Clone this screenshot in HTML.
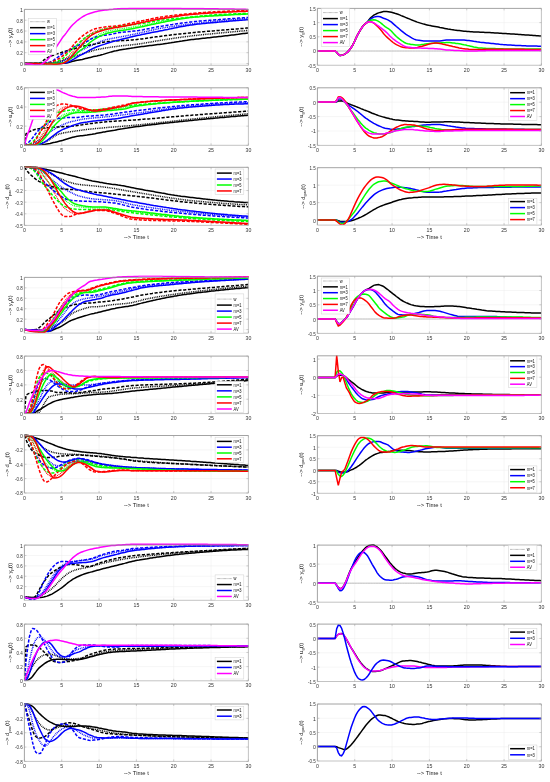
<!DOCTYPE html>
<html><head><meta charset="utf-8"><style>
html,body{margin:0;padding:0;background:#fff;width:550px;height:782px;overflow:hidden}
svg{display:block}
.gr{stroke:#ececec;stroke-width:0.5}
.bx{fill:none;stroke-width:0.8}
.tk{stroke:#a0a0a0;stroke-width:0.5}
.tl{font-family:"Liberation Sans", sans-serif;font-size:5.2px;fill:#333}
.yl{font-family:"Liberation Sans", sans-serif;font-size:5.9px;fill:#222}
.lg{fill:#fff;stroke:#d0d0d0;stroke-width:0.5}
.lt{font-family:"Liberation Sans", sans-serif;font-size:4.7px;fill:#111}
</style></head><body>
<svg width="550" height="782" viewBox="0 0 550 782">
<defs><clipPath id="c_G1L1"><rect x="24.40" y="7.40" width="224.00" height="57.90"/></clipPath><clipPath id="c_G1L2"><rect x="24.40" y="85.80" width="224.00" height="59.50"/></clipPath><clipPath id="c_G1L3"><rect x="24.40" y="165.30" width="224.00" height="60.10"/></clipPath><clipPath id="c_G1R1"><rect x="317.40" y="6.40" width="224.00" height="58.85"/></clipPath><clipPath id="c_G1R2"><rect x="317.40" y="85.80" width="224.00" height="59.60"/></clipPath><clipPath id="c_G1R3"><rect x="317.40" y="165.70" width="224.00" height="59.40"/></clipPath><clipPath id="c_G2L1"><rect x="24.40" y="275.40" width="224.00" height="57.70"/></clipPath><clipPath id="c_G2L2"><rect x="24.40" y="354.10" width="224.00" height="59.50"/></clipPath><clipPath id="c_G2L3"><rect x="24.40" y="433.50" width="224.00" height="59.50"/></clipPath><clipPath id="c_G2R1"><rect x="317.40" y="274.20" width="224.00" height="59.20"/></clipPath><clipPath id="c_G2R2"><rect x="317.40" y="353.80" width="224.00" height="59.70"/></clipPath><clipPath id="c_G2R3"><rect x="317.40" y="433.70" width="224.00" height="59.60"/></clipPath><clipPath id="c_G3L1"><rect x="24.40" y="543.10" width="224.00" height="57.20"/></clipPath><clipPath id="c_G3L2"><rect x="24.40" y="622.10" width="224.00" height="58.70"/></clipPath><clipPath id="c_G3L3"><rect x="24.40" y="702.00" width="224.00" height="59.40"/></clipPath><clipPath id="c_G3R1"><rect x="317.40" y="543.10" width="224.00" height="59.10"/></clipPath><clipPath id="c_G3R2"><rect x="317.40" y="622.10" width="224.00" height="59.40"/></clipPath><clipPath id="c_G3R3"><rect x="317.40" y="702.00" width="224.00" height="59.00"/></clipPath></defs>
<line x1="61.73" y1="9.40" x2="61.73" y2="65.30" class="gr"/>
<line x1="99.07" y1="9.40" x2="99.07" y2="65.30" class="gr"/>
<line x1="136.40" y1="9.40" x2="136.40" y2="65.30" class="gr"/>
<line x1="173.73" y1="9.40" x2="173.73" y2="65.30" class="gr"/>
<line x1="211.07" y1="9.40" x2="211.07" y2="65.30" class="gr"/>
<line x1="24.40" y1="63.50" x2="248.40" y2="63.50" class="gr"/>
<line x1="24.40" y1="52.68" x2="248.40" y2="52.68" class="gr"/>
<line x1="24.40" y1="41.86" x2="248.40" y2="41.86" class="gr"/>
<line x1="24.40" y1="31.04" x2="248.40" y2="31.04" class="gr"/>
<line x1="24.40" y1="20.22" x2="248.40" y2="20.22" class="gr"/>
<g clip-path="url(#c_G1L1)">
<polyline points="24.4,63.5 26.0,63.5 27.6,63.5 29.2,63.5 30.8,63.5 32.4,63.5 34.1,63.5 35.7,63.5 37.3,63.5 38.9,63.5 40.5,63.5 42.1,63.5 43.7,63.5 45.3,63.5 46.9,63.4 48.5,63.4 50.1,63.3 51.7,63.2 53.4,63.0 55.0,62.9 56.6,62.6 58.2,62.4 59.8,62.0 61.4,61.6 63.0,61.0 64.6,60.1 66.2,58.9 67.8,57.7 69.4,56.5 71.1,55.2 72.7,53.8 74.3,52.4 75.9,51.0 77.5,49.5 79.1,48.0 80.7,46.7 82.3,45.4 83.9,44.1 85.5,42.9 87.1,41.7 88.7,40.4 90.4,39.3 92.0,38.2 93.6,37.2 95.2,36.3 96.8,35.4 98.4,34.6 100.0,33.9 101.6,33.2 103.2,32.6 104.8,32.1 106.4,31.6 108.0,31.2 109.7,30.8 111.3,30.4 112.9,30.1 114.5,29.8 116.1,29.5 117.7,29.2 119.3,29.0 120.9,28.8 122.5,28.6 124.1,28.3 125.7,28.1 127.4,27.9 129.0,27.6 130.6,27.4 132.2,27.2 133.8,26.9 135.4,26.7 137.0,26.4 138.6,26.1 140.2,25.8 141.8,25.5 143.4,25.2 145.0,24.8 146.7,24.5 148.3,24.2 149.9,23.8 151.5,23.5 153.1,23.2 154.7,22.8 156.3,22.5 157.9,22.2 159.5,21.9 161.1,21.6 162.7,21.3 164.4,21.1 166.0,20.8 167.6,20.5 169.2,20.3 170.8,20.0 172.4,19.8 174.0,19.5 175.6,19.3 177.2,19.0 178.8,18.8 180.4,18.6 182.0,18.3 183.7,18.1 185.3,17.9 186.9,17.7 188.5,17.6 190.1,17.4 191.7,17.2 193.3,17.1 194.9,16.9 196.5,16.8 198.1,16.6 199.7,16.5 201.3,16.4 203.0,16.3 204.6,16.1 206.2,16.0 207.8,15.9 209.4,15.8 211.0,15.7 212.6,15.6 214.2,15.4 215.8,15.3 217.4,15.2 219.0,15.2 220.7,15.1 222.3,15.0 223.9,14.9 225.5,14.8 227.1,14.7 228.7,14.6 230.3,14.5 231.9,14.5 233.5,14.4 235.1,14.3 236.7,14.2 238.3,14.2 240.0,14.1 241.6,14.0 243.2,14.0 244.8,13.9 246.4,13.9 248.0,13.8" fill="none" stroke="#00ff00" stroke-width="1.20" stroke-dasharray="0.9,0.9"/>
<polyline points="24.4,63.5 26.0,63.5 27.6,63.5 29.2,63.5 30.8,63.5 32.4,63.5 34.1,63.5 35.7,63.6 37.3,63.6 38.9,63.6 40.5,63.6 42.1,63.6 43.7,63.6 45.3,63.6 46.9,63.5 48.5,63.5 50.1,63.4 51.7,63.3 53.4,63.0 55.0,62.7 56.6,62.4 58.2,62.0 59.8,61.6 61.4,61.0 63.0,60.2 64.6,59.2 66.2,58.0 67.8,56.7 69.4,55.2 71.1,53.4 72.7,51.6 74.3,49.6 75.9,47.7 77.5,45.9 79.1,44.2 80.7,42.5 82.3,41.0 83.9,39.4 85.5,37.8 87.1,36.4 88.7,35.1 90.4,33.9 92.0,32.9 93.6,32.1 95.2,31.4 96.8,30.8 98.4,30.3 100.0,29.8 101.6,29.4 103.2,29.0 104.8,28.6 106.4,28.3 108.0,28.0 109.7,27.8 111.3,27.5 112.9,27.3 114.5,27.1 116.1,26.9 117.7,26.7 119.3,26.4 120.9,26.2 122.5,25.9 124.1,25.6 125.7,25.3 127.4,25.0 129.0,24.6 130.6,24.3 132.2,23.9 133.8,23.5 135.4,23.2 137.0,22.9 138.6,22.5 140.2,22.2 141.8,21.8 143.4,21.5 145.0,21.1 146.7,20.8 148.3,20.5 149.9,20.1 151.5,19.8 153.1,19.5 154.7,19.2 156.3,18.9 157.9,18.6 159.5,18.3 161.1,18.0 162.7,17.8 164.4,17.5 166.0,17.3 167.6,17.0 169.2,16.8 170.8,16.6 172.4,16.3 174.0,16.1 175.6,15.9 177.2,15.7 178.8,15.4 180.4,15.2 182.0,15.0 183.7,14.9 185.3,14.7 186.9,14.5 188.5,14.3 190.1,14.2 191.7,14.0 193.3,13.9 194.9,13.8 196.5,13.6 198.1,13.5 199.7,13.4 201.3,13.3 203.0,13.1 204.6,13.0 206.2,12.9 207.8,12.8 209.4,12.7 211.0,12.6 212.6,12.5 214.2,12.4 215.8,12.3 217.4,12.2 219.0,12.1 220.7,12.1 222.3,12.0 223.9,11.9 225.5,11.8 227.1,11.8 228.7,11.7 230.3,11.6 231.9,11.5 233.5,11.5 235.1,11.4 236.7,11.3 238.3,11.3 240.0,11.2 241.6,11.2 243.2,11.1 244.8,11.1 246.4,11.0 248.0,11.0" fill="none" stroke="#ff0000" stroke-width="1.20" stroke-dasharray="0.9,0.9"/>
<polyline points="24.4,63.5 26.0,63.5 27.6,63.5 29.2,63.5 30.8,63.5 32.4,63.5 34.1,63.5 35.7,63.5 37.3,63.5 38.9,63.5 40.5,63.5 42.1,63.5 43.7,63.5 45.3,63.5 46.9,63.4 48.5,63.3 50.1,63.2 51.7,63.0 53.4,62.7 55.0,62.5 56.6,62.2 58.2,61.9 59.8,61.4 61.4,60.9 63.0,60.4 64.6,59.8 66.2,59.3 67.8,58.7 69.4,58.2 71.1,57.7 72.7,57.1 74.3,56.6 75.9,56.0 77.5,55.5 79.1,54.9 80.7,54.4 82.3,53.8 83.9,53.3 85.5,52.8 87.1,52.4 88.7,51.9 90.4,51.4 92.0,51.0 93.6,50.5 95.2,50.1 96.8,49.7 98.4,49.3 100.0,49.0 101.6,48.7 103.2,48.4 104.8,48.1 106.4,47.9 108.0,47.6 109.7,47.4 111.3,47.1 112.9,46.9 114.5,46.7 116.1,46.5 117.7,46.3 119.3,46.1 120.9,45.9 122.5,45.7 124.1,45.6 125.7,45.4 127.4,45.3 129.0,45.1 130.6,45.0 132.2,44.8 133.8,44.6 135.4,44.5 137.0,44.2 138.6,44.0 140.2,43.8 141.8,43.5 143.4,43.3 145.0,43.0 146.7,42.7 148.3,42.4 149.9,42.2 151.5,41.9 153.1,41.6 154.7,41.3 156.3,41.0 157.9,40.7 159.5,40.5 161.1,40.2 162.7,40.0 164.4,39.7 166.0,39.5 167.6,39.2 169.2,39.0 170.8,38.8 172.4,38.5 174.0,38.3 175.6,38.0 177.2,37.8 178.8,37.6 180.4,37.4 182.0,37.1 183.7,36.9 185.3,36.7 186.9,36.5 188.5,36.3 190.1,36.1 191.7,35.9 193.3,35.7 194.9,35.5 196.5,35.4 198.1,35.2 199.7,35.0 201.3,34.8 203.0,34.7 204.6,34.5 206.2,34.3 207.8,34.2 209.4,34.0 211.0,33.9 212.6,33.7 214.2,33.6 215.8,33.4 217.4,33.2 219.0,33.1 220.7,32.9 222.3,32.8 223.9,32.6 225.5,32.5 227.1,32.3 228.7,32.2 230.3,32.0 231.9,31.9 233.5,31.7 235.1,31.6 236.7,31.5 238.3,31.3 240.0,31.2 241.6,31.0 243.2,30.9 244.8,30.8 246.4,30.6 248.0,30.5" fill="none" stroke="#000000" stroke-width="1.50" stroke-dasharray="0.9,0.9"/>
<polyline points="24.4,63.5 26.0,63.5 27.6,63.5 29.2,63.5 30.8,63.5 32.4,63.5 34.1,63.5 35.7,63.5 37.3,63.5 38.9,63.5 40.5,63.5 42.1,63.5 43.7,63.5 45.3,63.5 46.9,63.5 48.5,63.5 50.1,63.5 51.7,63.4 53.4,63.3 55.0,63.0 56.6,62.8 58.2,62.5 59.8,62.1 61.4,61.5 63.0,60.9 64.6,60.2 66.2,59.4 67.8,58.6 69.4,57.6 71.1,56.6 72.7,55.6 74.3,54.5 75.9,53.4 77.5,52.4 79.1,51.5 80.7,50.6 82.3,49.8 83.9,49.0 85.5,48.2 87.1,47.5 88.7,46.7 90.4,46.0 92.0,45.3 93.6,44.6 95.2,43.9 96.8,43.2 98.4,42.5 100.0,41.8 101.6,41.1 103.2,40.6 104.8,40.0 106.4,39.6 108.0,39.2 109.7,38.9 111.3,38.6 112.9,38.3 114.5,38.0 116.1,37.7 117.7,37.4 119.3,37.1 120.9,36.8 122.5,36.5 124.1,36.2 125.7,35.9 127.4,35.5 129.0,35.2 130.6,34.9 132.2,34.6 133.8,34.3 135.4,33.9 137.0,33.6 138.6,33.2 140.2,32.9 141.8,32.5 143.4,32.1 145.0,31.7 146.7,31.4 148.3,31.0 149.9,30.6 151.5,30.2 153.1,29.9 154.7,29.5 156.3,29.2 157.9,28.9 159.5,28.5 161.1,28.2 162.7,28.0 164.4,27.7 166.0,27.4 167.6,27.2 169.2,26.9 170.8,26.7 172.4,26.4 174.0,26.2 175.6,26.0 177.2,25.7 178.8,25.5 180.4,25.3 182.0,25.1 183.7,24.9 185.3,24.7 186.9,24.5 188.5,24.3 190.1,24.1 191.7,23.9 193.3,23.7 194.9,23.5 196.5,23.4 198.1,23.2 199.7,23.0 201.3,22.8 203.0,22.6 204.6,22.5 206.2,22.3 207.8,22.1 209.4,21.9 211.0,21.8 212.6,21.6 214.2,21.4 215.8,21.3 217.4,21.1 219.0,20.9 220.7,20.8 222.3,20.6 223.9,20.5 225.5,20.3 227.1,20.2 228.7,20.0 230.3,19.9 231.9,19.7 233.5,19.6 235.1,19.5 236.7,19.3 238.3,19.2 240.0,19.1 241.6,19.0 243.2,18.8 244.8,18.7 246.4,18.6 248.0,18.5" fill="none" stroke="#0000ff" stroke-width="1.50" stroke-dasharray="0.9,0.9"/>
<polyline points="24.4,63.5 26.0,63.5 27.6,63.5 29.2,63.5 30.8,63.4 32.4,63.4 34.1,63.3 35.7,63.3 37.3,63.2 38.9,63.1 40.5,62.9 42.1,61.7 43.7,60.2 45.3,59.1 46.9,58.1 48.5,57.2 50.1,56.5 51.7,55.8 53.4,55.2 55.0,54.7 56.6,54.1 58.2,53.6 59.8,53.1 61.4,52.5 63.0,52.0 64.6,51.5 66.2,51.0 67.8,50.6 69.4,50.1 71.1,49.6 72.7,49.2 74.3,48.7 75.9,48.2 77.5,47.7 79.1,47.3 80.7,46.8 82.3,46.4 83.9,46.1 85.5,45.8 87.1,45.5 88.7,45.2 90.4,44.9 92.0,44.6 93.6,44.3 95.2,44.0 96.8,43.6 98.4,43.3 100.0,42.9 101.6,42.6 103.2,42.3 104.8,42.0 106.4,41.8 108.0,41.6 109.7,41.5 111.3,41.3 112.9,41.2 114.5,41.0 116.1,40.9 117.7,40.8 119.3,40.8 120.9,40.7 122.5,40.6 124.1,40.6 125.7,40.5 127.4,40.3 129.0,40.2 130.6,40.1 132.2,40.0 133.8,39.8 135.4,39.7 137.0,39.5 138.6,39.3 140.2,39.1 141.8,38.9 143.4,38.7 145.0,38.5 146.7,38.2 148.3,38.0 149.9,37.8 151.5,37.5 153.1,37.3 154.7,37.1 156.3,36.8 157.9,36.6 159.5,36.4 161.1,36.2 162.7,36.0 164.4,35.8 166.0,35.6 167.6,35.4 169.2,35.2 170.8,35.0 172.4,34.8 174.0,34.6 175.6,34.4 177.2,34.3 178.8,34.1 180.4,33.9 182.0,33.7 183.7,33.6 185.3,33.4 186.9,33.2 188.5,33.1 190.1,32.9 191.7,32.7 193.3,32.6 194.9,32.4 196.5,32.3 198.1,32.1 199.7,32.0 201.3,31.9 203.0,31.7 204.6,31.6 206.2,31.4 207.8,31.3 209.4,31.2 211.0,31.0 212.6,30.9 214.2,30.8 215.8,30.6 217.4,30.5 219.0,30.4 220.7,30.2 222.3,30.1 223.9,30.0 225.5,29.8 227.1,29.7 228.7,29.6 230.3,29.4 231.9,29.3 233.5,29.2 235.1,29.0 236.7,28.9 238.3,28.8 240.0,28.6 241.6,28.5 243.2,28.4 244.8,28.3 246.4,28.1 248.0,28.0" fill="none" stroke="#000000" stroke-width="1.50" stroke-dasharray="3.2,1.6"/>
<polyline points="24.4,63.5 26.0,63.5 27.6,63.5 29.2,63.5 30.8,63.5 32.4,63.5 34.1,63.5 35.7,63.5 37.3,63.5 38.9,63.5 40.5,63.5 42.1,63.5 43.7,63.4 45.3,63.2 46.9,62.8 48.5,62.4 50.1,62.0 51.7,61.3 53.4,60.3 55.0,59.2 56.6,58.1 58.2,56.9 59.8,55.6 61.4,54.4 63.0,53.4 64.6,52.7 66.2,51.9 67.8,51.0 69.4,49.9 71.1,48.7 72.7,47.7 74.3,46.9 75.9,46.2 77.5,45.6 79.1,45.0 80.7,44.3 82.3,43.7 83.9,43.0 85.5,42.2 87.1,41.3 88.7,40.3 90.4,39.3 92.0,38.5 93.6,37.9 95.2,37.3 96.8,36.8 98.4,36.4 100.0,36.0 101.6,35.7 103.2,35.4 104.8,35.2 106.4,35.0 108.0,34.8 109.7,34.6 111.3,34.3 112.9,33.9 114.5,33.6 116.1,33.2 117.7,32.9 119.3,32.6 120.9,32.4 122.5,32.2 124.1,32.0 125.7,31.9 127.4,31.7 129.0,31.6 130.6,31.5 132.2,31.3 133.8,31.1 135.4,30.9 137.0,30.7 138.6,30.5 140.2,30.2 141.8,29.9 143.4,29.7 145.0,29.3 146.7,29.0 148.3,28.7 149.9,28.4 151.5,28.1 153.1,27.7 154.7,27.4 156.3,27.1 157.9,26.8 159.5,26.5 161.1,26.2 162.7,26.0 164.4,25.7 166.0,25.5 167.6,25.2 169.2,25.0 170.8,24.7 172.4,24.5 174.0,24.2 175.6,24.0 177.2,23.7 178.8,23.5 180.4,23.3 182.0,23.1 183.7,22.9 185.3,22.7 186.9,22.5 188.5,22.3 190.1,22.1 191.7,21.9 193.3,21.8 194.9,21.6 196.5,21.4 198.1,21.3 199.7,21.1 201.3,21.0 203.0,20.9 204.6,20.7 206.2,20.6 207.8,20.5 209.4,20.3 211.0,20.2 212.6,20.1 214.2,19.9 215.8,19.8 217.4,19.7 219.0,19.6 220.7,19.4 222.3,19.3 223.9,19.2 225.5,19.1 227.1,19.0 228.7,18.8 230.3,18.7 231.9,18.6 233.5,18.5 235.1,18.4 236.7,18.3 238.3,18.1 240.0,18.0 241.6,17.9 243.2,17.8 244.8,17.7 246.4,17.6 248.0,17.5" fill="none" stroke="#0000ff" stroke-width="1.50" stroke-dasharray="3.2,1.6"/>
<polyline points="24.4,63.5 26.0,63.5 27.6,63.5 29.2,63.5 30.8,63.5 32.4,63.5 34.1,63.5 35.7,63.5 37.3,63.5 38.9,63.5 40.5,63.5 42.1,63.5 43.7,63.5 45.3,63.5 46.9,63.4 48.5,63.2 50.1,62.9 51.7,62.7 53.4,62.3 55.0,62.0 56.6,61.6 58.2,61.0 59.8,60.2 61.4,59.4 63.0,58.3 64.6,56.7 66.2,54.9 67.8,53.2 69.4,51.7 71.1,50.2 72.7,48.8 74.3,47.4 75.9,45.9 77.5,44.5 79.1,43.0 80.7,41.4 82.3,39.9 83.9,38.6 85.5,37.5 87.1,36.5 88.7,35.7 90.4,34.8 92.0,33.9 93.6,33.1 95.2,32.3 96.8,31.7 98.4,31.1 100.0,30.5 101.6,30.0 103.2,29.5 104.8,29.0 106.4,28.7 108.0,28.3 109.7,28.0 111.3,27.7 112.9,27.4 114.5,27.1 116.1,26.8 117.7,26.5 119.3,26.3 120.9,26.0 122.5,25.8 124.1,25.6 125.7,25.4 127.4,25.2 129.0,25.1 130.6,24.9 132.2,24.8 133.8,24.6 135.4,24.5 137.0,24.2 138.6,24.0 140.2,23.8 141.8,23.5 143.4,23.2 145.0,23.0 146.7,22.7 148.3,22.4 149.9,22.1 151.5,21.8 153.1,21.5 154.7,21.2 156.3,20.9 157.9,20.7 159.5,20.4 161.1,20.2 162.7,20.0 164.4,19.8 166.0,19.6 167.6,19.4 169.2,19.2 170.8,19.0 172.4,18.8 174.0,18.7 175.6,18.5 177.2,18.3 178.8,18.2 180.4,18.0 182.0,17.9 183.7,17.7 185.3,17.5 186.9,17.4 188.5,17.2 190.1,17.1 191.7,16.9 193.3,16.8 194.9,16.6 196.5,16.5 198.1,16.3 199.7,16.1 201.3,16.0 203.0,15.8 204.6,15.7 206.2,15.5 207.8,15.4 209.4,15.2 211.0,15.1 212.6,15.0 214.2,14.9 215.8,14.7 217.4,14.6 219.0,14.6 220.7,14.5 222.3,14.4 223.9,14.3 225.5,14.2 227.1,14.2 228.7,14.1 230.3,14.0 231.9,13.9 233.5,13.9 235.1,13.8 236.7,13.8 238.3,13.7 240.0,13.7 241.6,13.6 243.2,13.6 244.8,13.5 246.4,13.5 248.0,13.5" fill="none" stroke="#00ff00" stroke-width="1.50" stroke-dasharray="3.2,1.6"/>
<polyline points="24.4,63.5 26.0,63.5 27.6,63.5 29.2,63.5 30.8,63.5 32.4,63.5 34.1,63.5 35.7,63.5 37.3,63.5 38.9,63.5 40.5,63.5 42.1,63.4 43.7,63.3 45.3,63.2 46.9,63.0 48.5,62.7 50.1,62.5 51.7,62.0 53.4,61.3 55.0,60.5 56.6,59.8 58.2,59.0 59.8,58.1 61.4,57.0 63.0,55.7 64.6,54.3 66.2,52.8 67.8,51.3 69.4,49.7 71.1,47.9 72.7,46.0 74.3,44.0 75.9,42.1 77.5,40.5 79.1,38.9 80.7,37.5 82.3,36.1 83.9,34.9 85.5,33.8 87.1,32.7 88.7,31.7 90.4,30.8 92.0,29.9 93.6,29.3 95.2,28.8 96.8,28.4 98.4,28.0 100.0,27.7 101.6,27.4 103.2,27.2 104.8,27.0 106.4,26.8 108.0,26.6 109.7,26.4 111.3,26.3 112.9,26.2 114.5,26.1 116.1,25.9 117.7,25.7 119.3,25.4 120.9,25.2 122.5,24.9 124.1,24.6 125.7,24.3 127.4,24.0 129.0,23.6 130.6,23.2 132.2,22.9 133.8,22.5 135.4,22.1 137.0,21.8 138.6,21.4 140.2,21.1 141.8,20.7 143.4,20.4 145.0,20.0 146.7,19.7 148.3,19.4 149.9,19.0 151.5,18.7 153.1,18.4 154.7,18.1 156.3,17.8 157.9,17.5 159.5,17.3 161.1,17.0 162.7,16.8 164.4,16.5 166.0,16.3 167.6,16.1 169.2,15.9 170.8,15.7 172.4,15.5 174.0,15.3 175.6,15.1 177.2,14.9 178.8,14.7 180.4,14.5 182.0,14.4 183.7,14.2 185.3,14.0 186.9,13.9 188.5,13.7 190.1,13.6 191.7,13.4 193.3,13.3 194.9,13.2 196.5,13.0 198.1,12.9 199.7,12.8 201.3,12.7 203.0,12.5 204.6,12.4 206.2,12.3 207.8,12.2 209.4,12.1 211.0,12.0 212.6,11.9 214.2,11.8 215.8,11.7 217.4,11.6 219.0,11.5 220.7,11.5 222.3,11.4 223.9,11.3 225.5,11.3 227.1,11.2 228.7,11.1 230.3,11.0 231.9,11.0 233.5,10.9 235.1,10.9 236.7,10.8 238.3,10.8 240.0,10.7 241.6,10.7 243.2,10.6 244.8,10.6 246.4,10.5 248.0,10.5" fill="none" stroke="#ff0000" stroke-width="1.50" stroke-dasharray="3.2,1.6"/>
<polyline points="24.4,63.5 26.0,63.5 27.6,63.5 29.2,63.5 30.8,63.5 32.4,63.5 34.1,63.5 35.7,63.5 37.3,63.5 38.9,63.5 40.5,63.5 42.1,63.5 43.7,63.5 45.3,63.5 46.9,63.5 48.5,63.5 50.1,63.5 51.7,63.5 53.4,63.5 55.0,63.5 56.6,63.5 58.2,63.4 59.8,63.4 61.4,63.4 63.0,63.3 64.6,63.3 66.2,63.1 67.8,62.7 69.4,62.3 71.1,61.8 72.7,61.3 74.3,60.9 75.9,60.6 77.5,60.3 79.1,60.0 80.7,59.7 82.3,59.4 83.9,59.0 85.5,58.6 87.1,58.2 88.7,57.8 90.4,57.4 92.0,57.0 93.6,56.6 95.2,56.3 96.8,56.0 98.4,55.6 100.0,55.3 101.6,54.8 103.2,54.4 104.8,53.9 106.4,53.4 108.0,52.9 109.7,52.4 111.3,51.9 112.9,51.5 114.5,51.1 116.1,50.8 117.7,50.4 119.3,50.1 120.9,49.8 122.5,49.5 124.1,49.2 125.7,49.0 127.4,48.7 129.0,48.4 130.6,48.2 132.2,47.9 133.8,47.7 135.4,47.4 137.0,47.2 138.6,47.0 140.2,46.8 141.8,46.6 143.4,46.4 145.0,46.2 146.7,46.0 148.3,45.8 149.9,45.6 151.5,45.4 153.1,45.2 154.7,45.0 156.3,44.8 157.9,44.6 159.5,44.4 161.1,44.2 162.7,44.0 164.4,43.7 166.0,43.5 167.6,43.3 169.2,43.0 170.8,42.8 172.4,42.5 174.0,42.3 175.6,42.0 177.2,41.7 178.8,41.5 180.4,41.2 182.0,41.0 183.7,40.7 185.3,40.5 186.9,40.3 188.5,40.0 190.1,39.8 191.7,39.6 193.3,39.4 194.9,39.2 196.5,39.0 198.1,38.9 199.7,38.7 201.3,38.5 203.0,38.3 204.6,38.2 206.2,38.0 207.8,37.8 209.4,37.7 211.0,37.5 212.6,37.3 214.2,37.1 215.8,37.0 217.4,36.8 219.0,36.6 220.7,36.4 222.3,36.2 223.9,36.0 225.5,35.8 227.1,35.7 228.7,35.5 230.3,35.3 231.9,35.1 233.5,34.9 235.1,34.7 236.7,34.5 238.3,34.3 240.0,34.0 241.6,33.8 243.2,33.6 244.8,33.4 246.4,33.2 248.0,33.0" fill="none" stroke="#000000" stroke-width="1.50" />
<polyline points="24.4,63.5 26.0,63.5 27.6,63.5 29.2,63.5 30.8,63.5 32.4,63.5 34.1,63.5 35.7,63.5 37.3,63.5 38.9,63.5 40.5,63.5 42.1,63.5 43.7,63.5 45.3,63.5 46.9,63.5 48.5,63.5 50.1,63.5 51.7,63.5 53.4,63.5 55.0,63.5 56.6,63.5 58.2,63.4 59.8,63.4 61.4,63.3 63.0,63.2 64.6,63.0 66.2,62.8 67.8,62.3 69.4,61.5 71.1,60.6 72.7,59.7 74.3,58.9 75.9,57.9 77.5,56.9 79.1,55.9 80.7,55.1 82.3,54.4 83.9,53.5 85.5,52.6 87.1,51.6 88.7,50.6 90.4,49.8 92.0,49.0 93.6,48.2 95.2,47.5 96.8,46.8 98.4,46.2 100.0,45.6 101.6,45.1 103.2,44.6 104.8,44.1 106.4,43.5 108.0,43.0 109.7,42.5 111.3,42.1 112.9,41.6 114.5,41.1 116.1,40.7 117.7,40.3 119.3,39.9 120.9,39.5 122.5,39.1 124.1,38.7 125.7,38.3 127.4,37.9 129.0,37.5 130.6,37.1 132.2,36.7 133.8,36.3 135.4,35.9 137.0,35.6 138.6,35.2 140.2,34.9 141.8,34.5 143.4,34.2 145.0,33.9 146.7,33.6 148.3,33.2 149.9,32.9 151.5,32.6 153.1,32.3 154.7,32.0 156.3,31.7 157.9,31.4 159.5,31.1 161.1,30.8 162.7,30.5 164.4,30.1 166.0,29.8 167.6,29.5 169.2,29.1 170.8,28.8 172.4,28.4 174.0,28.1 175.6,27.8 177.2,27.4 178.8,27.1 180.4,26.8 182.0,26.5 183.7,26.2 185.3,25.9 186.9,25.6 188.5,25.4 190.1,25.1 191.7,24.9 193.3,24.7 194.9,24.5 196.5,24.3 198.1,24.1 199.7,23.9 201.3,23.8 203.0,23.6 204.6,23.4 206.2,23.3 207.8,23.1 209.4,23.0 211.0,22.8 212.6,22.7 214.2,22.5 215.8,22.4 217.4,22.2 219.0,22.1 220.7,21.9 222.3,21.8 223.9,21.7 225.5,21.5 227.1,21.4 228.7,21.2 230.3,21.1 231.9,21.0 233.5,20.8 235.1,20.7 236.7,20.6 238.3,20.4 240.0,20.3 241.6,20.2 243.2,20.1 244.8,19.9 246.4,19.8 248.0,19.7" fill="none" stroke="#0000ff" stroke-width="1.50" />
<polyline points="24.4,63.5 26.0,63.5 27.6,63.5 29.2,63.5 30.8,63.5 32.4,63.5 34.1,63.5 35.7,63.5 37.3,63.5 38.9,63.5 40.5,63.5 42.1,63.5 43.7,63.5 45.3,63.5 46.9,63.5 48.5,63.5 50.1,63.5 51.7,63.5 53.4,63.5 55.0,63.4 56.6,63.3 58.2,63.3 59.8,63.2 61.4,63.0 63.0,62.8 64.6,62.3 66.2,61.6 67.8,60.7 69.4,59.7 71.1,58.5 72.7,57.2 74.3,55.8 75.9,54.3 77.5,52.8 79.1,51.4 80.7,50.2 82.3,49.0 83.9,47.9 85.5,46.6 87.1,45.1 88.7,43.6 90.4,42.2 92.0,41.0 93.6,39.9 95.2,38.9 96.8,37.9 98.4,37.0 100.0,36.2 101.6,35.4 103.2,34.7 104.8,34.1 106.4,33.5 108.0,33.1 109.7,32.7 111.3,32.3 112.9,31.9 114.5,31.6 116.1,31.3 117.7,31.0 119.3,30.8 120.9,30.6 122.5,30.4 124.1,30.1 125.7,29.9 127.4,29.6 129.0,29.3 130.6,29.0 132.2,28.7 133.8,28.4 135.4,28.1 137.0,27.8 138.6,27.5 140.2,27.1 141.8,26.8 143.4,26.4 145.0,26.1 146.7,25.7 148.3,25.3 149.9,25.0 151.5,24.6 153.1,24.3 154.7,23.9 156.3,23.6 157.9,23.2 159.5,22.9 161.1,22.6 162.7,22.3 164.4,21.9 166.0,21.6 167.6,21.3 169.2,21.0 170.8,20.7 172.4,20.4 174.0,20.1 175.6,19.8 177.2,19.5 178.8,19.2 180.4,18.9 182.0,18.7 183.7,18.4 185.3,18.2 186.9,18.0 188.5,17.8 190.1,17.6 191.7,17.4 193.3,17.3 194.9,17.1 196.5,17.0 198.1,16.9 199.7,16.8 201.3,16.6 203.0,16.5 204.6,16.4 206.2,16.3 207.8,16.2 209.4,16.1 211.0,16.0 212.6,15.9 214.2,15.8 215.8,15.7 217.4,15.7 219.0,15.6 220.7,15.5 222.3,15.4 223.9,15.3 225.5,15.2 227.1,15.1 228.7,15.0 230.3,14.9 231.9,14.8 233.5,14.7 235.1,14.6 236.7,14.6 238.3,14.5 240.0,14.4 241.6,14.3 243.2,14.2 244.8,14.2 246.4,14.1 248.0,14.0" fill="none" stroke="#00ff00" stroke-width="1.50" />
<polyline points="24.4,63.5 26.0,63.5 27.6,63.5 29.2,63.5 30.8,63.5 32.4,63.6 34.1,63.6 35.7,63.6 37.3,63.6 38.9,63.7 40.5,63.7 42.1,63.7 43.7,63.8 45.3,63.8 46.9,63.9 48.5,63.9 50.1,64.0 51.7,64.1 53.4,64.2 55.0,64.2 56.6,64.2 58.2,64.0 59.8,63.8 61.4,63.6 63.0,63.2 64.6,62.5 66.2,61.5 67.8,60.4 69.4,58.8 71.1,57.1 72.7,55.3 74.3,53.3 75.9,51.3 77.5,49.4 79.1,47.7 80.7,45.9 82.3,44.2 83.9,42.3 85.5,40.5 87.1,38.9 88.7,37.3 90.4,36.0 92.0,34.9 93.6,34.0 95.2,33.2 96.8,32.4 98.4,31.8 100.0,31.2 101.6,30.7 103.2,30.2 104.8,29.8 106.4,29.4 108.0,29.0 109.7,28.7 111.3,28.4 112.9,28.1 114.5,27.8 116.1,27.6 117.7,27.4 119.3,27.1 120.9,26.8 122.5,26.6 124.1,26.3 125.7,25.9 127.4,25.6 129.0,25.3 130.6,25.0 132.2,24.6 133.8,24.3 135.4,23.9 137.0,23.6 138.6,23.2 140.2,22.9 141.8,22.6 143.4,22.2 145.0,21.9 146.7,21.5 148.3,21.2 149.9,20.9 151.5,20.5 153.1,20.2 154.7,19.9 156.3,19.6 157.9,19.3 159.5,19.0 161.1,18.7 162.7,18.5 164.4,18.2 166.0,17.9 167.6,17.7 169.2,17.4 170.8,17.2 172.4,16.9 174.0,16.7 175.6,16.4 177.2,16.2 178.8,15.9 180.4,15.7 182.0,15.5 183.7,15.3 185.3,15.1 186.9,14.9 188.5,14.7 190.1,14.6 191.7,14.4 193.3,14.3 194.9,14.2 196.5,14.0 198.1,13.9 199.7,13.8 201.3,13.6 203.0,13.5 204.6,13.4 206.2,13.3 207.8,13.2 209.4,13.1 211.0,13.0 212.6,12.9 214.2,12.8 215.8,12.7 217.4,12.6 219.0,12.6 220.7,12.5 222.3,12.4 223.9,12.3 225.5,12.2 227.1,12.1 228.7,12.1 230.3,12.0 231.9,11.9 233.5,11.8 235.1,11.8 236.7,11.7 238.3,11.6 240.0,11.6 241.6,11.5 243.2,11.5 244.8,11.4 246.4,11.3 248.0,11.3" fill="none" stroke="#ff0000" stroke-width="1.50" />
<polyline points="24.4,63.5 26.0,63.7 27.6,63.9 29.2,64.1 30.8,64.3 32.5,64.6 34.1,64.9 35.7,65.0 37.3,65.0 38.9,64.9 40.5,64.7 42.1,63.9 43.7,62.7 45.3,61.5 47.0,60.1 48.6,58.4 50.2,56.4 51.8,54.1 53.4,51.7 55.0,49.2 56.6,46.6 58.2,44.1 59.9,41.7 61.5,39.1 63.1,36.8 64.7,35.0 66.3,32.9 67.9,30.6 69.5,28.5 71.1,26.6 72.7,24.8 74.4,23.2 76.0,21.7 77.6,20.3 79.2,19.1 80.8,18.0 82.4,16.9 84.0,16.0 85.6,15.2 87.2,14.4 88.9,13.8 90.5,13.2 92.1,12.7 93.7,12.2 95.3,11.8 96.9,11.4 98.5,11.1 100.1,10.8 101.8,10.6 103.4,10.3 105.0,10.1 106.6,9.9 108.2,9.8 109.8,9.6 111.4,9.4 113.0,9.3 114.6,9.1 116.3,9.0 117.9,8.8 119.5,8.7 121.1,8.6 122.7,8.6 124.3,8.5 125.9,8.4 127.5,8.4 129.1,8.3 130.8,8.3 132.4,8.2 134.0,8.2 135.6,8.2 137.2,8.2 138.8,8.2 140.4,8.2 142.0,8.2 143.7,8.2 145.3,8.2 146.9,8.2 148.5,8.2 150.1,8.2 151.7,8.2 153.3,8.2 154.9,8.2 156.5,8.2 158.2,8.2 159.8,8.2 161.4,8.2 163.0,8.2 164.6,8.2 166.2,8.2 167.8,8.2 169.4,8.2 171.0,8.2 172.7,8.3 174.3,8.3 175.9,8.3 177.5,8.3 179.1,8.3 180.7,8.3 182.3,8.4 183.9,8.4 185.6,8.4 187.2,8.4 188.8,8.5 190.4,8.5 192.0,8.5 193.6,8.5 195.2,8.5 196.8,8.6 198.4,8.6 200.1,8.6 201.7,8.6 203.3,8.6 204.9,8.7 206.5,8.7 208.1,8.7 209.7,8.7 211.3,8.8 212.9,8.8 214.6,8.8 216.2,8.8 217.8,8.8 219.4,8.9 221.0,8.9 222.6,8.9 224.2,9.0 225.8,9.0 227.5,9.0 229.1,9.0 230.7,9.1 232.3,9.1 233.9,9.1 235.5,9.2 237.1,9.2 238.7,9.2 240.3,9.2 242.0,9.3 243.6,9.3 245.2,9.3 246.8,9.4 248.4,9.4" fill="none" stroke="#ff00ff" stroke-width="1.50" />
</g>
<path d="M24.40 65.30V9.40H248.40" class="bx" stroke="#8c8c8c"/>
<path d="M248.40 9.40V65.30H24.40" class="bx" stroke="#b4b4b4"/>
<line x1="24.40" y1="65.30" x2="24.40" y2="63.30" class="tk"/>
<line x1="24.40" y1="9.40" x2="24.40" y2="11.40" class="tk"/>
<text x="24.40" y="71.90" class="tl" text-anchor="middle">0</text>
<line x1="61.73" y1="65.30" x2="61.73" y2="63.30" class="tk"/>
<line x1="61.73" y1="9.40" x2="61.73" y2="11.40" class="tk"/>
<text x="61.73" y="71.90" class="tl" text-anchor="middle">5</text>
<line x1="99.07" y1="65.30" x2="99.07" y2="63.30" class="tk"/>
<line x1="99.07" y1="9.40" x2="99.07" y2="11.40" class="tk"/>
<text x="99.07" y="71.90" class="tl" text-anchor="middle">10</text>
<line x1="136.40" y1="65.30" x2="136.40" y2="63.30" class="tk"/>
<line x1="136.40" y1="9.40" x2="136.40" y2="11.40" class="tk"/>
<text x="136.40" y="71.90" class="tl" text-anchor="middle">15</text>
<line x1="173.73" y1="65.30" x2="173.73" y2="63.30" class="tk"/>
<line x1="173.73" y1="9.40" x2="173.73" y2="11.40" class="tk"/>
<text x="173.73" y="71.90" class="tl" text-anchor="middle">20</text>
<line x1="211.07" y1="65.30" x2="211.07" y2="63.30" class="tk"/>
<line x1="211.07" y1="9.40" x2="211.07" y2="11.40" class="tk"/>
<text x="211.07" y="71.90" class="tl" text-anchor="middle">25</text>
<line x1="248.40" y1="65.30" x2="248.40" y2="63.30" class="tk"/>
<line x1="248.40" y1="9.40" x2="248.40" y2="11.40" class="tk"/>
<text x="248.40" y="71.90" class="tl" text-anchor="middle">30</text>
<line x1="24.40" y1="63.50" x2="26.40" y2="63.50" class="tk"/>
<line x1="248.40" y1="63.50" x2="246.40" y2="63.50" class="tk"/>
<text x="22.80" y="65.90" class="tl" text-anchor="end">0</text>
<line x1="24.40" y1="52.68" x2="26.40" y2="52.68" class="tk"/>
<line x1="248.40" y1="52.68" x2="246.40" y2="52.68" class="tk"/>
<text transform="translate(22.80,55.08) scale(0.87,1)" class="tl" text-anchor="end">0.2</text>
<line x1="24.40" y1="41.86" x2="26.40" y2="41.86" class="tk"/>
<line x1="248.40" y1="41.86" x2="246.40" y2="41.86" class="tk"/>
<text transform="translate(22.80,44.26) scale(0.87,1)" class="tl" text-anchor="end">0.4</text>
<line x1="24.40" y1="31.04" x2="26.40" y2="31.04" class="tk"/>
<line x1="248.40" y1="31.04" x2="246.40" y2="31.04" class="tk"/>
<text transform="translate(22.80,33.44) scale(0.87,1)" class="tl" text-anchor="end">0.6</text>
<line x1="24.40" y1="20.22" x2="26.40" y2="20.22" class="tk"/>
<line x1="248.40" y1="20.22" x2="246.40" y2="20.22" class="tk"/>
<text transform="translate(22.80,22.62) scale(0.87,1)" class="tl" text-anchor="end">0.8</text>
<line x1="24.40" y1="9.40" x2="26.40" y2="9.40" class="tk"/>
<line x1="248.40" y1="9.40" x2="246.40" y2="9.40" class="tk"/>
<text x="22.80" y="11.80" class="tl" text-anchor="end">1</text>
<text transform="translate(11.80,37.35) rotate(-90)" class="yl" text-anchor="middle">--&gt; y<tspan dy="1.6" font-size="4.2">p</tspan><tspan dy="-1.6">(t)</tspan></text>
<rect x="28.30" y="18.30" width="28.20" height="36.50" class="lg"/>
<line x1="30.00" y1="21.70" x2="45.40" y2="21.70" stroke="#9a9a9a" stroke-width="0.9" stroke-dasharray="0.7,0.5"/>
<text transform="translate(47.00,23.45) scale(0.86,1)" class="lt">w</text>
<line x1="30.00" y1="27.68" x2="45.40" y2="27.68" stroke="#000000" stroke-width="1.5"/>
<text transform="translate(47.00,29.43) scale(0.86,1)" class="lt">m=1</text>
<line x1="30.00" y1="33.66" x2="45.40" y2="33.66" stroke="#0000ff" stroke-width="1.5"/>
<text transform="translate(47.00,35.41) scale(0.86,1)" class="lt">m=3</text>
<line x1="30.00" y1="39.64" x2="45.40" y2="39.64" stroke="#00ff00" stroke-width="1.5"/>
<text transform="translate(47.00,41.39) scale(0.86,1)" class="lt">m=5</text>
<line x1="30.00" y1="45.62" x2="45.40" y2="45.62" stroke="#ff0000" stroke-width="1.5"/>
<text transform="translate(47.00,47.37) scale(0.86,1)" class="lt">m=7</text>
<line x1="30.00" y1="51.60" x2="45.40" y2="51.60" stroke="#ff00ff" stroke-width="1.5"/>
<text transform="translate(47.00,53.35) scale(0.86,1)" class="lt">AV</text>
<line x1="61.73" y1="87.80" x2="61.73" y2="145.30" class="gr"/>
<line x1="99.07" y1="87.80" x2="99.07" y2="145.30" class="gr"/>
<line x1="136.40" y1="87.80" x2="136.40" y2="145.30" class="gr"/>
<line x1="173.73" y1="87.80" x2="173.73" y2="145.30" class="gr"/>
<line x1="211.07" y1="87.80" x2="211.07" y2="145.30" class="gr"/>
<line x1="24.40" y1="126.13" x2="248.40" y2="126.13" class="gr"/>
<line x1="24.40" y1="106.97" x2="248.40" y2="106.97" class="gr"/>
<g clip-path="url(#c_G1L2)">
<polyline points="24.4,145.3 26.0,145.2 27.6,145.1 29.2,144.9 30.8,144.6 32.4,144.0 34.1,143.2 35.7,142.2 37.3,141.0 38.9,139.6 40.5,138.0 42.1,136.1 43.7,134.1 45.3,132.2 46.9,130.3 48.5,128.3 50.1,126.3 51.7,124.3 53.4,122.4 55.0,120.7 56.6,119.2 58.2,118.1 59.8,117.0 61.4,116.0 63.0,115.1 64.6,114.4 66.2,113.7 67.8,113.2 69.4,112.7 71.1,112.3 72.7,112.0 74.3,111.8 75.9,111.7 77.5,111.6 79.1,111.6 80.7,111.6 82.3,111.7 83.9,111.7 85.5,111.7 87.1,111.6 88.7,111.6 90.4,111.5 92.0,111.3 93.6,111.2 95.2,111.1 96.8,111.0 98.4,110.8 100.0,110.6 101.6,110.4 103.2,110.3 104.8,110.1 106.4,110.0 108.0,109.8 109.7,109.6 111.3,109.5 112.9,109.3 114.5,109.1 116.1,108.9 117.7,108.7 119.3,108.5 120.9,108.3 122.5,108.1 124.1,107.9 125.7,107.6 127.4,107.2 129.0,106.9 130.6,106.5 132.2,106.2 133.8,105.9 135.4,105.7 137.0,105.5 138.6,105.3 140.2,105.2 141.8,105.0 143.4,104.8 145.0,104.6 146.7,104.5 148.3,104.3 149.9,104.1 151.5,104.0 153.1,103.8 154.7,103.7 156.3,103.6 157.9,103.4 159.5,103.3 161.1,103.2 162.7,103.0 164.4,102.9 166.0,102.8 167.6,102.7 169.2,102.6 170.8,102.5 172.4,102.4 174.0,102.3 175.6,102.2 177.2,102.1 178.8,102.0 180.4,101.9 182.0,101.8 183.7,101.7 185.3,101.6 186.9,101.5 188.5,101.4 190.1,101.3 191.7,101.3 193.3,101.2 194.9,101.1 196.5,101.0 198.1,100.9 199.7,100.9 201.3,100.8 203.0,100.7 204.6,100.6 206.2,100.6 207.8,100.5 209.4,100.4 211.0,100.3 212.6,100.3 214.2,100.2 215.8,100.1 217.4,100.1 219.0,100.0 220.7,100.0 222.3,99.9 223.9,99.8 225.5,99.8 227.1,99.7 228.7,99.7 230.3,99.6 231.9,99.6 233.5,99.5 235.1,99.5 236.7,99.4 238.3,99.4 240.0,99.4 241.6,99.3 243.2,99.3 244.8,99.3 246.4,99.2 248.0,99.2" fill="none" stroke="#00ff00" stroke-width="1.20" stroke-dasharray="0.9,0.9"/>
<polyline points="24.4,145.3 26.0,145.3 27.6,145.3 29.2,145.2 30.8,145.1 32.4,144.6 34.1,143.8 35.7,142.7 37.3,140.9 38.9,139.1 40.5,137.1 42.1,134.8 43.7,132.5 45.3,129.8 46.9,126.9 48.5,124.0 50.1,121.2 51.7,118.5 53.4,116.0 55.0,114.1 56.6,112.3 58.2,110.9 59.8,109.7 61.4,108.6 63.0,107.7 64.6,107.1 66.2,106.6 67.8,106.2 69.4,106.0 71.1,106.0 72.7,106.0 74.3,106.2 75.9,106.5 77.5,106.9 79.1,107.2 80.7,107.7 82.3,108.2 83.9,108.6 85.5,109.0 87.1,109.4 88.7,109.8 90.4,110.2 92.0,110.5 93.6,110.6 95.2,110.6 96.8,110.5 98.4,110.3 100.0,110.1 101.6,109.9 103.2,109.7 104.8,109.5 106.4,109.2 108.0,108.9 109.7,108.5 111.3,108.2 112.9,107.8 114.5,107.5 116.1,107.2 117.7,106.9 119.3,106.6 120.9,106.3 122.5,105.9 124.1,105.6 125.7,105.2 127.4,104.7 129.0,104.2 130.6,103.7 132.2,103.3 133.8,103.0 135.4,102.8 137.0,102.6 138.6,102.5 140.2,102.3 141.8,102.1 143.4,102.0 145.0,101.8 146.7,101.7 148.3,101.5 149.9,101.4 151.5,101.3 153.1,101.2 154.7,101.0 156.3,100.9 157.9,100.8 159.5,100.7 161.1,100.6 162.7,100.5 164.4,100.4 166.0,100.3 167.6,100.2 169.2,100.2 170.8,100.1 172.4,100.0 174.0,99.9 175.6,99.8 177.2,99.8 178.8,99.7 180.4,99.6 182.0,99.6 183.7,99.5 185.3,99.4 186.9,99.4 188.5,99.3 190.1,99.2 191.7,99.2 193.3,99.1 194.9,99.0 196.5,99.0 198.1,98.9 199.7,98.8 201.3,98.8 203.0,98.7 204.6,98.7 206.2,98.6 207.8,98.5 209.4,98.5 211.0,98.4 212.6,98.4 214.2,98.3 215.8,98.3 217.4,98.2 219.0,98.2 220.7,98.1 222.3,98.1 223.9,98.0 225.5,98.0 227.1,97.9 228.7,97.9 230.3,97.8 231.9,97.8 233.5,97.8 235.1,97.7 236.7,97.7 238.3,97.6 240.0,97.6 241.6,97.6 243.2,97.6 244.8,97.5 246.4,97.5 248.0,97.5" fill="none" stroke="#ff0000" stroke-width="1.20" stroke-dasharray="0.9,0.9"/>
<polyline points="24.4,145.3 26.0,145.3 27.6,145.3 29.2,145.2 30.8,145.2 32.4,145.1 34.1,145.0 35.7,144.9 37.3,144.7 38.9,144.3 40.5,143.7 42.1,143.1 43.7,142.5 45.3,141.9 46.9,141.1 48.5,140.2 50.1,139.1 51.7,138.0 53.4,136.9 55.0,135.9 56.6,135.0 58.2,134.3 59.8,133.8 61.4,133.4 63.0,133.0 64.6,132.7 66.2,132.5 67.8,132.2 69.4,131.9 71.1,131.7 72.7,131.4 74.3,131.2 75.9,130.9 77.5,130.7 79.1,130.5 80.7,130.3 82.3,130.0 83.9,129.8 85.5,129.6 87.1,129.4 88.7,129.3 90.4,129.1 92.0,128.9 93.6,128.8 95.2,128.6 96.8,128.5 98.4,128.3 100.0,128.2 101.6,128.0 103.2,127.9 104.8,127.7 106.4,127.6 108.0,127.4 109.7,127.3 111.3,127.2 112.9,127.0 114.5,126.9 116.1,126.8 117.7,126.7 119.3,126.5 120.9,126.4 122.5,126.3 124.1,126.1 125.7,126.0 127.4,125.9 129.0,125.7 130.6,125.6 132.2,125.5 133.8,125.3 135.4,125.2 137.0,125.0 138.6,124.9 140.2,124.7 141.8,124.5 143.4,124.4 145.0,124.2 146.7,124.0 148.3,123.9 149.9,123.7 151.5,123.5 153.1,123.4 154.7,123.2 156.3,123.0 157.9,122.8 159.5,122.6 161.1,122.5 162.7,122.3 164.4,122.1 166.0,121.9 167.6,121.7 169.2,121.6 170.8,121.4 172.4,121.2 174.0,121.0 175.6,120.8 177.2,120.7 178.8,120.5 180.4,120.3 182.0,120.1 183.7,120.0 185.3,119.8 186.9,119.6 188.5,119.5 190.1,119.3 191.7,119.1 193.3,119.0 194.9,118.8 196.5,118.6 198.1,118.5 199.7,118.3 201.3,118.2 203.0,118.0 204.6,117.9 206.2,117.7 207.8,117.5 209.4,117.4 211.0,117.2 212.6,117.1 214.2,116.9 215.8,116.8 217.4,116.6 219.0,116.5 220.7,116.3 222.3,116.2 223.9,116.0 225.5,115.9 227.1,115.7 228.7,115.6 230.3,115.4 231.9,115.3 233.5,115.1 235.1,115.0 236.7,114.8 238.3,114.7 240.0,114.5 241.6,114.4 243.2,114.2 244.8,114.1 246.4,113.9 248.0,113.8" fill="none" stroke="#000000" stroke-width="1.50" stroke-dasharray="0.9,0.9"/>
<polyline points="24.4,145.3 26.0,145.3 27.6,145.1 29.2,144.9 30.8,144.7 32.4,144.4 34.1,143.8 35.7,142.9 37.3,141.9 38.9,140.8 40.5,139.7 42.1,138.5 43.7,137.1 45.3,135.8 46.9,134.4 48.5,133.1 50.1,131.9 51.7,130.8 53.4,129.8 55.0,128.8 56.6,127.8 58.2,126.9 59.8,126.1 61.4,125.3 63.0,124.6 64.6,123.9 66.2,123.3 67.8,122.7 69.4,122.2 71.1,121.7 72.7,121.3 74.3,121.0 75.9,120.6 77.5,120.3 79.1,120.0 80.7,119.6 82.3,119.3 83.9,119.0 85.5,118.8 87.1,118.6 88.7,118.4 90.4,118.2 92.0,118.1 93.6,117.9 95.2,117.8 96.8,117.7 98.4,117.5 100.0,117.4 101.6,117.2 103.2,117.1 104.8,116.9 106.4,116.7 108.0,116.6 109.7,116.4 111.3,116.2 112.9,116.0 114.5,115.8 116.1,115.6 117.7,115.5 119.3,115.3 120.9,115.1 122.5,114.9 124.1,114.7 125.7,114.5 127.4,114.3 129.0,114.1 130.6,113.9 132.2,113.7 133.8,113.5 135.4,113.3 137.0,113.1 138.6,112.9 140.2,112.7 141.8,112.5 143.4,112.2 145.0,112.0 146.7,111.8 148.3,111.6 149.9,111.3 151.5,111.1 153.1,110.8 154.7,110.6 156.3,110.4 157.9,110.1 159.5,109.9 161.1,109.6 162.7,109.4 164.4,109.2 166.0,108.9 167.6,108.7 169.2,108.5 170.8,108.3 172.4,108.1 174.0,107.8 175.6,107.6 177.2,107.4 178.8,107.2 180.4,107.0 182.0,106.9 183.7,106.7 185.3,106.5 186.9,106.4 188.5,106.2 190.1,106.1 191.7,105.9 193.3,105.8 194.9,105.7 196.5,105.6 198.1,105.4 199.7,105.3 201.3,105.2 203.0,105.1 204.6,104.9 206.2,104.8 207.8,104.7 209.4,104.6 211.0,104.5 212.6,104.4 214.2,104.3 215.8,104.2 217.4,104.1 219.0,104.0 220.7,103.9 222.3,103.8 223.9,103.7 225.5,103.6 227.1,103.5 228.7,103.4 230.3,103.3 231.9,103.3 233.5,103.2 235.1,103.1 236.7,103.0 238.3,103.0 240.0,102.9 241.6,102.9 243.2,102.8 244.8,102.8 246.4,102.7 248.0,102.7" fill="none" stroke="#0000ff" stroke-width="1.50" stroke-dasharray="0.9,0.9"/>
<polyline points="24.4,145.3 26.0,133.9 27.6,132.7 29.2,131.7 30.8,131.0 32.4,130.3 34.1,129.8 35.7,129.3 37.3,129.0 38.9,128.7 40.5,128.5 42.1,128.3 43.7,128.1 45.3,128.0 46.9,127.8 48.5,127.7 50.1,127.6 51.7,127.4 53.4,127.3 55.0,127.2 56.6,127.1 58.2,127.0 59.8,126.9 61.4,126.8 63.0,126.7 64.6,126.6 66.2,126.5 67.8,126.4 69.4,126.3 71.1,126.2 72.7,126.1 74.3,126.0 75.9,125.8 77.5,125.6 79.1,125.3 80.7,125.0 82.3,124.8 83.9,124.5 85.5,124.3 87.1,124.1 88.7,123.8 90.4,123.6 92.0,123.4 93.6,123.2 95.2,123.0 96.8,122.8 98.4,122.6 100.0,122.4 101.6,122.2 103.2,122.1 104.8,121.9 106.4,121.8 108.0,121.7 109.7,121.5 111.3,121.4 112.9,121.3 114.5,121.2 116.1,121.1 117.7,121.0 119.3,120.9 120.9,120.8 122.5,120.7 124.1,120.6 125.7,120.5 127.4,120.4 129.0,120.3 130.6,120.2 132.2,120.1 133.8,120.0 135.4,119.9 137.0,119.8 138.6,119.7 140.2,119.5 141.8,119.4 143.4,119.3 145.0,119.1 146.7,119.0 148.3,118.9 149.9,118.8 151.5,118.6 153.1,118.5 154.7,118.4 156.3,118.2 157.9,118.1 159.5,117.9 161.1,117.8 162.7,117.7 164.4,117.5 166.0,117.4 167.6,117.2 169.2,117.1 170.8,117.0 172.4,116.8 174.0,116.7 175.6,116.6 177.2,116.4 178.8,116.3 180.4,116.2 182.0,116.0 183.7,115.9 185.3,115.8 186.9,115.6 188.5,115.5 190.1,115.4 191.7,115.2 193.3,115.1 194.9,115.0 196.5,114.9 198.1,114.7 199.7,114.6 201.3,114.5 203.0,114.4 204.6,114.3 206.2,114.1 207.8,114.0 209.4,113.9 211.0,113.8 212.6,113.7 214.2,113.5 215.8,113.4 217.4,113.3 219.0,113.2 220.7,113.1 222.3,112.9 223.9,112.8 225.5,112.7 227.1,112.6 228.7,112.5 230.3,112.4 231.9,112.2 233.5,112.1 235.1,112.0 236.7,111.9 238.3,111.8 240.0,111.7 241.6,111.5 243.2,111.4 244.8,111.3 246.4,111.2 248.0,111.1" fill="none" stroke="#000000" stroke-width="1.50" stroke-dasharray="3.2,1.6"/>
<polyline points="24.4,145.3 26.0,144.5 27.6,143.3 29.2,141.8 30.8,140.1 32.4,138.1 34.1,135.9 35.7,133.7 37.3,131.7 38.9,130.0 40.5,128.4 42.1,127.1 43.7,126.0 45.3,125.0 46.9,123.8 48.5,122.6 50.1,121.5 51.7,120.6 53.4,119.9 55.0,119.3 56.6,118.9 58.2,118.5 59.8,118.3 61.4,118.1 63.0,117.9 64.6,117.7 66.2,117.6 67.8,117.5 69.4,117.5 71.1,117.5 72.7,117.5 74.3,117.5 75.9,117.5 77.5,117.4 79.1,117.2 80.7,117.0 82.3,116.7 83.9,116.5 85.5,116.4 87.1,116.2 88.7,116.1 90.4,116.0 92.0,115.9 93.6,115.8 95.2,115.7 96.8,115.6 98.4,115.5 100.0,115.3 101.6,115.2 103.2,115.1 104.8,114.9 106.4,114.8 108.0,114.6 109.7,114.4 111.3,114.2 112.9,114.0 114.5,113.7 116.1,113.5 117.7,113.3 119.3,113.1 120.9,112.8 122.5,112.6 124.1,112.3 125.7,112.1 127.4,111.9 129.0,111.7 130.6,111.4 132.2,111.2 133.8,111.0 135.4,110.8 137.0,110.6 138.6,110.4 140.2,110.2 141.8,110.1 143.4,109.9 145.0,109.7 146.7,109.5 148.3,109.3 149.9,109.1 151.5,108.9 153.1,108.7 154.7,108.5 156.3,108.3 157.9,108.1 159.5,108.0 161.1,107.8 162.7,107.6 164.4,107.4 166.0,107.2 167.6,107.1 169.2,106.9 170.8,106.7 172.4,106.6 174.0,106.4 175.6,106.2 177.2,106.1 178.8,105.9 180.4,105.8 182.0,105.6 183.7,105.5 185.3,105.4 186.9,105.2 188.5,105.1 190.1,105.0 191.7,104.8 193.3,104.7 194.9,104.6 196.5,104.5 198.1,104.4 199.7,104.3 201.3,104.2 203.0,104.0 204.6,103.9 206.2,103.8 207.8,103.7 209.4,103.6 211.0,103.5 212.6,103.4 214.2,103.3 215.8,103.2 217.4,103.1 219.0,103.0 220.7,102.9 222.3,102.8 223.9,102.7 225.5,102.7 227.1,102.6 228.7,102.5 230.3,102.4 231.9,102.3 233.5,102.3 235.1,102.2 236.7,102.1 238.3,102.0 240.0,102.0 241.6,101.9 243.2,101.9 244.8,101.8 246.4,101.8 248.0,101.7" fill="none" stroke="#0000ff" stroke-width="1.50" stroke-dasharray="3.2,1.6"/>
<polyline points="24.4,145.3 26.0,145.2 27.6,144.9 29.2,144.3 30.8,143.5 32.4,142.1 34.1,140.4 35.7,138.4 37.3,136.3 38.9,133.7 40.5,131.3 42.1,128.8 43.7,126.4 45.3,124.3 46.9,122.2 48.5,120.4 50.1,118.7 51.7,117.1 53.4,115.7 55.0,114.3 56.6,113.2 58.2,112.5 59.8,112.0 61.4,111.6 63.0,111.3 64.6,111.0 66.2,110.7 67.8,110.5 69.4,110.3 71.1,110.2 72.7,110.0 74.3,110.0 75.9,110.0 77.5,110.1 79.1,110.3 80.7,110.4 82.3,110.5 83.9,110.5 85.5,110.5 87.1,110.4 88.7,110.4 90.4,110.3 92.0,110.2 93.6,110.0 95.2,109.9 96.8,109.7 98.4,109.6 100.0,109.4 101.6,109.2 103.2,109.1 104.8,108.9 106.4,108.7 108.0,108.6 109.7,108.4 111.3,108.1 112.9,107.9 114.5,107.7 116.1,107.4 117.7,107.2 119.3,106.9 120.9,106.7 122.5,106.4 124.1,106.2 125.7,106.0 127.4,105.8 129.0,105.6 130.6,105.4 132.2,105.2 133.8,105.0 135.4,104.9 137.0,104.7 138.6,104.6 140.2,104.5 141.8,104.3 143.4,104.2 145.0,104.1 146.7,103.9 148.3,103.8 149.9,103.7 151.5,103.6 153.1,103.5 154.7,103.4 156.3,103.2 157.9,103.1 159.5,103.0 161.1,102.9 162.7,102.8 164.4,102.7 166.0,102.6 167.6,102.5 169.2,102.4 170.8,102.3 172.4,102.3 174.0,102.2 175.6,102.1 177.2,102.0 178.8,101.9 180.4,101.8 182.0,101.7 183.7,101.7 185.3,101.6 186.9,101.5 188.5,101.4 190.1,101.3 191.7,101.3 193.3,101.2 194.9,101.1 196.5,101.0 198.1,101.0 199.7,100.9 201.3,100.8 203.0,100.8 204.6,100.7 206.2,100.6 207.8,100.5 209.4,100.5 211.0,100.4 212.6,100.3 214.2,100.3 215.8,100.2 217.4,100.2 219.0,100.1 220.7,100.0 222.3,100.0 223.9,99.9 225.5,99.9 227.1,99.8 228.7,99.7 230.3,99.7 231.9,99.6 233.5,99.6 235.1,99.5 236.7,99.5 238.3,99.4 240.0,99.4 241.6,99.4 243.2,99.3 244.8,99.3 246.4,99.2 248.0,99.2" fill="none" stroke="#00ff00" stroke-width="1.50" stroke-dasharray="3.2,1.6"/>
<polyline points="24.4,145.3 26.0,145.3 27.6,145.2 29.2,145.1 30.8,144.8 32.4,143.7 34.1,142.1 35.7,140.1 37.3,137.3 38.9,134.5 40.5,131.9 42.1,129.2 43.7,126.5 45.3,123.5 46.9,120.2 48.5,116.8 50.1,113.8 51.7,111.0 53.4,108.7 55.0,107.1 56.6,105.7 58.2,104.9 59.8,104.5 61.4,104.1 63.0,104.0 64.6,104.1 66.2,104.2 67.8,104.5 69.4,104.8 71.1,105.3 72.7,105.9 74.3,106.5 75.9,107.2 77.5,107.8 79.1,108.3 80.7,108.8 82.3,109.2 83.9,109.5 85.5,109.6 87.1,109.7 88.7,109.8 90.4,109.9 92.0,110.0 93.6,110.0 95.2,110.0 96.8,109.9 98.4,109.7 100.0,109.5 101.6,109.3 103.2,109.1 104.8,108.9 106.4,108.6 108.0,108.3 109.7,107.9 111.3,107.6 112.9,107.2 114.5,106.9 116.1,106.6 117.7,106.3 119.3,105.9 120.9,105.6 122.5,105.3 124.1,105.0 125.7,104.6 127.4,104.3 129.0,103.9 130.6,103.6 132.2,103.3 133.8,103.0 135.4,102.8 137.0,102.7 138.6,102.5 140.2,102.3 141.8,102.2 143.4,102.0 145.0,101.9 146.7,101.7 148.3,101.6 149.9,101.5 151.5,101.3 153.1,101.2 154.7,101.1 156.3,101.0 157.9,100.9 159.5,100.8 161.1,100.7 162.7,100.6 164.4,100.5 166.0,100.4 167.6,100.3 169.2,100.2 170.8,100.1 172.4,100.0 174.0,100.0 175.6,99.9 177.2,99.8 178.8,99.7 180.4,99.7 182.0,99.6 183.7,99.5 185.3,99.4 186.9,99.4 188.5,99.3 190.1,99.2 191.7,99.2 193.3,99.1 194.9,99.0 196.5,99.0 198.1,98.9 199.7,98.8 201.3,98.8 203.0,98.7 204.6,98.7 206.2,98.6 207.8,98.5 209.4,98.5 211.0,98.4 212.6,98.4 214.2,98.3 215.8,98.3 217.4,98.2 219.0,98.2 220.7,98.1 222.3,98.1 223.9,98.0 225.5,98.0 227.1,97.9 228.7,97.9 230.3,97.8 231.9,97.8 233.5,97.8 235.1,97.7 236.7,97.7 238.3,97.6 240.0,97.6 241.6,97.6 243.2,97.6 244.8,97.5 246.4,97.5 248.0,97.5" fill="none" stroke="#ff0000" stroke-width="1.50" stroke-dasharray="3.2,1.6"/>
<polyline points="24.4,145.3 26.0,145.3 27.6,145.3 29.2,145.3 30.8,145.3 32.4,145.3 34.1,145.3 35.7,145.2 37.3,145.2 38.9,145.2 40.5,145.0 42.1,144.8 43.7,144.5 45.3,144.3 46.9,144.0 48.5,143.7 50.1,143.4 51.7,143.0 53.4,142.6 55.0,142.3 56.6,141.9 58.2,141.5 59.8,141.1 61.4,140.7 63.0,140.3 64.6,139.8 66.2,139.3 67.8,138.8 69.4,138.3 71.1,137.8 72.7,137.3 74.3,136.9 75.9,136.6 77.5,136.2 79.1,136.0 80.7,135.8 82.3,135.7 83.9,135.5 85.5,135.3 87.1,135.1 88.7,134.8 90.4,134.5 92.0,134.3 93.6,134.0 95.2,133.7 96.8,133.3 98.4,133.0 100.0,132.7 101.6,132.4 103.2,132.1 104.8,131.9 106.4,131.6 108.0,131.3 109.7,131.0 111.3,130.7 112.9,130.4 114.5,130.2 116.1,129.9 117.7,129.6 119.3,129.3 120.9,129.0 122.5,128.8 124.1,128.5 125.7,128.2 127.4,128.0 129.0,127.7 130.6,127.5 132.2,127.3 133.8,127.0 135.4,126.8 137.0,126.6 138.6,126.4 140.2,126.2 141.8,126.0 143.4,125.7 145.0,125.5 146.7,125.3 148.3,125.1 149.9,125.0 151.5,124.8 153.1,124.6 154.7,124.4 156.3,124.2 157.9,124.0 159.5,123.8 161.1,123.6 162.7,123.5 164.4,123.3 166.0,123.1 167.6,122.9 169.2,122.8 170.8,122.6 172.4,122.4 174.0,122.2 175.6,122.1 177.2,121.9 178.8,121.7 180.4,121.6 182.0,121.4 183.7,121.2 185.3,121.1 186.9,120.9 188.5,120.8 190.1,120.6 191.7,120.4 193.3,120.3 194.9,120.1 196.5,119.9 198.1,119.8 199.7,119.6 201.3,119.5 203.0,119.3 204.6,119.2 206.2,119.0 207.8,118.8 209.4,118.7 211.0,118.5 212.6,118.4 214.2,118.2 215.8,118.1 217.4,117.9 219.0,117.8 220.7,117.6 222.3,117.5 223.9,117.4 225.5,117.2 227.1,117.1 228.7,116.9 230.3,116.8 231.9,116.6 233.5,116.5 235.1,116.4 236.7,116.2 238.3,116.1 240.0,116.0 241.6,115.8 243.2,115.7 244.8,115.6 246.4,115.4 248.0,115.3" fill="none" stroke="#000000" stroke-width="1.50" />
<polyline points="24.4,145.3 26.0,145.3 27.6,145.3 29.2,145.3 30.8,145.3 32.4,145.2 34.1,145.2 35.7,145.2 37.3,144.9 38.9,144.5 40.5,144.1 42.1,143.4 43.7,142.6 45.3,141.7 46.9,140.6 48.5,139.4 50.1,138.1 51.7,136.8 53.4,135.5 55.0,134.3 56.6,133.1 58.2,132.0 59.8,131.1 61.4,130.2 63.0,129.4 64.6,128.7 66.2,128.1 67.8,127.5 69.4,126.8 71.1,126.2 72.7,125.5 74.3,124.9 75.9,124.4 77.5,123.9 79.1,123.5 80.7,123.1 82.3,122.8 83.9,122.5 85.5,122.2 87.1,122.0 88.7,121.7 90.4,121.5 92.0,121.3 93.6,121.1 95.2,120.9 96.8,120.7 98.4,120.5 100.0,120.4 101.6,120.2 103.2,120.1 104.8,119.9 106.4,119.8 108.0,119.6 109.7,119.5 111.3,119.3 112.9,119.1 114.5,118.9 116.1,118.7 117.7,118.5 119.3,118.2 120.9,117.9 122.5,117.6 124.1,117.3 125.7,117.0 127.4,116.7 129.0,116.4 130.6,116.1 132.2,115.8 133.8,115.5 135.4,115.3 137.0,115.0 138.6,114.7 140.2,114.5 141.8,114.2 143.4,113.9 145.0,113.6 146.7,113.4 148.3,113.1 149.9,112.8 151.5,112.5 153.1,112.2 154.7,112.0 156.3,111.7 157.9,111.4 159.5,111.2 161.1,110.9 162.7,110.6 164.4,110.4 166.0,110.1 167.6,109.9 169.2,109.6 170.8,109.4 172.4,109.1 174.0,108.9 175.6,108.7 177.2,108.5 178.8,108.3 180.4,108.1 182.0,107.9 183.7,107.7 185.3,107.5 186.9,107.4 188.5,107.2 190.1,107.1 191.7,106.9 193.3,106.8 194.9,106.7 196.5,106.6 198.1,106.4 199.7,106.3 201.3,106.2 203.0,106.0 204.6,105.9 206.2,105.8 207.8,105.7 209.4,105.6 211.0,105.5 212.6,105.3 214.2,105.2 215.8,105.1 217.4,105.0 219.0,104.9 220.7,104.8 222.3,104.7 223.9,104.6 225.5,104.5 227.1,104.5 228.7,104.4 230.3,104.3 231.9,104.2 233.5,104.2 235.1,104.1 236.7,104.0 238.3,104.0 240.0,104.0 241.6,103.9 243.2,103.9 244.8,103.8 246.4,103.8 248.0,103.8" fill="none" stroke="#0000ff" stroke-width="1.50" />
<polyline points="24.4,145.3 26.0,145.3 27.6,145.3 29.2,145.3 30.8,145.2 32.4,145.2 34.1,145.1 35.7,144.8 37.3,144.2 38.9,143.6 40.5,142.5 42.1,141.0 43.7,139.3 45.3,137.6 46.9,135.6 48.5,133.6 50.1,131.4 51.7,129.1 53.4,126.8 55.0,124.9 56.6,123.3 58.2,121.7 59.8,120.3 61.4,118.9 63.0,117.7 64.6,116.6 66.2,115.7 67.8,115.0 69.4,114.3 71.1,113.8 72.7,113.3 74.3,113.0 75.9,112.7 77.5,112.6 79.1,112.5 80.7,112.5 82.3,112.5 83.9,112.5 85.5,112.5 87.1,112.4 88.7,112.3 90.4,112.2 92.0,112.1 93.6,112.0 95.2,111.9 96.8,111.8 98.4,111.6 100.0,111.4 101.6,111.3 103.2,111.1 104.8,110.9 106.4,110.8 108.0,110.6 109.7,110.5 111.3,110.4 112.9,110.2 114.5,110.1 116.1,109.9 117.7,109.8 119.3,109.6 120.9,109.4 122.5,109.2 124.1,109.0 125.7,108.7 127.4,108.2 129.0,107.8 130.6,107.3 132.2,106.9 133.8,106.5 135.4,106.3 137.0,106.1 138.6,105.8 140.2,105.6 141.8,105.4 143.4,105.2 145.0,105.0 146.7,104.8 148.3,104.6 149.9,104.4 151.5,104.3 153.1,104.1 154.7,103.9 156.3,103.8 157.9,103.6 159.5,103.5 161.1,103.3 162.7,103.2 164.4,103.0 166.0,102.9 167.6,102.8 169.2,102.7 170.8,102.5 172.4,102.4 174.0,102.3 175.6,102.2 177.2,102.1 178.8,102.0 180.4,101.9 182.0,101.8 183.7,101.7 185.3,101.6 186.9,101.5 188.5,101.4 190.1,101.3 191.7,101.3 193.3,101.2 194.9,101.1 196.5,101.0 198.1,100.9 199.7,100.8 201.3,100.8 203.0,100.7 204.6,100.6 206.2,100.5 207.8,100.5 209.4,100.4 211.0,100.3 212.6,100.2 214.2,100.2 215.8,100.1 217.4,100.0 219.0,100.0 220.7,99.9 222.3,99.8 223.9,99.8 225.5,99.7 227.1,99.7 228.7,99.6 230.3,99.6 231.9,99.5 233.5,99.5 235.1,99.4 236.7,99.4 238.3,99.4 240.0,99.3 241.6,99.3 243.2,99.3 244.8,99.2 246.4,99.2 248.0,99.2" fill="none" stroke="#00ff00" stroke-width="1.50" />
<polyline points="24.4,145.3 26.0,145.3 27.6,145.3 29.2,145.3 30.8,145.3 32.4,145.2 34.1,145.0 35.7,144.4 37.3,143.4 38.9,142.1 40.5,140.6 42.1,138.6 43.7,136.4 45.3,134.1 46.9,131.4 48.5,128.8 50.1,126.1 51.7,123.4 53.4,120.9 55.0,118.7 56.6,116.7 58.2,114.9 59.8,113.2 61.4,111.6 63.0,110.2 64.6,109.1 66.2,108.2 67.8,107.4 69.4,106.9 71.1,106.4 72.7,106.1 74.3,106.0 75.9,106.1 77.5,106.3 79.1,106.5 80.7,106.9 82.3,107.4 83.9,108.0 85.5,108.5 87.1,109.1 88.7,109.8 90.4,110.3 92.0,110.8 93.6,111.0 95.2,111.0 96.8,110.9 98.4,110.7 100.0,110.5 101.6,110.3 103.2,110.1 104.8,109.9 106.4,109.6 108.0,109.3 109.7,108.9 111.3,108.6 112.9,108.2 114.5,107.9 116.1,107.6 117.7,107.3 119.3,107.0 120.9,106.7 122.5,106.3 124.1,106.0 125.7,105.5 127.4,105.0 129.0,104.4 130.6,103.8 132.2,103.4 133.8,103.0 135.4,102.8 137.0,102.6 138.6,102.4 140.2,102.3 141.8,102.1 143.4,101.9 145.0,101.8 146.7,101.6 148.3,101.5 149.9,101.4 151.5,101.2 153.1,101.1 154.7,101.0 156.3,100.9 157.9,100.8 159.5,100.7 161.1,100.6 162.7,100.5 164.4,100.4 166.0,100.3 167.6,100.2 169.2,100.1 170.8,100.0 172.4,100.0 174.0,99.9 175.6,99.8 177.2,99.8 178.8,99.7 180.4,99.6 182.0,99.6 183.7,99.5 185.3,99.4 186.9,99.4 188.5,99.3 190.1,99.2 191.7,99.2 193.3,99.1 194.9,99.0 196.5,99.0 198.1,98.9 199.7,98.8 201.3,98.8 203.0,98.7 204.6,98.7 206.2,98.6 207.8,98.5 209.4,98.5 211.0,98.4 212.6,98.4 214.2,98.3 215.8,98.3 217.4,98.2 219.0,98.2 220.7,98.1 222.3,98.1 223.9,98.0 225.5,98.0 227.1,97.9 228.7,97.9 230.3,97.8 231.9,97.8 233.5,97.8 235.1,97.7 236.7,97.7 238.3,97.6 240.0,97.6 241.6,97.6 243.2,97.6 244.8,97.5 246.4,97.5 248.0,97.5" fill="none" stroke="#ff0000" stroke-width="1.50" />
<polyline points="24.4,145.3 26.0,139.3 27.6,134.2 29.2,130.1 30.8,125.6 32.4,120.7 34.1,115.8 35.7,110.9 37.3,106.3 38.9,101.9 40.5,98.0 42.1,95.0 43.7,92.3 45.3,90.8 46.9,89.9 48.5,89.2 50.1,89.0 51.7,89.1 53.4,89.3 55.0,89.6 56.6,89.9 58.2,90.3 59.8,91.0 61.4,91.8 63.0,92.6 64.6,93.3 66.2,93.9 67.8,94.6 69.4,95.2 71.1,95.7 72.7,96.2 74.3,96.6 75.9,97.0 77.5,97.4 79.1,97.5 80.7,97.5 82.3,97.5 83.9,97.5 85.5,97.5 87.1,97.5 88.7,97.5 90.4,97.4 92.0,97.4 93.6,97.4 95.2,97.4 96.8,97.3 98.4,97.3 100.0,97.2 101.6,97.1 103.2,97.0 104.8,96.9 106.4,96.8 108.0,96.6 109.7,96.3 111.3,96.2 112.9,96.0 114.5,96.0 116.1,96.0 117.7,96.0 119.3,96.0 120.9,96.0 122.5,96.0 124.1,96.0 125.7,96.0 127.4,96.1 129.0,96.2 130.6,96.3 132.2,96.4 133.8,96.5 135.4,96.5 137.0,96.6 138.6,96.6 140.2,96.6 141.8,96.6 143.4,96.7 145.0,96.7 146.7,96.7 148.3,96.7 149.9,96.8 151.5,96.8 153.1,96.8 154.7,96.8 156.3,96.8 157.9,96.8 159.5,96.9 161.1,96.9 162.7,96.9 164.4,96.9 166.0,96.9 167.6,96.9 169.2,96.9 170.8,97.0 172.4,97.0 174.0,97.0 175.6,97.0 177.2,97.0 178.8,97.0 180.4,97.0 182.0,97.0 183.7,97.0 185.3,97.1 186.9,97.1 188.5,97.1 190.1,97.1 191.7,97.1 193.3,97.1 194.9,97.1 196.5,97.1 198.1,97.2 199.7,97.2 201.3,97.2 203.0,97.2 204.6,97.2 206.2,97.2 207.8,97.2 209.4,97.2 211.0,97.3 212.6,97.3 214.2,97.3 215.8,97.3 217.4,97.3 219.0,97.3 220.7,97.3 222.3,97.3 223.9,97.4 225.5,97.4 227.1,97.4 228.7,97.4 230.3,97.4 231.9,97.4 233.5,97.4 235.1,97.4 236.7,97.4 238.3,97.4 240.0,97.5 241.6,97.5 243.2,97.5 244.8,97.5 246.4,97.5 248.0,97.5" fill="none" stroke="#ff00ff" stroke-width="1.50" />
</g>
<path d="M24.40 145.30V87.80H248.40" class="bx" stroke="#8c8c8c"/>
<path d="M248.40 87.80V145.30H24.40" class="bx" stroke="#b4b4b4"/>
<line x1="24.40" y1="145.30" x2="24.40" y2="143.30" class="tk"/>
<line x1="24.40" y1="87.80" x2="24.40" y2="89.80" class="tk"/>
<text x="24.40" y="151.90" class="tl" text-anchor="middle">0</text>
<line x1="61.73" y1="145.30" x2="61.73" y2="143.30" class="tk"/>
<line x1="61.73" y1="87.80" x2="61.73" y2="89.80" class="tk"/>
<text x="61.73" y="151.90" class="tl" text-anchor="middle">5</text>
<line x1="99.07" y1="145.30" x2="99.07" y2="143.30" class="tk"/>
<line x1="99.07" y1="87.80" x2="99.07" y2="89.80" class="tk"/>
<text x="99.07" y="151.90" class="tl" text-anchor="middle">10</text>
<line x1="136.40" y1="145.30" x2="136.40" y2="143.30" class="tk"/>
<line x1="136.40" y1="87.80" x2="136.40" y2="89.80" class="tk"/>
<text x="136.40" y="151.90" class="tl" text-anchor="middle">15</text>
<line x1="173.73" y1="145.30" x2="173.73" y2="143.30" class="tk"/>
<line x1="173.73" y1="87.80" x2="173.73" y2="89.80" class="tk"/>
<text x="173.73" y="151.90" class="tl" text-anchor="middle">20</text>
<line x1="211.07" y1="145.30" x2="211.07" y2="143.30" class="tk"/>
<line x1="211.07" y1="87.80" x2="211.07" y2="89.80" class="tk"/>
<text x="211.07" y="151.90" class="tl" text-anchor="middle">25</text>
<line x1="248.40" y1="145.30" x2="248.40" y2="143.30" class="tk"/>
<line x1="248.40" y1="87.80" x2="248.40" y2="89.80" class="tk"/>
<text x="248.40" y="151.90" class="tl" text-anchor="middle">30</text>
<line x1="24.40" y1="145.30" x2="26.40" y2="145.30" class="tk"/>
<line x1="248.40" y1="145.30" x2="246.40" y2="145.30" class="tk"/>
<text x="22.80" y="147.70" class="tl" text-anchor="end">0</text>
<line x1="24.40" y1="126.13" x2="26.40" y2="126.13" class="tk"/>
<line x1="248.40" y1="126.13" x2="246.40" y2="126.13" class="tk"/>
<text transform="translate(22.80,128.53) scale(0.87,1)" class="tl" text-anchor="end">0.2</text>
<line x1="24.40" y1="106.97" x2="26.40" y2="106.97" class="tk"/>
<line x1="248.40" y1="106.97" x2="246.40" y2="106.97" class="tk"/>
<text transform="translate(22.80,109.37) scale(0.87,1)" class="tl" text-anchor="end">0.4</text>
<line x1="24.40" y1="87.80" x2="26.40" y2="87.80" class="tk"/>
<line x1="248.40" y1="87.80" x2="246.40" y2="87.80" class="tk"/>
<text transform="translate(22.80,90.20) scale(0.87,1)" class="tl" text-anchor="end">0.6</text>
<text transform="translate(11.80,116.55) rotate(-90)" class="yl" text-anchor="middle">--&gt; u<tspan dy="1.6" font-size="4.2">p</tspan><tspan dy="-1.6">(t)</tspan></text>
<rect x="28.20" y="88.10" width="28.20" height="31.30" class="lg"/>
<line x1="30.00" y1="92.40" x2="44.90" y2="92.40" stroke="#000000" stroke-width="1.5"/>
<text transform="translate(46.70,94.15) scale(0.86,1)" class="lt">m=1</text>
<line x1="30.00" y1="98.40" x2="44.90" y2="98.40" stroke="#0000ff" stroke-width="1.5"/>
<text transform="translate(46.70,100.15) scale(0.86,1)" class="lt">m=3</text>
<line x1="30.00" y1="104.40" x2="44.90" y2="104.40" stroke="#00ff00" stroke-width="1.5"/>
<text transform="translate(46.70,106.15) scale(0.86,1)" class="lt">m=5</text>
<line x1="30.00" y1="110.40" x2="44.90" y2="110.40" stroke="#ff0000" stroke-width="1.5"/>
<text transform="translate(46.70,112.15) scale(0.86,1)" class="lt">m=7</text>
<line x1="30.00" y1="116.40" x2="44.90" y2="116.40" stroke="#ff00ff" stroke-width="1.5"/>
<text transform="translate(46.70,118.15) scale(0.86,1)" class="lt">AV</text>
<line x1="61.73" y1="167.30" x2="61.73" y2="225.40" class="gr"/>
<line x1="99.07" y1="167.30" x2="99.07" y2="225.40" class="gr"/>
<line x1="136.40" y1="167.30" x2="136.40" y2="225.40" class="gr"/>
<line x1="173.73" y1="167.30" x2="173.73" y2="225.40" class="gr"/>
<line x1="211.07" y1="167.30" x2="211.07" y2="225.40" class="gr"/>
<line x1="24.40" y1="213.78" x2="248.40" y2="213.78" class="gr"/>
<line x1="24.40" y1="202.16" x2="248.40" y2="202.16" class="gr"/>
<line x1="24.40" y1="190.54" x2="248.40" y2="190.54" class="gr"/>
<line x1="24.40" y1="178.92" x2="248.40" y2="178.92" class="gr"/>
<g clip-path="url(#c_G1L3)">
<polyline points="24.4,167.3 26.0,167.3 27.6,167.3 29.2,167.4 30.9,167.7 32.5,168.2 34.1,168.8 35.7,169.6 37.3,170.6 38.9,172.0 40.6,173.6 42.2,175.3 43.8,177.0 45.4,178.7 47.0,180.4 48.6,182.2 50.3,184.1 51.9,186.0 53.5,188.0 55.1,189.9 56.7,191.7 58.3,193.5 59.9,195.2 61.6,197.0 63.2,198.6 64.8,200.1 66.4,201.4 68.0,202.6 69.6,203.6 71.3,204.5 72.9,205.3 74.5,205.8 76.1,206.2 77.7,206.5 79.3,206.8 81.0,207.0 82.6,207.3 84.2,207.4 85.8,207.6 87.4,207.7 89.0,207.8 90.6,207.9 92.3,208.0 93.9,208.0 95.5,208.0 97.1,208.0 98.7,208.0 100.3,208.0 102.0,208.0 103.6,208.0 105.2,208.0 106.8,208.1 108.4,208.3 110.0,208.5 111.7,208.8 113.3,209.0 114.9,209.2 116.5,209.5 118.1,209.7 119.7,210.0 121.3,210.3 123.0,210.5 124.6,210.7 126.2,210.9 127.8,211.1 129.4,211.3 131.0,211.5 132.7,211.7 134.3,211.8 135.9,212.0 137.5,212.2 139.1,212.3 140.7,212.5 142.4,212.7 144.0,212.9 145.6,213.1 147.2,213.3 148.8,213.4 150.4,213.6 152.1,213.8 153.7,214.0 155.3,214.2 156.9,214.4 158.5,214.6 160.1,214.7 161.7,214.9 163.4,215.1 165.0,215.3 166.6,215.5 168.2,215.6 169.8,215.8 171.4,216.0 173.1,216.2 174.7,216.3 176.3,216.5 177.9,216.6 179.5,216.8 181.1,216.9 182.8,217.1 184.4,217.2 186.0,217.4 187.6,217.5 189.2,217.6 190.8,217.7 192.4,217.8 194.1,218.0 195.7,218.1 197.3,218.2 198.9,218.3 200.5,218.4 202.1,218.5 203.8,218.6 205.4,218.7 207.0,218.8 208.6,218.9 210.2,219.0 211.8,219.1 213.5,219.2 215.1,219.3 216.7,219.4 218.3,219.5 219.9,219.6 221.5,219.7 223.1,219.8 224.8,219.9 226.4,219.9 228.0,220.0 229.6,220.1 231.2,220.2 232.8,220.2 234.5,220.3 236.1,220.4 237.7,220.5 239.3,220.5 240.9,220.6 242.5,220.6 244.2,220.7 245.8,220.7 247.4,220.8 249.0,220.8" fill="none" stroke="#00ff00" stroke-width="1.20" stroke-dasharray="0.9,0.9"/>
<polyline points="24.4,167.3 26.0,167.3 27.6,167.3 29.2,167.3 30.9,167.4 32.5,167.5 34.1,167.8 35.7,168.3 37.3,169.1 38.9,170.3 40.6,171.8 42.2,173.5 43.8,175.5 45.4,177.7 47.0,180.2 48.6,182.8 50.3,185.5 51.9,188.4 53.5,191.2 55.1,194.1 56.7,197.0 58.3,199.8 59.9,202.5 61.6,204.8 63.2,206.8 64.8,208.4 66.4,209.7 68.0,210.8 69.6,211.8 71.3,212.6 72.9,213.0 74.5,213.3 76.1,213.5 77.7,213.6 79.3,213.5 81.0,213.3 82.6,213.0 84.2,212.7 85.8,212.3 87.4,211.9 89.0,211.5 90.6,211.2 92.3,210.8 93.9,210.5 95.5,210.3 97.1,210.2 98.7,210.2 100.3,210.2 102.0,210.2 103.6,210.2 105.2,210.2 106.8,210.3 108.4,210.6 110.0,211.1 111.7,211.7 113.3,212.2 114.9,212.7 116.5,213.2 118.1,213.7 119.7,214.3 121.3,214.8 123.0,215.4 124.6,215.9 126.2,216.4 127.8,216.9 129.4,217.4 131.0,217.8 132.7,218.1 134.3,218.3 135.9,218.5 137.5,218.6 139.1,218.7 140.7,218.8 142.4,218.9 144.0,219.0 145.6,219.1 147.2,219.2 148.8,219.3 150.4,219.4 152.1,219.5 153.7,219.5 155.3,219.6 156.9,219.7 158.5,219.7 160.1,219.8 161.7,219.8 163.4,219.9 165.0,219.9 166.6,220.0 168.2,220.0 169.8,220.1 171.4,220.1 173.1,220.2 174.7,220.2 176.3,220.3 177.9,220.3 179.5,220.4 181.1,220.4 182.8,220.5 184.4,220.5 186.0,220.6 187.6,220.7 189.2,220.7 190.8,220.8 192.4,220.9 194.1,221.0 195.7,221.0 197.3,221.1 198.9,221.2 200.5,221.3 202.1,221.4 203.8,221.5 205.4,221.5 207.0,221.6 208.6,221.7 210.2,221.8 211.8,221.9 213.5,222.0 215.1,222.0 216.7,222.1 218.3,222.2 219.9,222.3 221.5,222.4 223.1,222.5 224.8,222.6 226.4,222.7 228.0,222.7 229.6,222.8 231.2,222.9 232.8,223.0 234.5,223.1 236.1,223.2 237.7,223.3 239.3,223.4 240.9,223.5 242.5,223.6 244.2,223.7 245.8,223.8 247.4,223.9 249.0,224.0" fill="none" stroke="#ff0000" stroke-width="1.20" stroke-dasharray="0.9,0.9"/>
<polyline points="24.4,167.3 26.0,167.3 27.6,167.3 29.2,167.3 30.9,167.4 32.5,167.4 34.1,167.4 35.7,167.5 37.3,167.6 38.9,167.9 40.6,168.3 42.2,168.9 43.8,169.5 45.4,170.2 47.0,171.4 48.6,172.8 50.3,173.7 51.9,174.6 53.5,175.5 55.1,176.2 56.7,177.0 58.3,177.7 59.9,178.4 61.6,179.1 63.2,179.8 64.8,180.5 66.4,181.1 68.0,181.7 69.6,182.2 71.3,182.7 72.9,183.2 74.5,183.6 76.1,184.0 77.7,184.3 79.3,184.5 81.0,184.7 82.6,184.9 84.2,185.0 85.8,185.2 87.4,185.3 89.0,185.5 90.6,185.6 92.3,185.8 93.9,185.9 95.5,186.1 97.1,186.2 98.7,186.4 100.3,186.6 102.0,186.8 103.6,186.9 105.2,187.2 106.8,187.4 108.4,187.6 110.0,187.8 111.7,188.1 113.3,188.4 114.9,188.6 116.5,188.9 118.1,189.2 119.7,189.5 121.3,189.8 123.0,190.1 124.6,190.4 126.2,190.7 127.8,191.0 129.4,191.2 131.0,191.5 132.7,191.8 134.3,192.0 135.9,192.3 137.5,192.6 139.1,192.8 140.7,193.1 142.4,193.4 144.0,193.6 145.6,193.9 147.2,194.2 148.8,194.4 150.4,194.7 152.1,195.0 153.7,195.2 155.3,195.5 156.9,195.8 158.5,196.0 160.1,196.3 161.7,196.6 163.4,196.8 165.0,197.1 166.6,197.3 168.2,197.6 169.8,197.8 171.4,198.1 173.1,198.3 174.7,198.5 176.3,198.8 177.9,199.0 179.5,199.2 181.1,199.4 182.8,199.6 184.4,199.8 186.0,200.0 187.6,200.2 189.2,200.4 190.8,200.5 192.4,200.7 194.1,200.9 195.7,201.0 197.3,201.2 198.9,201.3 200.5,201.5 202.1,201.6 203.8,201.8 205.4,201.9 207.0,202.1 208.6,202.2 210.2,202.3 211.8,202.5 213.5,202.6 215.1,202.7 216.7,202.9 218.3,203.0 219.9,203.1 221.5,203.3 223.1,203.4 224.8,203.5 226.4,203.6 228.0,203.7 229.6,203.8 231.2,203.9 232.8,204.0 234.5,204.1 236.1,204.2 237.7,204.3 239.3,204.4 240.9,204.5 242.5,204.5 244.2,204.6 245.8,204.7 247.4,204.7 249.0,204.8" fill="none" stroke="#000000" stroke-width="1.50" stroke-dasharray="0.9,0.9"/>
<polyline points="24.4,167.3 26.0,167.3 27.6,167.3 29.2,167.3 30.9,167.4 32.5,167.4 34.1,167.5 35.7,167.8 37.3,168.5 38.9,169.4 40.6,170.3 42.2,171.4 43.8,172.6 45.4,174.0 47.0,175.5 48.6,176.9 50.3,178.2 51.9,179.5 53.5,180.9 55.1,182.2 56.7,183.5 58.3,184.8 59.9,186.0 61.6,187.1 63.2,188.1 64.8,189.1 66.4,190.1 68.0,191.0 69.6,191.8 71.3,192.6 72.9,193.5 74.5,194.2 76.1,195.0 77.7,195.6 79.3,196.1 81.0,196.5 82.6,196.9 84.2,197.3 85.8,197.7 87.4,198.0 89.0,198.3 90.6,198.6 92.3,198.8 93.9,199.0 95.5,199.2 97.1,199.3 98.7,199.4 100.3,199.5 102.0,199.6 103.6,199.7 105.2,199.8 106.8,199.9 108.4,200.0 110.0,200.1 111.7,200.3 113.3,200.4 114.9,200.6 116.5,200.9 118.1,201.2 119.7,201.5 121.3,201.9 123.0,202.3 124.6,202.8 126.2,203.2 127.8,203.6 129.4,204.0 131.0,204.4 132.7,204.8 134.3,205.0 135.9,205.3 137.5,205.6 139.1,205.9 140.7,206.1 142.4,206.4 144.0,206.6 145.6,206.9 147.2,207.1 148.8,207.4 150.4,207.6 152.1,207.8 153.7,208.1 155.3,208.3 156.9,208.5 158.5,208.7 160.1,208.9 161.7,209.2 163.4,209.4 165.0,209.6 166.6,209.8 168.2,210.0 169.8,210.2 171.4,210.4 173.1,210.5 174.7,210.7 176.3,210.9 177.9,211.1 179.5,211.3 181.1,211.4 182.8,211.6 184.4,211.8 186.0,211.9 187.6,212.1 189.2,212.3 190.8,212.4 192.4,212.6 194.1,212.7 195.7,212.9 197.3,213.1 198.9,213.2 200.5,213.4 202.1,213.5 203.8,213.7 205.4,213.8 207.0,214.0 208.6,214.1 210.2,214.2 211.8,214.4 213.5,214.5 215.1,214.7 216.7,214.8 218.3,214.9 219.9,215.1 221.5,215.2 223.1,215.3 224.8,215.4 226.4,215.6 228.0,215.7 229.6,215.8 231.2,215.9 232.8,216.0 234.5,216.1 236.1,216.2 237.7,216.3 239.3,216.4 240.9,216.5 242.5,216.6 244.2,216.7 245.8,216.8 247.4,216.9 249.0,217.0" fill="none" stroke="#0000ff" stroke-width="1.50" stroke-dasharray="0.9,0.9"/>
<polyline points="24.4,167.3 26.0,169.3 27.6,171.6 29.2,173.4 30.9,175.0 32.5,176.4 34.1,177.8 35.7,179.1 37.3,180.2 38.9,181.3 40.6,182.2 42.2,183.1 43.8,183.9 45.4,184.6 47.0,185.2 48.6,185.7 50.3,186.2 51.9,186.6 53.5,186.9 55.1,187.3 56.7,187.7 58.3,188.0 59.9,188.4 61.6,188.7 63.2,188.9 64.8,189.1 66.4,189.2 68.0,189.3 69.6,189.4 71.3,189.5 72.9,189.6 74.5,189.7 76.1,189.8 77.7,189.9 79.3,190.0 81.0,190.4 82.6,190.7 84.2,191.0 85.8,191.2 87.4,191.4 89.0,191.6 90.6,191.8 92.3,191.9 93.9,192.1 95.5,192.2 97.1,192.4 98.7,192.5 100.3,192.7 102.0,192.8 103.6,193.0 105.2,193.1 106.8,193.3 108.4,193.4 110.0,193.6 111.7,193.8 113.3,193.9 114.9,194.1 116.5,194.2 118.1,194.4 119.7,194.5 121.3,194.7 123.0,194.9 124.6,195.0 126.2,195.2 127.8,195.4 129.4,195.5 131.0,195.7 132.7,195.9 134.3,196.0 135.9,196.2 137.5,196.4 139.1,196.6 140.7,196.8 142.4,196.9 144.0,197.1 145.6,197.3 147.2,197.5 148.8,197.7 150.4,197.9 152.1,198.1 153.7,198.3 155.3,198.5 156.9,198.7 158.5,198.9 160.1,199.1 161.7,199.3 163.4,199.5 165.0,199.8 166.6,200.0 168.2,200.2 169.8,200.3 171.4,200.5 173.1,200.7 174.7,200.9 176.3,201.1 177.9,201.3 179.5,201.5 181.1,201.7 182.8,201.8 184.4,202.0 186.0,202.2 187.6,202.3 189.2,202.5 190.8,202.6 192.4,202.8 194.1,202.9 195.7,203.1 197.3,203.2 198.9,203.4 200.5,203.5 202.1,203.6 203.8,203.8 205.4,203.9 207.0,204.0 208.6,204.2 210.2,204.3 211.8,204.4 213.5,204.6 215.1,204.7 216.7,204.8 218.3,204.9 219.9,205.1 221.5,205.2 223.1,205.3 224.8,205.4 226.4,205.5 228.0,205.6 229.6,205.7 231.2,205.8 232.8,206.0 234.5,206.1 236.1,206.2 237.7,206.3 239.3,206.4 240.9,206.5 242.5,206.5 244.2,206.6 245.8,206.7 247.4,206.8 249.0,206.9" fill="none" stroke="#000000" stroke-width="1.50" stroke-dasharray="3.2,1.6"/>
<polyline points="24.4,167.3 26.0,167.3 27.6,167.4 29.2,167.4 30.9,167.7 32.5,168.7 34.1,169.9 35.7,171.5 37.3,173.4 38.9,175.4 40.6,177.4 42.2,179.5 43.8,181.6 45.4,183.4 47.0,184.8 48.6,186.2 50.3,187.6 51.9,189.1 53.5,190.6 55.1,191.9 56.7,193.3 58.3,194.5 59.9,195.6 61.6,196.7 63.2,197.6 64.8,198.4 66.4,199.2 68.0,199.8 69.6,200.1 71.3,200.3 72.9,200.4 74.5,200.6 76.1,200.7 77.7,200.9 79.3,201.0 81.0,201.1 82.6,201.2 84.2,201.2 85.8,201.2 87.4,201.3 89.0,201.3 90.6,201.4 92.3,201.4 93.9,201.5 95.5,201.6 97.1,201.7 98.7,201.7 100.3,201.8 102.0,201.9 103.6,202.1 105.2,202.2 106.8,202.3 108.4,202.4 110.0,202.6 111.7,202.7 113.3,202.9 114.9,203.1 116.5,203.4 118.1,203.7 119.7,204.0 121.3,204.4 123.0,204.9 124.6,205.3 126.2,205.7 127.8,206.1 129.4,206.6 131.0,206.9 132.7,207.3 134.3,207.5 135.9,207.8 137.5,208.1 139.1,208.3 140.7,208.5 142.4,208.8 144.0,209.0 145.6,209.2 147.2,209.5 148.8,209.7 150.4,209.9 152.1,210.1 153.7,210.3 155.3,210.5 156.9,210.7 158.5,210.9 160.1,211.1 161.7,211.3 163.4,211.5 165.0,211.7 166.6,211.8 168.2,212.0 169.8,212.2 171.4,212.3 173.1,212.5 174.7,212.7 176.3,212.8 177.9,213.0 179.5,213.1 181.1,213.3 182.8,213.4 184.4,213.6 186.0,213.7 187.6,213.9 189.2,214.0 190.8,214.1 192.4,214.3 194.1,214.4 195.7,214.5 197.3,214.7 198.9,214.8 200.5,214.9 202.1,215.1 203.8,215.2 205.4,215.3 207.0,215.5 208.6,215.6 210.2,215.7 211.8,215.8 213.5,215.9 215.1,216.1 216.7,216.2 218.3,216.3 219.9,216.4 221.5,216.5 223.1,216.6 224.8,216.7 226.4,216.8 228.0,216.9 229.6,217.0 231.2,217.1 232.8,217.2 234.5,217.3 236.1,217.4 237.7,217.5 239.3,217.6 240.9,217.6 242.5,217.7 244.2,217.8 245.8,217.9 247.4,217.9 249.0,218.0" fill="none" stroke="#0000ff" stroke-width="1.50" stroke-dasharray="3.2,1.6"/>
<polyline points="24.4,167.3 26.0,167.3 27.6,167.4 29.2,167.5 30.9,168.3 32.5,169.3 34.1,170.8 35.7,172.7 37.3,174.8 38.9,177.4 40.6,179.8 42.2,182.3 43.8,184.7 45.4,186.8 47.0,188.7 48.6,190.6 50.3,192.5 51.9,194.5 53.5,196.4 55.1,198.2 56.7,199.8 58.3,201.4 59.9,202.9 61.6,204.3 63.2,205.5 64.8,206.4 66.4,207.1 68.0,207.7 69.6,208.2 71.3,208.6 72.9,208.9 74.5,209.0 76.1,209.2 77.7,209.3 79.3,209.4 81.0,209.4 82.6,209.5 84.2,209.5 85.8,209.5 87.4,209.5 89.0,209.5 90.6,209.5 92.3,209.5 93.9,209.5 95.5,209.5 97.1,209.5 98.7,209.5 100.3,209.5 102.0,209.5 103.6,209.5 105.2,209.5 106.8,209.6 108.4,209.6 110.0,209.8 111.7,209.9 113.3,210.1 114.9,210.3 116.5,210.5 118.1,210.7 119.7,211.0 121.3,211.2 123.0,211.5 124.6,211.7 126.2,212.0 127.8,212.2 129.4,212.4 131.0,212.6 132.7,212.8 134.3,213.0 135.9,213.2 137.5,213.4 139.1,213.5 140.7,213.7 142.4,213.9 144.0,214.1 145.6,214.2 147.2,214.4 148.8,214.6 150.4,214.8 152.1,214.9 153.7,215.1 155.3,215.3 156.9,215.4 158.5,215.6 160.1,215.8 161.7,215.9 163.4,216.1 165.0,216.2 166.6,216.4 168.2,216.6 169.8,216.7 171.4,216.9 173.1,217.0 174.7,217.2 176.3,217.3 177.9,217.4 179.5,217.6 181.1,217.7 182.8,217.9 184.4,218.0 186.0,218.1 187.6,218.2 189.2,218.3 190.8,218.5 192.4,218.6 194.1,218.7 195.7,218.8 197.3,218.9 198.9,219.0 200.5,219.1 202.1,219.2 203.8,219.3 205.4,219.4 207.0,219.5 208.6,219.6 210.2,219.7 211.8,219.8 213.5,219.9 215.1,220.0 216.7,220.1 218.3,220.2 219.9,220.2 221.5,220.3 223.1,220.4 224.8,220.5 226.4,220.6 228.0,220.7 229.6,220.7 231.2,220.8 232.8,220.9 234.5,221.0 236.1,221.0 237.7,221.1 239.3,221.2 240.9,221.2 242.5,221.3 244.2,221.3 245.8,221.4 247.4,221.4 249.0,221.5" fill="none" stroke="#00ff00" stroke-width="1.50" stroke-dasharray="3.2,1.6"/>
<polyline points="24.4,167.3 26.0,167.3 27.6,167.3 29.2,167.4 30.9,167.4 32.5,167.6 34.1,168.4 35.7,169.6 37.3,171.4 38.9,173.6 40.6,176.2 42.2,179.2 43.8,182.5 45.4,185.8 47.0,189.0 48.6,192.3 50.3,195.5 51.9,198.8 53.5,201.9 55.1,204.8 56.7,207.5 58.3,210.2 59.9,212.8 61.6,214.5 63.2,215.8 64.8,216.5 66.4,216.5 68.0,216.5 69.6,216.5 71.3,216.2 72.9,215.5 74.5,214.8 76.1,214.3 77.7,213.8 79.3,213.4 81.0,213.1 82.6,212.8 84.2,212.5 85.8,212.1 87.4,211.6 89.0,211.2 90.6,210.8 92.3,210.5 93.9,210.4 95.5,210.4 97.1,210.4 98.7,210.4 100.3,210.4 102.0,210.4 103.6,210.4 105.2,210.5 106.8,210.7 108.4,211.2 110.0,211.7 111.7,212.2 113.3,212.8 114.9,213.3 116.5,213.8 118.1,214.4 119.7,215.0 121.3,215.7 123.0,216.4 124.6,217.0 126.2,217.6 127.8,218.2 129.4,218.7 131.0,219.1 132.7,219.4 134.3,219.5 135.9,219.6 137.5,219.7 139.1,219.8 140.7,219.9 142.4,220.0 144.0,220.1 145.6,220.2 147.2,220.2 148.8,220.3 150.4,220.4 152.1,220.4 153.7,220.5 155.3,220.5 156.9,220.6 158.5,220.6 160.1,220.7 161.7,220.7 163.4,220.7 165.0,220.8 166.6,220.8 168.2,220.8 169.8,220.9 171.4,220.9 173.1,220.9 174.7,221.0 176.3,221.0 177.9,221.1 179.5,221.1 181.1,221.1 182.8,221.2 184.4,221.2 186.0,221.3 187.6,221.3 189.2,221.4 190.8,221.5 192.4,221.5 194.1,221.6 195.7,221.7 197.3,221.7 198.9,221.8 200.5,221.9 202.1,222.0 203.8,222.0 205.4,222.1 207.0,222.2 208.6,222.3 210.2,222.4 211.8,222.4 213.5,222.5 215.1,222.6 216.7,222.7 218.3,222.8 219.9,222.8 221.5,222.9 223.1,223.0 224.8,223.1 226.4,223.2 228.0,223.3 229.6,223.4 231.2,223.5 232.8,223.6 234.5,223.6 236.1,223.7 237.7,223.8 239.3,223.9 240.9,224.0 242.5,224.1 244.2,224.2 245.8,224.3 247.4,224.4 249.0,224.5" fill="none" stroke="#ff0000" stroke-width="1.50" stroke-dasharray="3.2,1.6"/>
<polyline points="24.4,167.3 26.0,167.3 27.6,167.3 29.2,167.3 30.9,167.4 32.5,167.4 34.1,167.4 35.7,167.5 37.3,167.7 38.9,168.0 40.6,168.3 42.2,168.6 43.8,168.9 45.4,169.2 47.0,169.6 48.6,169.9 50.3,170.3 51.9,170.7 53.5,171.1 55.1,171.5 56.7,171.9 58.3,172.3 59.9,172.7 61.6,173.1 63.2,173.5 64.8,173.9 66.4,174.4 68.0,174.8 69.6,175.2 71.3,175.6 72.9,175.9 74.5,176.3 76.1,176.7 77.7,177.2 79.3,177.6 81.0,178.1 82.6,178.6 84.2,179.0 85.8,179.4 87.4,179.8 89.0,180.2 90.6,180.5 92.3,180.9 93.9,181.2 95.5,181.5 97.1,181.8 98.7,182.1 100.3,182.4 102.0,182.6 103.6,182.9 105.2,183.2 106.8,183.5 108.4,183.7 110.0,183.9 111.7,184.2 113.3,184.4 114.9,184.6 116.5,184.8 118.1,185.1 119.7,185.3 121.3,185.6 123.0,185.8 124.6,186.1 126.2,186.4 127.8,186.7 129.4,187.1 131.0,187.4 132.7,187.7 134.3,188.1 135.9,188.4 137.5,188.7 139.1,189.0 140.7,189.3 142.4,189.6 144.0,189.9 145.6,190.2 147.2,190.4 148.8,190.7 150.4,191.0 152.1,191.3 153.7,191.6 155.3,191.9 156.9,192.2 158.5,192.5 160.1,192.8 161.7,193.1 163.4,193.3 165.0,193.6 166.6,193.9 168.2,194.2 169.8,194.4 171.4,194.7 173.1,194.9 174.7,195.2 176.3,195.4 177.9,195.7 179.5,195.9 181.1,196.2 182.8,196.4 184.4,196.6 186.0,196.8 187.6,197.0 189.2,197.2 190.8,197.4 192.4,197.6 194.1,197.8 195.7,198.0 197.3,198.2 198.9,198.3 200.5,198.5 202.1,198.7 203.8,198.9 205.4,199.1 207.0,199.2 208.6,199.4 210.2,199.6 211.8,199.7 213.5,199.9 215.1,200.1 216.7,200.2 218.3,200.4 219.9,200.5 221.5,200.7 223.1,200.8 224.8,201.0 226.4,201.1 228.0,201.2 229.6,201.4 231.2,201.5 232.8,201.6 234.5,201.8 236.1,201.9 237.7,202.0 239.3,202.1 240.9,202.2 242.5,202.3 244.2,202.4 245.8,202.5 247.4,202.6 249.0,202.7" fill="none" stroke="#000000" stroke-width="1.50" />
<polyline points="24.4,167.3 26.0,167.3 27.6,167.3 29.2,167.3 30.9,167.4 32.5,167.4 34.1,167.4 35.7,167.5 37.3,167.7 38.9,168.0 40.6,168.4 42.2,168.9 43.8,169.4 45.4,170.1 47.0,170.9 48.6,171.8 50.3,172.7 51.9,173.6 53.5,174.7 55.1,175.8 56.7,177.1 58.3,178.5 59.9,179.8 61.6,181.1 63.2,182.4 64.8,183.5 66.4,184.5 68.0,185.5 69.6,186.4 71.3,187.2 72.9,188.0 74.5,188.7 76.1,189.2 77.7,189.6 79.3,190.1 81.0,190.6 82.6,191.0 84.2,191.5 85.8,191.9 87.4,192.4 89.0,192.8 90.6,193.2 92.3,193.6 93.9,194.0 95.5,194.3 97.1,194.7 98.7,195.0 100.3,195.3 102.0,195.6 103.6,195.9 105.2,196.2 106.8,196.6 108.4,196.9 110.0,197.2 111.7,197.5 113.3,197.9 114.9,198.2 116.5,198.5 118.1,198.8 119.7,199.1 121.3,199.5 123.0,199.8 124.6,200.1 126.2,200.4 127.8,200.8 129.4,201.1 131.0,201.4 132.7,201.8 134.3,202.0 135.9,202.3 137.5,202.6 139.1,202.9 140.7,203.2 142.4,203.5 144.0,203.8 145.6,204.1 147.2,204.4 148.8,204.6 150.4,204.9 152.1,205.2 153.7,205.5 155.3,205.7 156.9,206.0 158.5,206.3 160.1,206.5 161.7,206.8 163.4,207.1 165.0,207.3 166.6,207.6 168.2,207.8 169.8,208.1 171.4,208.3 173.1,208.6 174.7,208.8 176.3,209.0 177.9,209.3 179.5,209.5 181.1,209.7 182.8,209.9 184.4,210.1 186.0,210.3 187.6,210.5 189.2,210.7 190.8,210.9 192.4,211.1 194.1,211.3 195.7,211.5 197.3,211.7 198.9,211.8 200.5,212.0 202.1,212.2 203.8,212.4 205.4,212.6 207.0,212.7 208.6,212.9 210.2,213.1 211.8,213.2 213.5,213.4 215.1,213.6 216.7,213.7 218.3,213.9 219.9,214.0 221.5,214.2 223.1,214.3 224.8,214.5 226.4,214.6 228.0,214.8 229.6,214.9 231.2,215.0 232.8,215.2 234.5,215.3 236.1,215.4 237.7,215.5 239.3,215.7 240.9,215.8 242.5,215.9 244.2,216.0 245.8,216.1 247.4,216.2 249.0,216.3" fill="none" stroke="#0000ff" stroke-width="1.50" />
<polyline points="24.4,167.3 26.0,167.3 27.6,167.3 29.2,167.3 30.9,167.4 32.5,167.4 34.1,167.4 35.7,167.5 37.3,167.8 38.9,168.5 40.6,169.4 42.2,170.5 43.8,171.8 45.4,173.3 47.0,174.9 48.6,176.6 50.3,178.4 51.9,180.4 53.5,182.4 55.1,184.3 56.7,186.3 58.3,188.2 59.9,190.2 61.6,192.1 63.2,194.1 64.8,195.9 66.4,197.6 68.0,199.2 69.6,200.5 71.3,201.8 72.9,202.9 74.5,203.7 76.1,204.2 77.7,204.7 79.3,205.1 81.0,205.4 82.6,205.8 84.2,206.0 85.8,206.3 87.4,206.5 89.0,206.7 90.6,206.8 92.3,207.0 93.9,207.0 95.5,207.0 97.1,207.0 98.7,207.0 100.3,207.0 102.0,207.0 103.6,207.0 105.2,207.0 106.8,207.2 108.4,207.4 110.0,207.7 111.7,208.0 113.3,208.3 114.9,208.5 116.5,208.8 118.1,209.1 119.7,209.4 121.3,209.6 123.0,209.9 124.6,210.1 126.2,210.2 127.8,210.4 129.4,210.6 131.0,210.7 132.7,210.9 134.3,211.0 135.9,211.2 137.5,211.4 139.1,211.6 140.7,211.7 142.4,211.9 144.0,212.1 145.6,212.3 147.2,212.5 148.8,212.7 150.4,212.9 152.1,213.1 153.7,213.3 155.3,213.5 156.9,213.7 158.5,213.9 160.1,214.1 161.7,214.3 163.4,214.4 165.0,214.6 166.6,214.8 168.2,215.0 169.8,215.2 171.4,215.4 173.1,215.6 174.7,215.7 176.3,215.9 177.9,216.1 179.5,216.3 181.1,216.4 182.8,216.6 184.4,216.7 186.0,216.9 187.6,217.0 189.2,217.1 190.8,217.3 192.4,217.4 194.1,217.5 195.7,217.6 197.3,217.7 198.9,217.8 200.5,217.9 202.1,218.0 203.8,218.2 205.4,218.3 207.0,218.4 208.6,218.5 210.2,218.6 211.8,218.7 213.5,218.8 215.1,218.9 216.7,219.0 218.3,219.1 219.9,219.2 221.5,219.3 223.1,219.3 224.8,219.4 226.4,219.5 228.0,219.6 229.6,219.7 231.2,219.7 232.8,219.8 234.5,219.9 236.1,220.0 237.7,220.0 239.3,220.1 240.9,220.1 242.5,220.2 244.2,220.3 245.8,220.3 247.4,220.4 249.0,220.4" fill="none" stroke="#00ff00" stroke-width="1.50" />
<polyline points="24.4,167.3 26.0,167.3 27.6,167.3 29.2,167.3 30.9,167.3 32.5,167.4 34.1,167.4 35.7,167.5 37.3,167.5 38.9,168.0 40.6,168.8 42.2,169.7 43.8,170.8 45.4,172.4 47.0,174.3 48.6,176.5 50.3,178.8 51.9,181.4 53.5,184.1 55.1,186.9 56.7,189.9 58.3,192.8 59.9,195.6 61.6,198.3 63.2,200.8 64.8,203.1 66.4,205.1 68.0,207.0 69.6,208.6 71.3,210.1 72.9,211.4 74.5,212.2 76.1,212.9 77.7,213.4 79.3,213.5 81.0,213.4 82.6,213.1 84.2,212.8 85.8,212.5 87.4,212.1 89.0,211.8 90.6,211.4 92.3,211.0 93.9,210.6 95.5,210.2 97.1,210.0 98.7,210.0 100.3,210.0 102.0,210.0 103.6,210.0 105.2,210.0 106.8,210.0 108.4,210.3 110.0,210.7 111.7,211.3 113.3,211.8 114.9,212.2 116.5,212.7 118.1,213.2 119.7,213.7 121.3,214.2 123.0,214.7 124.6,215.2 126.2,215.6 127.8,216.1 129.4,216.6 131.0,217.0 132.7,217.3 134.3,217.5 135.9,217.7 137.5,217.8 139.1,218.0 140.7,218.1 142.4,218.2 144.0,218.3 145.6,218.4 147.2,218.5 148.8,218.6 150.4,218.7 152.1,218.8 153.7,218.9 155.3,219.0 156.9,219.0 158.5,219.1 160.1,219.2 161.7,219.2 163.4,219.3 165.0,219.4 166.6,219.4 168.2,219.5 169.8,219.5 171.4,219.6 173.1,219.6 174.7,219.7 176.3,219.8 177.9,219.8 179.5,219.9 181.1,219.9 182.8,220.0 184.4,220.1 186.0,220.1 187.6,220.2 189.2,220.3 190.8,220.4 192.4,220.5 194.1,220.5 195.7,220.6 197.3,220.7 198.9,220.8 200.5,220.9 202.1,221.0 203.8,221.1 205.4,221.1 207.0,221.2 208.6,221.3 210.2,221.4 211.8,221.5 213.5,221.6 215.1,221.7 216.7,221.8 218.3,221.9 219.9,221.9 221.5,222.0 223.1,222.1 224.8,222.2 226.4,222.3 228.0,222.4 229.6,222.5 231.2,222.6 232.8,222.7 234.5,222.8 236.1,222.9 237.7,222.9 239.3,223.0 240.9,223.1 242.5,223.2 244.2,223.3 245.8,223.4 247.4,223.5 249.0,223.6" fill="none" stroke="#ff0000" stroke-width="1.50" />
</g>
<path d="M24.40 225.40V167.30H248.40" class="bx" stroke="#8c8c8c"/>
<path d="M248.40 167.30V225.40H24.40" class="bx" stroke="#b4b4b4"/>
<line x1="24.40" y1="225.40" x2="24.40" y2="223.40" class="tk"/>
<line x1="24.40" y1="167.30" x2="24.40" y2="169.30" class="tk"/>
<text x="24.40" y="232.00" class="tl" text-anchor="middle">0</text>
<line x1="61.73" y1="225.40" x2="61.73" y2="223.40" class="tk"/>
<line x1="61.73" y1="167.30" x2="61.73" y2="169.30" class="tk"/>
<text x="61.73" y="232.00" class="tl" text-anchor="middle">5</text>
<line x1="99.07" y1="225.40" x2="99.07" y2="223.40" class="tk"/>
<line x1="99.07" y1="167.30" x2="99.07" y2="169.30" class="tk"/>
<text x="99.07" y="232.00" class="tl" text-anchor="middle">10</text>
<line x1="136.40" y1="225.40" x2="136.40" y2="223.40" class="tk"/>
<line x1="136.40" y1="167.30" x2="136.40" y2="169.30" class="tk"/>
<text x="136.40" y="232.00" class="tl" text-anchor="middle">15</text>
<line x1="173.73" y1="225.40" x2="173.73" y2="223.40" class="tk"/>
<line x1="173.73" y1="167.30" x2="173.73" y2="169.30" class="tk"/>
<text x="173.73" y="232.00" class="tl" text-anchor="middle">20</text>
<line x1="211.07" y1="225.40" x2="211.07" y2="223.40" class="tk"/>
<line x1="211.07" y1="167.30" x2="211.07" y2="169.30" class="tk"/>
<text x="211.07" y="232.00" class="tl" text-anchor="middle">25</text>
<line x1="248.40" y1="225.40" x2="248.40" y2="223.40" class="tk"/>
<line x1="248.40" y1="167.30" x2="248.40" y2="169.30" class="tk"/>
<text x="248.40" y="232.00" class="tl" text-anchor="middle">30</text>
<line x1="24.40" y1="225.40" x2="26.40" y2="225.40" class="tk"/>
<line x1="248.40" y1="225.40" x2="246.40" y2="225.40" class="tk"/>
<text transform="translate(22.80,227.80) scale(0.87,1)" class="tl" text-anchor="end">-0.5</text>
<line x1="24.40" y1="213.78" x2="26.40" y2="213.78" class="tk"/>
<line x1="248.40" y1="213.78" x2="246.40" y2="213.78" class="tk"/>
<text transform="translate(22.80,216.18) scale(0.87,1)" class="tl" text-anchor="end">-0.4</text>
<line x1="24.40" y1="202.16" x2="26.40" y2="202.16" class="tk"/>
<line x1="248.40" y1="202.16" x2="246.40" y2="202.16" class="tk"/>
<text transform="translate(22.80,204.56) scale(0.87,1)" class="tl" text-anchor="end">-0.3</text>
<line x1="24.40" y1="190.54" x2="26.40" y2="190.54" class="tk"/>
<line x1="248.40" y1="190.54" x2="246.40" y2="190.54" class="tk"/>
<text transform="translate(22.80,192.94) scale(0.87,1)" class="tl" text-anchor="end">-0.2</text>
<line x1="24.40" y1="178.92" x2="26.40" y2="178.92" class="tk"/>
<line x1="248.40" y1="178.92" x2="246.40" y2="178.92" class="tk"/>
<text transform="translate(22.80,181.32) scale(0.87,1)" class="tl" text-anchor="end">-0.1</text>
<line x1="24.40" y1="167.30" x2="26.40" y2="167.30" class="tk"/>
<line x1="248.40" y1="167.30" x2="246.40" y2="167.30" class="tk"/>
<text x="22.80" y="169.70" class="tl" text-anchor="end">0</text>
<text transform="translate(9.30,196.35) rotate(-90)" class="yl" text-anchor="middle">--&gt; d<tspan dy="1.6" font-size="4.2">pac</tspan><tspan dy="-1.6">(t)</tspan></text>
<text x="136.40" y="239.20" class="yl" text-anchor="middle">--&gt; Time t</text>
<rect x="215.10" y="169.00" width="28.70" height="25.50" class="lg"/>
<line x1="216.90" y1="173.10" x2="231.80" y2="173.10" stroke="#000000" stroke-width="1.5"/>
<text transform="translate(233.60,174.85) scale(0.86,1)" class="lt">m=1</text>
<line x1="216.90" y1="179.05" x2="231.80" y2="179.05" stroke="#0000ff" stroke-width="1.5"/>
<text transform="translate(233.60,180.80) scale(0.86,1)" class="lt">m=3</text>
<line x1="216.90" y1="185.00" x2="231.80" y2="185.00" stroke="#00ff00" stroke-width="1.5"/>
<text transform="translate(233.60,186.75) scale(0.86,1)" class="lt">m=5</text>
<line x1="216.90" y1="190.95" x2="231.80" y2="190.95" stroke="#ff0000" stroke-width="1.5"/>
<text transform="translate(233.60,192.70) scale(0.86,1)" class="lt">m=7</text>
<line x1="354.73" y1="8.40" x2="354.73" y2="65.25" class="gr"/>
<line x1="392.07" y1="8.40" x2="392.07" y2="65.25" class="gr"/>
<line x1="429.40" y1="8.40" x2="429.40" y2="65.25" class="gr"/>
<line x1="466.73" y1="8.40" x2="466.73" y2="65.25" class="gr"/>
<line x1="504.07" y1="8.40" x2="504.07" y2="65.25" class="gr"/>
<line x1="317.40" y1="51.04" x2="541.40" y2="51.04" class="gr"/>
<line x1="317.40" y1="36.83" x2="541.40" y2="36.83" class="gr"/>
<line x1="317.40" y1="22.61" x2="541.40" y2="22.61" class="gr"/>
<g clip-path="url(#c_G1R1)">
<polyline points="317.4,51.0 319.0,51.0 320.6,51.0 322.2,51.0 323.8,51.0 325.5,51.0 327.1,51.0 328.7,51.0 330.3,51.0 331.9,51.0 333.5,51.0 335.1,51.0 336.7,51.0 338.3,51.0 340.0,51.0 341.6,51.0 343.2,51.0 344.8,51.0 346.4,51.0 348.0,51.0 349.6,51.0 351.2,51.0 352.9,51.0 354.5,51.0 356.1,51.0 357.7,51.0 359.3,51.0 360.9,51.0 362.5,51.0 364.1,51.0 365.7,51.0 367.4,51.0 369.0,51.0 370.6,51.0 372.2,51.0 373.8,51.0 375.4,51.0 377.0,51.0 378.6,51.0 380.2,51.0 381.9,51.0 383.5,51.0 385.1,51.0 386.7,51.0 388.3,51.0 389.9,51.0 391.5,51.0 393.1,51.0 394.8,51.0 396.4,51.0 398.0,51.0 399.6,51.0 401.2,51.0 402.8,51.0 404.4,51.0 406.0,51.0 407.6,51.0 409.3,51.0 410.9,51.0 412.5,51.0 414.1,51.0 415.7,51.0 417.3,51.0 418.9,51.0 420.5,51.0 422.1,51.0 423.8,51.0 425.4,51.0 427.0,51.0 428.6,51.0 430.2,51.0 431.8,51.0 433.4,51.0 435.0,51.0 436.7,51.0 438.3,51.0 439.9,51.0 441.5,51.0 443.1,51.0 444.7,51.0 446.3,51.0 447.9,51.0 449.5,51.0 451.2,51.0 452.8,51.0 454.4,51.0 456.0,51.0 457.6,51.0 459.2,51.0 460.8,51.0 462.4,51.0 464.0,51.0 465.7,51.0 467.3,51.0 468.9,51.0 470.5,51.0 472.1,51.0 473.7,51.0 475.3,51.0 476.9,51.0 478.6,51.0 480.2,51.0 481.8,51.0 483.4,51.0 485.0,51.0 486.6,51.0 488.2,51.0 489.8,51.0 491.4,51.0 493.1,51.0 494.7,51.0 496.3,51.0 497.9,51.0 499.5,51.0 501.1,51.0 502.7,51.0 504.3,51.0 505.9,51.0 507.6,51.0 509.2,51.0 510.8,51.0 512.4,51.0 514.0,51.0 515.6,51.0 517.2,51.0 518.8,51.0 520.5,51.0 522.1,51.0 523.7,51.0 525.3,51.0 526.9,51.0 528.5,51.0 530.1,51.0 531.7,51.0 533.3,51.0 535.0,51.0 536.6,51.0 538.2,51.0 539.8,51.0 541.4,51.0" fill="none" stroke="#b0b0b0" stroke-width="0.80" />
<polyline points="317.4,51.0 319.0,51.0 320.6,51.0 322.2,51.0 323.8,51.0 325.5,51.0 327.1,51.0 328.7,51.0 330.3,51.0 331.9,51.0 333.5,51.0 335.1,51.0 336.7,52.2 338.3,54.2 340.0,55.5 341.6,55.3 343.2,54.9 344.8,54.2 346.4,53.0 348.0,51.6 349.6,49.8 351.2,47.5 352.9,44.8 354.5,41.5 356.1,37.9 357.7,34.7 359.3,31.8 360.9,29.1 362.5,26.8 364.1,24.9 365.7,23.6 367.4,22.1 369.0,19.8 370.6,17.9 372.2,16.5 373.8,15.2 375.4,14.3 377.0,13.5 378.6,12.9 380.2,12.4 381.9,12.0 383.5,11.6 385.1,11.5 386.7,11.6 388.3,11.7 389.9,11.9 391.5,12.3 393.1,12.7 394.8,13.3 396.4,13.8 398.0,14.3 399.6,14.9 401.2,15.6 402.8,16.2 404.4,16.9 406.0,17.6 407.6,18.3 409.3,18.9 410.9,19.6 412.5,20.3 414.1,20.9 415.7,21.5 417.3,22.1 418.9,22.6 420.5,23.1 422.1,23.6 423.8,24.1 425.4,24.5 427.0,24.9 428.6,25.3 430.2,25.6 431.8,25.9 433.4,26.2 435.0,26.5 436.7,26.8 438.3,27.1 439.9,27.5 441.5,27.8 443.1,28.1 444.7,28.4 446.3,28.7 447.9,29.0 449.5,29.2 451.2,29.5 452.8,29.7 454.4,30.0 456.0,30.2 457.6,30.4 459.2,30.6 460.8,30.8 462.4,31.0 464.0,31.2 465.7,31.3 467.3,31.5 468.9,31.6 470.5,31.7 472.1,31.8 473.7,31.9 475.3,32.0 476.9,32.0 478.6,32.1 480.2,32.2 481.8,32.2 483.4,32.3 485.0,32.4 486.6,32.4 488.2,32.5 489.8,32.6 491.4,32.7 493.1,32.8 494.7,32.9 496.3,33.0 497.9,33.1 499.5,33.2 501.1,33.3 502.7,33.4 504.3,33.5 505.9,33.6 507.6,33.7 509.2,33.8 510.8,33.9 512.4,34.0 514.0,34.1 515.6,34.2 517.2,34.3 518.8,34.4 520.5,34.5 522.1,34.7 523.7,34.8 525.3,34.9 526.9,35.0 528.5,35.1 530.1,35.2 531.7,35.3 533.3,35.4 535.0,35.5 536.6,35.7 538.2,35.8 539.8,35.9 541.4,36.0" fill="none" stroke="#000000" stroke-width="1.50" />
<polyline points="317.4,51.0 319.0,51.0 320.6,51.0 322.2,51.0 323.8,51.0 325.5,51.0 327.1,51.0 328.7,51.0 330.3,51.0 331.9,51.0 333.5,51.0 335.1,51.0 336.7,52.2 338.3,54.2 340.0,55.5 341.6,55.3 343.2,54.9 344.8,54.2 346.4,53.0 348.0,51.6 349.6,49.8 351.2,47.5 352.9,44.8 354.5,41.5 356.1,37.9 357.7,34.7 359.3,31.8 360.9,29.1 362.5,26.8 364.1,24.9 365.7,23.5 367.4,22.2 369.0,20.4 370.6,19.1 372.2,18.0 373.8,17.1 375.4,16.7 377.0,16.6 378.6,16.5 380.2,16.7 381.9,17.5 383.5,18.2 385.1,18.8 386.7,19.4 388.3,20.1 389.9,21.1 391.5,22.2 393.1,23.6 394.8,25.1 396.4,26.5 398.0,27.8 399.6,29.2 401.2,30.6 402.8,31.9 404.4,33.2 406.0,34.4 407.6,35.4 409.3,36.4 410.9,37.4 412.5,38.3 414.1,39.1 415.7,39.7 417.3,40.1 418.9,40.3 420.5,40.5 422.1,40.7 423.8,40.9 425.4,41.0 427.0,41.0 428.6,41.0 430.2,41.0 431.8,41.0 433.4,41.0 435.0,41.0 436.7,41.0 438.3,41.0 439.9,40.9 441.5,40.7 443.1,40.5 444.7,40.3 446.3,40.1 447.9,40.0 449.5,40.0 451.2,40.0 452.8,39.9 454.4,39.9 456.0,39.9 457.6,39.9 459.2,39.9 460.8,39.9 462.4,40.0 464.0,40.1 465.7,40.2 467.3,40.4 468.9,40.5 470.5,40.7 472.1,40.9 473.7,41.2 475.3,41.4 476.9,41.7 478.6,41.9 480.2,42.2 481.8,42.4 483.4,42.6 485.0,42.8 486.6,43.0 488.2,43.1 489.8,43.3 491.4,43.5 493.1,43.6 494.7,43.8 496.3,44.0 497.9,44.1 499.5,44.3 501.1,44.4 502.7,44.6 504.3,44.7 505.9,44.8 507.6,44.9 509.2,45.0 510.8,45.1 512.4,45.2 514.0,45.3 515.6,45.4 517.2,45.4 518.8,45.5 520.5,45.6 522.1,45.7 523.7,45.7 525.3,45.8 526.9,45.9 528.5,45.9 530.1,46.0 531.7,46.0 533.3,46.1 535.0,46.1 536.6,46.1 538.2,46.2 539.8,46.2 541.4,46.2" fill="none" stroke="#0000ff" stroke-width="1.50" />
<polyline points="317.4,51.0 319.0,51.0 320.6,51.0 322.2,51.0 323.8,51.0 325.5,51.0 327.1,51.0 328.7,51.0 330.3,51.0 331.9,51.0 333.5,51.0 335.1,51.0 336.7,52.2 338.3,54.2 340.0,55.5 341.6,55.3 343.2,54.9 344.8,54.2 346.4,53.0 348.0,51.6 349.6,49.8 351.2,47.5 352.9,44.8 354.5,41.5 356.1,37.9 357.7,34.7 359.3,31.8 360.9,29.1 362.5,26.8 364.1,24.9 365.7,23.4 367.4,22.2 369.0,21.0 370.6,20.3 372.2,20.0 373.8,19.8 375.4,20.0 377.0,20.6 378.6,21.3 380.2,22.5 381.9,23.9 383.5,25.3 385.1,26.6 386.7,27.6 388.3,28.5 389.9,29.8 391.5,31.3 393.1,33.1 394.8,34.9 396.4,36.5 398.0,37.8 399.6,39.1 401.2,40.3 402.8,41.5 404.4,42.5 406.0,43.2 407.6,43.7 409.3,44.0 410.9,44.4 412.5,44.6 414.1,44.8 415.7,45.0 417.3,45.0 418.9,44.9 420.5,44.7 422.1,44.4 423.8,44.2 425.4,43.9 427.0,43.7 428.6,43.6 430.2,43.4 431.8,43.3 433.4,43.2 435.0,43.1 436.7,43.0 438.3,43.0 439.9,42.9 441.5,42.8 443.1,42.7 444.7,42.7 446.3,42.6 447.9,42.6 449.5,42.6 451.2,42.7 452.8,42.9 454.4,43.1 456.0,43.4 457.6,43.6 459.2,43.8 460.8,44.1 462.4,44.4 464.0,44.8 465.7,45.1 467.3,45.5 468.9,45.8 470.5,46.2 472.1,46.6 473.7,47.0 475.3,47.3 476.9,47.6 478.6,47.9 480.2,48.0 481.8,48.1 483.4,48.2 485.0,48.3 486.6,48.4 488.2,48.5 489.8,48.5 491.4,48.6 493.1,48.6 494.7,48.6 496.3,48.7 497.9,48.7 499.5,48.8 501.1,48.8 502.7,48.8 504.3,48.9 505.9,48.9 507.6,48.9 509.2,48.9 510.8,48.9 512.4,48.9 514.0,48.9 515.6,48.9 517.2,48.9 518.8,48.9 520.5,48.9 522.1,48.9 523.7,48.9 525.3,48.9 526.9,48.9 528.5,48.9 530.1,48.9 531.7,48.9 533.3,48.9 535.0,48.9 536.6,48.9 538.2,48.9 539.8,48.9 541.4,48.9" fill="none" stroke="#00ff00" stroke-width="1.50" />
<polyline points="317.4,51.0 319.0,51.0 320.6,51.0 322.2,51.0 323.8,51.0 325.5,51.0 327.1,51.0 328.7,51.0 330.3,51.0 331.9,51.0 333.5,51.0 335.1,51.0 336.7,52.2 338.3,54.2 340.0,55.5 341.6,55.3 343.2,54.9 344.8,54.2 346.4,53.0 348.0,51.6 349.6,49.8 351.2,47.5 352.9,44.8 354.5,41.5 356.1,37.9 357.7,34.7 359.3,31.8 360.9,29.1 362.5,26.8 364.1,24.9 365.7,23.4 367.4,22.3 369.0,21.5 370.6,21.7 372.2,22.1 373.8,23.0 375.4,24.5 377.0,25.9 378.6,27.5 380.2,29.3 381.9,31.3 383.5,33.4 385.1,35.2 386.7,36.9 388.3,38.4 389.9,39.8 391.5,41.2 393.1,42.5 394.8,43.7 396.4,44.7 398.0,45.4 399.6,46.1 401.2,46.7 402.8,47.2 404.4,47.5 406.0,47.7 407.6,47.8 409.3,47.9 410.9,48.0 412.5,48.0 414.1,48.0 415.7,47.7 417.3,47.4 418.9,47.0 420.5,46.6 422.1,46.2 423.8,45.7 425.4,45.2 427.0,44.7 428.6,44.3 430.2,43.8 431.8,43.4 433.4,43.2 435.0,43.0 436.7,43.0 438.3,43.2 439.9,43.5 441.5,43.8 443.1,44.2 444.7,44.5 446.3,44.9 447.9,45.3 449.5,45.7 451.2,46.1 452.8,46.5 454.4,46.8 456.0,47.2 457.6,47.6 459.2,48.0 460.8,48.3 462.4,48.6 464.0,48.8 465.7,49.0 467.3,49.1 468.9,49.3 470.5,49.4 472.1,49.4 473.7,49.5 475.3,49.5 476.9,49.5 478.6,49.5 480.2,49.4 481.8,49.4 483.4,49.4 485.0,49.3 486.6,49.3 488.2,49.3 489.8,49.3 491.4,49.3 493.1,49.3 494.7,49.3 496.3,49.3 497.9,49.3 499.5,49.3 501.1,49.3 502.7,49.3 504.3,49.3 505.9,49.3 507.6,49.3 509.2,49.3 510.8,49.3 512.4,49.3 514.0,49.3 515.6,49.3 517.2,49.3 518.8,49.3 520.5,49.3 522.1,49.3 523.7,49.3 525.3,49.4 526.9,49.4 528.5,49.4 530.1,49.4 531.7,49.4 533.3,49.4 535.0,49.4 536.6,49.5 538.2,49.5 539.8,49.5 541.4,49.5" fill="none" stroke="#ff0000" stroke-width="1.50" />
<polyline points="317.4,51.0 319.0,51.0 320.6,51.0 322.2,51.0 323.8,51.0 325.5,51.0 327.1,51.0 328.7,51.0 330.3,51.0 331.9,51.0 333.5,51.0 335.1,51.0 336.7,52.2 338.3,54.2 340.0,55.5 341.6,55.3 343.2,54.9 344.8,54.2 346.4,53.0 348.0,51.6 349.6,49.8 351.2,47.5 352.9,44.8 354.5,41.5 356.1,37.9 357.7,34.7 359.3,31.8 360.9,29.1 362.5,26.8 364.1,24.9 365.7,23.3 367.4,22.3 369.0,21.7 370.6,21.7 372.2,22.2 373.8,22.9 375.4,23.9 377.0,25.0 378.6,26.2 380.2,27.4 381.9,28.6 383.5,29.8 385.1,31.1 386.7,32.6 388.3,34.3 389.9,36.0 391.5,37.5 393.1,38.8 394.8,40.1 396.4,41.3 398.0,42.4 399.6,43.4 401.2,44.4 402.8,45.3 404.4,46.2 406.0,46.8 407.6,47.1 409.3,47.3 410.9,47.5 412.5,47.7 414.1,47.8 415.7,47.9 417.3,48.0 418.9,48.1 420.5,48.1 422.1,48.2 423.8,48.2 425.4,48.2 427.0,48.3 428.6,48.4 430.2,48.4 431.8,48.5 433.4,48.6 435.0,48.7 436.7,48.8 438.3,49.0 439.9,49.1 441.5,49.3 443.1,49.5 444.7,49.7 446.3,49.9 447.9,50.0 449.5,50.1 451.2,50.2 452.8,50.3 454.4,50.4 456.0,50.5 457.6,50.6 459.2,50.6 460.8,50.7 462.4,50.8 464.0,50.9 465.7,50.9 467.3,51.0 468.9,51.0 470.5,51.0 472.1,51.0 473.7,50.9 475.3,50.9 476.9,50.9 478.6,50.8 480.2,50.8 481.8,50.7 483.4,50.7 485.0,50.7 486.6,50.6 488.2,50.6 489.8,50.6 491.4,50.6 493.1,50.6 494.7,50.6 496.3,50.6 497.9,50.6 499.5,50.6 501.1,50.6 502.7,50.6 504.3,50.6 505.9,50.6 507.6,50.6 509.2,50.6 510.8,50.6 512.4,50.6 514.0,50.6 515.6,50.6 517.2,50.6 518.8,50.6 520.5,50.6 522.1,50.6 523.7,50.6 525.3,50.6 526.9,50.6 528.5,50.6 530.1,50.6 531.7,50.6 533.3,50.6 535.0,50.6 536.6,50.6 538.2,50.6 539.8,50.6 541.4,50.6" fill="none" stroke="#ff00ff" stroke-width="1.50" />
</g>
<path d="M317.40 65.25V8.40H541.40" class="bx" stroke="#8c8c8c"/>
<path d="M541.40 8.40V65.25H317.40" class="bx" stroke="#b4b4b4"/>
<line x1="317.40" y1="65.25" x2="317.40" y2="63.25" class="tk"/>
<line x1="317.40" y1="8.40" x2="317.40" y2="10.40" class="tk"/>
<text x="317.40" y="71.85" class="tl" text-anchor="middle">0</text>
<line x1="354.73" y1="65.25" x2="354.73" y2="63.25" class="tk"/>
<line x1="354.73" y1="8.40" x2="354.73" y2="10.40" class="tk"/>
<text x="354.73" y="71.85" class="tl" text-anchor="middle">5</text>
<line x1="392.07" y1="65.25" x2="392.07" y2="63.25" class="tk"/>
<line x1="392.07" y1="8.40" x2="392.07" y2="10.40" class="tk"/>
<text x="392.07" y="71.85" class="tl" text-anchor="middle">10</text>
<line x1="429.40" y1="65.25" x2="429.40" y2="63.25" class="tk"/>
<line x1="429.40" y1="8.40" x2="429.40" y2="10.40" class="tk"/>
<text x="429.40" y="71.85" class="tl" text-anchor="middle">15</text>
<line x1="466.73" y1="65.25" x2="466.73" y2="63.25" class="tk"/>
<line x1="466.73" y1="8.40" x2="466.73" y2="10.40" class="tk"/>
<text x="466.73" y="71.85" class="tl" text-anchor="middle">20</text>
<line x1="504.07" y1="65.25" x2="504.07" y2="63.25" class="tk"/>
<line x1="504.07" y1="8.40" x2="504.07" y2="10.40" class="tk"/>
<text x="504.07" y="71.85" class="tl" text-anchor="middle">25</text>
<line x1="541.40" y1="65.25" x2="541.40" y2="63.25" class="tk"/>
<line x1="541.40" y1="8.40" x2="541.40" y2="10.40" class="tk"/>
<text x="541.40" y="71.85" class="tl" text-anchor="middle">30</text>
<line x1="317.40" y1="65.25" x2="319.40" y2="65.25" class="tk"/>
<line x1="541.40" y1="65.25" x2="539.40" y2="65.25" class="tk"/>
<text transform="translate(315.80,67.65) scale(0.87,1)" class="tl" text-anchor="end">-0.5</text>
<line x1="317.40" y1="51.04" x2="319.40" y2="51.04" class="tk"/>
<line x1="541.40" y1="51.04" x2="539.40" y2="51.04" class="tk"/>
<text x="315.80" y="53.44" class="tl" text-anchor="end">0</text>
<line x1="317.40" y1="36.83" x2="319.40" y2="36.83" class="tk"/>
<line x1="541.40" y1="36.83" x2="539.40" y2="36.83" class="tk"/>
<text transform="translate(315.80,39.23) scale(0.87,1)" class="tl" text-anchor="end">0.5</text>
<line x1="317.40" y1="22.61" x2="319.40" y2="22.61" class="tk"/>
<line x1="541.40" y1="22.61" x2="539.40" y2="22.61" class="tk"/>
<text x="315.80" y="25.01" class="tl" text-anchor="end">1</text>
<line x1="317.40" y1="8.40" x2="319.40" y2="8.40" class="tk"/>
<line x1="541.40" y1="8.40" x2="539.40" y2="8.40" class="tk"/>
<text transform="translate(315.80,10.80) scale(0.87,1)" class="tl" text-anchor="end">1.5</text>
<text transform="translate(302.70,36.83) rotate(-90)" class="yl" text-anchor="middle">--&gt; y<tspan dy="1.6" font-size="4.2">g</tspan><tspan dy="-1.6">(t)</tspan></text>
<rect x="321.20" y="8.40" width="28.20" height="38.10" class="lg"/>
<line x1="323.00" y1="12.60" x2="337.90" y2="12.60" stroke="#9a9a9a" stroke-width="0.9" stroke-dasharray="0.7,0.5"/>
<text transform="translate(339.70,14.35) scale(0.86,1)" class="lt">w</text>
<line x1="323.00" y1="18.60" x2="337.90" y2="18.60" stroke="#000000" stroke-width="1.5"/>
<text transform="translate(339.70,20.35) scale(0.86,1)" class="lt">m=1</text>
<line x1="323.00" y1="24.60" x2="337.90" y2="24.60" stroke="#0000ff" stroke-width="1.5"/>
<text transform="translate(339.70,26.35) scale(0.86,1)" class="lt">m=3</text>
<line x1="323.00" y1="30.60" x2="337.90" y2="30.60" stroke="#00ff00" stroke-width="1.5"/>
<text transform="translate(339.70,32.35) scale(0.86,1)" class="lt">m=5</text>
<line x1="323.00" y1="36.60" x2="337.90" y2="36.60" stroke="#ff0000" stroke-width="1.5"/>
<text transform="translate(339.70,38.35) scale(0.86,1)" class="lt">m=7</text>
<line x1="323.00" y1="42.60" x2="337.90" y2="42.60" stroke="#ff00ff" stroke-width="1.5"/>
<text transform="translate(339.70,44.35) scale(0.86,1)" class="lt">AV</text>
<line x1="354.73" y1="87.80" x2="354.73" y2="145.40" class="gr"/>
<line x1="392.07" y1="87.80" x2="392.07" y2="145.40" class="gr"/>
<line x1="429.40" y1="87.80" x2="429.40" y2="145.40" class="gr"/>
<line x1="466.73" y1="87.80" x2="466.73" y2="145.40" class="gr"/>
<line x1="504.07" y1="87.80" x2="504.07" y2="145.40" class="gr"/>
<line x1="317.40" y1="131.00" x2="541.40" y2="131.00" class="gr"/>
<line x1="317.40" y1="116.60" x2="541.40" y2="116.60" class="gr"/>
<line x1="317.40" y1="102.20" x2="541.40" y2="102.20" class="gr"/>
<g clip-path="url(#c_G1R2)">
<polyline points="317.4,102.0 319.0,102.0 320.6,102.0 322.2,102.0 323.8,102.0 325.5,102.0 327.1,102.0 328.7,102.0 330.3,102.0 331.9,102.0 333.5,102.0 335.1,102.0 336.7,101.8 338.3,101.1 340.0,100.9 341.6,100.8 343.2,101.2 344.8,101.8 346.4,102.7 348.0,103.5 349.6,104.1 351.2,104.8 352.9,105.4 354.5,106.0 356.1,106.6 357.7,107.3 359.3,107.9 360.9,108.6 362.5,109.2 364.1,109.9 365.7,110.5 367.4,111.1 369.0,111.8 370.6,112.5 372.2,113.2 373.8,113.8 375.4,114.4 377.0,115.0 378.6,115.6 380.2,116.1 381.9,116.6 383.5,117.1 385.1,117.5 386.7,117.9 388.3,118.3 389.9,118.7 391.5,119.0 393.1,119.4 394.8,119.7 396.4,119.9 398.0,120.1 399.6,120.3 401.2,120.5 402.8,120.7 404.4,120.8 406.0,120.9 407.6,121.0 409.3,121.2 410.9,121.3 412.5,121.3 414.1,121.4 415.7,121.5 417.3,121.6 418.9,121.7 420.5,121.9 422.1,122.0 423.8,122.1 425.4,122.2 427.0,122.2 428.6,122.2 430.2,122.2 431.8,122.1 433.4,122.1 435.0,122.1 436.7,122.0 438.3,122.0 439.9,121.9 441.5,121.9 443.1,121.9 444.7,121.8 446.3,121.8 447.9,121.8 449.5,121.8 451.2,121.8 452.8,121.9 454.4,121.9 456.0,122.0 457.6,122.1 459.2,122.1 460.8,122.2 462.4,122.3 464.0,122.4 465.7,122.5 467.3,122.5 468.9,122.6 470.5,122.7 472.1,122.7 473.7,122.8 475.3,122.9 476.9,123.0 478.6,123.0 480.2,123.1 481.8,123.2 483.4,123.3 485.0,123.3 486.6,123.4 488.2,123.4 489.8,123.5 491.4,123.6 493.1,123.6 494.7,123.7 496.3,123.7 497.9,123.8 499.5,123.8 501.1,123.9 502.7,123.9 504.3,123.9 505.9,124.0 507.6,124.0 509.2,124.1 510.8,124.1 512.4,124.1 514.0,124.2 515.6,124.2 517.2,124.3 518.8,124.3 520.5,124.3 522.1,124.4 523.7,124.4 525.3,124.4 526.9,124.5 528.5,124.5 530.1,124.5 531.7,124.5 533.3,124.6 535.0,124.6 536.6,124.6 538.2,124.7 539.8,124.7 541.4,124.7" fill="none" stroke="#000000" stroke-width="1.50" />
<polyline points="317.4,102.0 319.0,102.0 320.6,102.0 322.2,102.0 323.8,102.0 325.5,102.0 327.1,102.0 328.7,102.0 330.3,102.0 331.9,102.0 333.5,102.0 335.1,102.0 336.7,101.3 338.3,99.3 340.0,98.8 341.6,99.3 343.2,100.6 344.8,102.0 346.4,103.5 348.0,104.8 349.6,105.9 351.2,107.0 352.9,108.1 354.5,109.2 356.1,110.3 357.7,111.5 359.3,112.8 360.9,114.2 362.5,115.5 364.1,116.8 365.7,118.1 367.4,119.2 369.0,120.3 370.6,121.4 372.2,122.4 373.8,123.4 375.4,124.2 377.0,125.0 378.6,125.7 380.2,126.4 381.9,127.1 383.5,127.7 385.1,128.2 386.7,128.5 388.3,128.8 389.9,129.1 391.5,129.3 393.1,129.4 394.8,129.3 396.4,129.2 398.0,129.0 399.6,128.8 401.2,128.6 402.8,128.3 404.4,127.9 406.0,127.6 407.6,127.3 409.3,127.0 410.9,126.8 412.5,126.6 414.1,126.4 415.7,126.2 417.3,126.0 418.9,125.7 420.5,125.5 422.1,125.3 423.8,125.1 425.4,124.9 427.0,124.8 428.6,124.7 430.2,124.7 431.8,124.6 433.4,124.6 435.0,124.5 436.7,124.5 438.3,124.5 439.9,124.6 441.5,124.8 443.1,125.0 444.7,125.3 446.3,125.5 447.9,125.8 449.5,126.0 451.2,126.3 452.8,126.5 454.4,126.8 456.0,127.1 457.6,127.3 459.2,127.5 460.8,127.7 462.4,127.9 464.0,128.1 465.7,128.3 467.3,128.4 468.9,128.5 470.5,128.6 472.1,128.6 473.7,128.6 475.3,128.7 476.9,128.7 478.6,128.7 480.2,128.8 481.8,128.8 483.4,128.8 485.0,128.8 486.6,128.9 488.2,128.9 489.8,128.9 491.4,128.9 493.1,128.9 494.7,129.0 496.3,129.0 497.9,129.0 499.5,129.0 501.1,129.1 502.7,129.1 504.3,129.1 505.9,129.1 507.6,129.2 509.2,129.2 510.8,129.2 512.4,129.2 514.0,129.2 515.6,129.3 517.2,129.3 518.8,129.3 520.5,129.3 522.1,129.3 523.7,129.3 525.3,129.4 526.9,129.4 528.5,129.4 530.1,129.4 531.7,129.4 533.3,129.4 535.0,129.5 536.6,129.5 538.2,129.5 539.8,129.5 541.4,129.5" fill="none" stroke="#0000ff" stroke-width="1.50" />
<polyline points="317.4,102.0 319.0,102.0 320.6,102.0 322.2,102.0 323.8,102.0 325.5,102.0 327.1,102.0 328.7,102.0 330.3,102.0 331.9,102.0 333.5,102.0 335.1,102.0 336.7,101.0 338.3,98.3 340.0,97.8 341.6,98.6 343.2,100.2 344.8,102.0 346.4,104.2 348.0,106.3 349.6,108.5 351.2,110.6 352.9,112.8 354.5,115.0 356.1,117.2 357.7,119.4 359.3,121.3 360.9,123.2 362.5,125.0 364.1,126.6 365.7,128.1 367.4,129.2 369.0,130.3 370.6,131.2 372.2,132.0 373.8,132.6 375.4,133.1 377.0,133.5 378.6,133.8 380.2,134.0 381.9,134.0 383.5,133.9 385.1,133.7 386.7,133.4 388.3,133.1 389.9,132.8 391.5,132.3 393.1,131.6 394.8,130.9 396.4,130.2 398.0,129.7 399.6,129.1 401.2,128.5 402.8,128.0 404.4,127.5 406.0,127.2 407.6,126.9 409.3,126.7 410.9,126.4 412.5,126.3 414.1,126.1 415.7,126.0 417.3,126.0 418.9,126.0 420.5,126.1 422.1,126.3 423.8,126.4 425.4,126.6 427.0,126.8 428.6,127.0 430.2,127.4 431.8,127.7 433.4,128.1 435.0,128.5 436.7,128.8 438.3,129.0 439.9,129.2 441.5,129.5 443.1,129.7 444.7,129.8 446.3,130.0 447.9,130.0 449.5,130.0 451.2,130.0 452.8,130.0 454.4,130.0 456.0,130.0 457.6,130.0 459.2,130.0 460.8,130.0 462.4,130.0 464.0,130.0 465.7,130.0 467.3,130.0 468.9,130.0 470.5,130.0 472.1,130.0 473.7,129.9 475.3,129.9 476.9,129.8 478.6,129.8 480.2,129.7 481.8,129.7 483.4,129.6 485.0,129.6 486.6,129.5 488.2,129.5 489.8,129.5 491.4,129.5 493.1,129.5 494.7,129.5 496.3,129.5 497.9,129.5 499.5,129.5 501.1,129.5 502.7,129.5 504.3,129.5 505.9,129.5 507.6,129.5 509.2,129.5 510.8,129.5 512.4,129.5 514.0,129.5 515.6,129.5 517.2,129.5 518.8,129.5 520.5,129.5 522.1,129.5 523.7,129.5 525.3,129.5 526.9,129.5 528.5,129.5 530.1,129.5 531.7,129.5 533.3,129.5 535.0,129.5 536.6,129.5 538.2,129.5 539.8,129.5 541.4,129.5" fill="none" stroke="#00ff00" stroke-width="1.50" />
<polyline points="317.4,102.0 319.0,102.0 320.6,102.0 322.2,102.0 323.8,102.0 325.5,102.0 327.1,102.0 328.7,102.0 330.3,102.0 331.9,102.0 333.5,102.0 335.1,102.0 336.7,100.3 338.3,96.9 340.0,96.7 341.6,97.3 343.2,98.7 344.8,100.7 346.4,103.0 348.0,105.7 349.6,108.6 351.2,111.4 352.9,114.1 354.5,116.8 356.1,119.5 357.7,122.1 359.3,124.7 360.9,127.2 362.5,129.4 364.1,131.4 365.7,133.2 367.4,134.9 369.0,136.0 370.6,136.8 372.2,137.4 373.8,137.9 375.4,138.0 377.0,137.9 378.6,137.6 380.2,137.2 381.9,136.7 383.5,135.9 385.1,134.8 386.7,133.6 388.3,132.5 389.9,131.4 391.5,130.3 393.1,129.2 394.8,128.1 396.4,127.3 398.0,126.6 399.6,125.9 401.2,125.3 402.8,124.9 404.4,124.6 406.0,124.6 407.6,124.7 409.3,124.7 410.9,124.8 412.5,125.0 414.1,125.1 415.7,125.5 417.3,125.9 418.9,126.4 420.5,126.9 422.1,127.4 423.8,128.0 425.4,128.5 427.0,129.0 428.6,129.3 430.2,129.7 431.8,130.0 433.4,130.3 435.0,130.5 436.7,130.6 438.3,130.6 439.9,130.5 441.5,130.4 443.1,130.3 444.7,130.2 446.3,130.1 447.9,130.0 449.5,129.9 451.2,129.9 452.8,129.8 454.4,129.7 456.0,129.6 457.6,129.6 459.2,129.5 460.8,129.4 462.4,129.4 464.0,129.4 465.7,129.3 467.3,129.3 468.9,129.3 470.5,129.3 472.1,129.3 473.7,129.3 475.3,129.3 476.9,129.3 478.6,129.3 480.2,129.3 481.8,129.3 483.4,129.3 485.0,129.3 486.6,129.3 488.2,129.3 489.8,129.3 491.4,129.3 493.1,129.3 494.7,129.3 496.3,129.3 497.9,129.3 499.5,129.3 501.1,129.3 502.7,129.3 504.3,129.3 505.9,129.3 507.6,129.3 509.2,129.3 510.8,129.3 512.4,129.3 514.0,129.4 515.6,129.4 517.2,129.4 518.8,129.4 520.5,129.4 522.1,129.4 523.7,129.4 525.3,129.4 526.9,129.4 528.5,129.4 530.1,129.4 531.7,129.4 533.3,129.4 535.0,129.5 536.6,129.5 538.2,129.5 539.8,129.5 541.4,129.5" fill="none" stroke="#ff0000" stroke-width="1.50" />
<polyline points="317.4,102.0 319.0,102.0 320.6,102.0 322.2,102.0 323.8,102.0 325.5,102.0 327.1,102.0 328.7,102.0 330.3,102.0 331.9,102.0 333.5,102.0 335.1,102.0 336.7,100.9 338.3,97.8 340.0,97.4 341.6,98.5 343.2,100.2 344.8,101.9 346.4,103.7 348.0,105.9 349.6,108.4 351.2,111.1 352.9,113.8 354.5,116.5 356.1,119.3 357.7,122.0 359.3,124.4 360.9,126.7 362.5,128.7 364.1,130.4 365.7,131.4 367.4,132.3 369.0,133.1 370.6,133.6 372.2,134.0 373.8,134.0 375.4,134.0 377.0,134.0 378.6,134.0 380.2,134.0 381.9,134.0 383.5,133.8 385.1,133.5 386.7,133.1 388.3,132.7 389.9,132.4 391.5,132.0 393.1,131.5 394.8,131.1 396.4,130.7 398.0,130.4 399.6,130.2 401.2,129.9 402.8,129.7 404.4,129.5 406.0,129.4 407.6,129.4 409.3,129.4 410.9,129.5 412.5,129.6 414.1,129.8 415.7,129.9 417.3,130.0 418.9,130.2 420.5,130.4 422.1,130.5 423.8,130.7 425.4,130.9 427.0,131.0 428.6,131.1 430.2,131.2 431.8,131.3 433.4,131.3 435.0,131.4 436.7,131.4 438.3,131.4 439.9,131.4 441.5,131.3 443.1,131.2 444.7,131.1 446.3,131.1 447.9,131.0 449.5,131.0 451.2,130.9 452.8,130.9 454.4,130.8 456.0,130.8 457.6,130.8 459.2,130.7 460.8,130.7 462.4,130.7 464.0,130.6 465.7,130.6 467.3,130.6 468.9,130.6 470.5,130.6 472.1,130.6 473.7,130.6 475.3,130.6 476.9,130.6 478.6,130.5 480.2,130.5 481.8,130.5 483.4,130.5 485.0,130.5 486.6,130.5 488.2,130.5 489.8,130.5 491.4,130.5 493.1,130.5 494.7,130.5 496.3,130.5 497.9,130.5 499.5,130.5 501.1,130.5 502.7,130.5 504.3,130.5 505.9,130.4 507.6,130.4 509.2,130.4 510.8,130.4 512.4,130.4 514.0,130.4 515.6,130.4 517.2,130.4 518.8,130.4 520.5,130.4 522.1,130.4 523.7,130.4 525.3,130.4 526.9,130.4 528.5,130.4 530.1,130.4 531.7,130.4 533.3,130.4 535.0,130.4 536.6,130.4 538.2,130.4 539.8,130.4 541.4,130.4" fill="none" stroke="#ff00ff" stroke-width="1.50" />
</g>
<path d="M317.40 145.40V87.80H541.40" class="bx" stroke="#8c8c8c"/>
<path d="M541.40 87.80V145.40H317.40" class="bx" stroke="#b4b4b4"/>
<line x1="317.40" y1="145.40" x2="317.40" y2="143.40" class="tk"/>
<line x1="317.40" y1="87.80" x2="317.40" y2="89.80" class="tk"/>
<text x="317.40" y="152.00" class="tl" text-anchor="middle">0</text>
<line x1="354.73" y1="145.40" x2="354.73" y2="143.40" class="tk"/>
<line x1="354.73" y1="87.80" x2="354.73" y2="89.80" class="tk"/>
<text x="354.73" y="152.00" class="tl" text-anchor="middle">5</text>
<line x1="392.07" y1="145.40" x2="392.07" y2="143.40" class="tk"/>
<line x1="392.07" y1="87.80" x2="392.07" y2="89.80" class="tk"/>
<text x="392.07" y="152.00" class="tl" text-anchor="middle">10</text>
<line x1="429.40" y1="145.40" x2="429.40" y2="143.40" class="tk"/>
<line x1="429.40" y1="87.80" x2="429.40" y2="89.80" class="tk"/>
<text x="429.40" y="152.00" class="tl" text-anchor="middle">15</text>
<line x1="466.73" y1="145.40" x2="466.73" y2="143.40" class="tk"/>
<line x1="466.73" y1="87.80" x2="466.73" y2="89.80" class="tk"/>
<text x="466.73" y="152.00" class="tl" text-anchor="middle">20</text>
<line x1="504.07" y1="145.40" x2="504.07" y2="143.40" class="tk"/>
<line x1="504.07" y1="87.80" x2="504.07" y2="89.80" class="tk"/>
<text x="504.07" y="152.00" class="tl" text-anchor="middle">25</text>
<line x1="541.40" y1="145.40" x2="541.40" y2="143.40" class="tk"/>
<line x1="541.40" y1="87.80" x2="541.40" y2="89.80" class="tk"/>
<text x="541.40" y="152.00" class="tl" text-anchor="middle">30</text>
<line x1="317.40" y1="145.40" x2="319.40" y2="145.40" class="tk"/>
<line x1="541.40" y1="145.40" x2="539.40" y2="145.40" class="tk"/>
<text transform="translate(315.80,147.80) scale(0.87,1)" class="tl" text-anchor="end">-1.5</text>
<line x1="317.40" y1="131.00" x2="319.40" y2="131.00" class="tk"/>
<line x1="541.40" y1="131.00" x2="539.40" y2="131.00" class="tk"/>
<text x="315.80" y="133.40" class="tl" text-anchor="end">-1</text>
<line x1="317.40" y1="116.60" x2="319.40" y2="116.60" class="tk"/>
<line x1="541.40" y1="116.60" x2="539.40" y2="116.60" class="tk"/>
<text transform="translate(315.80,119.00) scale(0.87,1)" class="tl" text-anchor="end">-0.5</text>
<line x1="317.40" y1="102.20" x2="319.40" y2="102.20" class="tk"/>
<line x1="541.40" y1="102.20" x2="539.40" y2="102.20" class="tk"/>
<text x="315.80" y="104.60" class="tl" text-anchor="end">0</text>
<line x1="317.40" y1="87.80" x2="319.40" y2="87.80" class="tk"/>
<line x1="541.40" y1="87.80" x2="539.40" y2="87.80" class="tk"/>
<text transform="translate(315.80,90.20) scale(0.87,1)" class="tl" text-anchor="end">0.5</text>
<text transform="translate(302.70,116.60) rotate(-90)" class="yl" text-anchor="middle">--&gt; u<tspan dy="1.6" font-size="4.2">g</tspan><tspan dy="-1.6">(t)</tspan></text>
<rect x="508.30" y="88.80" width="28.60" height="31.70" class="lg"/>
<line x1="510.10" y1="92.70" x2="525.00" y2="92.70" stroke="#000000" stroke-width="1.5"/>
<text transform="translate(526.80,94.45) scale(0.86,1)" class="lt">m=1</text>
<line x1="510.10" y1="98.65" x2="525.00" y2="98.65" stroke="#0000ff" stroke-width="1.5"/>
<text transform="translate(526.80,100.40) scale(0.86,1)" class="lt">m=3</text>
<line x1="510.10" y1="104.60" x2="525.00" y2="104.60" stroke="#00ff00" stroke-width="1.5"/>
<text transform="translate(526.80,106.35) scale(0.86,1)" class="lt">m=5</text>
<line x1="510.10" y1="110.55" x2="525.00" y2="110.55" stroke="#ff0000" stroke-width="1.5"/>
<text transform="translate(526.80,112.30) scale(0.86,1)" class="lt">m=7</text>
<line x1="510.10" y1="116.50" x2="525.00" y2="116.50" stroke="#ff00ff" stroke-width="1.5"/>
<text transform="translate(526.80,118.25) scale(0.86,1)" class="lt">AV</text>
<line x1="354.73" y1="167.70" x2="354.73" y2="225.10" class="gr"/>
<line x1="392.07" y1="167.70" x2="392.07" y2="225.10" class="gr"/>
<line x1="429.40" y1="167.70" x2="429.40" y2="225.10" class="gr"/>
<line x1="466.73" y1="167.70" x2="466.73" y2="225.10" class="gr"/>
<line x1="504.07" y1="167.70" x2="504.07" y2="225.10" class="gr"/>
<line x1="317.40" y1="220.10" x2="541.40" y2="220.10" class="gr"/>
<line x1="317.40" y1="202.63" x2="541.40" y2="202.63" class="gr"/>
<line x1="317.40" y1="185.17" x2="541.40" y2="185.17" class="gr"/>
<g clip-path="url(#c_G1R3)">
<polyline points="317.4,220.1 319.0,220.1 320.6,220.1 322.2,220.1 323.8,220.1 325.5,220.1 327.1,220.1 328.7,220.1 330.3,220.1 331.9,220.1 333.5,220.1 335.1,220.1 336.7,220.2 338.3,220.8 340.0,221.2 341.6,221.5 343.2,221.6 344.8,221.6 346.4,221.6 348.0,221.5 349.6,221.1 351.2,220.7 352.9,220.2 354.5,219.7 356.1,219.1 357.7,218.5 359.3,217.8 360.9,217.1 362.5,216.3 364.1,215.5 365.7,214.6 367.4,213.6 369.0,212.6 370.6,211.6 372.2,210.7 373.8,209.7 375.4,208.8 377.0,207.9 378.6,207.1 380.2,206.4 381.9,205.7 383.5,205.1 385.1,204.5 386.7,204.0 388.3,203.5 389.9,203.0 391.5,202.5 393.1,201.8 394.8,201.2 396.4,200.7 398.0,200.2 399.6,199.8 401.2,199.5 402.8,199.1 404.4,198.8 406.0,198.5 407.6,198.3 409.3,198.1 410.9,197.9 412.5,197.8 414.1,197.6 415.7,197.5 417.3,197.4 418.9,197.3 420.5,197.2 422.1,197.1 423.8,197.1 425.4,197.0 427.0,197.0 428.6,197.0 430.2,197.0 431.8,196.9 433.4,196.9 435.0,196.9 436.7,196.9 438.3,196.9 439.9,196.9 441.5,196.9 443.1,196.9 444.7,196.8 446.3,196.8 447.9,196.8 449.5,196.8 451.2,196.7 452.8,196.7 454.4,196.6 456.0,196.6 457.6,196.5 459.2,196.4 460.8,196.4 462.4,196.3 464.0,196.2 465.7,196.1 467.3,196.1 468.9,196.0 470.5,195.9 472.1,195.9 473.7,195.8 475.3,195.7 476.9,195.6 478.6,195.6 480.2,195.5 481.8,195.4 483.4,195.3 485.0,195.2 486.6,195.2 488.2,195.1 489.8,195.0 491.4,194.9 493.1,194.8 494.7,194.7 496.3,194.6 497.9,194.6 499.5,194.5 501.1,194.4 502.7,194.3 504.3,194.2 505.9,194.1 507.6,194.0 509.2,194.0 510.8,193.9 512.4,193.8 514.0,193.8 515.6,193.7 517.2,193.6 518.8,193.6 520.5,193.5 522.1,193.5 523.7,193.4 525.3,193.3 526.9,193.3 528.5,193.2 530.1,193.2 531.7,193.1 533.3,193.1 535.0,193.1 536.6,193.0 538.2,193.0 539.8,192.9 541.4,192.9" fill="none" stroke="#000000" stroke-width="1.50" />
<polyline points="317.4,220.1 319.0,220.1 320.6,220.1 322.2,220.1 323.8,220.1 325.5,220.1 327.1,220.1 328.7,220.1 330.3,220.1 331.9,220.1 333.5,220.1 335.1,220.1 336.7,220.3 338.3,221.4 340.0,222.0 341.6,222.3 343.2,222.2 344.8,222.0 346.4,221.7 348.0,221.3 349.6,220.7 351.2,219.7 352.9,218.2 354.5,216.6 356.1,214.8 357.7,212.9 359.3,210.9 360.9,208.9 362.5,206.9 364.1,205.0 365.7,203.1 367.4,201.3 369.0,199.6 370.6,197.9 372.2,196.4 373.8,194.9 375.4,193.7 377.0,192.6 378.6,191.7 380.2,190.9 381.9,190.1 383.5,189.5 385.1,189.0 386.7,188.6 388.3,188.3 389.9,188.0 391.5,187.8 393.1,187.5 394.8,187.3 396.4,187.2 398.0,187.2 399.6,187.3 401.2,187.3 402.8,187.4 404.4,187.6 406.0,187.7 407.6,187.9 409.3,188.2 410.9,188.6 412.5,188.9 414.1,189.2 415.7,189.6 417.3,190.1 418.9,190.5 420.5,190.9 422.1,191.3 423.8,191.8 425.4,192.1 427.0,192.3 428.6,192.3 430.2,192.3 431.8,192.3 433.4,192.3 435.0,192.2 436.7,192.2 438.3,192.2 439.9,192.1 441.5,191.9 443.1,191.6 444.7,191.3 446.3,191.1 447.9,190.8 449.5,190.6 451.2,190.3 452.8,190.0 454.4,189.7 456.0,189.5 457.6,189.2 459.2,189.0 460.8,188.8 462.4,188.6 464.0,188.4 465.7,188.2 467.3,188.1 468.9,188.0 470.5,187.9 472.1,187.9 473.7,187.8 475.3,187.7 476.9,187.7 478.6,187.6 480.2,187.6 481.8,187.5 483.4,187.5 485.0,187.5 486.6,187.4 488.2,187.4 489.8,187.4 491.4,187.4 493.1,187.4 494.7,187.3 496.3,187.3 497.9,187.3 499.5,187.3 501.1,187.3 502.7,187.2 504.3,187.2 505.9,187.2 507.6,187.2 509.2,187.2 510.8,187.2 512.4,187.1 514.0,187.1 515.6,187.1 517.2,187.1 518.8,187.1 520.5,187.1 522.1,187.1 523.7,187.1 525.3,187.0 526.9,187.0 528.5,187.0 530.1,187.0 531.7,187.0 533.3,187.0 535.0,187.0 536.6,187.0 538.2,187.0 539.8,187.0 541.4,187.0" fill="none" stroke="#0000ff" stroke-width="1.50" />
<polyline points="317.4,220.1 319.0,220.1 320.6,220.1 322.2,220.1 323.8,220.1 325.5,220.1 327.1,220.1 328.7,220.1 330.3,220.1 331.9,220.1 333.5,220.1 335.1,220.1 336.7,220.4 338.3,222.1 340.0,222.9 341.6,223.3 343.2,223.5 344.8,222.8 346.4,221.5 348.0,220.0 349.6,217.8 351.2,215.7 352.9,213.8 354.5,211.7 356.1,209.4 357.7,206.8 359.3,204.1 360.9,201.5 362.5,198.9 364.1,196.3 365.7,193.9 367.4,191.5 369.0,189.2 370.6,187.4 372.2,185.7 373.8,184.3 375.4,183.3 377.0,182.5 378.6,181.8 380.2,181.5 381.9,181.2 383.5,181.1 385.1,181.0 386.7,181.3 388.3,181.8 389.9,182.5 391.5,183.1 393.1,183.7 394.8,184.4 396.4,185.1 398.0,185.8 399.6,186.5 401.2,187.1 402.8,187.6 404.4,188.2 406.0,188.7 407.6,189.1 409.3,189.6 410.9,190.0 412.5,190.4 414.1,190.8 415.7,191.1 417.3,191.2 418.9,191.3 420.5,191.3 422.1,191.4 423.8,191.4 425.4,191.4 427.0,191.4 428.6,191.3 430.2,191.0 431.8,190.5 433.4,190.0 435.0,189.4 436.7,188.9 438.3,188.5 439.9,188.0 441.5,187.5 443.1,187.0 444.7,186.6 446.3,186.2 447.9,186.0 449.5,185.9 451.2,185.8 452.8,185.7 454.4,185.6 456.0,185.5 457.6,185.5 459.2,185.5 460.8,185.5 462.4,185.6 464.0,185.7 465.7,185.8 467.3,185.9 468.9,186.1 470.5,186.2 472.1,186.3 473.7,186.4 475.3,186.5 476.9,186.6 478.6,186.6 480.2,186.6 481.8,186.6 483.4,186.6 485.0,186.6 486.6,186.6 488.2,186.6 489.8,186.6 491.4,186.6 493.1,186.6 494.7,186.6 496.3,186.6 497.9,186.6 499.5,186.6 501.1,186.6 502.7,186.6 504.3,186.6 505.9,186.6 507.6,186.6 509.2,186.6 510.8,186.5 512.4,186.5 514.0,186.5 515.6,186.5 517.2,186.5 518.8,186.5 520.5,186.4 522.1,186.4 523.7,186.4 525.3,186.3 526.9,186.3 528.5,186.3 530.1,186.3 531.7,186.2 533.3,186.2 535.0,186.1 536.6,186.1 538.2,186.1 539.8,186.0 541.4,186.0" fill="none" stroke="#00ff00" stroke-width="1.50" />
<polyline points="317.4,220.1 319.0,220.1 320.6,220.1 322.2,220.1 323.8,220.1 325.5,220.1 327.1,220.1 328.7,220.1 330.3,220.1 331.9,220.1 333.5,220.1 335.1,220.1 336.7,221.3 338.3,222.8 340.0,224.1 341.6,224.9 343.2,224.7 344.8,223.7 346.4,221.8 348.0,219.5 349.6,216.7 351.2,212.9 352.9,209.0 354.5,205.4 356.1,201.9 357.7,198.7 359.3,195.6 360.9,192.8 362.5,190.2 364.1,187.8 365.7,185.6 367.4,183.6 369.0,181.7 370.6,180.1 372.2,178.9 373.8,178.0 375.4,177.3 377.0,177.0 378.6,177.1 380.2,177.2 381.9,177.5 383.5,177.9 385.1,178.8 386.7,179.8 388.3,181.2 389.9,182.9 391.5,184.3 393.1,185.5 394.8,186.6 396.4,187.6 398.0,188.6 399.6,189.5 401.2,190.3 402.8,190.9 404.4,191.5 406.0,191.9 407.6,192.3 409.3,192.4 410.9,192.3 412.5,192.2 414.1,192.0 415.7,191.8 417.3,191.5 418.9,191.1 420.5,190.5 422.1,189.9 423.8,189.4 425.4,188.9 427.0,188.4 428.6,187.9 430.2,187.2 431.8,186.6 433.4,186.0 435.0,185.5 436.7,185.0 438.3,184.8 439.9,184.6 441.5,184.4 443.1,184.3 444.7,184.3 446.3,184.4 447.9,184.5 449.5,184.7 451.2,184.8 452.8,185.0 454.4,185.1 456.0,185.3 457.6,185.5 459.2,185.7 460.8,185.9 462.4,186.0 464.0,186.1 465.7,186.2 467.3,186.3 468.9,186.3 470.5,186.4 472.1,186.5 473.7,186.5 475.3,186.6 476.9,186.6 478.6,186.6 480.2,186.6 481.8,186.5 483.4,186.5 485.0,186.4 486.6,186.3 488.2,186.1 489.8,186.0 491.4,185.9 493.1,185.7 494.7,185.6 496.3,185.5 497.9,185.4 499.5,185.3 501.1,185.3 502.7,185.2 504.3,185.2 505.9,185.1 507.6,185.1 509.2,185.1 510.8,185.0 512.4,185.0 514.0,185.0 515.6,184.9 517.2,184.9 518.8,184.9 520.5,184.9 522.1,184.9 523.7,184.9 525.3,184.9 526.9,184.9 528.5,185.0 530.1,185.0 531.7,185.0 533.3,185.0 535.0,185.1 536.6,185.1 538.2,185.2 539.8,185.2 541.4,185.3" fill="none" stroke="#ff0000" stroke-width="1.50" />
</g>
<path d="M317.40 225.10V167.70H541.40" class="bx" stroke="#8c8c8c"/>
<path d="M541.40 167.70V225.10H317.40" class="bx" stroke="#b4b4b4"/>
<line x1="317.40" y1="225.10" x2="317.40" y2="223.10" class="tk"/>
<line x1="317.40" y1="167.70" x2="317.40" y2="169.70" class="tk"/>
<text x="317.40" y="231.70" class="tl" text-anchor="middle">0</text>
<line x1="354.73" y1="225.10" x2="354.73" y2="223.10" class="tk"/>
<line x1="354.73" y1="167.70" x2="354.73" y2="169.70" class="tk"/>
<text x="354.73" y="231.70" class="tl" text-anchor="middle">5</text>
<line x1="392.07" y1="225.10" x2="392.07" y2="223.10" class="tk"/>
<line x1="392.07" y1="167.70" x2="392.07" y2="169.70" class="tk"/>
<text x="392.07" y="231.70" class="tl" text-anchor="middle">10</text>
<line x1="429.40" y1="225.10" x2="429.40" y2="223.10" class="tk"/>
<line x1="429.40" y1="167.70" x2="429.40" y2="169.70" class="tk"/>
<text x="429.40" y="231.70" class="tl" text-anchor="middle">15</text>
<line x1="466.73" y1="225.10" x2="466.73" y2="223.10" class="tk"/>
<line x1="466.73" y1="167.70" x2="466.73" y2="169.70" class="tk"/>
<text x="466.73" y="231.70" class="tl" text-anchor="middle">20</text>
<line x1="504.07" y1="225.10" x2="504.07" y2="223.10" class="tk"/>
<line x1="504.07" y1="167.70" x2="504.07" y2="169.70" class="tk"/>
<text x="504.07" y="231.70" class="tl" text-anchor="middle">25</text>
<line x1="541.40" y1="225.10" x2="541.40" y2="223.10" class="tk"/>
<line x1="541.40" y1="167.70" x2="541.40" y2="169.70" class="tk"/>
<text x="541.40" y="231.70" class="tl" text-anchor="middle">30</text>
<line x1="317.40" y1="220.10" x2="319.40" y2="220.10" class="tk"/>
<line x1="541.40" y1="220.10" x2="539.40" y2="220.10" class="tk"/>
<text x="315.80" y="222.50" class="tl" text-anchor="end">0</text>
<line x1="317.40" y1="202.63" x2="319.40" y2="202.63" class="tk"/>
<line x1="541.40" y1="202.63" x2="539.40" y2="202.63" class="tk"/>
<text transform="translate(315.80,205.03) scale(0.87,1)" class="tl" text-anchor="end">0.5</text>
<line x1="317.40" y1="185.17" x2="319.40" y2="185.17" class="tk"/>
<line x1="541.40" y1="185.17" x2="539.40" y2="185.17" class="tk"/>
<text x="315.80" y="187.57" class="tl" text-anchor="end">1</text>
<line x1="317.40" y1="167.70" x2="319.40" y2="167.70" class="tk"/>
<line x1="541.40" y1="167.70" x2="539.40" y2="167.70" class="tk"/>
<text transform="translate(315.80,170.10) scale(0.87,1)" class="tl" text-anchor="end">1.5</text>
<text transform="translate(304.50,196.40) rotate(-90)" class="yl" text-anchor="middle">--&gt; d<tspan dy="1.6" font-size="4.2">gac</tspan><tspan dy="-1.6">(t)</tspan></text>
<text x="429.40" y="238.90" class="yl" text-anchor="middle">--&gt; Time t</text>
<rect x="508.30" y="198.50" width="28.60" height="26.10" class="lg"/>
<line x1="510.10" y1="201.60" x2="525.00" y2="201.60" stroke="#000000" stroke-width="1.5"/>
<text transform="translate(526.80,203.35) scale(0.86,1)" class="lt">m=1</text>
<line x1="510.10" y1="207.60" x2="525.00" y2="207.60" stroke="#0000ff" stroke-width="1.5"/>
<text transform="translate(526.80,209.35) scale(0.86,1)" class="lt">m=3</text>
<line x1="510.10" y1="213.60" x2="525.00" y2="213.60" stroke="#00ff00" stroke-width="1.5"/>
<text transform="translate(526.80,215.35) scale(0.86,1)" class="lt">m=5</text>
<line x1="510.10" y1="219.60" x2="525.00" y2="219.60" stroke="#ff0000" stroke-width="1.5"/>
<text transform="translate(526.80,221.35) scale(0.86,1)" class="lt">m=7</text>
<line x1="61.73" y1="277.40" x2="61.73" y2="333.10" class="gr"/>
<line x1="99.07" y1="277.40" x2="99.07" y2="333.10" class="gr"/>
<line x1="136.40" y1="277.40" x2="136.40" y2="333.10" class="gr"/>
<line x1="173.73" y1="277.40" x2="173.73" y2="333.10" class="gr"/>
<line x1="211.07" y1="277.40" x2="211.07" y2="333.10" class="gr"/>
<line x1="24.40" y1="329.60" x2="248.40" y2="329.60" class="gr"/>
<line x1="24.40" y1="319.16" x2="248.40" y2="319.16" class="gr"/>
<line x1="24.40" y1="308.72" x2="248.40" y2="308.72" class="gr"/>
<line x1="24.40" y1="298.28" x2="248.40" y2="298.28" class="gr"/>
<line x1="24.40" y1="287.84" x2="248.40" y2="287.84" class="gr"/>
<g clip-path="url(#c_G2L1)">
<polyline points="24.4,329.6 26.0,329.8 27.6,330.0 29.2,330.2 30.9,330.4 32.5,330.6 34.1,330.7 35.7,330.8 37.3,330.9 38.9,330.9 40.6,331.0 42.2,331.0 43.8,330.8 45.4,330.3 47.0,329.2 48.6,327.5 50.3,325.5 51.9,323.6 53.5,321.7 55.1,319.7 56.7,317.4 58.3,315.0 59.9,312.7 61.6,310.5 63.2,308.3 64.8,306.3 66.4,304.2 68.0,302.2 69.6,300.5 71.3,298.9 72.9,297.5 74.5,296.3 76.1,295.4 77.7,294.5 79.3,293.8 81.0,293.3 82.6,292.8 84.2,292.5 85.8,292.4 87.4,292.3 89.0,292.1 90.6,291.9 92.3,291.7 93.9,291.4 95.5,291.1 97.1,290.7 98.7,290.3 100.3,289.9 102.0,289.6 103.6,289.2 105.2,288.8 106.8,288.4 108.4,287.9 110.0,287.5 111.7,287.0 113.3,286.6 114.9,286.0 116.5,285.6 118.1,285.1 119.7,284.7 121.3,284.3 123.0,283.9 124.6,283.6 126.2,283.3 127.8,283.0 129.4,282.7 131.0,282.6 132.7,282.4 134.3,282.2 135.9,282.1 137.5,282.0 139.1,281.9 140.7,281.7 142.4,281.6 144.0,281.5 145.6,281.4 147.2,281.4 148.8,281.3 150.4,281.2 152.1,281.1 153.7,281.0 155.3,281.0 156.9,280.9 158.5,280.8 160.1,280.8 161.7,280.7 163.4,280.6 165.0,280.6 166.6,280.5 168.2,280.5 169.8,280.4 171.4,280.3 173.1,280.3 174.7,280.2 176.3,280.2 177.9,280.1 179.5,280.0 181.1,280.0 182.8,279.9 184.4,279.9 186.0,279.8 187.6,279.8 189.2,279.7 190.8,279.7 192.4,279.6 194.1,279.6 195.7,279.5 197.3,279.5 198.9,279.4 200.5,279.4 202.1,279.3 203.8,279.3 205.4,279.2 207.0,279.1 208.6,279.1 210.2,279.0 211.8,279.0 213.5,278.9 215.1,278.9 216.7,278.8 218.3,278.8 219.9,278.7 221.5,278.7 223.1,278.6 224.8,278.5 226.4,278.5 228.0,278.4 229.6,278.4 231.2,278.3 232.8,278.3 234.5,278.2 236.1,278.2 237.7,278.1 239.3,278.1 240.9,278.0 242.5,277.9 244.2,277.9 245.8,277.8 247.4,277.8 249.0,277.7" fill="none" stroke="#00ff00" stroke-width="1.20" stroke-dasharray="0.9,0.9"/>
<polyline points="24.4,329.6 26.0,329.9 27.6,330.2 29.2,330.5 30.9,330.8 32.5,331.0 34.1,331.2 35.7,331.4 37.3,331.6 38.9,331.7 40.6,331.8 42.2,331.5 43.8,330.8 45.4,329.8 47.0,327.8 48.6,325.5 50.3,323.3 51.9,321.1 53.5,318.8 55.1,316.2 56.7,313.5 58.3,310.7 59.9,308.1 61.6,305.6 63.2,303.2 64.8,301.1 66.4,299.0 68.0,297.1 69.6,295.5 71.3,294.2 72.9,293.1 74.5,292.2 76.1,291.7 77.7,291.2 79.3,290.9 81.0,290.7 82.6,290.6 84.2,290.5 85.8,290.4 87.4,290.1 89.0,289.5 90.6,289.0 92.3,288.4 93.9,287.8 95.5,287.2 97.1,286.6 98.7,286.1 100.3,285.6 102.0,285.2 103.6,284.7 105.2,284.3 106.8,283.9 108.4,283.6 110.0,283.2 111.7,282.9 113.3,282.5 114.9,282.2 116.5,281.9 118.1,281.6 119.7,281.3 121.3,281.1 123.0,280.9 124.6,280.8 126.2,280.6 127.8,280.5 129.4,280.3 131.0,280.2 132.7,280.1 134.3,280.0 135.9,279.9 137.5,279.8 139.1,279.7 140.7,279.6 142.4,279.5 144.0,279.4 145.6,279.4 147.2,279.3 148.8,279.2 150.4,279.1 152.1,279.1 153.7,279.0 155.3,279.0 156.9,278.9 158.5,278.8 160.1,278.8 161.7,278.7 163.4,278.7 165.0,278.6 166.6,278.6 168.2,278.5 169.8,278.5 171.4,278.4 173.1,278.4 174.7,278.4 176.3,278.3 177.9,278.3 179.5,278.3 181.1,278.2 182.8,278.2 184.4,278.2 186.0,278.2 187.6,278.1 189.2,278.1 190.8,278.1 192.4,278.0 194.1,278.0 195.7,278.0 197.3,278.0 198.9,277.9 200.5,277.9 202.1,277.9 203.8,277.9 205.4,277.8 207.0,277.8 208.6,277.8 210.2,277.7 211.8,277.7 213.5,277.7 215.1,277.7 216.7,277.6 218.3,277.6 219.9,277.6 221.5,277.5 223.1,277.5 224.8,277.5 226.4,277.5 228.0,277.4 229.6,277.4 231.2,277.4 232.8,277.3 234.5,277.3 236.1,277.3 237.7,277.3 239.3,277.2 240.9,277.2 242.5,277.2 244.2,277.1 245.8,277.1 247.4,277.1 249.0,277.1" fill="none" stroke="#ff0000" stroke-width="1.20" stroke-dasharray="0.9,0.9"/>
<polyline points="24.4,329.6 26.0,329.7 27.6,329.7 29.2,329.8 30.9,329.8 32.5,329.9 34.1,330.0 35.7,330.0 37.3,330.1 38.9,330.2 40.6,330.3 42.2,330.4 43.8,330.5 45.4,330.5 47.0,330.2 48.6,329.6 50.3,328.8 51.9,327.8 53.5,326.8 55.1,325.9 56.7,325.1 58.3,324.3 59.9,323.4 61.6,322.4 63.2,321.3 64.8,320.2 66.4,318.7 68.0,316.9 69.6,315.3 71.3,314.1 72.9,313.1 74.5,312.2 76.1,311.5 77.7,310.8 79.3,310.2 81.0,309.7 82.6,309.2 84.2,308.7 85.8,308.2 87.4,307.6 89.0,307.2 90.6,306.9 92.3,306.8 93.9,306.8 95.5,306.7 97.1,306.7 98.7,306.6 100.3,306.5 102.0,306.3 103.6,306.0 105.2,305.8 106.8,305.5 108.4,305.2 110.0,305.0 111.7,304.8 113.3,304.6 114.9,304.5 116.5,304.3 118.1,304.2 119.7,304.0 121.3,303.9 123.0,303.7 124.6,303.6 126.2,303.4 127.8,303.3 129.4,303.1 131.0,302.8 132.7,302.5 134.3,302.1 135.9,301.7 137.5,301.3 139.1,300.8 140.7,300.4 142.4,299.9 144.0,299.5 145.6,299.2 147.2,298.8 148.8,298.5 150.4,298.2 152.1,297.9 153.7,297.6 155.3,297.3 156.9,297.0 158.5,296.7 160.1,296.5 161.7,296.2 163.4,295.9 165.0,295.7 166.6,295.4 168.2,295.1 169.8,294.9 171.4,294.7 173.1,294.4 174.7,294.2 176.3,294.0 177.9,293.7 179.5,293.5 181.1,293.3 182.8,293.1 184.4,292.9 186.0,292.7 187.6,292.5 189.2,292.3 190.8,292.1 192.4,291.9 194.1,291.7 195.7,291.5 197.3,291.3 198.9,291.1 200.5,290.9 202.1,290.8 203.8,290.6 205.4,290.4 207.0,290.2 208.6,290.0 210.2,289.9 211.8,289.7 213.5,289.5 215.1,289.3 216.7,289.2 218.3,289.0 219.9,288.8 221.5,288.7 223.1,288.5 224.8,288.3 226.4,288.2 228.0,288.0 229.6,287.9 231.2,287.7 232.8,287.5 234.5,287.4 236.1,287.2 237.7,287.1 239.3,286.9 240.9,286.8 242.5,286.7 244.2,286.5 245.8,286.4 247.4,286.2 249.0,286.1" fill="none" stroke="#000000" stroke-width="1.50" stroke-dasharray="0.9,0.9"/>
<polyline points="24.4,329.6 26.0,329.6 27.6,329.7 29.2,329.7 30.9,329.8 32.5,329.9 34.1,330.0 35.7,330.0 37.3,330.2 38.9,330.4 40.6,330.6 42.2,330.8 43.8,331.0 45.4,331.0 47.0,330.5 48.6,329.5 50.3,328.3 51.9,327.1 53.5,325.8 55.1,324.2 56.7,322.4 58.3,320.6 59.9,318.6 61.6,316.5 63.2,314.4 64.8,312.3 66.4,310.2 68.0,308.2 69.6,306.4 71.3,304.8 72.9,303.4 74.5,302.3 76.1,301.5 77.7,300.8 79.3,300.2 81.0,299.7 82.6,299.3 84.2,298.9 85.8,298.5 87.4,298.2 89.0,298.0 90.6,297.7 92.3,297.5 93.9,297.2 95.5,297.0 97.1,296.8 98.7,296.5 100.3,296.2 102.0,295.9 103.6,295.5 105.2,295.2 106.8,294.8 108.4,294.4 110.0,294.0 111.7,293.6 113.3,293.3 114.9,292.9 116.5,292.6 118.1,292.2 119.7,291.9 121.3,291.5 123.0,291.1 124.6,290.7 126.2,290.4 127.8,290.0 129.4,289.6 131.0,289.3 132.7,288.9 134.3,288.5 135.9,288.1 137.5,287.7 139.1,287.4 140.7,287.0 142.4,286.7 144.0,286.5 145.6,286.2 147.2,286.0 148.8,285.8 150.4,285.6 152.1,285.4 153.7,285.2 155.3,285.0 156.9,284.9 158.5,284.7 160.1,284.6 161.7,284.4 163.4,284.3 165.0,284.1 166.6,284.0 168.2,283.9 169.8,283.7 171.4,283.6 173.1,283.5 174.7,283.3 176.3,283.2 177.9,283.1 179.5,282.9 181.1,282.8 182.8,282.7 184.4,282.6 186.0,282.4 187.6,282.3 189.2,282.2 190.8,282.1 192.4,282.0 194.1,281.9 195.7,281.8 197.3,281.7 198.9,281.6 200.5,281.5 202.1,281.4 203.8,281.3 205.4,281.2 207.0,281.1 208.6,281.0 210.2,280.9 211.8,280.8 213.5,280.7 215.1,280.6 216.7,280.5 218.3,280.5 219.9,280.4 221.5,280.3 223.1,280.2 224.8,280.1 226.4,280.0 228.0,280.0 229.6,279.9 231.2,279.8 232.8,279.7 234.5,279.7 236.1,279.6 237.7,279.5 239.3,279.5 240.9,279.4 242.5,279.3 244.2,279.3 245.8,279.2 247.4,279.2 249.0,279.1" fill="none" stroke="#0000ff" stroke-width="1.50" stroke-dasharray="0.9,0.9"/>
<polyline points="24.4,329.6 26.0,329.8 27.6,329.9 29.2,330.0 30.9,330.0 32.5,330.0 34.1,329.8 35.7,329.6 37.3,329.0 38.9,327.8 40.6,326.5 42.2,324.9 43.8,323.2 45.4,321.6 47.0,320.3 48.6,319.1 50.3,317.8 51.9,316.5 53.5,315.2 55.1,313.9 56.7,312.6 58.3,311.2 59.9,310.0 61.6,309.1 63.2,308.3 64.8,307.6 66.4,307.0 68.0,306.4 69.6,305.9 71.3,305.4 72.9,305.0 74.5,304.6 76.1,304.3 77.7,304.1 79.3,303.9 81.0,303.7 82.6,303.4 84.2,303.3 85.8,303.2 87.4,303.1 89.0,303.0 90.6,303.0 92.3,302.8 93.9,302.7 95.5,302.5 97.1,302.3 98.7,302.1 100.3,302.0 102.0,301.8 103.6,301.7 105.2,301.5 106.8,301.3 108.4,301.2 110.0,301.0 111.7,300.8 113.3,300.6 114.9,300.3 116.5,300.1 118.1,299.8 119.7,299.5 121.3,299.3 123.0,298.9 124.6,298.6 126.2,298.3 127.8,297.9 129.4,297.6 131.0,297.3 132.7,297.0 134.3,296.6 135.9,296.3 137.5,295.9 139.1,295.6 140.7,295.3 142.4,295.0 144.0,294.7 145.6,294.4 147.2,294.2 148.8,293.9 150.4,293.7 152.1,293.5 153.7,293.2 155.3,293.0 156.9,292.8 158.5,292.6 160.1,292.4 161.7,292.2 163.4,292.0 165.0,291.8 166.6,291.6 168.2,291.5 169.8,291.3 171.4,291.1 173.1,290.9 174.7,290.8 176.3,290.6 177.9,290.5 179.5,290.3 181.1,290.1 182.8,290.0 184.4,289.9 186.0,289.7 187.6,289.6 189.2,289.4 190.8,289.3 192.4,289.1 194.1,289.0 195.7,288.9 197.3,288.7 198.9,288.6 200.5,288.5 202.1,288.3 203.8,288.2 205.4,288.0 207.0,287.9 208.6,287.8 210.2,287.6 211.8,287.5 213.5,287.4 215.1,287.2 216.7,287.1 218.3,286.9 219.9,286.8 221.5,286.7 223.1,286.5 224.8,286.4 226.4,286.3 228.0,286.1 229.6,286.0 231.2,285.9 232.8,285.8 234.5,285.6 236.1,285.5 237.7,285.4 239.3,285.2 240.9,285.1 242.5,285.0 244.2,284.9 245.8,284.7 247.4,284.6 249.0,284.5" fill="none" stroke="#000000" stroke-width="1.50" stroke-dasharray="3.2,1.6"/>
<polyline points="24.4,329.6 26.0,329.7 27.6,329.9 29.2,330.0 30.9,330.2 32.5,330.3 34.1,330.4 35.7,330.6 37.3,330.7 38.9,330.9 40.6,331.0 42.2,331.0 43.8,330.5 45.4,329.3 47.0,327.9 48.6,326.4 50.3,324.7 51.9,322.8 53.5,320.7 55.1,318.5 56.7,316.0 58.3,313.5 59.9,311.1 61.6,308.6 63.2,306.2 64.8,304.2 66.4,302.7 68.0,301.4 69.6,300.2 71.3,299.1 72.9,298.1 74.5,297.2 76.1,296.6 77.7,296.0 79.3,295.6 81.0,295.4 82.6,295.2 84.2,295.1 85.8,295.0 87.4,295.1 89.0,295.4 90.6,295.5 92.3,295.4 93.9,295.3 95.5,295.1 97.1,294.9 98.7,294.7 100.3,294.4 102.0,294.1 103.6,293.7 105.2,293.3 106.8,292.8 108.4,292.4 110.0,292.0 111.7,291.6 113.3,291.3 114.9,291.0 116.5,290.7 118.1,290.4 119.7,290.1 121.3,289.7 123.0,289.4 124.6,289.1 126.2,288.7 127.8,288.4 129.4,288.1 131.0,287.8 132.7,287.5 134.3,287.2 135.9,286.9 137.5,286.5 139.1,286.2 140.7,286.0 142.4,285.7 144.0,285.4 145.6,285.2 147.2,285.0 148.8,284.8 150.4,284.6 152.1,284.4 153.7,284.2 155.3,284.1 156.9,283.9 158.5,283.7 160.1,283.5 161.7,283.4 163.4,283.2 165.0,283.1 166.6,283.0 168.2,282.8 169.8,282.7 171.4,282.6 173.1,282.5 174.7,282.4 176.3,282.2 177.9,282.1 179.5,282.0 181.1,281.9 182.8,281.9 184.4,281.8 186.0,281.7 187.6,281.6 189.2,281.5 190.8,281.4 192.4,281.4 194.1,281.3 195.7,281.2 197.3,281.1 198.9,281.1 200.5,281.0 202.1,280.9 203.8,280.8 205.4,280.7 207.0,280.7 208.6,280.6 210.2,280.5 211.8,280.5 213.5,280.4 215.1,280.3 216.7,280.2 218.3,280.2 219.9,280.1 221.5,280.0 223.1,280.0 224.8,279.9 226.4,279.8 228.0,279.8 229.6,279.7 231.2,279.6 232.8,279.6 234.5,279.5 236.1,279.4 237.7,279.4 239.3,279.3 240.9,279.3 242.5,279.2 244.2,279.2 245.8,279.1 247.4,279.1 249.0,279.0" fill="none" stroke="#0000ff" stroke-width="1.50" stroke-dasharray="3.2,1.6"/>
<polyline points="24.4,329.6 26.0,329.7 27.6,329.9 29.2,330.0 30.9,330.2 32.5,330.3 34.1,330.4 35.7,330.6 37.3,330.7 38.9,330.9 40.6,331.0 42.2,331.0 43.8,330.5 45.4,329.3 47.0,328.0 48.6,326.1 50.3,323.7 51.9,321.2 53.5,318.8 55.1,316.4 56.7,313.9 58.3,311.4 59.9,309.1 61.6,307.0 63.2,305.0 64.8,303.2 66.4,301.5 68.0,299.8 69.6,298.3 71.3,297.0 72.9,295.7 74.5,294.7 76.1,294.1 77.7,293.5 79.3,293.1 81.0,292.8 82.6,292.6 84.2,292.5 85.8,292.2 87.4,291.9 89.0,291.4 90.6,291.1 92.3,290.7 93.9,290.4 95.5,290.2 97.1,289.9 98.7,289.6 100.3,289.2 102.0,288.9 103.6,288.5 105.2,288.1 106.8,287.6 108.4,287.2 110.0,286.8 111.7,286.3 113.3,285.9 114.9,285.4 116.5,284.9 118.1,284.5 119.7,284.1 121.3,283.7 123.0,283.4 124.6,283.0 126.2,282.8 127.8,282.5 129.4,282.3 131.0,282.1 132.7,281.9 134.3,281.8 135.9,281.6 137.5,281.5 139.1,281.4 140.7,281.3 142.4,281.1 144.0,281.1 145.6,281.0 147.2,280.9 148.8,280.8 150.4,280.7 152.1,280.7 153.7,280.6 155.3,280.6 156.9,280.5 158.5,280.4 160.1,280.4 161.7,280.3 163.4,280.3 165.0,280.2 166.6,280.2 168.2,280.1 169.8,280.1 171.4,280.0 173.1,280.0 174.7,279.9 176.3,279.9 177.9,279.8 179.5,279.8 181.1,279.7 182.8,279.7 184.4,279.6 186.0,279.6 187.6,279.6 189.2,279.5 190.8,279.5 192.4,279.4 194.1,279.4 195.7,279.3 197.3,279.3 198.9,279.2 200.5,279.2 202.1,279.1 203.8,279.1 205.4,279.0 207.0,279.0 208.6,278.9 210.2,278.9 211.8,278.8 213.5,278.8 215.1,278.7 216.7,278.7 218.3,278.6 219.9,278.6 221.5,278.5 223.1,278.5 224.8,278.4 226.4,278.4 228.0,278.3 229.6,278.3 231.2,278.2 232.8,278.2 234.5,278.1 236.1,278.0 237.7,278.0 239.3,277.9 240.9,277.9 242.5,277.8 244.2,277.8 245.8,277.7 247.4,277.7 249.0,277.6" fill="none" stroke="#00ff00" stroke-width="1.50" stroke-dasharray="3.2,1.6"/>
<polyline points="24.4,329.6 26.0,329.7 27.6,329.9 29.2,330.0 30.9,330.1 32.5,330.3 34.1,330.4 35.7,330.6 37.3,330.8 38.9,331.0 40.6,330.9 42.2,329.9 43.8,328.3 45.4,326.6 47.0,324.5 48.6,322.1 50.3,319.6 51.9,317.0 53.5,314.1 55.1,310.8 56.7,307.7 58.3,304.7 59.9,302.1 61.6,299.8 63.2,297.9 64.8,296.2 66.4,294.7 68.0,293.5 69.6,292.7 71.3,292.2 72.9,291.8 74.5,291.4 76.1,291.1 77.7,290.8 79.3,290.6 81.0,290.4 82.6,290.3 84.2,290.2 85.8,290.0 87.4,289.7 89.0,289.1 90.6,288.5 92.3,287.9 93.9,287.3 95.5,286.8 97.1,286.2 98.7,285.7 100.3,285.2 102.0,284.7 103.6,284.3 105.2,283.9 106.8,283.5 108.4,283.1 110.0,282.8 111.7,282.5 113.3,282.1 114.9,281.8 116.5,281.5 118.1,281.3 119.7,281.0 121.3,280.8 123.0,280.6 124.6,280.5 126.2,280.3 127.8,280.2 129.4,280.0 131.0,279.9 132.7,279.8 134.3,279.7 135.9,279.6 137.5,279.5 139.1,279.5 140.7,279.4 142.4,279.3 144.0,279.2 145.6,279.2 147.2,279.1 148.8,279.0 150.4,279.0 152.1,278.9 153.7,278.9 155.3,278.8 156.9,278.7 158.5,278.7 160.1,278.6 161.7,278.6 163.4,278.5 165.0,278.5 166.6,278.5 168.2,278.4 169.8,278.4 171.4,278.3 173.1,278.3 174.7,278.3 176.3,278.2 177.9,278.2 179.5,278.2 181.1,278.1 182.8,278.1 184.4,278.1 186.0,278.0 187.6,278.0 189.2,278.0 190.8,278.0 192.4,277.9 194.1,277.9 195.7,277.9 197.3,277.8 198.9,277.8 200.5,277.8 202.1,277.8 203.8,277.7 205.4,277.7 207.0,277.7 208.6,277.7 210.2,277.6 211.8,277.6 213.5,277.6 215.1,277.5 216.7,277.5 218.3,277.5 219.9,277.5 221.5,277.4 223.1,277.4 224.8,277.4 226.4,277.4 228.0,277.3 229.6,277.3 231.2,277.3 232.8,277.3 234.5,277.2 236.1,277.2 237.7,277.2 239.3,277.1 240.9,277.1 242.5,277.1 244.2,277.1 245.8,277.0 247.4,277.0 249.0,277.0" fill="none" stroke="#ff0000" stroke-width="1.50" stroke-dasharray="3.2,1.6"/>
<polyline points="24.4,329.6 26.0,329.7 27.6,329.8 29.2,329.9 30.9,330.0 32.5,330.1 34.1,330.2 35.7,330.3 37.3,330.4 38.9,330.4 40.6,330.5 42.2,330.6 43.8,330.7 45.4,330.8 47.0,330.9 48.6,331.0 50.3,331.0 51.9,330.5 53.5,329.7 55.1,329.0 56.7,328.3 58.3,327.7 59.9,327.0 61.6,326.2 63.2,325.1 64.8,324.1 66.4,323.1 68.0,322.1 69.6,321.2 71.3,320.4 72.9,319.8 74.5,319.2 76.1,318.6 77.7,318.0 79.3,317.5 81.0,317.0 82.6,316.5 84.2,316.0 85.8,315.6 87.4,315.1 89.0,314.6 90.6,314.1 92.3,313.7 93.9,313.4 95.5,313.0 97.1,312.7 98.7,312.3 100.3,311.9 102.0,311.5 103.6,311.1 105.2,310.7 106.8,310.3 108.4,309.9 110.0,309.5 111.7,309.1 113.3,308.8 114.9,308.5 116.5,308.1 118.1,307.8 119.7,307.5 121.3,307.3 123.0,307.0 124.6,306.8 126.2,306.6 127.8,306.4 129.4,306.1 131.0,305.8 132.7,305.5 134.3,305.1 135.9,304.7 137.5,304.2 139.1,303.8 140.7,303.4 142.4,302.9 144.0,302.5 145.6,302.2 147.2,301.8 148.8,301.4 150.4,301.1 152.1,300.7 153.7,300.3 155.3,300.0 156.9,299.6 158.5,299.3 160.1,298.9 161.7,298.6 163.4,298.2 165.0,297.9 166.6,297.6 168.2,297.3 169.8,297.0 171.4,296.7 173.1,296.4 174.7,296.1 176.3,295.9 177.9,295.6 179.5,295.3 181.1,295.1 182.8,294.8 184.4,294.6 186.0,294.4 187.6,294.1 189.2,293.9 190.8,293.7 192.4,293.5 194.1,293.2 195.7,293.0 197.3,292.8 198.9,292.6 200.5,292.4 202.1,292.2 203.8,292.1 205.4,291.9 207.0,291.7 208.6,291.5 210.2,291.3 211.8,291.1 213.5,290.9 215.1,290.8 216.7,290.6 218.3,290.4 219.9,290.2 221.5,290.1 223.1,289.9 224.8,289.7 226.4,289.6 228.0,289.4 229.6,289.2 231.2,289.1 232.8,288.9 234.5,288.8 236.1,288.6 237.7,288.5 239.3,288.4 240.9,288.2 242.5,288.1 244.2,288.0 245.8,287.8 247.4,287.7 249.0,287.6" fill="none" stroke="#000000" stroke-width="1.50" />
<polyline points="24.4,329.6 26.0,329.6 27.6,329.7 29.2,329.8 30.9,329.8 32.5,329.9 34.1,330.0 35.7,330.2 37.3,330.3 38.9,330.4 40.6,330.6 42.2,330.8 43.8,331.0 45.4,331.3 47.0,331.5 48.6,331.4 50.3,330.8 51.9,329.6 53.5,328.2 55.1,326.9 56.7,325.7 58.3,324.4 59.9,323.0 61.6,321.5 63.2,319.9 64.8,318.2 66.4,316.6 68.0,315.0 69.6,313.4 71.3,311.7 72.9,310.0 74.5,308.5 76.1,307.0 77.7,305.6 79.3,304.4 81.0,303.4 82.6,302.5 84.2,301.8 85.8,301.3 87.4,301.0 89.0,300.7 90.6,300.4 92.3,300.1 93.9,299.8 95.5,299.5 97.1,299.1 98.7,298.8 100.3,298.4 102.0,298.0 103.6,297.5 105.2,296.9 106.8,296.4 108.4,295.9 110.0,295.5 111.7,295.1 113.3,294.8 114.9,294.5 116.5,294.2 118.1,293.9 119.7,293.6 121.3,293.2 123.0,292.8 124.6,292.4 126.2,292.0 127.8,291.6 129.4,291.1 131.0,290.7 132.7,290.3 134.3,289.9 135.9,289.4 137.5,289.0 139.1,288.5 140.7,288.1 142.4,287.8 144.0,287.5 145.6,287.2 147.2,287.0 148.8,286.8 150.4,286.6 152.1,286.4 153.7,286.2 155.3,286.0 156.9,285.9 158.5,285.7 160.1,285.6 161.7,285.4 163.4,285.3 165.0,285.2 166.6,285.0 168.2,284.9 169.8,284.7 171.4,284.6 173.1,284.4 174.7,284.3 176.3,284.1 177.9,284.0 179.5,283.8 181.1,283.7 182.8,283.5 184.4,283.3 186.0,283.2 187.6,283.0 189.2,282.9 190.8,282.7 192.4,282.6 194.1,282.5 195.7,282.3 197.3,282.2 198.9,282.1 200.5,282.0 202.1,281.8 203.8,281.7 205.4,281.6 207.0,281.5 208.6,281.4 210.2,281.3 211.8,281.2 213.5,281.1 215.1,281.0 216.7,280.9 218.3,280.8 219.9,280.7 221.5,280.6 223.1,280.5 224.8,280.4 226.4,280.3 228.0,280.2 229.6,280.1 231.2,280.0 232.8,279.9 234.5,279.8 236.1,279.8 237.7,279.7 239.3,279.6 240.9,279.5 242.5,279.5 244.2,279.4 245.8,279.3 247.4,279.3 249.0,279.2" fill="none" stroke="#0000ff" stroke-width="1.50" />
<polyline points="24.4,329.6 26.0,329.9 27.6,330.1 29.2,330.3 30.9,330.6 32.5,330.7 34.1,330.9 35.7,330.9 37.3,331.0 38.9,331.0 40.6,331.0 42.2,331.0 43.8,331.0 45.4,331.0 47.0,330.0 48.6,328.4 50.3,326.8 51.9,325.3 53.5,323.7 55.1,321.9 56.7,319.8 58.3,317.4 59.9,315.1 61.6,312.8 63.2,310.5 64.8,308.3 66.4,306.1 68.0,303.9 69.6,301.9 71.3,300.2 72.9,298.7 74.5,297.4 76.1,296.2 77.7,295.2 79.3,294.3 81.0,293.6 82.6,293.0 84.2,292.6 85.8,292.5 87.4,292.5 89.0,292.5 90.6,292.5 92.3,292.3 93.9,292.0 95.5,291.7 97.1,291.2 98.7,290.8 100.3,290.4 102.0,290.1 103.6,289.7 105.2,289.3 106.8,288.9 108.4,288.4 110.0,288.0 111.7,287.5 113.3,287.0 114.9,286.5 116.5,286.0 118.1,285.5 119.7,285.1 121.3,284.7 123.0,284.3 124.6,283.9 126.2,283.6 127.8,283.3 129.4,283.1 131.0,282.9 132.7,282.7 134.3,282.6 135.9,282.4 137.5,282.3 139.1,282.2 140.7,282.1 142.4,282.0 144.0,281.9 145.6,281.8 147.2,281.7 148.8,281.6 150.4,281.5 152.1,281.4 153.7,281.3 155.3,281.2 156.9,281.2 158.5,281.1 160.1,281.0 161.7,280.9 163.4,280.9 165.0,280.8 166.6,280.7 168.2,280.7 169.8,280.6 171.4,280.5 173.1,280.5 174.7,280.4 176.3,280.3 177.9,280.3 179.5,280.2 181.1,280.2 182.8,280.1 184.4,280.0 186.0,280.0 187.6,279.9 189.2,279.9 190.8,279.8 192.4,279.8 194.1,279.7 195.7,279.7 197.3,279.6 198.9,279.5 200.5,279.5 202.1,279.4 203.8,279.4 205.4,279.3 207.0,279.3 208.6,279.2 210.2,279.1 211.8,279.1 213.5,279.0 215.1,279.0 216.7,278.9 218.3,278.9 219.9,278.8 221.5,278.7 223.1,278.7 224.8,278.6 226.4,278.6 228.0,278.5 229.6,278.5 231.2,278.4 232.8,278.3 234.5,278.3 236.1,278.2 237.7,278.2 239.3,278.1 240.9,278.1 242.5,278.0 244.2,278.0 245.8,277.9 247.4,277.9 249.0,277.8" fill="none" stroke="#00ff00" stroke-width="1.50" />
<polyline points="24.4,329.6 26.0,330.1 27.6,330.5 29.2,330.9 30.9,331.2 32.5,331.5 34.1,331.8 35.7,332.0 37.3,332.1 38.9,332.3 40.6,332.4 42.2,332.5 43.8,332.5 45.4,331.9 47.0,330.1 48.6,327.8 50.3,325.7 51.9,323.9 53.5,322.0 55.1,319.9 56.7,317.4 58.3,314.8 59.9,312.1 61.6,309.5 63.2,306.8 64.8,304.3 66.4,301.9 68.0,299.5 69.6,297.4 71.3,295.6 72.9,294.0 74.5,292.8 76.1,292.0 77.7,291.5 79.3,291.1 81.0,290.9 82.6,290.8 84.2,290.7 85.8,290.6 87.4,290.4 89.0,289.9 90.6,289.3 92.3,288.7 93.9,288.1 95.5,287.5 97.1,286.9 98.7,286.4 100.3,285.9 102.0,285.4 103.6,285.0 105.2,284.6 106.8,284.2 108.4,283.9 110.0,283.5 111.7,283.1 113.3,282.8 114.9,282.4 116.5,282.1 118.1,281.8 119.7,281.5 121.3,281.3 123.0,281.1 124.6,281.0 126.2,280.8 127.8,280.7 129.4,280.5 131.0,280.4 132.7,280.3 134.3,280.2 135.9,280.1 137.5,279.9 139.1,279.8 140.7,279.7 142.4,279.6 144.0,279.6 145.6,279.5 147.2,279.4 148.8,279.3 150.4,279.2 152.1,279.2 153.7,279.1 155.3,279.0 156.9,279.0 158.5,278.9 160.1,278.9 161.7,278.8 163.4,278.8 165.0,278.7 166.6,278.7 168.2,278.6 169.8,278.6 171.4,278.5 173.1,278.5 174.7,278.4 176.3,278.4 177.9,278.4 179.5,278.3 181.1,278.3 182.8,278.3 184.4,278.3 186.0,278.2 187.6,278.2 189.2,278.2 190.8,278.2 192.4,278.1 194.1,278.1 195.7,278.1 197.3,278.0 198.9,278.0 200.5,278.0 202.1,278.0 203.8,277.9 205.4,277.9 207.0,277.9 208.6,277.8 210.2,277.8 211.8,277.8 213.5,277.8 215.1,277.7 216.7,277.7 218.3,277.7 219.9,277.6 221.5,277.6 223.1,277.6 224.8,277.5 226.4,277.5 228.0,277.5 229.6,277.5 231.2,277.4 232.8,277.4 234.5,277.4 236.1,277.3 237.7,277.3 239.3,277.3 240.9,277.2 242.5,277.2 244.2,277.2 245.8,277.2 247.4,277.1 249.0,277.1" fill="none" stroke="#ff0000" stroke-width="1.50" />
<polyline points="24.4,329.6 26.0,329.8 27.6,330.0 29.2,330.2 30.9,330.3 32.5,330.4 34.1,330.5 35.7,330.5 37.3,330.5 38.9,330.5 40.6,330.5 42.2,330.5 43.8,329.6 45.4,328.0 47.0,326.7 48.6,325.3 50.3,323.7 51.9,322.0 53.5,320.0 55.1,317.9 56.7,315.4 58.3,312.7 59.9,310.1 61.6,307.7 63.2,305.4 64.8,303.3 66.4,301.2 68.0,299.2 69.6,297.4 71.3,295.7 72.9,294.0 74.5,292.5 76.1,291.0 77.7,289.7 79.3,288.5 81.0,287.4 82.6,286.4 84.2,285.5 85.8,284.4 87.4,283.1 89.0,282.0 90.6,281.3 92.3,280.9 93.9,280.5 95.5,280.2 97.1,280.0 98.7,279.7 100.3,279.4 102.0,279.2 103.6,278.9 105.2,278.7 106.8,278.4 108.4,278.2 110.0,278.0 111.7,277.8 113.3,277.6 114.9,277.4 116.5,277.3 118.1,277.1 119.7,277.0 121.3,276.9 123.0,276.8 124.6,276.7 126.2,276.7 127.8,276.6 129.4,276.5 131.0,276.5 132.7,276.4 134.3,276.3 135.9,276.2 137.5,276.2 139.1,276.1 140.7,276.1 142.4,276.0 144.0,276.0 145.6,276.0 147.2,276.0 148.8,276.0 150.4,276.0 152.1,276.0 153.7,276.0 155.3,276.1 156.9,276.1 158.5,276.1 160.1,276.1 161.7,276.1 163.4,276.2 165.0,276.2 166.6,276.2 168.2,276.2 169.8,276.3 171.4,276.3 173.1,276.3 174.7,276.3 176.3,276.4 177.9,276.4 179.5,276.4 181.1,276.5 182.8,276.5 184.4,276.5 186.0,276.6 187.6,276.6 189.2,276.6 190.8,276.7 192.4,276.7 194.1,276.7 195.7,276.7 197.3,276.8 198.9,276.8 200.5,276.8 202.1,276.8 203.8,276.8 205.4,276.9 207.0,276.9 208.6,276.9 210.2,276.9 211.8,276.9 213.5,276.9 215.1,276.9 216.7,277.0 218.3,277.0 219.9,277.0 221.5,277.0 223.1,277.0 224.8,277.0 226.4,277.0 228.0,277.0 229.6,277.0 231.2,277.0 232.8,277.1 234.5,277.1 236.1,277.1 237.7,277.1 239.3,277.1 240.9,277.1 242.5,277.1 244.2,277.1 245.8,277.1 247.4,277.1 249.0,277.1" fill="none" stroke="#ff00ff" stroke-width="1.50" />
</g>
<path d="M24.40 333.10V277.40H248.40" class="bx" stroke="#8c8c8c"/>
<path d="M248.40 277.40V333.10H24.40" class="bx" stroke="#b4b4b4"/>
<line x1="24.40" y1="333.10" x2="24.40" y2="331.10" class="tk"/>
<line x1="24.40" y1="277.40" x2="24.40" y2="279.40" class="tk"/>
<text x="24.40" y="339.70" class="tl" text-anchor="middle">0</text>
<line x1="61.73" y1="333.10" x2="61.73" y2="331.10" class="tk"/>
<line x1="61.73" y1="277.40" x2="61.73" y2="279.40" class="tk"/>
<text x="61.73" y="339.70" class="tl" text-anchor="middle">5</text>
<line x1="99.07" y1="333.10" x2="99.07" y2="331.10" class="tk"/>
<line x1="99.07" y1="277.40" x2="99.07" y2="279.40" class="tk"/>
<text x="99.07" y="339.70" class="tl" text-anchor="middle">10</text>
<line x1="136.40" y1="333.10" x2="136.40" y2="331.10" class="tk"/>
<line x1="136.40" y1="277.40" x2="136.40" y2="279.40" class="tk"/>
<text x="136.40" y="339.70" class="tl" text-anchor="middle">15</text>
<line x1="173.73" y1="333.10" x2="173.73" y2="331.10" class="tk"/>
<line x1="173.73" y1="277.40" x2="173.73" y2="279.40" class="tk"/>
<text x="173.73" y="339.70" class="tl" text-anchor="middle">20</text>
<line x1="211.07" y1="333.10" x2="211.07" y2="331.10" class="tk"/>
<line x1="211.07" y1="277.40" x2="211.07" y2="279.40" class="tk"/>
<text x="211.07" y="339.70" class="tl" text-anchor="middle">25</text>
<line x1="248.40" y1="333.10" x2="248.40" y2="331.10" class="tk"/>
<line x1="248.40" y1="277.40" x2="248.40" y2="279.40" class="tk"/>
<text x="248.40" y="339.70" class="tl" text-anchor="middle">30</text>
<line x1="24.40" y1="329.60" x2="26.40" y2="329.60" class="tk"/>
<line x1="248.40" y1="329.60" x2="246.40" y2="329.60" class="tk"/>
<text x="22.80" y="332.00" class="tl" text-anchor="end">0</text>
<line x1="24.40" y1="319.16" x2="26.40" y2="319.16" class="tk"/>
<line x1="248.40" y1="319.16" x2="246.40" y2="319.16" class="tk"/>
<text transform="translate(22.80,321.56) scale(0.87,1)" class="tl" text-anchor="end">0.2</text>
<line x1="24.40" y1="308.72" x2="26.40" y2="308.72" class="tk"/>
<line x1="248.40" y1="308.72" x2="246.40" y2="308.72" class="tk"/>
<text transform="translate(22.80,311.12) scale(0.87,1)" class="tl" text-anchor="end">0.4</text>
<line x1="24.40" y1="298.28" x2="26.40" y2="298.28" class="tk"/>
<line x1="248.40" y1="298.28" x2="246.40" y2="298.28" class="tk"/>
<text transform="translate(22.80,300.68) scale(0.87,1)" class="tl" text-anchor="end">0.6</text>
<line x1="24.40" y1="287.84" x2="26.40" y2="287.84" class="tk"/>
<line x1="248.40" y1="287.84" x2="246.40" y2="287.84" class="tk"/>
<text transform="translate(22.80,290.24) scale(0.87,1)" class="tl" text-anchor="end">0.8</text>
<line x1="24.40" y1="277.40" x2="26.40" y2="277.40" class="tk"/>
<line x1="248.40" y1="277.40" x2="246.40" y2="277.40" class="tk"/>
<text x="22.80" y="279.80" class="tl" text-anchor="end">1</text>
<text transform="translate(11.80,305.25) rotate(-90)" class="yl" text-anchor="middle">--&gt; y<tspan dy="1.6" font-size="4.2">p</tspan><tspan dy="-1.6">(t)</tspan></text>
<rect x="215.10" y="293.90" width="28.70" height="39.20" class="lg"/>
<line x1="216.90" y1="299.10" x2="231.80" y2="299.10" stroke="#9a9a9a" stroke-width="0.9" stroke-dasharray="0.7,0.5"/>
<text transform="translate(233.60,300.85) scale(0.86,1)" class="lt">w</text>
<line x1="216.90" y1="305.10" x2="231.80" y2="305.10" stroke="#000000" stroke-width="1.5"/>
<text transform="translate(233.60,306.85) scale(0.86,1)" class="lt">m=1</text>
<line x1="216.90" y1="311.10" x2="231.80" y2="311.10" stroke="#0000ff" stroke-width="1.5"/>
<text transform="translate(233.60,312.85) scale(0.86,1)" class="lt">m=3</text>
<line x1="216.90" y1="317.10" x2="231.80" y2="317.10" stroke="#00ff00" stroke-width="1.5"/>
<text transform="translate(233.60,318.85) scale(0.86,1)" class="lt">m=5</text>
<line x1="216.90" y1="323.10" x2="231.80" y2="323.10" stroke="#ff0000" stroke-width="1.5"/>
<text transform="translate(233.60,324.85) scale(0.86,1)" class="lt">m=7</text>
<line x1="216.90" y1="329.10" x2="231.80" y2="329.10" stroke="#ff00ff" stroke-width="1.5"/>
<text transform="translate(233.60,330.85) scale(0.86,1)" class="lt">AV</text>
<line x1="61.73" y1="356.10" x2="61.73" y2="413.60" class="gr"/>
<line x1="99.07" y1="356.10" x2="99.07" y2="413.60" class="gr"/>
<line x1="136.40" y1="356.10" x2="136.40" y2="413.60" class="gr"/>
<line x1="173.73" y1="356.10" x2="173.73" y2="413.60" class="gr"/>
<line x1="211.07" y1="356.10" x2="211.07" y2="413.60" class="gr"/>
<line x1="24.40" y1="399.23" x2="248.40" y2="399.23" class="gr"/>
<line x1="24.40" y1="384.85" x2="248.40" y2="384.85" class="gr"/>
<line x1="24.40" y1="370.48" x2="248.40" y2="370.48" class="gr"/>
<g clip-path="url(#c_G2L2)">
<polyline points="24.4,413.6 26.0,413.3 27.6,412.7 29.2,411.7 30.9,409.7 32.5,406.0 34.1,401.3 35.7,396.4 37.3,392.1 38.9,388.0 40.6,384.6 42.2,381.7 43.8,379.4 45.4,377.6 47.0,376.2 48.6,375.3 50.3,374.7 51.9,375.2 53.5,376.5 55.1,377.9 56.7,379.7 58.3,381.3 59.9,383.0 61.6,384.5 63.2,385.5 64.8,386.4 66.4,387.1 68.0,387.4 69.6,387.6 71.3,387.6 72.9,387.5 74.5,387.2 76.1,386.9 77.7,386.4 79.3,385.9 81.0,385.1 82.6,384.1 84.2,383.1 85.8,382.2 87.4,381.4 89.0,380.7 90.6,380.2 92.3,379.9 93.9,379.6 95.5,379.3 97.1,379.0 98.7,378.8 100.3,378.7 102.0,378.6 103.6,378.5 105.2,378.4 106.8,378.4 108.4,378.3 110.0,378.2 111.7,378.2 113.3,378.1 114.9,378.1 116.5,378.1 118.1,378.0 119.7,378.0 121.3,378.0 123.0,377.9 124.6,377.9 126.2,377.9 127.8,377.9 129.4,377.8 131.0,377.8 132.7,377.8 134.3,377.8 135.9,377.8 137.5,377.8 139.1,377.8 140.7,377.8 142.4,377.8 144.0,377.8 145.6,377.8 147.2,377.7 148.8,377.7 150.4,377.7 152.1,377.7 153.7,377.7 155.3,377.7 156.9,377.7 158.5,377.7 160.1,377.7 161.7,377.7 163.4,377.7 165.0,377.7 166.6,377.7 168.2,377.7 169.8,377.7 171.4,377.7 173.1,377.7 174.7,377.7 176.3,377.7 177.9,377.7 179.5,377.7 181.1,377.7 182.8,377.7 184.4,377.6 186.0,377.6 187.6,377.6 189.2,377.6 190.8,377.6 192.4,377.6 194.1,377.6 195.7,377.6 197.3,377.6 198.9,377.6 200.5,377.6 202.1,377.6 203.8,377.5 205.4,377.5 207.0,377.5 208.6,377.5 210.2,377.5 211.8,377.5 213.5,377.5 215.1,377.4 216.7,377.4 218.3,377.4 219.9,377.4 221.5,377.4 223.1,377.3 224.8,377.3 226.4,377.3 228.0,377.3 229.6,377.3 231.2,377.2 232.8,377.2 234.5,377.2 236.1,377.2 237.7,377.2 239.3,377.1 240.9,377.1 242.5,377.1 244.2,377.1 245.8,377.0 247.4,377.0 249.0,377.0" fill="none" stroke="#00ff00" stroke-width="1.20" stroke-dasharray="0.9,0.9"/>
<polyline points="24.4,413.6 26.0,413.4 27.6,412.9 29.2,412.1 30.9,409.9 32.5,404.9 34.1,399.4 35.7,393.1 37.3,386.8 38.9,381.4 40.6,376.8 42.2,373.1 43.8,369.8 45.4,367.3 47.0,367.3 48.6,368.3 50.3,370.0 51.9,371.7 53.5,373.6 55.1,375.5 56.7,377.1 58.3,378.5 59.9,380.0 61.6,381.4 63.2,382.8 64.8,384.0 66.4,384.9 68.0,385.6 69.6,386.1 71.3,386.5 72.9,386.7 74.5,386.5 76.1,385.7 77.7,384.6 79.3,383.5 81.0,382.1 82.6,380.8 84.2,379.6 85.8,378.6 87.4,377.7 89.0,377.2 90.6,376.8 92.3,376.6 93.9,376.5 95.5,376.6 97.1,376.7 98.7,376.8 100.3,376.9 102.0,377.0 103.6,377.1 105.2,377.2 106.8,377.3 108.4,377.3 110.0,377.4 111.7,377.4 113.3,377.4 114.9,377.4 116.5,377.4 118.1,377.4 119.7,377.3 121.3,377.3 123.0,377.3 124.6,377.3 126.2,377.3 127.8,377.2 129.4,377.2 131.0,377.2 132.7,377.2 134.3,377.2 135.9,377.2 137.5,377.2 139.1,377.2 140.7,377.2 142.4,377.2 144.0,377.2 145.6,377.2 147.2,377.2 148.8,377.2 150.4,377.2 152.1,377.2 153.7,377.1 155.3,377.1 156.9,377.1 158.5,377.1 160.1,377.1 161.7,377.1 163.4,377.1 165.0,377.1 166.6,377.1 168.2,377.1 169.8,377.1 171.4,377.1 173.1,377.0 174.7,377.0 176.3,377.0 177.9,377.0 179.5,377.0 181.1,377.0 182.8,377.0 184.4,377.0 186.0,377.0 187.6,377.0 189.2,377.0 190.8,377.0 192.4,377.0 194.1,377.0 195.7,377.0 197.3,377.0 198.9,377.0 200.5,377.0 202.1,377.0 203.8,377.0 205.4,377.0 207.0,377.0 208.6,377.0 210.2,377.0 211.8,377.0 213.5,377.0 215.1,377.0 216.7,377.0 218.3,377.0 219.9,377.0 221.5,377.0 223.1,377.0 224.8,377.0 226.4,377.0 228.0,377.0 229.6,377.0 231.2,377.0 232.8,377.0 234.5,377.0 236.1,377.0 237.7,377.0 239.3,377.0 240.9,377.0 242.5,377.0 244.2,377.0 245.8,377.0 247.4,377.0 249.0,377.0" fill="none" stroke="#ff0000" stroke-width="1.20" stroke-dasharray="0.9,0.9"/>
<polyline points="24.4,413.6 26.0,413.6 27.6,413.6 29.2,413.5 30.9,413.5 32.5,413.4 34.1,413.3 35.7,413.2 37.3,413.1 38.9,412.5 40.6,410.3 42.2,407.2 43.8,404.3 45.4,401.7 47.0,399.1 48.6,397.2 50.3,396.5 51.9,396.0 53.5,395.6 55.1,395.3 56.7,395.0 58.3,394.7 59.9,394.4 61.6,394.2 63.2,394.1 64.8,394.0 66.4,393.9 68.0,393.8 69.6,393.8 71.3,393.8 72.9,393.7 74.5,393.7 76.1,393.6 77.7,393.6 79.3,393.5 81.0,393.3 82.6,393.1 84.2,393.0 85.8,392.9 87.4,392.8 89.0,392.7 90.6,392.6 92.3,392.6 93.9,392.5 95.5,392.4 97.1,392.4 98.7,392.3 100.3,392.2 102.0,392.1 103.6,392.0 105.2,391.9 106.8,391.8 108.4,391.6 110.0,391.4 111.7,391.2 113.3,390.9 114.9,390.7 116.5,390.5 118.1,390.2 119.7,389.9 121.3,389.7 123.0,389.4 124.6,389.2 126.2,388.9 127.8,388.7 129.4,388.5 131.0,388.3 132.7,388.1 134.3,388.0 135.9,387.8 137.5,387.7 139.1,387.6 140.7,387.5 142.4,387.3 144.0,387.2 145.6,387.1 147.2,387.0 148.8,386.9 150.4,386.8 152.1,386.7 153.7,386.6 155.3,386.5 156.9,386.4 158.5,386.3 160.1,386.3 161.7,386.2 163.4,386.1 165.0,386.0 166.6,385.9 168.2,385.8 169.8,385.8 171.4,385.7 173.1,385.6 174.7,385.5 176.3,385.4 177.9,385.3 179.5,385.2 181.1,385.1 182.8,385.1 184.4,385.0 186.0,384.9 187.6,384.8 189.2,384.7 190.8,384.5 192.4,384.4 194.1,384.3 195.7,384.2 197.3,384.1 198.9,384.0 200.5,383.9 202.1,383.8 203.8,383.6 205.4,383.5 207.0,383.4 208.6,383.3 210.2,383.2 211.8,383.0 213.5,382.9 215.1,382.8 216.7,382.7 218.3,382.5 219.9,382.4 221.5,382.3 223.1,382.2 224.8,382.0 226.4,381.9 228.0,381.8 229.6,381.6 231.2,381.5 232.8,381.4 234.5,381.2 236.1,381.1 237.7,381.0 239.3,380.8 240.9,380.7 242.5,380.6 244.2,380.4 245.8,380.3 247.4,380.1 249.0,380.0" fill="none" stroke="#000000" stroke-width="1.50" stroke-dasharray="0.9,0.9"/>
<polyline points="24.4,413.6 26.0,413.5 27.6,413.3 29.2,412.9 30.9,412.4 32.5,411.7 34.1,409.7 35.7,406.6 37.3,403.3 38.9,400.2 40.6,396.8 42.2,393.4 43.8,390.4 45.4,387.6 47.0,385.0 48.6,383.2 50.3,382.4 51.9,381.8 53.5,381.5 55.1,381.6 56.7,381.8 58.3,382.1 59.9,382.5 61.6,382.9 63.2,383.4 64.8,383.9 66.4,384.4 68.0,384.8 69.6,385.0 71.3,385.0 72.9,385.0 74.5,385.0 76.1,385.0 77.7,385.0 79.3,385.0 81.0,385.0 82.6,385.0 84.2,385.0 85.8,385.0 87.4,384.9 89.0,384.8 90.6,384.6 92.3,384.5 93.9,384.3 95.5,384.1 97.1,383.8 98.7,383.6 100.3,383.4 102.0,383.2 103.6,383.0 105.2,382.9 106.8,382.7 108.4,382.5 110.0,382.3 111.7,382.2 113.3,382.0 114.9,381.8 116.5,381.6 118.1,381.4 119.7,381.2 121.3,381.0 123.0,380.9 124.6,380.7 126.2,380.5 127.8,380.4 129.4,380.3 131.0,380.2 132.7,380.1 134.3,380.0 135.9,379.9 137.5,379.9 139.1,379.8 140.7,379.7 142.4,379.7 144.0,379.6 145.6,379.6 147.2,379.5 148.8,379.5 150.4,379.4 152.1,379.4 153.7,379.3 155.3,379.3 156.9,379.2 158.5,379.2 160.1,379.1 161.7,379.1 163.4,379.1 165.0,379.0 166.6,379.0 168.2,379.0 169.8,378.9 171.4,378.9 173.1,378.9 174.7,378.8 176.3,378.8 177.9,378.8 179.5,378.7 181.1,378.7 182.8,378.7 184.4,378.6 186.0,378.6 187.6,378.6 189.2,378.5 190.8,378.5 192.4,378.5 194.1,378.4 195.7,378.4 197.3,378.4 198.9,378.3 200.5,378.3 202.1,378.3 203.8,378.3 205.4,378.2 207.0,378.2 208.6,378.2 210.2,378.1 211.8,378.1 213.5,378.1 215.1,378.0 216.7,378.0 218.3,378.0 219.9,377.9 221.5,377.9 223.1,377.9 224.8,377.9 226.4,377.8 228.0,377.8 229.6,377.8 231.2,377.8 232.8,377.7 234.5,377.7 236.1,377.7 237.7,377.7 239.3,377.6 240.9,377.6 242.5,377.6 244.2,377.6 245.8,377.5 247.4,377.5 249.0,377.5" fill="none" stroke="#0000ff" stroke-width="1.50" stroke-dasharray="0.9,0.9"/>
<polyline points="24.4,413.6 26.0,395.1 27.6,394.2 29.2,393.4 30.9,392.9 32.5,392.3 34.1,391.8 35.7,391.3 37.3,391.0 38.9,390.8 40.6,390.6 42.2,390.5 43.8,390.5 45.4,390.5 47.0,390.6 48.6,390.8 50.3,390.9 51.9,391.1 53.5,391.5 55.1,392.0 56.7,392.4 58.3,392.5 59.9,392.5 61.6,392.5 63.2,392.5 64.8,392.5 66.4,392.6 68.0,392.7 69.6,392.8 71.3,392.9 72.9,393.0 74.5,393.0 76.1,392.9 77.7,392.8 79.3,392.6 81.0,392.4 82.6,392.2 84.2,392.0 85.8,391.8 87.4,391.6 89.0,391.3 90.6,391.1 92.3,390.9 93.9,390.6 95.5,390.4 97.1,390.1 98.7,389.8 100.3,389.5 102.0,389.3 103.6,389.1 105.2,388.9 106.8,388.7 108.4,388.5 110.0,388.4 111.7,388.3 113.3,388.1 114.9,387.9 116.5,387.7 118.1,387.4 119.7,387.1 121.3,386.9 123.0,386.6 124.6,386.4 126.2,386.2 127.8,386.1 129.4,385.9 131.0,385.7 132.7,385.6 134.3,385.5 135.9,385.4 137.5,385.3 139.1,385.2 140.7,385.1 142.4,385.0 144.0,385.0 145.6,384.9 147.2,384.8 148.8,384.8 150.4,384.7 152.1,384.7 153.7,384.6 155.3,384.5 156.9,384.5 158.5,384.4 160.1,384.4 161.7,384.3 163.4,384.3 165.0,384.3 166.6,384.2 168.2,384.2 169.8,384.1 171.4,384.1 173.1,384.0 174.7,384.0 176.3,383.9 177.9,383.9 179.5,383.8 181.1,383.7 182.8,383.7 184.4,383.6 186.0,383.6 187.6,383.5 189.2,383.4 190.8,383.3 192.4,383.3 194.1,383.2 195.7,383.1 197.3,383.0 198.9,382.9 200.5,382.8 202.1,382.7 203.8,382.6 205.4,382.5 207.0,382.4 208.6,382.3 210.2,382.2 211.8,382.1 213.5,382.0 215.1,381.8 216.7,381.7 218.3,381.6 219.9,381.5 221.5,381.4 223.1,381.2 224.8,381.1 226.4,381.0 228.0,380.8 229.6,380.7 231.2,380.6 232.8,380.4 234.5,380.3 236.1,380.2 237.7,380.0 239.3,379.9 240.9,379.7 242.5,379.6 244.2,379.4 245.8,379.3 247.4,379.1 249.0,379.0" fill="none" stroke="#000000" stroke-width="1.50" stroke-dasharray="3.2,1.6"/>
<polyline points="24.4,413.6 26.0,413.2 27.6,412.3 29.2,410.8 30.9,408.5 32.5,403.7 34.1,398.0 35.7,391.1 37.3,386.3 38.9,383.1 40.6,380.9 42.2,379.6 43.8,378.7 45.4,378.5 47.0,378.8 48.6,379.4 50.3,380.1 51.9,381.3 53.5,382.6 55.1,383.9 56.7,385.2 58.3,386.5 59.9,387.7 61.6,388.7 63.2,389.6 64.8,390.3 66.4,391.0 68.0,391.4 69.6,391.5 71.3,391.5 72.9,391.5 74.5,391.5 76.1,391.2 77.7,390.8 79.3,390.4 81.0,389.9 82.6,389.2 84.2,388.4 85.8,387.7 87.4,386.9 89.0,386.3 90.6,385.8 92.3,385.4 93.9,385.0 95.5,384.6 97.1,384.2 98.7,383.9 100.3,383.6 102.0,383.3 103.6,383.1 105.2,382.8 106.8,382.6 108.4,382.4 110.0,382.2 111.7,382.0 113.3,381.8 114.9,381.6 116.5,381.4 118.1,381.2 119.7,381.1 121.3,380.9 123.0,380.7 124.6,380.6 126.2,380.5 127.8,380.4 129.4,380.2 131.0,380.2 132.7,380.1 134.3,380.0 135.9,379.9 137.5,379.9 139.1,379.8 140.7,379.7 142.4,379.7 144.0,379.6 145.6,379.6 147.2,379.5 148.8,379.5 150.4,379.4 152.1,379.4 153.7,379.3 155.3,379.3 156.9,379.2 158.5,379.2 160.1,379.2 161.7,379.1 163.4,379.1 165.0,379.1 166.6,379.0 168.2,379.0 169.8,378.9 171.4,378.9 173.1,378.9 174.7,378.9 176.3,378.8 177.9,378.8 179.5,378.8 181.1,378.7 182.8,378.7 184.4,378.7 186.0,378.6 187.6,378.6 189.2,378.6 190.8,378.5 192.4,378.5 194.1,378.4 195.7,378.4 197.3,378.4 198.9,378.3 200.5,378.3 202.1,378.3 203.8,378.2 205.4,378.2 207.0,378.1 208.6,378.1 210.2,378.1 211.8,378.0 213.5,378.0 215.1,378.0 216.7,377.9 218.3,377.9 219.9,377.9 221.5,377.8 223.1,377.8 224.8,377.8 226.4,377.7 228.0,377.7 229.6,377.7 231.2,377.6 232.8,377.6 234.5,377.6 236.1,377.5 237.7,377.5 239.3,377.5 240.9,377.5 242.5,377.4 244.2,377.4 245.8,377.4 247.4,377.3 249.0,377.3" fill="none" stroke="#0000ff" stroke-width="1.50" stroke-dasharray="3.2,1.6"/>
<polyline points="24.4,413.6 26.0,413.0 27.6,411.6 29.2,409.6 30.9,405.5 32.5,399.8 34.1,393.7 35.7,387.0 37.3,382.0 38.9,378.1 40.6,375.4 42.2,373.9 43.8,373.3 45.4,373.0 47.0,373.2 48.6,374.1 50.3,375.2 51.9,376.6 53.5,378.4 55.1,380.3 56.7,382.5 58.3,384.3 59.9,386.0 61.6,387.3 63.2,388.0 64.8,388.6 66.4,389.0 68.0,389.0 69.6,388.8 71.3,388.6 72.9,388.3 74.5,387.8 76.1,387.2 77.7,386.5 79.3,385.9 81.0,385.1 82.6,384.3 84.2,383.5 85.8,382.7 87.4,381.9 89.0,381.3 90.6,380.8 92.3,380.4 93.9,380.0 95.5,379.7 97.1,379.4 98.7,379.1 100.3,378.9 102.0,378.7 103.6,378.5 105.2,378.4 106.8,378.3 108.4,378.2 110.0,378.2 111.7,378.1 113.3,378.0 114.9,377.9 116.5,377.9 118.1,377.8 119.7,377.7 121.3,377.7 123.0,377.6 124.6,377.6 126.2,377.6 127.8,377.5 129.4,377.5 131.0,377.5 132.7,377.5 134.3,377.5 135.9,377.5 137.5,377.5 139.1,377.5 140.7,377.5 142.4,377.5 144.0,377.5 145.6,377.5 147.2,377.5 148.8,377.5 150.4,377.5 152.1,377.5 153.7,377.5 155.3,377.5 156.9,377.5 158.5,377.5 160.1,377.5 161.7,377.5 163.4,377.5 165.0,377.5 166.6,377.5 168.2,377.5 169.8,377.5 171.4,377.5 173.1,377.5 174.7,377.5 176.3,377.5 177.9,377.5 179.5,377.5 181.1,377.5 182.8,377.5 184.4,377.5 186.0,377.5 187.6,377.5 189.2,377.5 190.8,377.5 192.4,377.5 194.1,377.5 195.7,377.5 197.3,377.5 198.9,377.5 200.5,377.5 202.1,377.5 203.8,377.5 205.4,377.5 207.0,377.5 208.6,377.4 210.2,377.4 211.8,377.4 213.5,377.4 215.1,377.4 216.7,377.4 218.3,377.4 219.9,377.3 221.5,377.3 223.1,377.3 224.8,377.3 226.4,377.3 228.0,377.3 229.6,377.2 231.2,377.2 232.8,377.2 234.5,377.2 236.1,377.2 237.7,377.1 239.3,377.1 240.9,377.1 242.5,377.1 244.2,377.1 245.8,377.0 247.4,377.0 249.0,377.0" fill="none" stroke="#00ff00" stroke-width="1.50" stroke-dasharray="3.2,1.6"/>
<polyline points="24.4,413.6 26.0,413.1 27.6,412.2 29.2,411.0 30.9,407.4 32.5,398.8 34.1,389.9 35.7,381.6 37.3,374.7 38.9,369.1 40.6,365.9 42.2,364.8 43.8,364.5 45.4,365.6 47.0,368.0 48.6,370.7 50.3,373.4 51.9,375.9 53.5,378.3 55.1,380.5 56.7,382.6 58.3,384.3 59.9,386.0 61.6,387.2 63.2,388.1 64.8,388.8 66.4,389.0 68.0,388.7 69.6,388.1 71.3,387.5 72.9,386.6 74.5,385.7 76.1,384.8 77.7,383.8 79.3,382.8 81.0,381.3 82.6,379.9 84.2,378.9 85.8,378.3 87.4,377.8 89.0,377.3 90.6,376.9 92.3,376.7 93.9,376.6 95.5,376.6 97.1,376.7 98.7,376.8 100.3,376.8 102.0,376.9 103.6,377.0 105.2,377.0 106.8,377.1 108.4,377.1 110.0,377.1 111.7,377.2 113.3,377.2 114.9,377.3 116.5,377.3 118.1,377.3 119.7,377.4 121.3,377.4 123.0,377.4 124.6,377.4 126.2,377.5 127.8,377.5 129.4,377.5 131.0,377.5 132.7,377.5 134.3,377.5 135.9,377.5 137.5,377.5 139.1,377.5 140.7,377.5 142.4,377.5 144.0,377.5 145.6,377.4 147.2,377.4 148.8,377.4 150.4,377.4 152.1,377.4 153.7,377.4 155.3,377.3 156.9,377.3 158.5,377.3 160.1,377.3 161.7,377.3 163.4,377.2 165.0,377.2 166.6,377.2 168.2,377.2 169.8,377.2 171.4,377.1 173.1,377.1 174.7,377.1 176.3,377.1 177.9,377.1 179.5,377.1 181.1,377.0 182.8,377.0 184.4,377.0 186.0,377.0 187.6,377.0 189.2,377.0 190.8,377.0 192.4,377.0 194.1,377.0 195.7,377.0 197.3,377.0 198.9,377.0 200.5,377.0 202.1,377.0 203.8,377.0 205.4,377.0 207.0,377.0 208.6,377.0 210.2,377.0 211.8,377.0 213.5,377.0 215.1,377.0 216.7,377.0 218.3,377.0 219.9,377.0 221.5,377.0 223.1,377.0 224.8,377.0 226.4,377.0 228.0,377.0 229.6,377.0 231.2,377.0 232.8,377.0 234.5,377.0 236.1,377.0 237.7,377.0 239.3,377.0 240.9,377.0 242.5,377.0 244.2,377.0 245.8,377.0 247.4,377.0 249.0,377.0" fill="none" stroke="#ff0000" stroke-width="1.50" stroke-dasharray="3.2,1.6"/>
<polyline points="24.4,413.6 26.0,413.6 27.6,413.6 29.2,413.6 30.9,413.5 32.5,413.5 34.1,413.0 35.7,412.1 37.3,411.0 38.9,410.0 40.6,409.1 42.2,408.1 43.8,407.1 45.4,406.1 47.0,405.1 48.6,404.2 50.3,403.3 51.9,402.5 53.5,401.7 55.1,401.1 56.7,400.6 58.3,400.2 59.9,399.8 61.6,399.4 63.2,399.1 64.8,398.8 66.4,398.5 68.0,398.2 69.6,397.9 71.3,397.6 72.9,397.4 74.5,397.1 76.1,396.8 77.7,396.6 79.3,396.3 81.0,396.1 82.6,395.8 84.2,395.6 85.8,395.4 87.4,395.2 89.0,395.0 90.6,394.9 92.3,394.7 93.9,394.6 95.5,394.5 97.1,394.3 98.7,394.2 100.3,394.1 102.0,394.0 103.6,393.9 105.2,393.8 106.8,393.7 108.4,393.6 110.0,393.5 111.7,393.4 113.3,393.2 114.9,393.1 116.5,392.9 118.1,392.7 119.7,392.6 121.3,392.4 123.0,392.2 124.6,392.0 126.2,391.8 127.8,391.7 129.4,391.5 131.0,391.3 132.7,391.1 134.3,391.0 135.9,390.8 137.5,390.6 139.1,390.5 140.7,390.3 142.4,390.2 144.0,390.0 145.6,389.8 147.2,389.7 148.8,389.5 150.4,389.3 152.1,389.2 153.7,389.0 155.3,388.9 156.9,388.7 158.5,388.5 160.1,388.4 161.7,388.2 163.4,388.1 165.0,387.9 166.6,387.8 168.2,387.6 169.8,387.4 171.4,387.3 173.1,387.1 174.7,387.0 176.3,386.8 177.9,386.7 179.5,386.5 181.1,386.4 182.8,386.2 184.4,386.1 186.0,385.9 187.6,385.8 189.2,385.6 190.8,385.5 192.4,385.3 194.1,385.2 195.7,385.0 197.3,384.9 198.9,384.7 200.5,384.6 202.1,384.4 203.8,384.3 205.4,384.2 207.0,384.0 208.6,383.9 210.2,383.7 211.8,383.6 213.5,383.5 215.1,383.3 216.7,383.2 218.3,383.0 219.9,382.9 221.5,382.8 223.1,382.6 224.8,382.5 226.4,382.3 228.0,382.2 229.6,382.1 231.2,381.9 232.8,381.8 234.5,381.7 236.1,381.5 237.7,381.4 239.3,381.3 240.9,381.1 242.5,381.0 244.2,380.9 245.8,380.8 247.4,380.6 249.0,380.5" fill="none" stroke="#000000" stroke-width="1.50" />
<polyline points="24.4,413.6 26.0,413.6 27.6,413.6 29.2,413.6 30.9,413.5 32.5,413.4 34.1,411.7 35.7,409.1 37.3,406.5 38.9,404.1 40.6,401.7 42.2,399.2 43.8,396.7 45.4,394.5 47.0,392.3 48.6,390.4 50.3,388.6 51.9,386.9 53.5,385.7 55.1,384.6 56.7,384.0 58.3,384.0 59.9,384.0 61.6,384.0 63.2,384.6 64.8,385.4 66.4,386.2 68.0,386.9 69.6,387.6 71.3,388.1 72.9,388.5 74.5,388.9 76.1,389.0 77.7,389.0 79.3,389.0 81.0,389.0 82.6,388.8 84.2,388.5 85.8,388.1 87.4,387.6 89.0,387.2 90.6,386.9 92.3,386.5 93.9,386.2 95.5,385.8 97.1,385.4 98.7,385.1 100.3,384.7 102.0,384.4 103.6,384.1 105.2,383.8 106.8,383.5 108.4,383.3 110.0,383.0 111.7,382.8 113.3,382.6 114.9,382.4 116.5,382.2 118.1,382.0 119.7,381.8 121.3,381.6 123.0,381.4 124.6,381.3 126.2,381.1 127.8,380.9 129.4,380.8 131.0,380.7 132.7,380.6 134.3,380.5 135.9,380.4 137.5,380.4 139.1,380.3 140.7,380.2 142.4,380.2 144.0,380.1 145.6,380.1 147.2,380.0 148.8,380.0 150.4,379.9 152.1,379.9 153.7,379.9 155.3,379.8 156.9,379.8 158.5,379.8 160.1,379.7 161.7,379.7 163.4,379.7 165.0,379.6 166.6,379.6 168.2,379.6 169.8,379.5 171.4,379.5 173.1,379.5 174.7,379.5 176.3,379.4 177.9,379.4 179.5,379.4 181.1,379.3 182.8,379.3 184.4,379.3 186.0,379.2 187.6,379.2 189.2,379.2 190.8,379.1 192.4,379.1 194.1,379.0 195.7,379.0 197.3,378.9 198.9,378.9 200.5,378.9 202.1,378.8 203.8,378.8 205.4,378.7 207.0,378.7 208.6,378.6 210.2,378.6 211.8,378.6 213.5,378.5 215.1,378.5 216.7,378.4 218.3,378.4 219.9,378.3 221.5,378.3 223.1,378.2 224.8,378.2 226.4,378.2 228.0,378.1 229.6,378.1 231.2,378.0 232.8,378.0 234.5,377.9 236.1,377.9 237.7,377.8 239.3,377.8 240.9,377.7 242.5,377.7 244.2,377.6 245.8,377.6 247.4,377.5 249.0,377.5" fill="none" stroke="#0000ff" stroke-width="1.50" />
<polyline points="24.4,413.6 26.0,413.5 27.6,413.4 29.2,413.1 30.9,412.5 32.5,410.0 34.1,406.4 35.7,402.6 37.3,398.9 38.9,394.6 40.6,390.7 42.2,386.8 43.8,383.4 45.4,380.6 47.0,378.2 48.6,376.2 50.3,374.3 51.9,374.2 53.5,375.2 55.1,376.3 56.7,377.8 58.3,379.3 59.9,381.0 61.6,382.6 63.2,383.9 64.8,385.0 66.4,385.8 68.0,386.3 69.6,386.7 71.3,387.0 72.9,387.0 74.5,386.8 76.1,386.6 77.7,386.3 79.3,385.9 81.0,385.1 82.6,383.9 84.2,382.9 85.8,382.0 87.4,381.0 89.0,380.3 90.6,379.9 92.3,379.5 93.9,379.2 95.5,379.0 97.1,378.8 98.7,378.7 100.3,378.6 102.0,378.5 103.6,378.5 105.2,378.4 106.8,378.4 108.4,378.3 110.0,378.3 111.7,378.3 113.3,378.2 114.9,378.2 116.5,378.2 118.1,378.2 119.7,378.1 121.3,378.1 123.0,378.1 124.6,378.1 126.2,378.1 127.8,378.1 129.4,378.0 131.0,378.0 132.7,378.0 134.3,378.0 135.9,378.0 137.5,378.0 139.1,378.0 140.7,377.9 142.4,377.9 144.0,377.9 145.6,377.9 147.2,377.9 148.8,377.9 150.4,377.9 152.1,377.9 153.7,377.9 155.3,377.9 156.9,377.9 158.5,377.9 160.1,377.9 161.7,377.8 163.4,377.8 165.0,377.8 166.6,377.8 168.2,377.8 169.8,377.8 171.4,377.8 173.1,377.8 174.7,377.8 176.3,377.8 177.9,377.8 179.5,377.8 181.1,377.8 182.8,377.8 184.4,377.7 186.0,377.7 187.6,377.7 189.2,377.7 190.8,377.7 192.4,377.7 194.1,377.7 195.7,377.7 197.3,377.7 198.9,377.6 200.5,377.6 202.1,377.6 203.8,377.6 205.4,377.6 207.0,377.6 208.6,377.5 210.2,377.5 211.8,377.5 213.5,377.5 215.1,377.5 216.7,377.5 218.3,377.4 219.9,377.4 221.5,377.4 223.1,377.4 224.8,377.4 226.4,377.3 228.0,377.3 229.6,377.3 231.2,377.3 232.8,377.2 234.5,377.2 236.1,377.2 237.7,377.2 239.3,377.1 240.9,377.1 242.5,377.1 244.2,377.1 245.8,377.1 247.4,377.0 249.0,377.0" fill="none" stroke="#00ff00" stroke-width="1.50" />
<polyline points="24.4,413.6 26.0,413.5 27.6,413.3 29.2,412.9 30.9,411.5 32.5,409.0 34.1,405.8 35.7,400.7 37.3,394.9 38.9,389.5 40.6,384.1 42.2,378.6 43.8,373.4 45.4,368.4 47.0,366.8 48.6,366.7 50.3,367.7 51.9,369.0 53.5,370.5 55.1,372.1 56.7,373.4 58.3,374.6 59.9,376.0 61.6,377.5 63.2,379.2 64.8,380.8 66.4,382.2 68.0,383.6 69.6,384.8 71.3,385.8 72.9,386.8 74.5,386.9 76.1,386.2 77.7,385.2 79.3,384.1 81.0,382.7 82.6,381.3 84.2,380.1 85.8,378.7 87.4,377.7 89.0,377.2 90.6,376.8 92.3,376.5 93.9,376.5 95.5,376.6 97.1,376.8 98.7,376.9 100.3,377.0 102.0,377.1 103.6,377.2 105.2,377.3 106.8,377.4 108.4,377.5 110.0,377.5 111.7,377.5 113.3,377.5 114.9,377.4 116.5,377.4 118.1,377.4 119.7,377.3 121.3,377.3 123.0,377.2 124.6,377.2 126.2,377.1 127.8,377.1 129.4,377.0 131.0,377.0 132.7,377.0 134.3,377.0 135.9,377.0 137.5,377.0 139.1,377.0 140.7,377.0 142.4,377.0 144.0,377.0 145.6,377.0 147.2,377.0 148.8,377.0 150.4,377.0 152.1,377.0 153.7,377.0 155.3,377.0 156.9,377.0 158.5,377.0 160.1,377.0 161.7,377.0 163.4,377.0 165.0,377.0 166.6,377.0 168.2,377.0 169.8,377.0 171.4,377.0 173.1,377.0 174.7,377.0 176.3,377.0 177.9,377.0 179.5,377.0 181.1,377.0 182.8,377.0 184.4,377.0 186.0,377.0 187.6,377.0 189.2,377.0 190.8,377.0 192.4,377.0 194.1,377.0 195.7,377.0 197.3,377.0 198.9,377.0 200.5,377.0 202.1,377.0 203.8,377.0 205.4,377.0 207.0,377.0 208.6,377.0 210.2,377.0 211.8,377.0 213.5,377.0 215.1,377.0 216.7,377.0 218.3,377.0 219.9,377.0 221.5,377.0 223.1,377.0 224.8,377.0 226.4,377.0 228.0,377.0 229.6,377.0 231.2,377.0 232.8,377.0 234.5,377.0 236.1,377.0 237.7,377.0 239.3,377.0 240.9,377.0 242.5,377.0 244.2,377.0 245.8,377.0 247.4,377.0 249.0,377.0" fill="none" stroke="#ff0000" stroke-width="1.50" />
<polyline points="24.4,413.6 26.0,412.3 27.6,408.1 29.2,403.4 30.9,399.4 32.5,395.5 34.1,391.8 35.7,388.3 37.3,385.0 38.9,382.1 40.6,379.5 42.2,377.2 43.8,375.2 45.4,373.5 47.0,372.0 48.6,371.3 50.3,370.7 51.9,370.5 53.5,370.6 55.1,370.9 56.7,371.4 58.3,371.8 59.9,372.2 61.6,372.7 63.2,373.2 64.8,373.7 66.4,374.1 68.0,374.5 69.6,374.8 71.3,375.1 72.9,375.4 74.5,375.5 76.1,375.7 77.7,375.8 79.3,375.9 81.0,376.0 82.6,376.1 84.2,376.2 85.8,376.3 87.4,376.3 89.0,376.4 90.6,376.5 92.3,376.5 93.9,376.5 95.5,376.5 97.1,376.5 98.7,376.5 100.3,376.5 102.0,376.5 103.6,376.5 105.2,376.5 106.8,376.5 108.4,376.5 110.0,376.5 111.7,376.5 113.3,376.6 114.9,376.6 116.5,376.6 118.1,376.6 119.7,376.6 121.3,376.7 123.0,376.7 124.6,376.7 126.2,376.7 127.8,376.7 129.4,376.8 131.0,376.8 132.7,376.8 134.3,376.8 135.9,376.8 137.5,376.8 139.1,376.8 140.7,376.8 142.4,376.8 144.0,376.9 145.6,376.9 147.2,376.9 148.8,376.9 150.4,376.9 152.1,376.9 153.7,376.9 155.3,376.9 156.9,376.9 158.5,376.9 160.1,376.9 161.7,376.9 163.4,376.9 165.0,376.9 166.6,377.0 168.2,377.0 169.8,377.0 171.4,377.0 173.1,377.0 174.7,377.0 176.3,377.0 177.9,377.0 179.5,377.0 181.1,377.0 182.8,377.0 184.4,377.0 186.0,377.0 187.6,377.0 189.2,377.0 190.8,377.0 192.4,377.0 194.1,377.0 195.7,377.0 197.3,377.0 198.9,377.0 200.5,377.0 202.1,377.0 203.8,377.0 205.4,377.0 207.0,377.0 208.6,377.0 210.2,377.0 211.8,377.0 213.5,377.0 215.1,377.0 216.7,377.0 218.3,377.0 219.9,377.0 221.5,377.0 223.1,377.0 224.8,377.0 226.4,377.0 228.0,377.0 229.6,377.0 231.2,377.0 232.8,377.0 234.5,377.0 236.1,377.0 237.7,377.0 239.3,377.0 240.9,377.0 242.5,377.0 244.2,377.0 245.8,377.0 247.4,377.0 249.0,377.0" fill="none" stroke="#ff00ff" stroke-width="1.50" />
</g>
<path d="M24.40 413.60V356.10H248.40" class="bx" stroke="#8c8c8c"/>
<path d="M248.40 356.10V413.60H24.40" class="bx" stroke="#b4b4b4"/>
<line x1="24.40" y1="413.60" x2="24.40" y2="411.60" class="tk"/>
<line x1="24.40" y1="356.10" x2="24.40" y2="358.10" class="tk"/>
<text x="24.40" y="420.20" class="tl" text-anchor="middle">0</text>
<line x1="61.73" y1="413.60" x2="61.73" y2="411.60" class="tk"/>
<line x1="61.73" y1="356.10" x2="61.73" y2="358.10" class="tk"/>
<text x="61.73" y="420.20" class="tl" text-anchor="middle">5</text>
<line x1="99.07" y1="413.60" x2="99.07" y2="411.60" class="tk"/>
<line x1="99.07" y1="356.10" x2="99.07" y2="358.10" class="tk"/>
<text x="99.07" y="420.20" class="tl" text-anchor="middle">10</text>
<line x1="136.40" y1="413.60" x2="136.40" y2="411.60" class="tk"/>
<line x1="136.40" y1="356.10" x2="136.40" y2="358.10" class="tk"/>
<text x="136.40" y="420.20" class="tl" text-anchor="middle">15</text>
<line x1="173.73" y1="413.60" x2="173.73" y2="411.60" class="tk"/>
<line x1="173.73" y1="356.10" x2="173.73" y2="358.10" class="tk"/>
<text x="173.73" y="420.20" class="tl" text-anchor="middle">20</text>
<line x1="211.07" y1="413.60" x2="211.07" y2="411.60" class="tk"/>
<line x1="211.07" y1="356.10" x2="211.07" y2="358.10" class="tk"/>
<text x="211.07" y="420.20" class="tl" text-anchor="middle">25</text>
<line x1="248.40" y1="413.60" x2="248.40" y2="411.60" class="tk"/>
<line x1="248.40" y1="356.10" x2="248.40" y2="358.10" class="tk"/>
<text x="248.40" y="420.20" class="tl" text-anchor="middle">30</text>
<line x1="24.40" y1="413.60" x2="26.40" y2="413.60" class="tk"/>
<line x1="248.40" y1="413.60" x2="246.40" y2="413.60" class="tk"/>
<text x="22.80" y="416.00" class="tl" text-anchor="end">0</text>
<line x1="24.40" y1="399.23" x2="26.40" y2="399.23" class="tk"/>
<line x1="248.40" y1="399.23" x2="246.40" y2="399.23" class="tk"/>
<text transform="translate(22.80,401.62) scale(0.87,1)" class="tl" text-anchor="end">0.2</text>
<line x1="24.40" y1="384.85" x2="26.40" y2="384.85" class="tk"/>
<line x1="248.40" y1="384.85" x2="246.40" y2="384.85" class="tk"/>
<text transform="translate(22.80,387.25) scale(0.87,1)" class="tl" text-anchor="end">0.4</text>
<line x1="24.40" y1="370.48" x2="26.40" y2="370.48" class="tk"/>
<line x1="248.40" y1="370.48" x2="246.40" y2="370.48" class="tk"/>
<text transform="translate(22.80,372.88) scale(0.87,1)" class="tl" text-anchor="end">0.6</text>
<line x1="24.40" y1="356.10" x2="26.40" y2="356.10" class="tk"/>
<line x1="248.40" y1="356.10" x2="246.40" y2="356.10" class="tk"/>
<text transform="translate(22.80,358.50) scale(0.87,1)" class="tl" text-anchor="end">0.8</text>
<text transform="translate(11.80,384.85) rotate(-90)" class="yl" text-anchor="middle">--&gt; u<tspan dy="1.6" font-size="4.2">p</tspan><tspan dy="-1.6">(t)</tspan></text>
<rect x="215.10" y="381.20" width="28.70" height="31.40" class="lg"/>
<line x1="216.90" y1="384.80" x2="231.80" y2="384.80" stroke="#000000" stroke-width="1.5"/>
<text transform="translate(233.60,386.55) scale(0.86,1)" class="lt">m=1</text>
<line x1="216.90" y1="390.85" x2="231.80" y2="390.85" stroke="#0000ff" stroke-width="1.5"/>
<text transform="translate(233.60,392.60) scale(0.86,1)" class="lt">m=3</text>
<line x1="216.90" y1="396.90" x2="231.80" y2="396.90" stroke="#00ff00" stroke-width="1.5"/>
<text transform="translate(233.60,398.65) scale(0.86,1)" class="lt">m=5</text>
<line x1="216.90" y1="402.95" x2="231.80" y2="402.95" stroke="#ff0000" stroke-width="1.5"/>
<text transform="translate(233.60,404.70) scale(0.86,1)" class="lt">m=7</text>
<line x1="216.90" y1="409.00" x2="231.80" y2="409.00" stroke="#ff00ff" stroke-width="1.5"/>
<text transform="translate(233.60,410.75) scale(0.86,1)" class="lt">AV</text>
<line x1="61.73" y1="435.50" x2="61.73" y2="493.00" class="gr"/>
<line x1="99.07" y1="435.50" x2="99.07" y2="493.00" class="gr"/>
<line x1="136.40" y1="435.50" x2="136.40" y2="493.00" class="gr"/>
<line x1="173.73" y1="435.50" x2="173.73" y2="493.00" class="gr"/>
<line x1="211.07" y1="435.50" x2="211.07" y2="493.00" class="gr"/>
<line x1="24.40" y1="478.62" x2="248.40" y2="478.62" class="gr"/>
<line x1="24.40" y1="464.25" x2="248.40" y2="464.25" class="gr"/>
<line x1="24.40" y1="449.88" x2="248.40" y2="449.88" class="gr"/>
<g clip-path="url(#c_G2L3)">
<polyline points="24.4,435.5 26.0,435.8 27.6,436.5 29.2,437.6 30.9,439.1 32.5,441.6 34.1,445.0 35.7,448.1 37.3,451.0 38.9,453.6 40.6,456.1 42.2,458.5 43.8,460.9 45.4,463.0 47.0,464.9 48.6,466.5 50.3,467.8 51.9,468.9 53.5,469.7 55.1,470.2 56.7,470.5 58.3,470.6 59.9,470.1 61.6,469.5 63.2,468.8 64.8,468.0 66.4,467.0 68.0,465.9 69.6,464.8 71.3,463.8 72.9,462.9 74.5,462.2 76.1,461.6 77.7,461.1 79.3,461.0 81.0,461.1 82.6,461.4 84.2,461.7 85.8,462.1 87.4,462.7 89.0,463.3 90.6,463.9 92.3,464.6 93.9,465.1 95.5,465.6 97.1,465.9 98.7,466.2 100.3,466.5 102.0,466.7 103.6,466.9 105.2,467.1 106.8,467.2 108.4,467.3 110.0,467.4 111.7,467.5 113.3,467.6 114.9,467.7 116.5,467.8 118.1,467.9 119.7,467.9 121.3,468.0 123.0,468.1 124.6,468.2 126.2,468.2 127.8,468.3 129.4,468.4 131.0,468.4 132.7,468.5 134.3,468.6 135.9,468.6 137.5,468.7 139.1,468.8 140.7,468.8 142.4,468.9 144.0,469.0 145.6,469.1 147.2,469.1 148.8,469.2 150.4,469.3 152.1,469.3 153.7,469.4 155.3,469.5 156.9,469.6 158.5,469.6 160.1,469.7 161.7,469.8 163.4,469.8 165.0,469.9 166.6,470.0 168.2,470.0 169.8,470.1 171.4,470.1 173.1,470.2 174.7,470.2 176.3,470.3 177.9,470.3 179.5,470.4 181.1,470.4 182.8,470.5 184.4,470.5 186.0,470.5 187.6,470.6 189.2,470.6 190.8,470.6 192.4,470.6 194.1,470.6 195.7,470.7 197.3,470.7 198.9,470.7 200.5,470.7 202.1,470.7 203.8,470.7 205.4,470.8 207.0,470.8 208.6,470.8 210.2,470.8 211.8,470.8 213.5,470.8 215.1,470.8 216.7,470.9 218.3,470.9 219.9,470.9 221.5,470.9 223.1,470.9 224.8,470.9 226.4,470.9 228.0,470.9 229.6,470.9 231.2,471.0 232.8,471.0 234.5,471.0 236.1,471.0 237.7,471.0 239.3,471.0 240.9,471.0 242.5,471.0 244.2,471.0 245.8,471.0 247.4,471.0 249.0,471.0" fill="none" stroke="#00ff00" stroke-width="1.20" stroke-dasharray="0.9,0.9"/>
<polyline points="24.4,435.5 26.0,435.8 27.6,436.4 29.2,437.3 30.9,438.8 32.5,441.2 34.1,444.9 35.7,448.7 37.3,453.1 38.9,457.5 40.6,461.9 42.2,466.0 43.8,469.4 45.4,471.7 47.0,473.6 48.6,475.2 50.3,476.3 51.9,477.0 53.5,477.3 55.1,476.7 56.7,476.0 58.3,475.1 59.9,473.9 61.6,472.6 63.2,471.2 64.8,469.7 66.4,468.2 68.0,466.8 69.6,465.4 71.3,464.3 72.9,463.4 74.5,462.7 76.1,462.3 77.7,462.1 79.3,462.2 81.0,462.6 82.6,463.4 84.2,464.2 85.8,465.2 87.4,466.4 89.0,467.6 90.6,468.6 92.3,469.6 93.9,470.6 95.5,471.3 97.1,471.5 98.7,471.7 100.3,471.8 102.0,471.9 103.6,471.8 105.2,471.8 106.8,471.6 108.4,471.4 110.0,471.2 111.7,471.0 113.3,470.8 114.9,470.7 116.5,470.6 118.1,470.5 119.7,470.4 121.3,470.3 123.0,470.3 124.6,470.3 126.2,470.3 127.8,470.4 129.4,470.5 131.0,470.5 132.7,470.6 134.3,470.6 135.9,470.6 137.5,470.6 139.1,470.7 140.7,470.7 142.4,470.7 144.0,470.7 145.6,470.7 147.2,470.7 148.8,470.7 150.4,470.7 152.1,470.7 153.7,470.7 155.3,470.7 156.9,470.7 158.5,470.7 160.1,470.7 161.7,470.7 163.4,470.8 165.0,470.8 166.6,470.8 168.2,470.8 169.8,470.8 171.4,470.8 173.1,470.8 174.7,470.8 176.3,470.8 177.9,470.8 179.5,470.8 181.1,470.8 182.8,470.8 184.4,470.8 186.0,470.8 187.6,470.8 189.2,470.8 190.8,470.8 192.4,470.8 194.1,470.8 195.7,470.8 197.3,470.8 198.9,470.8 200.5,470.9 202.1,470.9 203.8,470.9 205.4,470.9 207.0,470.9 208.6,470.9 210.2,470.9 211.8,470.9 213.5,470.9 215.1,471.0 216.7,471.0 218.3,471.0 219.9,471.0 221.5,471.0 223.1,471.0 224.8,471.0 226.4,471.1 228.0,471.1 229.6,471.1 231.2,471.1 232.8,471.1 234.5,471.1 236.1,471.2 237.7,471.2 239.3,471.2 240.9,471.2 242.5,471.2 244.2,471.2 245.8,471.3 247.4,471.3 249.0,471.3" fill="none" stroke="#ff0000" stroke-width="1.20" stroke-dasharray="0.9,0.9"/>
<polyline points="24.4,435.5 26.0,435.5 27.6,435.7 29.2,435.9 30.9,436.2 32.5,436.7 34.1,437.9 35.7,439.7 37.3,441.8 38.9,443.9 40.6,445.4 42.2,446.7 43.8,447.9 45.4,449.0 47.0,450.0 48.6,450.8 50.3,451.5 51.9,452.0 53.5,452.4 55.1,452.8 56.7,453.1 58.3,453.4 59.9,453.6 61.6,453.8 63.2,453.9 64.8,454.0 66.4,454.1 68.0,454.2 69.6,454.2 71.3,454.2 72.9,454.3 74.5,454.3 76.1,454.4 77.7,454.4 79.3,454.5 81.0,454.7 82.6,454.9 84.2,455.0 85.8,455.2 87.4,455.3 89.0,455.4 90.6,455.5 92.3,455.6 93.9,455.7 95.5,455.8 97.1,455.9 98.7,456.1 100.3,456.2 102.0,456.3 103.6,456.5 105.2,456.6 106.8,456.8 108.4,457.0 110.0,457.2 111.7,457.4 113.3,457.6 114.9,457.9 116.5,458.1 118.1,458.4 119.7,458.6 121.3,458.9 123.0,459.1 124.6,459.3 126.2,459.6 127.8,459.8 129.4,460.0 131.0,460.2 132.7,460.4 134.3,460.5 135.9,460.7 137.5,460.8 139.1,461.0 140.7,461.1 142.4,461.2 144.0,461.4 145.6,461.5 147.2,461.6 148.8,461.7 150.4,461.9 152.1,462.0 153.7,462.1 155.3,462.2 156.9,462.3 158.5,462.4 160.1,462.6 161.7,462.7 163.4,462.8 165.0,462.9 166.6,463.0 168.2,463.1 169.8,463.2 171.4,463.3 173.1,463.4 174.7,463.5 176.3,463.6 177.9,463.6 179.5,463.7 181.1,463.8 182.8,463.9 184.4,464.0 186.0,464.1 187.6,464.2 189.2,464.3 190.8,464.4 192.4,464.5 194.1,464.5 195.7,464.6 197.3,464.7 198.9,464.8 200.5,464.9 202.1,465.0 203.8,465.0 205.4,465.1 207.0,465.2 208.6,465.3 210.2,465.4 211.8,465.4 213.5,465.5 215.1,465.6 216.7,465.7 218.3,465.8 219.9,465.8 221.5,465.9 223.1,466.0 224.8,466.0 226.4,466.1 228.0,466.2 229.6,466.3 231.2,466.3 232.8,466.4 234.5,466.5 236.1,466.5 237.7,466.6 239.3,466.6 240.9,466.7 242.5,466.8 244.2,466.8 245.8,466.9 247.4,466.9 249.0,467.0" fill="none" stroke="#000000" stroke-width="1.50" stroke-dasharray="0.9,0.9"/>
<polyline points="24.4,435.5 26.0,435.5 27.6,435.7 29.2,435.9 30.9,436.3 32.5,437.9 34.1,440.1 35.7,442.6 37.3,445.2 38.9,448.2 40.6,450.9 42.2,453.5 43.8,455.7 45.4,457.6 47.0,459.2 48.6,460.7 50.3,462.2 51.9,463.7 53.5,464.8 55.1,465.3 56.7,465.7 58.3,466.0 59.9,465.9 61.6,465.7 63.2,465.2 64.8,464.7 66.4,464.0 68.0,463.3 69.6,462.6 71.3,462.2 72.9,461.7 74.5,461.4 76.1,461.1 77.7,461.0 79.3,461.0 81.0,461.2 82.6,461.3 84.2,461.5 85.8,461.7 87.4,461.9 89.0,462.1 90.6,462.4 92.3,462.7 93.9,462.9 95.5,463.2 97.1,463.5 98.7,463.7 100.3,464.0 102.0,464.2 103.6,464.4 105.2,464.6 106.8,464.8 108.4,465.0 110.0,465.2 111.7,465.4 113.3,465.6 114.9,465.8 116.5,466.0 118.1,466.2 119.7,466.3 121.3,466.5 123.0,466.7 124.6,466.8 126.2,466.9 127.8,467.1 129.4,467.2 131.0,467.3 132.7,467.4 134.3,467.5 135.9,467.6 137.5,467.7 139.1,467.8 140.7,467.8 142.4,467.9 144.0,468.0 145.6,468.1 147.2,468.1 148.8,468.2 150.4,468.3 152.1,468.3 153.7,468.4 155.3,468.5 156.9,468.5 158.5,468.6 160.1,468.6 161.7,468.7 163.4,468.7 165.0,468.8 166.6,468.8 168.2,468.9 169.8,468.9 171.4,469.0 173.1,469.0 174.7,469.1 176.3,469.1 177.9,469.2 179.5,469.2 181.1,469.3 182.8,469.3 184.4,469.3 186.0,469.4 187.6,469.4 189.2,469.4 190.8,469.5 192.4,469.5 194.1,469.6 195.7,469.6 197.3,469.6 198.9,469.7 200.5,469.7 202.1,469.7 203.8,469.8 205.4,469.8 207.0,469.8 208.6,469.9 210.2,469.9 211.8,469.9 213.5,470.0 215.1,470.0 216.7,470.0 218.3,470.1 219.9,470.1 221.5,470.1 223.1,470.2 224.8,470.2 226.4,470.2 228.0,470.2 229.6,470.3 231.2,470.3 232.8,470.3 234.5,470.3 236.1,470.4 237.7,470.4 239.3,470.4 240.9,470.4 242.5,470.4 244.2,470.5 245.8,470.5 247.4,470.5 249.0,470.5" fill="none" stroke="#0000ff" stroke-width="1.50" stroke-dasharray="0.9,0.9"/>
<polyline points="24.4,435.5 26.0,439.6 27.6,443.4 29.2,446.4 30.9,449.1 32.5,451.0 34.1,452.3 35.7,453.3 37.3,454.2 38.9,455.0 40.6,455.7 42.2,456.5 43.8,457.0 45.4,457.2 47.0,457.4 48.6,457.5 50.3,457.5 51.9,457.4 53.5,457.3 55.1,457.1 56.7,456.9 58.3,456.6 59.9,456.3 61.6,456.0 63.2,455.9 64.8,455.8 66.4,455.7 68.0,455.6 69.6,455.5 71.3,455.3 72.9,455.2 74.5,455.0 76.1,455.0 77.7,455.0 79.3,455.1 81.0,455.1 82.6,455.2 84.2,455.3 85.8,455.4 87.4,455.5 89.0,455.6 90.6,455.7 92.3,455.9 93.9,456.0 95.5,456.2 97.1,456.3 98.7,456.5 100.3,456.7 102.0,456.8 103.6,457.0 105.2,457.1 106.8,457.3 108.4,457.4 110.0,457.5 111.7,457.7 113.3,457.8 114.9,458.0 116.5,458.1 118.1,458.3 119.7,458.5 121.3,458.7 123.0,458.9 124.6,459.1 126.2,459.4 127.8,459.8 129.4,460.1 131.0,460.5 132.7,460.8 134.3,461.0 135.9,461.2 137.5,461.3 139.1,461.5 140.7,461.6 142.4,461.8 144.0,461.9 145.6,462.0 147.2,462.2 148.8,462.3 150.4,462.4 152.1,462.5 153.7,462.6 155.3,462.7 156.9,462.8 158.5,462.9 160.1,462.9 161.7,463.0 163.4,463.1 165.0,463.2 166.6,463.3 168.2,463.3 169.8,463.4 171.4,463.5 173.1,463.5 174.7,463.6 176.3,463.7 177.9,463.8 179.5,463.8 181.1,463.9 182.8,464.0 184.4,464.1 186.0,464.1 187.6,464.2 189.2,464.3 190.8,464.4 192.4,464.4 194.1,464.5 195.7,464.6 197.3,464.7 198.9,464.8 200.5,464.9 202.1,464.9 203.8,465.0 205.4,465.1 207.0,465.2 208.6,465.3 210.2,465.3 211.8,465.4 213.5,465.5 215.1,465.6 216.7,465.7 218.3,465.7 219.9,465.8 221.5,465.9 223.1,466.0 224.8,466.0 226.4,466.1 228.0,466.2 229.6,466.3 231.2,466.3 232.8,466.4 234.5,466.5 236.1,466.6 237.7,466.6 239.3,466.7 240.9,466.8 242.5,466.8 244.2,466.9 245.8,467.0 247.4,467.0 249.0,467.1" fill="none" stroke="#000000" stroke-width="1.50" stroke-dasharray="3.2,1.6"/>
<polyline points="24.4,435.5 26.0,436.2 27.6,437.7 29.2,440.4 30.9,444.5 32.5,449.1 34.1,452.4 35.7,455.2 37.3,457.7 38.9,459.9 40.6,461.8 42.2,463.4 43.8,464.8 45.4,466.1 47.0,467.3 48.6,468.0 50.3,468.0 51.9,468.0 53.5,468.0 55.1,467.8 56.7,467.2 58.3,466.3 59.9,465.5 61.6,464.5 63.2,463.5 64.8,462.6 66.4,461.7 68.0,460.9 69.6,460.3 71.3,459.7 72.9,459.2 74.5,458.9 76.1,458.7 77.7,458.5 79.3,458.5 81.0,458.6 82.6,458.8 84.2,459.0 85.8,459.3 87.4,459.8 89.0,460.3 90.6,460.9 92.3,461.4 93.9,462.0 95.5,462.5 97.1,463.0 98.7,463.5 100.3,464.0 102.0,464.5 103.6,464.9 105.2,465.3 106.8,465.7 108.4,466.1 110.0,466.4 111.7,466.7 113.3,466.9 114.9,467.1 116.5,467.2 118.1,467.3 119.7,467.4 121.3,467.5 123.0,467.6 124.6,467.6 126.2,467.7 127.8,467.8 129.4,467.8 131.0,467.9 132.7,468.0 134.3,468.0 135.9,468.1 137.5,468.1 139.1,468.2 140.7,468.2 142.4,468.3 144.0,468.3 145.6,468.4 147.2,468.4 148.8,468.5 150.4,468.5 152.1,468.6 153.7,468.6 155.3,468.7 156.9,468.7 158.5,468.8 160.1,468.8 161.7,468.9 163.4,468.9 165.0,468.9 166.6,469.0 168.2,469.0 169.8,469.1 171.4,469.1 173.1,469.1 174.7,469.2 176.3,469.2 177.9,469.2 179.5,469.3 181.1,469.3 182.8,469.3 184.4,469.4 186.0,469.4 187.6,469.4 189.2,469.5 190.8,469.5 192.4,469.5 194.1,469.5 195.7,469.6 197.3,469.6 198.9,469.6 200.5,469.6 202.1,469.7 203.8,469.7 205.4,469.7 207.0,469.7 208.6,469.8 210.2,469.8 211.8,469.8 213.5,469.8 215.1,469.9 216.7,469.9 218.3,469.9 219.9,469.9 221.5,469.9 223.1,470.0 224.8,470.0 226.4,470.0 228.0,470.0 229.6,470.0 231.2,470.1 232.8,470.1 234.5,470.1 236.1,470.1 237.7,470.1 239.3,470.1 240.9,470.1 242.5,470.2 244.2,470.2 245.8,470.2 247.4,470.2 249.0,470.2" fill="none" stroke="#0000ff" stroke-width="1.50" stroke-dasharray="3.2,1.6"/>
<polyline points="24.4,435.5 26.0,436.2 27.6,437.7 29.2,440.4 30.9,443.7 32.5,447.9 34.1,452.2 35.7,456.2 37.3,459.6 38.9,462.2 40.6,464.4 42.2,466.6 43.8,468.8 45.4,470.3 47.0,471.6 48.6,472.4 50.3,472.7 51.9,473.0 53.5,473.0 55.1,472.2 56.7,471.2 58.3,470.1 59.9,468.7 61.6,467.4 63.2,466.0 64.8,464.6 66.4,463.4 68.0,462.4 69.6,461.4 71.3,460.7 72.9,460.3 74.5,460.0 76.1,459.7 77.7,459.5 79.3,459.5 81.0,459.7 82.6,460.0 84.2,460.5 85.8,460.9 87.4,461.5 89.0,462.1 90.6,462.8 92.3,463.4 93.9,464.0 95.5,464.4 97.1,464.8 98.7,465.1 100.3,465.4 102.0,465.7 103.6,465.9 105.2,466.1 106.8,466.3 108.4,466.5 110.0,466.7 111.7,466.9 113.3,467.0 114.9,467.2 116.5,467.3 118.1,467.5 119.7,467.6 121.3,467.7 123.0,467.8 124.6,467.9 126.2,468.1 127.8,468.2 129.4,468.2 131.0,468.3 132.7,468.4 134.3,468.5 135.9,468.6 137.5,468.7 139.1,468.8 140.7,468.8 142.4,468.9 144.0,469.0 145.6,469.1 147.2,469.1 148.8,469.2 150.4,469.3 152.1,469.3 153.7,469.4 155.3,469.5 156.9,469.5 158.5,469.6 160.1,469.7 161.7,469.7 163.4,469.8 165.0,469.8 166.6,469.9 168.2,470.0 169.8,470.0 171.4,470.1 173.1,470.1 174.7,470.1 176.3,470.2 177.9,470.2 179.5,470.3 181.1,470.3 182.8,470.3 184.4,470.4 186.0,470.4 187.6,470.4 189.2,470.5 190.8,470.5 192.4,470.5 194.1,470.5 195.7,470.6 197.3,470.6 198.9,470.6 200.5,470.6 202.1,470.6 203.8,470.7 205.4,470.7 207.0,470.7 208.6,470.7 210.2,470.7 211.8,470.8 213.5,470.8 215.1,470.8 216.7,470.8 218.3,470.8 219.9,470.8 221.5,470.9 223.1,470.9 224.8,470.9 226.4,470.9 228.0,470.9 229.6,470.9 231.2,470.9 232.8,470.9 234.5,471.0 236.1,471.0 237.7,471.0 239.3,471.0 240.9,471.0 242.5,471.0 244.2,471.0 245.8,471.0 247.4,471.0 249.0,471.0" fill="none" stroke="#00ff00" stroke-width="1.50" stroke-dasharray="3.2,1.6"/>
<polyline points="24.4,435.5 26.0,436.3 27.6,437.6 29.2,439.7 30.9,442.9 32.5,447.4 34.1,452.9 35.7,458.4 37.3,463.8 38.9,469.0 40.6,473.9 42.2,477.9 43.8,480.8 45.4,481.7 47.0,482.0 48.6,481.2 50.3,479.8 51.9,478.2 53.5,476.5 55.1,474.9 56.7,473.3 58.3,471.6 59.9,470.0 61.6,468.5 63.2,467.1 64.8,465.9 66.4,464.7 68.0,463.6 69.6,462.6 71.3,461.9 72.9,461.5 74.5,461.1 76.1,461.0 77.7,461.2 79.3,461.8 81.0,462.5 82.6,463.8 84.2,465.1 85.8,466.6 87.4,468.1 89.0,469.4 90.6,470.3 92.3,471.1 93.9,471.7 95.5,472.0 97.1,472.0 98.7,471.9 100.3,471.8 102.0,471.7 103.6,471.6 105.2,471.5 106.8,471.3 108.4,471.1 110.0,470.8 111.7,470.6 113.3,470.5 114.9,470.3 116.5,470.3 118.1,470.2 119.7,470.1 121.3,470.0 123.0,470.0 124.6,470.0 126.2,470.1 127.8,470.1 129.4,470.3 131.0,470.4 132.7,470.5 134.3,470.5 135.9,470.5 137.5,470.6 139.1,470.6 140.7,470.6 142.4,470.6 144.0,470.7 145.6,470.7 147.2,470.7 148.8,470.7 150.4,470.7 152.1,470.7 153.7,470.8 155.3,470.8 156.9,470.8 158.5,470.8 160.1,470.8 161.7,470.8 163.4,470.8 165.0,470.8 166.6,470.9 168.2,470.9 169.8,470.9 171.4,470.9 173.1,470.9 174.7,470.9 176.3,470.9 177.9,470.9 179.5,470.9 181.1,470.9 182.8,470.9 184.4,471.0 186.0,471.0 187.6,471.0 189.2,471.0 190.8,471.0 192.4,471.0 194.1,471.0 195.7,471.0 197.3,471.0 198.9,471.0 200.5,471.1 202.1,471.1 203.8,471.1 205.4,471.1 207.0,471.1 208.6,471.1 210.2,471.1 211.8,471.1 213.5,471.1 215.1,471.1 216.7,471.2 218.3,471.2 219.9,471.2 221.5,471.2 223.1,471.2 224.8,471.2 226.4,471.2 228.0,471.2 229.6,471.2 231.2,471.2 232.8,471.2 234.5,471.2 236.1,471.2 237.7,471.3 239.3,471.3 240.9,471.3 242.5,471.3 244.2,471.3 245.8,471.3 247.4,471.3 249.0,471.3" fill="none" stroke="#ff0000" stroke-width="1.50" stroke-dasharray="3.2,1.6"/>
<polyline points="24.4,435.5 26.0,435.6 27.6,435.8 29.2,436.0 30.9,436.5 32.5,437.0 34.1,437.5 35.7,438.0 37.3,438.5 38.9,439.0 40.6,439.6 42.2,440.2 43.8,440.9 45.4,441.6 47.0,442.2 48.6,442.9 50.3,443.5 51.9,444.1 53.5,444.8 55.1,445.5 56.7,446.1 58.3,446.8 59.9,447.3 61.6,447.8 63.2,448.3 64.8,448.7 66.4,449.2 68.0,449.6 69.6,449.9 71.3,450.3 72.9,450.6 74.5,450.9 76.1,451.1 77.7,451.3 79.3,451.5 81.0,451.7 82.6,451.9 84.2,452.1 85.8,452.2 87.4,452.4 89.0,452.5 90.6,452.7 92.3,452.8 93.9,453.0 95.5,453.1 97.1,453.3 98.7,453.4 100.3,453.6 102.0,453.8 103.6,453.9 105.2,454.2 106.8,454.4 108.4,454.7 110.0,455.0 111.7,455.3 113.3,455.5 114.9,455.7 116.5,455.9 118.1,456.1 119.7,456.2 121.3,456.4 123.0,456.6 124.6,456.7 126.2,456.9 127.8,457.0 129.4,457.1 131.0,457.3 132.7,457.4 134.3,457.5 135.9,457.6 137.5,457.8 139.1,457.9 140.7,458.0 142.4,458.1 144.0,458.3 145.6,458.4 147.2,458.5 148.8,458.6 150.4,458.7 152.1,458.8 153.7,458.9 155.3,459.0 156.9,459.1 158.5,459.2 160.1,459.3 161.7,459.4 163.4,459.5 165.0,459.6 166.6,459.7 168.2,459.8 169.8,459.9 171.4,460.0 173.1,460.1 174.7,460.2 176.3,460.3 177.9,460.4 179.5,460.5 181.1,460.6 182.8,460.7 184.4,460.8 186.0,460.9 187.6,461.0 189.2,461.1 190.8,461.3 192.4,461.4 194.1,461.5 195.7,461.6 197.3,461.7 198.9,461.8 200.5,461.9 202.1,462.0 203.8,462.2 205.4,462.3 207.0,462.4 208.6,462.5 210.2,462.6 211.8,462.7 213.5,462.9 215.1,463.0 216.7,463.1 218.3,463.2 219.9,463.3 221.5,463.4 223.1,463.6 224.8,463.7 226.4,463.8 228.0,463.9 229.6,464.0 231.2,464.2 232.8,464.3 234.5,464.4 236.1,464.5 237.7,464.6 239.3,464.8 240.9,464.9 242.5,465.0 244.2,465.1 245.8,465.3 247.4,465.4 249.0,465.5" fill="none" stroke="#000000" stroke-width="1.50" />
<polyline points="24.4,435.5 26.0,435.5 27.6,435.6 29.2,435.8 30.9,436.0 32.5,436.7 34.1,438.1 35.7,439.5 37.3,441.2 38.9,442.9 40.6,444.8 42.2,446.8 43.8,448.8 45.4,450.5 47.0,452.1 48.6,453.7 50.3,455.1 51.9,456.4 53.5,457.6 55.1,458.8 56.7,459.9 58.3,460.8 59.9,461.3 61.6,461.7 63.2,462.0 64.8,462.0 66.4,461.7 68.0,461.3 69.6,460.8 71.3,460.3 72.9,459.8 74.5,459.4 76.1,458.9 77.7,458.6 79.3,458.5 81.0,458.7 82.6,459.1 84.2,459.5 85.8,459.9 87.4,460.3 89.0,460.8 90.6,461.2 92.3,461.6 93.9,462.0 95.5,462.4 97.1,462.8 98.7,463.2 100.3,463.5 102.0,463.9 103.6,464.2 105.2,464.5 106.8,464.8 108.4,465.1 110.0,465.3 111.7,465.5 113.3,465.7 114.9,465.9 116.5,466.1 118.1,466.2 119.7,466.4 121.3,466.5 123.0,466.7 124.6,466.8 126.2,467.0 127.8,467.1 129.4,467.2 131.0,467.3 132.7,467.4 134.3,467.5 135.9,467.6 137.5,467.7 139.1,467.7 140.7,467.8 142.4,467.9 144.0,467.9 145.6,468.0 147.2,468.1 148.8,468.1 150.4,468.2 152.1,468.2 153.7,468.3 155.3,468.3 156.9,468.4 158.5,468.4 160.1,468.5 161.7,468.5 163.4,468.6 165.0,468.6 166.6,468.7 168.2,468.7 169.8,468.7 171.4,468.8 173.1,468.8 174.7,468.9 176.3,468.9 177.9,468.9 179.5,469.0 181.1,469.0 182.8,469.0 184.4,469.1 186.0,469.1 187.6,469.1 189.2,469.2 190.8,469.2 192.4,469.2 194.1,469.2 195.7,469.3 197.3,469.3 198.9,469.3 200.5,469.4 202.1,469.4 203.8,469.4 205.4,469.5 207.0,469.5 208.6,469.5 210.2,469.5 211.8,469.6 213.5,469.6 215.1,469.6 216.7,469.6 218.3,469.7 219.9,469.7 221.5,469.7 223.1,469.7 224.8,469.8 226.4,469.8 228.0,469.8 229.6,469.8 231.2,469.8 232.8,469.9 234.5,469.9 236.1,469.9 237.7,469.9 239.3,469.9 240.9,469.9 242.5,470.0 244.2,470.0 245.8,470.0 247.4,470.0 249.0,470.0" fill="none" stroke="#0000ff" stroke-width="1.50" />
<polyline points="24.4,435.5 26.0,435.5 27.6,435.6 29.2,435.8 30.9,436.0 32.5,437.5 34.1,440.1 35.7,442.6 37.3,445.3 38.9,447.9 40.6,450.5 42.2,453.2 43.8,455.7 45.4,458.1 47.0,460.4 48.6,462.6 50.3,464.4 51.9,466.1 53.5,467.6 55.1,468.9 56.7,470.1 58.3,470.9 59.9,471.0 61.6,470.9 63.2,470.6 64.8,470.3 66.4,469.4 68.0,468.2 69.6,467.1 71.3,465.8 72.9,464.7 74.5,463.7 76.1,462.9 77.7,462.2 79.3,462.0 81.0,462.1 82.6,462.3 84.2,462.5 85.8,462.9 87.4,463.5 89.0,464.2 90.6,464.7 92.3,465.3 93.9,465.9 95.5,466.4 97.1,466.7 98.7,467.0 100.3,467.2 102.0,467.4 103.6,467.6 105.2,467.7 106.8,467.7 108.4,467.8 110.0,467.9 111.7,467.9 113.3,468.0 114.9,468.0 116.5,468.1 118.1,468.1 119.7,468.2 121.3,468.2 123.0,468.3 124.6,468.3 126.2,468.4 127.8,468.4 129.4,468.5 131.0,468.5 132.7,468.6 134.3,468.6 135.9,468.7 137.5,468.7 139.1,468.8 140.7,468.8 142.4,468.9 144.0,469.0 145.6,469.0 147.2,469.1 148.8,469.2 150.4,469.3 152.1,469.3 153.7,469.4 155.3,469.5 156.9,469.6 158.5,469.6 160.1,469.7 161.7,469.8 163.4,469.8 165.0,469.9 166.6,470.0 168.2,470.1 169.8,470.1 171.4,470.2 173.1,470.2 174.7,470.3 176.3,470.4 177.9,470.4 179.5,470.5 181.1,470.5 182.8,470.5 184.4,470.6 186.0,470.6 187.6,470.6 189.2,470.7 190.8,470.7 192.4,470.7 194.1,470.7 195.7,470.7 197.3,470.8 198.9,470.8 200.5,470.8 202.1,470.8 203.8,470.8 205.4,470.8 207.0,470.8 208.6,470.8 210.2,470.9 211.8,470.9 213.5,470.9 215.1,470.9 216.7,470.9 218.3,470.9 219.9,470.9 221.5,470.9 223.1,470.9 224.8,470.9 226.4,470.9 228.0,471.0 229.6,471.0 231.2,471.0 232.8,471.0 234.5,471.0 236.1,471.0 237.7,471.0 239.3,471.0 240.9,471.0 242.5,471.0 244.2,471.0 245.8,471.0 247.4,471.0 249.0,471.0" fill="none" stroke="#00ff00" stroke-width="1.50" />
<polyline points="24.4,435.5 26.0,435.5 27.6,435.6 29.2,435.8 30.9,436.0 32.5,437.1 34.1,439.5 35.7,442.3 37.3,445.9 38.9,449.9 40.6,453.9 42.2,458.1 43.8,461.7 45.4,465.0 47.0,468.0 48.6,471.1 50.3,474.0 51.9,476.2 53.5,477.9 55.1,478.0 56.7,477.7 58.3,477.4 59.9,476.6 61.6,475.3 63.2,474.0 64.8,472.3 66.4,470.6 68.0,468.9 69.6,467.3 71.3,465.9 72.9,464.6 74.5,463.8 76.1,463.1 77.7,462.6 79.3,462.5 81.0,462.7 82.6,463.1 84.2,463.6 85.8,464.3 87.4,465.3 89.0,466.4 90.6,467.4 92.3,468.7 93.9,470.0 95.5,470.9 97.1,471.2 98.7,471.5 100.3,471.8 102.0,471.9 103.6,472.0 105.2,472.0 106.8,471.8 108.4,471.7 110.0,471.4 111.7,471.2 113.3,471.1 114.9,470.9 116.5,470.8 118.1,470.7 119.7,470.6 121.3,470.6 123.0,470.5 124.6,470.5 126.2,470.5 127.8,470.6 129.4,470.6 131.0,470.7 132.7,470.7 134.3,470.7 135.9,470.7 137.5,470.7 139.1,470.7 140.7,470.7 142.4,470.7 144.0,470.7 145.6,470.7 147.2,470.7 148.8,470.7 150.4,470.7 152.1,470.7 153.7,470.7 155.3,470.7 156.9,470.7 158.5,470.7 160.1,470.7 161.7,470.7 163.4,470.7 165.0,470.7 166.6,470.7 168.2,470.7 169.8,470.7 171.4,470.7 173.1,470.7 174.7,470.7 176.3,470.7 177.9,470.7 179.5,470.7 181.1,470.7 182.8,470.7 184.4,470.7 186.0,470.7 187.6,470.7 189.2,470.7 190.8,470.7 192.4,470.7 194.1,470.7 195.7,470.7 197.3,470.7 198.9,470.7 200.5,470.7 202.1,470.7 203.8,470.7 205.4,470.7 207.0,470.8 208.6,470.8 210.2,470.8 211.8,470.8 213.5,470.8 215.1,470.8 216.7,470.8 218.3,470.9 219.9,470.9 221.5,470.9 223.1,470.9 224.8,470.9 226.4,471.0 228.0,471.0 229.6,471.0 231.2,471.0 232.8,471.1 234.5,471.1 236.1,471.1 237.7,471.1 239.3,471.1 240.9,471.2 242.5,471.2 244.2,471.2 245.8,471.2 247.4,471.3 249.0,471.3" fill="none" stroke="#ff0000" stroke-width="1.50" />
</g>
<path d="M24.40 493.00V435.50H248.40" class="bx" stroke="#8c8c8c"/>
<path d="M248.40 435.50V493.00H24.40" class="bx" stroke="#b4b4b4"/>
<line x1="24.40" y1="493.00" x2="24.40" y2="491.00" class="tk"/>
<line x1="24.40" y1="435.50" x2="24.40" y2="437.50" class="tk"/>
<text x="24.40" y="499.60" class="tl" text-anchor="middle">0</text>
<line x1="61.73" y1="493.00" x2="61.73" y2="491.00" class="tk"/>
<line x1="61.73" y1="435.50" x2="61.73" y2="437.50" class="tk"/>
<text x="61.73" y="499.60" class="tl" text-anchor="middle">5</text>
<line x1="99.07" y1="493.00" x2="99.07" y2="491.00" class="tk"/>
<line x1="99.07" y1="435.50" x2="99.07" y2="437.50" class="tk"/>
<text x="99.07" y="499.60" class="tl" text-anchor="middle">10</text>
<line x1="136.40" y1="493.00" x2="136.40" y2="491.00" class="tk"/>
<line x1="136.40" y1="435.50" x2="136.40" y2="437.50" class="tk"/>
<text x="136.40" y="499.60" class="tl" text-anchor="middle">15</text>
<line x1="173.73" y1="493.00" x2="173.73" y2="491.00" class="tk"/>
<line x1="173.73" y1="435.50" x2="173.73" y2="437.50" class="tk"/>
<text x="173.73" y="499.60" class="tl" text-anchor="middle">20</text>
<line x1="211.07" y1="493.00" x2="211.07" y2="491.00" class="tk"/>
<line x1="211.07" y1="435.50" x2="211.07" y2="437.50" class="tk"/>
<text x="211.07" y="499.60" class="tl" text-anchor="middle">25</text>
<line x1="248.40" y1="493.00" x2="248.40" y2="491.00" class="tk"/>
<line x1="248.40" y1="435.50" x2="248.40" y2="437.50" class="tk"/>
<text x="248.40" y="499.60" class="tl" text-anchor="middle">30</text>
<line x1="24.40" y1="493.00" x2="26.40" y2="493.00" class="tk"/>
<line x1="248.40" y1="493.00" x2="246.40" y2="493.00" class="tk"/>
<text transform="translate(22.80,495.40) scale(0.87,1)" class="tl" text-anchor="end">-0.8</text>
<line x1="24.40" y1="478.62" x2="26.40" y2="478.62" class="tk"/>
<line x1="248.40" y1="478.62" x2="246.40" y2="478.62" class="tk"/>
<text transform="translate(22.80,481.02) scale(0.87,1)" class="tl" text-anchor="end">-0.6</text>
<line x1="24.40" y1="464.25" x2="26.40" y2="464.25" class="tk"/>
<line x1="248.40" y1="464.25" x2="246.40" y2="464.25" class="tk"/>
<text transform="translate(22.80,466.65) scale(0.87,1)" class="tl" text-anchor="end">-0.4</text>
<line x1="24.40" y1="449.88" x2="26.40" y2="449.88" class="tk"/>
<line x1="248.40" y1="449.88" x2="246.40" y2="449.88" class="tk"/>
<text transform="translate(22.80,452.27) scale(0.87,1)" class="tl" text-anchor="end">-0.2</text>
<line x1="24.40" y1="435.50" x2="26.40" y2="435.50" class="tk"/>
<line x1="248.40" y1="435.50" x2="246.40" y2="435.50" class="tk"/>
<text x="22.80" y="437.90" class="tl" text-anchor="end">0</text>
<text transform="translate(9.30,464.25) rotate(-90)" class="yl" text-anchor="middle">--&gt; d<tspan dy="1.6" font-size="4.2">pac</tspan><tspan dy="-1.6">(t)</tspan></text>
<text x="136.40" y="506.80" class="yl" text-anchor="middle">--&gt; Time t</text>
<rect x="215.10" y="437.20" width="28.70" height="25.10" class="lg"/>
<line x1="216.90" y1="441.40" x2="231.80" y2="441.40" stroke="#000000" stroke-width="1.5"/>
<text transform="translate(233.60,443.15) scale(0.86,1)" class="lt">m=1</text>
<line x1="216.90" y1="447.20" x2="231.80" y2="447.20" stroke="#0000ff" stroke-width="1.5"/>
<text transform="translate(233.60,448.95) scale(0.86,1)" class="lt">m=3</text>
<line x1="216.90" y1="453.00" x2="231.80" y2="453.00" stroke="#00ff00" stroke-width="1.5"/>
<text transform="translate(233.60,454.75) scale(0.86,1)" class="lt">m=5</text>
<line x1="216.90" y1="458.80" x2="231.80" y2="458.80" stroke="#ff0000" stroke-width="1.5"/>
<text transform="translate(233.60,460.55) scale(0.86,1)" class="lt">m=7</text>
<line x1="354.73" y1="276.20" x2="354.73" y2="333.40" class="gr"/>
<line x1="392.07" y1="276.20" x2="392.07" y2="333.40" class="gr"/>
<line x1="429.40" y1="276.20" x2="429.40" y2="333.40" class="gr"/>
<line x1="466.73" y1="276.20" x2="466.73" y2="333.40" class="gr"/>
<line x1="504.07" y1="276.20" x2="504.07" y2="333.40" class="gr"/>
<line x1="317.40" y1="319.10" x2="541.40" y2="319.10" class="gr"/>
<line x1="317.40" y1="304.80" x2="541.40" y2="304.80" class="gr"/>
<line x1="317.40" y1="290.50" x2="541.40" y2="290.50" class="gr"/>
<g clip-path="url(#c_G2R1)">
<polyline points="317.4,319.0 319.0,319.0 320.6,319.0 322.2,319.0 323.8,319.0 325.5,319.0 327.1,319.0 328.7,319.0 330.3,319.0 331.9,319.0 333.5,319.0 335.1,319.0 336.7,319.0 338.3,319.0 340.0,319.0 341.6,319.0 343.2,319.0 344.8,319.0 346.4,319.0 348.0,319.0 349.6,319.0 351.2,319.0 352.9,319.0 354.5,319.0 356.1,319.0 357.7,319.0 359.3,319.0 360.9,319.0 362.5,319.0 364.1,319.0 365.7,319.0 367.4,319.0 369.0,319.0 370.6,319.0 372.2,319.0 373.8,319.0 375.4,319.0 377.0,319.0 378.6,319.0 380.2,319.0 381.9,319.0 383.5,319.0 385.1,319.0 386.7,319.0 388.3,319.0 389.9,319.0 391.5,319.0 393.1,319.0 394.8,319.0 396.4,319.0 398.0,319.0 399.6,319.0 401.2,319.0 402.8,319.0 404.4,319.0 406.0,319.0 407.6,319.0 409.3,319.0 410.9,319.0 412.5,319.0 414.1,319.0 415.7,319.0 417.3,319.0 418.9,319.0 420.5,319.0 422.1,319.0 423.8,319.0 425.4,319.0 427.0,319.0 428.6,319.0 430.2,319.0 431.8,319.0 433.4,319.0 435.0,319.0 436.7,319.0 438.3,319.0 439.9,319.0 441.5,319.0 443.1,319.0 444.7,319.0 446.3,319.0 447.9,319.0 449.5,319.0 451.2,319.0 452.8,319.0 454.4,319.0 456.0,319.0 457.6,319.0 459.2,319.0 460.8,319.0 462.4,319.0 464.0,319.0 465.7,319.0 467.3,319.0 468.9,319.0 470.5,319.0 472.1,319.0 473.7,319.0 475.3,319.0 476.9,319.0 478.6,319.0 480.2,319.0 481.8,319.0 483.4,319.0 485.0,319.0 486.6,319.0 488.2,319.0 489.8,319.0 491.4,319.0 493.1,319.0 494.7,319.0 496.3,319.0 497.9,319.0 499.5,319.0 501.1,319.0 502.7,319.0 504.3,319.0 505.9,319.0 507.6,319.0 509.2,319.0 510.8,319.0 512.4,319.0 514.0,319.0 515.6,319.0 517.2,319.0 518.8,319.0 520.5,319.0 522.1,319.0 523.7,319.0 525.3,319.0 526.9,319.0 528.5,319.0 530.1,319.0 531.7,319.0 533.3,319.0 535.0,319.0 536.6,319.0 538.2,319.0 539.8,319.0 541.4,319.0" fill="none" stroke="#b0b0b0" stroke-width="0.80" />
<polyline points="317.4,319.0 319.0,319.0 320.6,319.0 322.2,319.0 323.8,319.0 325.5,319.0 327.1,319.0 328.7,319.0 330.3,319.0 331.9,319.0 333.5,319.0 335.1,319.0 336.7,321.4 338.3,323.7 340.0,323.7 341.6,322.5 343.2,320.8 344.8,319.3 346.4,317.7 348.0,315.5 349.6,312.6 351.2,309.9 352.9,307.0 354.5,304.2 356.1,301.2 357.7,298.5 359.3,296.2 360.9,294.2 362.5,292.5 364.1,291.1 365.7,290.0 367.4,289.1 369.0,288.3 370.6,287.4 372.2,286.3 373.8,285.4 375.4,284.9 377.0,284.7 378.6,284.6 380.2,285.1 381.9,285.7 383.5,286.5 385.1,287.6 386.7,288.8 388.3,290.0 389.9,291.3 391.5,292.6 393.1,293.9 394.8,295.2 396.4,296.5 398.0,297.7 399.6,298.9 401.2,300.0 402.8,301.0 404.4,301.8 406.0,302.6 407.6,303.3 409.3,304.0 410.9,304.6 412.5,305.1 414.1,305.5 415.7,305.8 417.3,306.0 418.9,306.2 420.5,306.4 422.1,306.5 423.8,306.6 425.4,306.8 427.0,306.8 428.6,306.8 430.2,306.8 431.8,306.7 433.4,306.7 435.0,306.6 436.7,306.5 438.3,306.5 439.9,306.4 441.5,306.3 443.1,306.2 444.7,306.1 446.3,306.0 447.9,306.0 449.5,306.0 451.2,306.1 452.8,306.1 454.4,306.2 456.0,306.3 457.6,306.4 459.2,306.6 460.8,306.8 462.4,307.0 464.0,307.3 465.7,307.6 467.3,307.9 468.9,308.1 470.5,308.3 472.1,308.6 473.7,308.8 475.3,309.0 476.9,309.3 478.6,309.5 480.2,309.7 481.8,310.0 483.4,310.2 485.0,310.4 486.6,310.7 488.2,310.9 489.8,311.0 491.4,311.1 493.1,311.2 494.7,311.3 496.3,311.4 497.9,311.5 499.5,311.6 501.1,311.7 502.7,311.8 504.3,311.8 505.9,311.9 507.6,312.0 509.2,312.0 510.8,312.1 512.4,312.2 514.0,312.2 515.6,312.3 517.2,312.4 518.8,312.4 520.5,312.5 522.1,312.5 523.7,312.6 525.3,312.7 526.9,312.7 528.5,312.8 530.1,312.8 531.7,312.9 533.3,312.9 535.0,312.9 536.6,313.0 538.2,313.0 539.8,313.1 541.4,313.1" fill="none" stroke="#000000" stroke-width="1.50" />
<polyline points="317.4,319.0 319.0,319.0 320.6,319.0 322.2,319.0 323.8,319.0 325.5,319.0 327.1,319.0 328.7,319.0 330.3,319.0 331.9,319.0 333.5,319.0 335.1,319.0 336.7,321.4 338.3,323.7 340.0,323.7 341.6,322.5 343.2,320.8 344.8,319.3 346.4,317.7 348.0,315.5 349.6,312.6 351.2,309.9 352.9,307.0 354.5,304.2 356.1,301.2 357.7,298.5 359.3,296.2 360.9,294.1 362.5,292.5 364.1,291.0 365.7,290.1 367.4,289.7 369.0,289.5 370.6,289.5 372.2,290.1 373.8,290.9 375.4,292.1 377.0,293.9 378.6,295.7 380.2,297.7 381.9,299.8 383.5,302.0 385.1,304.1 386.7,305.8 388.3,307.3 389.9,308.7 391.5,309.9 393.1,311.1 394.8,312.3 396.4,313.5 398.0,314.4 399.6,314.7 401.2,314.8 402.8,314.9 404.4,315.0 406.0,315.0 407.6,315.0 409.3,314.8 410.9,314.5 412.5,314.2 414.1,313.7 415.7,313.3 417.3,312.9 418.9,312.5 420.5,312.0 422.1,311.5 423.8,311.0 425.4,310.7 427.0,310.6 428.6,310.6 430.2,310.6 431.8,310.6 433.4,310.6 435.0,310.6 436.7,310.7 438.3,310.9 439.9,311.3 441.5,311.7 443.1,312.1 444.7,312.6 446.3,313.1 447.9,313.6 449.5,314.1 451.2,314.6 452.8,315.0 454.4,315.4 456.0,315.8 457.6,316.2 459.2,316.4 460.8,316.5 462.4,316.5 464.0,316.5 465.7,316.5 467.3,316.5 468.9,316.5 470.5,316.5 472.1,316.5 473.7,316.5 475.3,316.5 476.9,316.5 478.6,316.5 480.2,316.5 481.8,316.5 483.4,316.5 485.0,316.5 486.6,316.5 488.2,316.5 489.8,316.5 491.4,316.5 493.1,316.5 494.7,316.6 496.3,316.6 497.9,316.7 499.5,316.8 501.1,316.9 502.7,317.0 504.3,317.0 505.9,317.1 507.6,317.2 509.2,317.3 510.8,317.3 512.4,317.4 514.0,317.4 515.6,317.4 517.2,317.5 518.8,317.5 520.5,317.6 522.1,317.6 523.7,317.7 525.3,317.7 526.9,317.7 528.5,317.8 530.1,317.8 531.7,317.8 533.3,317.9 535.0,317.9 536.6,317.9 538.2,318.0 539.8,318.0 541.4,318.0" fill="none" stroke="#0000ff" stroke-width="1.50" />
<polyline points="317.4,319.0 319.0,319.0 320.6,319.0 322.2,319.0 323.8,319.0 325.5,319.0 327.1,319.0 328.7,319.0 330.3,319.0 331.9,319.0 333.5,319.0 335.1,319.0 336.7,321.4 338.3,323.7 340.0,323.7 341.6,322.5 343.2,320.8 344.8,319.2 346.4,317.3 348.0,314.6 349.6,310.8 351.2,307.0 352.9,303.0 354.5,299.7 356.1,297.8 357.7,296.4 359.3,295.3 360.9,294.7 362.5,294.2 364.1,294.0 365.7,294.2 367.4,294.7 369.0,295.6 370.6,297.3 372.2,299.2 373.8,301.2 375.4,303.3 377.0,305.3 378.6,307.5 380.2,309.2 381.9,310.6 383.5,311.9 385.1,313.1 386.7,314.3 388.3,315.5 389.9,316.5 391.5,317.1 393.1,317.7 394.8,318.0 396.4,318.0 398.0,317.8 399.6,317.6 401.2,317.3 402.8,317.0 404.4,316.7 406.0,316.1 407.6,315.4 409.3,314.8 410.9,314.3 412.5,314.0 414.1,314.0 415.7,314.0 417.3,314.1 418.9,314.2 420.5,314.3 422.1,314.4 423.8,314.5 425.4,314.7 427.0,314.8 428.6,315.0 430.2,315.3 431.8,315.7 433.4,316.2 435.0,316.5 436.7,316.8 438.3,317.0 439.9,317.1 441.5,317.2 443.1,317.3 444.7,317.4 446.3,317.5 447.9,317.5 449.5,317.5 451.2,317.5 452.8,317.5 454.4,317.5 456.0,317.5 457.6,317.4 459.2,317.4 460.8,317.4 462.4,317.4 464.0,317.4 465.7,317.3 467.3,317.3 468.9,317.3 470.5,317.3 472.1,317.2 473.7,317.2 475.3,317.2 476.9,317.1 478.6,317.1 480.2,317.0 481.8,317.0 483.4,317.0 485.0,316.9 486.6,316.9 488.2,316.9 489.8,316.9 491.4,316.9 493.1,316.9 494.7,316.9 496.3,316.9 497.9,316.9 499.5,316.9 501.1,316.9 502.7,316.9 504.3,316.9 505.9,316.9 507.6,317.0 509.2,317.0 510.8,317.0 512.4,317.0 514.0,317.0 515.6,317.0 517.2,317.1 518.8,317.1 520.5,317.1 522.1,317.1 523.7,317.2 525.3,317.2 526.9,317.2 528.5,317.3 530.1,317.3 531.7,317.4 533.3,317.4 535.0,317.5 536.6,317.5 538.2,317.6 539.8,317.6 541.4,317.7" fill="none" stroke="#00ff00" stroke-width="1.50" />
<polyline points="317.4,319.0 319.0,319.0 320.6,319.0 322.2,319.0 323.8,319.0 325.5,319.0 327.1,319.0 328.7,319.0 330.3,319.0 331.9,319.0 333.5,319.0 335.1,319.0 336.7,322.6 338.3,326.0 340.0,325.1 341.6,323.5 343.2,321.8 344.8,319.8 346.4,317.3 348.0,314.0 349.6,309.0 351.2,305.1 352.9,302.2 354.5,300.2 356.1,299.0 357.7,298.3 359.3,297.8 360.9,297.9 362.5,298.6 364.1,299.6 365.7,300.8 367.4,302.3 369.0,304.1 370.6,306.2 372.2,308.2 373.8,310.4 375.4,312.4 377.0,313.9 378.6,315.2 380.2,316.1 381.9,317.0 383.5,317.7 385.1,318.0 386.7,318.1 388.3,318.2 389.9,318.3 391.5,318.3 393.1,318.3 394.8,318.1 396.4,317.6 398.0,316.9 399.6,316.4 401.2,316.0 402.8,315.7 404.4,315.4 406.0,315.2 407.6,315.0 409.3,315.0 410.9,315.1 412.5,315.3 414.1,315.6 415.7,315.8 417.3,316.0 418.9,316.2 420.5,316.4 422.1,316.5 423.8,316.7 425.4,316.8 427.0,316.9 428.6,317.0 430.2,317.0 431.8,317.1 433.4,317.2 435.0,317.2 436.7,317.3 438.3,317.3 439.9,317.4 441.5,317.5 443.1,317.5 444.7,317.6 446.3,317.7 447.9,317.7 449.5,317.8 451.2,317.9 452.8,317.9 454.4,318.0 456.0,318.0 457.6,318.0 459.2,318.0 460.8,318.0 462.4,318.0 464.0,318.0 465.7,318.0 467.3,317.9 468.9,317.9 470.5,317.9 472.1,317.9 473.7,317.9 475.3,317.8 476.9,317.8 478.6,317.8 480.2,317.8 481.8,317.7 483.4,317.7 485.0,317.7 486.6,317.7 488.2,317.7 489.8,317.7 491.4,317.7 493.1,317.7 494.7,317.7 496.3,317.7 497.9,317.7 499.5,317.7 501.1,317.7 502.7,317.7 504.3,317.7 505.9,317.7 507.6,317.7 509.2,317.7 510.8,317.7 512.4,317.7 514.0,317.7 515.6,317.8 517.2,317.8 518.8,317.8 520.5,317.8 522.1,317.8 523.7,317.8 525.3,317.8 526.9,317.8 528.5,317.8 530.1,317.9 531.7,317.9 533.3,317.9 535.0,317.9 536.6,317.9 538.2,318.0 539.8,318.0 541.4,318.0" fill="none" stroke="#ff0000" stroke-width="1.50" />
<polyline points="317.4,319.0 319.0,319.0 320.6,319.0 322.2,319.0 323.8,319.0 325.5,319.0 327.1,319.0 328.7,319.0 330.3,319.0 331.9,319.0 333.5,319.0 335.1,319.0 336.7,321.4 338.3,323.7 340.0,323.7 341.6,322.5 343.2,320.8 344.8,319.3 346.4,317.7 348.0,315.5 349.6,312.6 351.2,309.9 352.9,307.0 354.5,304.2 356.1,301.2 357.7,298.5 359.3,296.2 360.9,294.1 362.5,292.5 364.1,291.1 365.7,290.1 367.4,289.6 369.0,289.4 370.6,289.3 372.2,289.5 373.8,290.0 375.4,290.7 377.0,291.6 378.6,292.9 380.2,294.2 381.9,295.7 383.5,297.2 385.1,298.6 386.7,299.6 388.3,300.5 389.9,301.8 391.5,303.4 393.1,305.2 394.8,306.8 396.4,308.1 398.0,309.3 399.6,310.3 401.2,311.1 402.8,311.6 404.4,312.1 406.0,312.4 407.6,312.8 409.3,313.0 410.9,313.3 412.5,313.5 414.1,313.7 415.7,313.8 417.3,314.0 418.9,314.3 420.5,314.5 422.1,314.8 423.8,315.0 425.4,315.3 427.0,315.5 428.6,315.7 430.2,315.9 431.8,316.1 433.4,316.2 435.0,316.4 436.7,316.6 438.3,316.7 439.9,316.9 441.5,317.0 443.1,317.1 444.7,317.3 446.3,317.4 447.9,317.5 449.5,317.6 451.2,317.7 452.8,317.8 454.4,318.0 456.0,318.1 457.6,318.2 459.2,318.3 460.8,318.4 462.4,318.4 464.0,318.5 465.7,318.6 467.3,318.6 468.9,318.6 470.5,318.6 472.1,318.6 473.7,318.6 475.3,318.6 476.9,318.6 478.6,318.6 480.2,318.6 481.8,318.6 483.4,318.6 485.0,318.6 486.6,318.6 488.2,318.6 489.8,318.6 491.4,318.6 493.1,318.6 494.7,318.6 496.3,318.6 497.9,318.6 499.5,318.6 501.1,318.6 502.7,318.6 504.3,318.6 505.9,318.6 507.6,318.6 509.2,318.6 510.8,318.6 512.4,318.6 514.0,318.6 515.6,318.6 517.2,318.6 518.8,318.6 520.5,318.6 522.1,318.6 523.7,318.6 525.3,318.6 526.9,318.6 528.5,318.6 530.1,318.6 531.7,318.6 533.3,318.6 535.0,318.6 536.6,318.6 538.2,318.6 539.8,318.6 541.4,318.6" fill="none" stroke="#ff00ff" stroke-width="1.50" />
</g>
<path d="M317.40 333.40V276.20H541.40" class="bx" stroke="#8c8c8c"/>
<path d="M541.40 276.20V333.40H317.40" class="bx" stroke="#b4b4b4"/>
<line x1="317.40" y1="333.40" x2="317.40" y2="331.40" class="tk"/>
<line x1="317.40" y1="276.20" x2="317.40" y2="278.20" class="tk"/>
<text x="317.40" y="340.00" class="tl" text-anchor="middle">0</text>
<line x1="354.73" y1="333.40" x2="354.73" y2="331.40" class="tk"/>
<line x1="354.73" y1="276.20" x2="354.73" y2="278.20" class="tk"/>
<text x="354.73" y="340.00" class="tl" text-anchor="middle">5</text>
<line x1="392.07" y1="333.40" x2="392.07" y2="331.40" class="tk"/>
<line x1="392.07" y1="276.20" x2="392.07" y2="278.20" class="tk"/>
<text x="392.07" y="340.00" class="tl" text-anchor="middle">10</text>
<line x1="429.40" y1="333.40" x2="429.40" y2="331.40" class="tk"/>
<line x1="429.40" y1="276.20" x2="429.40" y2="278.20" class="tk"/>
<text x="429.40" y="340.00" class="tl" text-anchor="middle">15</text>
<line x1="466.73" y1="333.40" x2="466.73" y2="331.40" class="tk"/>
<line x1="466.73" y1="276.20" x2="466.73" y2="278.20" class="tk"/>
<text x="466.73" y="340.00" class="tl" text-anchor="middle">20</text>
<line x1="504.07" y1="333.40" x2="504.07" y2="331.40" class="tk"/>
<line x1="504.07" y1="276.20" x2="504.07" y2="278.20" class="tk"/>
<text x="504.07" y="340.00" class="tl" text-anchor="middle">25</text>
<line x1="541.40" y1="333.40" x2="541.40" y2="331.40" class="tk"/>
<line x1="541.40" y1="276.20" x2="541.40" y2="278.20" class="tk"/>
<text x="541.40" y="340.00" class="tl" text-anchor="middle">30</text>
<line x1="317.40" y1="333.40" x2="319.40" y2="333.40" class="tk"/>
<line x1="541.40" y1="333.40" x2="539.40" y2="333.40" class="tk"/>
<text transform="translate(315.80,335.80) scale(0.87,1)" class="tl" text-anchor="end">-0.5</text>
<line x1="317.40" y1="319.10" x2="319.40" y2="319.10" class="tk"/>
<line x1="541.40" y1="319.10" x2="539.40" y2="319.10" class="tk"/>
<text x="315.80" y="321.50" class="tl" text-anchor="end">0</text>
<line x1="317.40" y1="304.80" x2="319.40" y2="304.80" class="tk"/>
<line x1="541.40" y1="304.80" x2="539.40" y2="304.80" class="tk"/>
<text transform="translate(315.80,307.20) scale(0.87,1)" class="tl" text-anchor="end">0.5</text>
<line x1="317.40" y1="290.50" x2="319.40" y2="290.50" class="tk"/>
<line x1="541.40" y1="290.50" x2="539.40" y2="290.50" class="tk"/>
<text x="315.80" y="292.90" class="tl" text-anchor="end">1</text>
<line x1="317.40" y1="276.20" x2="319.40" y2="276.20" class="tk"/>
<line x1="541.40" y1="276.20" x2="539.40" y2="276.20" class="tk"/>
<text transform="translate(315.80,278.60) scale(0.87,1)" class="tl" text-anchor="end">1.5</text>
<text transform="translate(302.70,304.80) rotate(-90)" class="yl" text-anchor="middle">--&gt; y<tspan dy="1.6" font-size="4.2">g</tspan><tspan dy="-1.6">(t)</tspan></text>
<rect x="321.20" y="278.00" width="28.20" height="36.00" class="lg"/>
<line x1="323.00" y1="281.00" x2="337.90" y2="281.00" stroke="#9a9a9a" stroke-width="0.9" stroke-dasharray="0.7,0.5"/>
<text transform="translate(339.70,282.75) scale(0.86,1)" class="lt">w</text>
<line x1="323.00" y1="286.85" x2="337.90" y2="286.85" stroke="#000000" stroke-width="1.5"/>
<text transform="translate(339.70,288.60) scale(0.86,1)" class="lt">m=1</text>
<line x1="323.00" y1="292.70" x2="337.90" y2="292.70" stroke="#0000ff" stroke-width="1.5"/>
<text transform="translate(339.70,294.45) scale(0.86,1)" class="lt">m=3</text>
<line x1="323.00" y1="298.55" x2="337.90" y2="298.55" stroke="#00ff00" stroke-width="1.5"/>
<text transform="translate(339.70,300.30) scale(0.86,1)" class="lt">m=5</text>
<line x1="323.00" y1="304.40" x2="337.90" y2="304.40" stroke="#ff0000" stroke-width="1.5"/>
<text transform="translate(339.70,306.15) scale(0.86,1)" class="lt">m=7</text>
<line x1="323.00" y1="310.25" x2="337.90" y2="310.25" stroke="#ff00ff" stroke-width="1.5"/>
<text transform="translate(339.70,312.00) scale(0.86,1)" class="lt">AV</text>
<line x1="354.73" y1="355.80" x2="354.73" y2="413.50" class="gr"/>
<line x1="392.07" y1="355.80" x2="392.07" y2="413.50" class="gr"/>
<line x1="429.40" y1="355.80" x2="429.40" y2="413.50" class="gr"/>
<line x1="466.73" y1="355.80" x2="466.73" y2="413.50" class="gr"/>
<line x1="504.07" y1="355.80" x2="504.07" y2="413.50" class="gr"/>
<line x1="317.40" y1="395.37" x2="541.40" y2="395.37" class="gr"/>
<line x1="317.40" y1="377.23" x2="541.40" y2="377.23" class="gr"/>
<line x1="317.40" y1="359.10" x2="541.40" y2="359.10" class="gr"/>
<g clip-path="url(#c_G2R2)">
<polyline points="317.4,377.4 319.0,377.4 320.6,377.4 322.2,377.4 323.8,377.4 325.5,377.4 327.1,377.4 328.7,377.4 330.3,377.4 331.9,377.4 333.5,377.4 335.1,377.4 336.7,376.2 338.3,375.2 340.0,375.0 341.6,375.2 343.2,375.5 344.8,376.4 346.4,377.7 348.0,379.0 349.6,380.3 351.2,381.6 352.9,382.9 354.5,384.2 356.1,385.5 357.7,386.8 359.3,387.9 360.9,388.9 362.5,389.8 364.1,390.5 365.7,391.2 367.4,391.8 369.0,392.3 370.6,392.6 372.2,392.9 373.8,393.1 375.4,393.1 377.0,393.2 378.6,393.2 380.2,393.1 381.9,393.1 383.5,393.0 385.1,392.8 386.7,392.6 388.3,392.5 389.9,392.4 391.5,392.2 393.1,392.1 394.8,392.0 396.4,392.0 398.0,392.0 399.6,392.0 401.2,392.0 402.8,392.0 404.4,392.0 406.0,392.0 407.6,392.0 409.3,392.0 410.9,392.0 412.5,392.0 414.1,392.0 415.7,392.0 417.3,392.0 418.9,392.0 420.5,391.9 422.1,391.9 423.8,391.8 425.4,391.8 427.0,391.8 428.6,391.8 430.2,391.8 431.8,391.9 433.4,392.0 435.0,392.0 436.7,392.1 438.3,392.2 439.9,392.3 441.5,392.4 443.1,392.5 444.7,392.6 446.3,392.7 447.9,392.8 449.5,392.9 451.2,393.0 452.8,393.0 454.4,393.1 456.0,393.2 457.6,393.3 459.2,393.4 460.8,393.5 462.4,393.6 464.0,393.6 465.7,393.7 467.3,393.8 468.9,393.8 470.5,393.8 472.1,393.9 473.7,393.9 475.3,394.0 476.9,394.0 478.6,394.0 480.2,394.1 481.8,394.1 483.4,394.2 485.0,394.2 486.6,394.2 488.2,394.3 489.8,394.3 491.4,394.3 493.1,394.4 494.7,394.4 496.3,394.4 497.9,394.5 499.5,394.5 501.1,394.5 502.7,394.5 504.3,394.6 505.9,394.6 507.6,394.6 509.2,394.6 510.8,394.7 512.4,394.7 514.0,394.7 515.6,394.7 517.2,394.8 518.8,394.8 520.5,394.8 522.1,394.8 523.7,394.8 525.3,394.8 526.9,394.8 528.5,394.9 530.1,394.9 531.7,394.9 533.3,394.9 535.0,394.9 536.6,394.9 538.2,394.9 539.8,394.9 541.4,394.9" fill="none" stroke="#000000" stroke-width="1.50" />
<polyline points="317.4,377.4 319.0,377.4 320.6,377.4 322.2,377.4 323.8,377.4 325.5,377.4 327.1,377.4 328.7,377.4 330.3,377.4 331.9,377.4 333.5,377.4 335.1,377.4 336.7,375.6 338.3,374.0 340.0,374.3 341.6,374.7 343.2,375.5 344.8,376.8 346.4,379.3 348.0,382.0 349.6,384.4 351.2,386.6 352.9,388.8 354.5,390.9 356.1,392.9 357.7,394.7 359.3,396.3 360.9,397.7 362.5,398.8 364.1,399.3 365.7,399.8 367.4,400.0 369.0,400.0 370.6,399.8 372.2,399.6 373.8,399.3 375.4,398.5 377.0,397.5 378.6,396.7 380.2,396.0 381.9,395.4 383.5,394.9 385.1,394.5 386.7,394.3 388.3,393.9 389.9,393.5 391.5,393.1 393.1,392.7 394.8,392.3 396.4,392.1 398.0,391.9 399.6,391.8 401.2,391.6 402.8,391.5 404.4,391.5 406.0,391.5 407.6,391.6 409.3,391.8 410.9,392.0 412.5,392.3 414.1,392.5 415.7,392.8 417.3,393.1 418.9,393.4 420.5,393.8 422.1,394.2 423.8,394.5 425.4,394.8 427.0,394.9 428.6,394.9 430.2,394.9 431.8,394.9 433.4,395.0 435.0,395.0 436.7,395.0 438.3,395.0 439.9,395.0 441.5,395.0 443.1,395.0 444.7,395.0 446.3,395.0 447.9,395.0 449.5,395.0 451.2,395.0 452.8,395.0 454.4,395.0 456.0,395.0 457.6,395.0 459.2,395.0 460.8,395.0 462.4,395.0 464.0,395.0 465.7,395.0 467.3,395.0 468.9,395.0 470.5,395.0 472.1,395.0 473.7,395.0 475.3,395.0 476.9,395.0 478.6,395.0 480.2,395.0 481.8,395.0 483.4,395.0 485.0,395.0 486.6,395.0 488.2,395.0 489.8,395.0 491.4,395.0 493.1,395.0 494.7,395.0 496.3,395.0 497.9,395.0 499.5,395.0 501.1,395.0 502.7,395.0 504.3,395.0 505.9,395.0 507.6,395.0 509.2,395.0 510.8,395.0 512.4,395.0 514.0,395.0 515.6,395.0 517.2,395.0 518.8,395.0 520.5,395.0 522.1,395.0 523.7,395.0 525.3,395.0 526.9,395.0 528.5,395.0 530.1,395.0 531.7,395.0 533.3,395.0 535.0,395.0 536.6,395.0 538.2,395.0 539.8,395.0 541.4,395.0" fill="none" stroke="#0000ff" stroke-width="1.50" />
<polyline points="317.4,377.4 319.0,377.4 320.6,377.4 322.2,377.4 323.8,377.4 325.5,377.4 327.1,377.4 328.7,377.4 330.3,377.4 331.9,377.4 333.5,377.4 335.1,377.4 336.7,372.2 338.3,370.6 340.0,371.0 341.6,372.6 343.2,374.8 344.8,378.8 346.4,383.0 348.0,386.8 349.6,390.4 351.2,393.7 352.9,396.3 354.5,398.4 356.1,400.0 357.7,401.4 359.3,402.1 360.9,402.3 362.5,402.5 364.1,402.4 365.7,401.9 367.4,401.3 369.0,400.4 370.6,399.1 372.2,397.7 373.8,396.4 375.4,395.2 377.0,394.1 378.6,393.2 380.2,392.5 381.9,391.8 383.5,391.4 385.1,390.9 386.7,390.6 388.3,390.5 389.9,390.6 391.5,390.8 393.1,391.0 394.8,391.3 396.4,391.7 398.0,392.2 399.6,392.6 401.2,393.0 402.8,393.4 404.4,393.8 406.0,394.2 407.6,394.5 409.3,394.8 410.9,395.0 412.5,395.1 414.1,395.2 415.7,395.3 417.3,395.4 418.9,395.5 420.5,395.6 422.1,395.6 423.8,395.7 425.4,395.7 427.0,395.7 428.6,395.7 430.2,395.7 431.8,395.7 433.4,395.7 435.0,395.6 436.7,395.6 438.3,395.6 439.9,395.6 441.5,395.5 443.1,395.5 444.7,395.5 446.3,395.5 447.9,395.4 449.5,395.4 451.2,395.4 452.8,395.4 454.4,395.3 456.0,395.3 457.6,395.3 459.2,395.3 460.8,395.3 462.4,395.3 464.0,395.3 465.7,395.3 467.3,395.2 468.9,395.2 470.5,395.2 472.1,395.2 473.7,395.2 475.3,395.2 476.9,395.2 478.6,395.2 480.2,395.2 481.8,395.2 483.4,395.2 485.0,395.2 486.6,395.1 488.2,395.1 489.8,395.1 491.4,395.1 493.1,395.1 494.7,395.1 496.3,395.1 497.9,395.1 499.5,395.1 501.1,395.1 502.7,395.1 504.3,395.1 505.9,395.1 507.6,395.1 509.2,395.1 510.8,395.0 512.4,395.0 514.0,395.0 515.6,395.0 517.2,395.0 518.8,395.0 520.5,395.0 522.1,395.0 523.7,395.0 525.3,395.0 526.9,395.0 528.5,395.0 530.1,395.0 531.7,395.0 533.3,395.0 535.0,395.0 536.6,395.0 538.2,395.0 539.8,395.0 541.4,395.0" fill="none" stroke="#00ff00" stroke-width="1.50" />
<polyline points="317.4,377.4 319.0,377.4 320.6,377.4 322.2,377.4 323.8,377.4 325.5,377.4 327.1,377.4 328.7,377.4 330.3,377.4 331.9,377.4 333.5,377.4 335.1,377.4 336.7,355.6 338.3,371.2 340.0,382.0 341.6,377.5 343.2,377.3 344.8,382.9 346.4,387.9 348.0,390.4 349.6,393.2 351.2,396.6 352.9,399.4 354.5,401.6 356.1,402.6 357.7,403.3 359.3,403.5 360.9,403.2 362.5,402.7 364.1,402.1 365.7,401.3 367.4,400.4 369.0,399.2 370.6,397.4 372.2,395.7 373.8,394.5 375.4,393.6 377.0,392.8 378.6,392.3 380.2,391.9 381.9,391.6 383.5,391.5 385.1,391.5 386.7,391.5 388.3,391.5 389.9,391.7 391.5,392.1 393.1,392.5 394.8,393.0 396.4,393.7 398.0,394.2 399.6,394.6 401.2,395.0 402.8,395.4 404.4,395.7 406.0,396.0 407.6,396.2 409.3,396.2 410.9,396.2 412.5,396.1 414.1,396.1 415.7,396.0 417.3,396.0 418.9,395.9 420.5,395.8 422.1,395.7 423.8,395.6 425.4,395.5 427.0,395.5 428.6,395.5 430.2,395.4 431.8,395.4 433.4,395.4 435.0,395.4 436.7,395.4 438.3,395.3 439.9,395.3 441.5,395.3 443.1,395.3 444.7,395.3 446.3,395.3 447.9,395.3 449.5,395.2 451.2,395.2 452.8,395.2 454.4,395.2 456.0,395.2 457.6,395.2 459.2,395.2 460.8,395.2 462.4,395.2 464.0,395.2 465.7,395.2 467.3,395.2 468.9,395.2 470.5,395.1 472.1,395.1 473.7,395.1 475.3,395.1 476.9,395.1 478.6,395.1 480.2,395.1 481.8,395.1 483.4,395.1 485.0,395.1 486.6,395.1 488.2,395.1 489.8,395.1 491.4,395.1 493.1,395.1 494.7,395.1 496.3,395.1 497.9,395.1 499.5,395.1 501.1,395.1 502.7,395.0 504.3,395.0 505.9,395.0 507.6,395.0 509.2,395.0 510.8,395.0 512.4,395.0 514.0,395.0 515.6,395.0 517.2,395.0 518.8,395.0 520.5,395.0 522.1,395.0 523.7,395.0 525.3,395.0 526.9,395.0 528.5,395.0 530.1,395.0 531.7,395.0 533.3,395.0 535.0,395.0 536.6,395.0 538.2,395.0 539.8,395.0 541.4,395.0" fill="none" stroke="#ff0000" stroke-width="1.50" />
<polyline points="317.4,377.4 319.0,377.4 320.6,377.4 322.2,377.4 323.8,377.4 325.5,377.4 327.1,377.4 328.7,377.4 330.3,377.4 331.9,377.4 333.5,377.4 335.1,377.4 336.7,375.8 338.3,374.2 340.0,374.1 341.6,374.5 343.2,375.1 344.8,376.3 346.4,378.1 348.0,380.0 349.6,381.9 351.2,383.8 352.9,385.8 354.5,387.8 356.1,389.9 357.7,391.7 359.3,393.2 360.9,394.6 362.5,395.7 364.1,396.6 365.7,397.3 367.4,397.9 369.0,398.1 370.6,398.4 372.2,398.5 373.8,398.5 375.4,398.5 377.0,398.5 378.6,398.5 380.2,398.1 381.9,397.4 383.5,396.8 385.1,396.1 386.7,395.4 388.3,394.9 389.9,394.6 391.5,394.3 393.1,394.2 394.8,394.1 396.4,394.0 398.0,393.9 399.6,393.9 401.2,393.8 402.8,393.8 404.4,393.8 406.0,393.8 407.6,393.8 409.3,393.8 410.9,393.9 412.5,393.9 414.1,393.9 415.7,394.0 417.3,394.0 418.9,394.2 420.5,394.4 422.1,394.7 423.8,395.0 425.4,395.2 427.0,395.3 428.6,395.3 430.2,395.3 431.8,395.4 433.4,395.4 435.0,395.4 436.7,395.4 438.3,395.4 439.9,395.4 441.5,395.4 443.1,395.5 444.7,395.5 446.3,395.5 447.9,395.5 449.5,395.5 451.2,395.5 452.8,395.5 454.4,395.5 456.0,395.5 457.6,395.5 459.2,395.5 460.8,395.5 462.4,395.5 464.0,395.5 465.7,395.5 467.3,395.5 468.9,395.5 470.5,395.5 472.1,395.5 473.7,395.5 475.3,395.5 476.9,395.5 478.6,395.5 480.2,395.5 481.8,395.5 483.4,395.5 485.0,395.5 486.6,395.5 488.2,395.5 489.8,395.5 491.4,395.5 493.1,395.5 494.7,395.5 496.3,395.5 497.9,395.5 499.5,395.5 501.1,395.5 502.7,395.5 504.3,395.4 505.9,395.4 507.6,395.4 509.2,395.4 510.8,395.4 512.4,395.4 514.0,395.4 515.6,395.4 517.2,395.4 518.8,395.4 520.5,395.4 522.1,395.4 523.7,395.4 525.3,395.3 526.9,395.3 528.5,395.3 530.1,395.3 531.7,395.3 533.3,395.3 535.0,395.3 536.6,395.2 538.2,395.2 539.8,395.2 541.4,395.2" fill="none" stroke="#ff00ff" stroke-width="1.50" />
</g>
<path d="M317.40 413.50V355.80H541.40" class="bx" stroke="#8c8c8c"/>
<path d="M541.40 355.80V413.50H317.40" class="bx" stroke="#b4b4b4"/>
<line x1="317.40" y1="413.50" x2="317.40" y2="411.50" class="tk"/>
<line x1="317.40" y1="355.80" x2="317.40" y2="357.80" class="tk"/>
<text x="317.40" y="420.10" class="tl" text-anchor="middle">0</text>
<line x1="354.73" y1="413.50" x2="354.73" y2="411.50" class="tk"/>
<line x1="354.73" y1="355.80" x2="354.73" y2="357.80" class="tk"/>
<text x="354.73" y="420.10" class="tl" text-anchor="middle">5</text>
<line x1="392.07" y1="413.50" x2="392.07" y2="411.50" class="tk"/>
<line x1="392.07" y1="355.80" x2="392.07" y2="357.80" class="tk"/>
<text x="392.07" y="420.10" class="tl" text-anchor="middle">10</text>
<line x1="429.40" y1="413.50" x2="429.40" y2="411.50" class="tk"/>
<line x1="429.40" y1="355.80" x2="429.40" y2="357.80" class="tk"/>
<text x="429.40" y="420.10" class="tl" text-anchor="middle">15</text>
<line x1="466.73" y1="413.50" x2="466.73" y2="411.50" class="tk"/>
<line x1="466.73" y1="355.80" x2="466.73" y2="357.80" class="tk"/>
<text x="466.73" y="420.10" class="tl" text-anchor="middle">20</text>
<line x1="504.07" y1="413.50" x2="504.07" y2="411.50" class="tk"/>
<line x1="504.07" y1="355.80" x2="504.07" y2="357.80" class="tk"/>
<text x="504.07" y="420.10" class="tl" text-anchor="middle">25</text>
<line x1="541.40" y1="413.50" x2="541.40" y2="411.50" class="tk"/>
<line x1="541.40" y1="355.80" x2="541.40" y2="357.80" class="tk"/>
<text x="541.40" y="420.10" class="tl" text-anchor="middle">30</text>
<line x1="317.40" y1="413.50" x2="319.40" y2="413.50" class="tk"/>
<line x1="541.40" y1="413.50" x2="539.40" y2="413.50" class="tk"/>
<text x="315.80" y="415.90" class="tl" text-anchor="end">-2</text>
<line x1="317.40" y1="395.37" x2="319.40" y2="395.37" class="tk"/>
<line x1="541.40" y1="395.37" x2="539.40" y2="395.37" class="tk"/>
<text x="315.80" y="397.77" class="tl" text-anchor="end">-1</text>
<line x1="317.40" y1="377.23" x2="319.40" y2="377.23" class="tk"/>
<line x1="541.40" y1="377.23" x2="539.40" y2="377.23" class="tk"/>
<text x="315.80" y="379.63" class="tl" text-anchor="end">0</text>
<line x1="317.40" y1="359.10" x2="319.40" y2="359.10" class="tk"/>
<line x1="541.40" y1="359.10" x2="539.40" y2="359.10" class="tk"/>
<text x="315.80" y="361.50" class="tl" text-anchor="end">1</text>
<text transform="translate(302.70,384.65) rotate(-90)" class="yl" text-anchor="middle">--&gt; u<tspan dy="1.6" font-size="4.2">g</tspan><tspan dy="-1.6">(t)</tspan></text>
<rect x="508.30" y="356.60" width="28.60" height="30.90" class="lg"/>
<line x1="510.10" y1="360.80" x2="525.00" y2="360.80" stroke="#000000" stroke-width="1.5"/>
<text transform="translate(526.80,362.55) scale(0.86,1)" class="lt">m=1</text>
<line x1="510.10" y1="366.65" x2="525.00" y2="366.65" stroke="#0000ff" stroke-width="1.5"/>
<text transform="translate(526.80,368.40) scale(0.86,1)" class="lt">m=3</text>
<line x1="510.10" y1="372.50" x2="525.00" y2="372.50" stroke="#00ff00" stroke-width="1.5"/>
<text transform="translate(526.80,374.25) scale(0.86,1)" class="lt">m=5</text>
<line x1="510.10" y1="378.35" x2="525.00" y2="378.35" stroke="#ff0000" stroke-width="1.5"/>
<text transform="translate(526.80,380.10) scale(0.86,1)" class="lt">m=7</text>
<line x1="510.10" y1="384.20" x2="525.00" y2="384.20" stroke="#ff00ff" stroke-width="1.5"/>
<text transform="translate(526.80,385.95) scale(0.86,1)" class="lt">AV</text>
<line x1="354.73" y1="435.70" x2="354.73" y2="493.30" class="gr"/>
<line x1="392.07" y1="435.70" x2="392.07" y2="493.30" class="gr"/>
<line x1="429.40" y1="435.70" x2="429.40" y2="493.30" class="gr"/>
<line x1="466.73" y1="435.70" x2="466.73" y2="493.30" class="gr"/>
<line x1="504.07" y1="435.70" x2="504.07" y2="493.30" class="gr"/>
<line x1="317.40" y1="481.78" x2="541.40" y2="481.78" class="gr"/>
<line x1="317.40" y1="470.26" x2="541.40" y2="470.26" class="gr"/>
<line x1="317.40" y1="458.74" x2="541.40" y2="458.74" class="gr"/>
<line x1="317.40" y1="447.22" x2="541.40" y2="447.22" class="gr"/>
<g clip-path="url(#c_G2R3)">
<polyline points="317.4,470.4 319.0,470.4 320.6,470.4 322.2,470.4 323.8,470.4 325.5,470.4 327.1,470.4 328.7,470.4 330.3,470.4 331.9,470.4 333.5,470.4 335.1,470.4 336.7,470.5 338.3,471.1 340.0,471.8 341.6,472.0 343.2,472.0 344.8,472.0 346.4,472.0 348.0,471.5 349.6,470.7 351.2,469.9 352.9,469.2 354.5,468.3 356.1,467.5 357.7,466.4 359.3,465.3 360.9,464.1 362.5,462.8 364.1,461.5 365.7,460.2 367.4,459.0 369.0,457.8 370.6,456.8 372.2,455.8 373.8,455.0 375.4,454.2 377.0,453.6 378.6,453.1 380.2,452.6 381.9,452.4 383.5,452.2 385.1,452.1 386.7,451.9 388.3,451.6 389.9,451.4 391.5,451.1 393.1,450.8 394.8,450.5 396.4,450.3 398.0,450.3 399.6,450.3 401.2,450.3 402.8,450.3 404.4,450.4 406.0,450.4 407.6,450.4 409.3,450.6 410.9,450.8 412.5,451.0 414.1,451.3 415.7,451.5 417.3,451.6 418.9,451.7 420.5,451.8 422.1,451.8 423.8,451.9 425.4,451.9 427.0,451.9 428.6,451.9 430.2,451.9 431.8,451.8 433.4,451.8 435.0,451.8 436.7,451.7 438.3,451.6 439.9,451.6 441.5,451.5 443.1,451.4 444.7,451.4 446.3,451.3 447.9,451.2 449.5,451.1 451.2,451.0 452.8,450.9 454.4,450.8 456.0,450.7 457.6,450.6 459.2,450.4 460.8,450.3 462.4,450.2 464.0,450.1 465.7,450.0 467.3,449.9 468.9,449.8 470.5,449.7 472.1,449.7 473.7,449.6 475.3,449.5 476.9,449.5 478.6,449.4 480.2,449.3 481.8,449.3 483.4,449.2 485.0,449.2 486.6,449.2 488.2,449.1 489.8,449.1 491.4,449.1 493.1,449.1 494.7,449.0 496.3,449.0 497.9,449.0 499.5,449.0 501.1,449.0 502.7,448.9 504.3,448.9 505.9,448.9 507.6,448.9 509.2,448.9 510.8,448.9 512.4,448.8 514.0,448.8 515.6,448.8 517.2,448.8 518.8,448.8 520.5,448.8 522.1,448.8 523.7,448.8 525.3,448.7 526.9,448.7 528.5,448.7 530.1,448.7 531.7,448.7 533.3,448.7 535.0,448.7 536.6,448.7 538.2,448.7 539.8,448.7 541.4,448.7" fill="none" stroke="#000000" stroke-width="1.50" />
<polyline points="317.4,470.4 319.0,470.4 320.6,470.4 322.2,470.4 323.8,470.4 325.5,470.4 327.1,470.4 328.7,470.4 330.3,470.4 331.9,470.4 333.5,470.4 335.1,470.4 336.7,470.7 338.3,472.2 340.0,472.7 341.6,472.9 343.2,473.0 344.8,472.6 346.4,471.8 348.0,470.7 349.6,468.8 351.2,466.7 352.9,464.3 354.5,461.8 356.1,459.4 357.7,456.9 359.3,454.6 360.9,452.3 362.5,450.1 364.1,448.1 365.7,446.2 367.4,444.7 369.0,443.5 370.6,442.7 372.2,442.1 373.8,441.6 375.4,441.5 377.0,441.5 378.6,441.5 380.2,441.7 381.9,442.5 383.5,443.2 385.1,443.8 386.7,444.4 388.3,445.2 389.9,446.5 391.5,447.9 393.1,449.1 394.8,449.9 396.4,450.7 398.0,451.3 399.6,451.8 401.2,452.0 402.8,452.1 404.4,452.3 406.0,452.3 407.6,452.4 409.3,452.4 410.9,452.3 412.5,452.0 414.1,451.7 415.7,451.3 417.3,450.9 418.9,450.6 420.5,450.1 422.1,449.7 423.8,449.2 425.4,448.8 427.0,448.5 428.6,448.2 430.2,448.0 431.8,447.7 433.4,447.5 435.0,447.3 436.7,447.2 438.3,447.2 439.9,447.3 441.5,447.6 443.1,447.8 444.7,448.0 446.3,448.2 447.9,448.3 449.5,448.3 451.2,448.3 452.8,448.3 454.4,448.3 456.0,448.3 457.6,448.3 459.2,448.3 460.8,448.3 462.4,448.3 464.0,448.3 465.7,448.3 467.3,448.3 468.9,448.3 470.5,448.3 472.1,448.3 473.7,448.3 475.3,448.3 476.9,448.3 478.6,448.3 480.2,448.3 481.8,448.3 483.4,448.3 485.0,448.3 486.6,448.3 488.2,448.3 489.8,448.2 491.4,448.2 493.1,448.2 494.7,448.2 496.3,448.2 497.9,448.2 499.5,448.2 501.1,448.2 502.7,448.2 504.3,448.1 505.9,448.1 507.6,448.1 509.2,448.1 510.8,448.1 512.4,448.1 514.0,448.0 515.6,448.0 517.2,448.0 518.8,448.0 520.5,448.0 522.1,448.0 523.7,447.9 525.3,447.9 526.9,447.9 528.5,447.9 530.1,447.9 531.7,447.8 533.3,447.8 535.0,447.8 536.6,447.8 538.2,447.7 539.8,447.7 541.4,447.7" fill="none" stroke="#0000ff" stroke-width="1.50" />
<polyline points="317.4,470.4 319.0,470.4 320.6,470.4 322.2,470.4 323.8,470.4 325.5,470.4 327.1,470.4 328.7,470.4 330.3,470.4 331.9,470.4 333.5,470.4 335.1,470.4 336.7,471.3 338.3,474.4 340.0,476.1 341.6,476.4 343.2,475.0 344.8,472.8 346.4,469.3 348.0,465.7 349.6,461.9 351.2,458.0 352.9,454.3 354.5,450.9 356.1,447.9 357.7,444.9 359.3,442.7 360.9,441.0 362.5,439.8 364.1,438.9 365.7,438.2 367.4,438.0 369.0,438.3 370.6,438.8 372.2,439.6 373.8,440.9 375.4,442.4 377.0,444.0 378.6,445.7 380.2,447.2 381.9,448.7 383.5,449.8 385.1,450.5 386.7,451.2 388.3,451.6 389.9,451.9 391.5,452.1 393.1,452.3 394.8,452.4 396.4,452.3 398.0,452.0 399.6,451.6 401.2,451.0 402.8,450.6 404.4,450.0 406.0,449.4 407.6,448.7 409.3,448.1 410.9,447.5 412.5,447.1 414.1,446.8 415.7,446.6 417.3,446.4 418.9,446.3 420.5,446.1 422.1,446.0 423.8,445.9 425.4,445.8 427.0,445.8 428.6,445.9 430.2,446.2 431.8,446.6 433.4,447.0 435.0,447.3 436.7,447.6 438.3,447.6 439.9,447.6 441.5,447.6 443.1,447.6 444.7,447.7 446.3,447.7 447.9,447.7 449.5,447.7 451.2,447.7 452.8,447.7 454.4,447.7 456.0,447.7 457.6,447.7 459.2,447.7 460.8,447.7 462.4,447.7 464.0,447.7 465.7,447.7 467.3,447.7 468.9,447.7 470.5,447.7 472.1,447.7 473.7,447.7 475.3,447.7 476.9,447.7 478.6,447.7 480.2,447.7 481.8,447.7 483.4,447.7 485.0,447.7 486.6,447.7 488.2,447.7 489.8,447.7 491.4,447.7 493.1,447.7 494.7,447.7 496.3,447.7 497.9,447.7 499.5,447.7 501.1,447.7 502.7,447.7 504.3,447.7 505.9,447.7 507.6,447.7 509.2,447.7 510.8,447.7 512.4,447.7 514.0,447.7 515.6,447.7 517.2,447.7 518.8,447.7 520.5,447.7 522.1,447.7 523.7,447.7 525.3,447.7 526.9,447.7 528.5,447.7 530.1,447.7 531.7,447.7 533.3,447.7 535.0,447.7 536.6,447.7 538.2,447.7 539.8,447.7 541.4,447.7" fill="none" stroke="#00ff00" stroke-width="1.50" />
<polyline points="317.4,470.4 319.0,470.4 320.6,470.4 322.2,470.4 323.8,470.4 325.5,470.4 327.1,470.4 328.7,470.4 330.3,470.4 331.9,470.4 333.5,470.4 335.1,470.4 336.7,478.2 338.3,485.4 340.0,478.2 341.6,472.3 343.2,470.9 344.8,469.2 346.4,465.0 348.0,460.7 349.6,456.3 351.2,451.9 352.9,448.1 354.5,444.9 356.1,442.1 357.7,439.8 359.3,438.3 360.9,437.5 362.5,437.5 364.1,437.5 365.7,438.2 367.4,439.2 369.0,440.5 370.6,442.1 372.2,444.1 373.8,445.9 375.4,447.5 377.0,449.0 378.6,450.3 380.2,451.2 381.9,451.8 383.5,452.0 385.1,452.0 386.7,452.0 388.3,452.0 389.9,451.8 391.5,451.3 393.1,450.7 394.8,450.1 396.4,449.5 398.0,448.9 399.6,448.2 401.2,447.5 402.8,447.0 404.4,446.7 406.0,446.3 407.6,445.9 409.3,445.7 410.9,445.6 412.5,445.6 414.1,445.7 415.7,445.8 417.3,445.9 418.9,446.0 420.5,446.2 422.1,446.4 423.8,446.7 425.4,446.9 427.0,447.0 428.6,447.0 430.2,447.0 431.8,447.0 433.4,447.0 435.0,447.0 436.7,447.0 438.3,447.0 439.9,447.0 441.5,447.0 443.1,447.0 444.7,447.0 446.3,447.0 447.9,447.0 449.5,447.0 451.2,447.0 452.8,447.0 454.4,447.0 456.0,447.0 457.6,447.0 459.2,447.0 460.8,447.0 462.4,447.0 464.0,447.0 465.7,447.0 467.3,447.0 468.9,447.0 470.5,447.0 472.1,447.0 473.7,447.0 475.3,447.0 476.9,447.0 478.6,447.0 480.2,447.0 481.8,447.0 483.4,447.0 485.0,447.0 486.6,447.0 488.2,447.0 489.8,447.0 491.4,447.0 493.1,447.0 494.7,447.0 496.3,447.0 497.9,447.0 499.5,447.0 501.1,447.0 502.7,447.0 504.3,447.0 505.9,447.0 507.6,447.0 509.2,447.0 510.8,447.0 512.4,447.0 514.0,447.0 515.6,447.0 517.2,447.0 518.8,447.0 520.5,447.0 522.1,447.0 523.7,447.0 525.3,447.0 526.9,447.0 528.5,447.0 530.1,447.0 531.7,447.0 533.3,447.0 535.0,447.0 536.6,447.0 538.2,447.0 539.8,447.0 541.4,447.0" fill="none" stroke="#ff0000" stroke-width="1.50" />
</g>
<path d="M317.40 493.30V435.70H541.40" class="bx" stroke="#8c8c8c"/>
<path d="M541.40 435.70V493.30H317.40" class="bx" stroke="#b4b4b4"/>
<line x1="317.40" y1="493.30" x2="317.40" y2="491.30" class="tk"/>
<line x1="317.40" y1="435.70" x2="317.40" y2="437.70" class="tk"/>
<text x="317.40" y="499.90" class="tl" text-anchor="middle">0</text>
<line x1="354.73" y1="493.30" x2="354.73" y2="491.30" class="tk"/>
<line x1="354.73" y1="435.70" x2="354.73" y2="437.70" class="tk"/>
<text x="354.73" y="499.90" class="tl" text-anchor="middle">5</text>
<line x1="392.07" y1="493.30" x2="392.07" y2="491.30" class="tk"/>
<line x1="392.07" y1="435.70" x2="392.07" y2="437.70" class="tk"/>
<text x="392.07" y="499.90" class="tl" text-anchor="middle">10</text>
<line x1="429.40" y1="493.30" x2="429.40" y2="491.30" class="tk"/>
<line x1="429.40" y1="435.70" x2="429.40" y2="437.70" class="tk"/>
<text x="429.40" y="499.90" class="tl" text-anchor="middle">15</text>
<line x1="466.73" y1="493.30" x2="466.73" y2="491.30" class="tk"/>
<line x1="466.73" y1="435.70" x2="466.73" y2="437.70" class="tk"/>
<text x="466.73" y="499.90" class="tl" text-anchor="middle">20</text>
<line x1="504.07" y1="493.30" x2="504.07" y2="491.30" class="tk"/>
<line x1="504.07" y1="435.70" x2="504.07" y2="437.70" class="tk"/>
<text x="504.07" y="499.90" class="tl" text-anchor="middle">25</text>
<line x1="541.40" y1="493.30" x2="541.40" y2="491.30" class="tk"/>
<line x1="541.40" y1="435.70" x2="541.40" y2="437.70" class="tk"/>
<text x="541.40" y="499.90" class="tl" text-anchor="middle">30</text>
<line x1="317.40" y1="493.30" x2="319.40" y2="493.30" class="tk"/>
<line x1="541.40" y1="493.30" x2="539.40" y2="493.30" class="tk"/>
<text x="315.80" y="495.70" class="tl" text-anchor="end">-1</text>
<line x1="317.40" y1="481.78" x2="319.40" y2="481.78" class="tk"/>
<line x1="541.40" y1="481.78" x2="539.40" y2="481.78" class="tk"/>
<text transform="translate(315.80,484.18) scale(0.87,1)" class="tl" text-anchor="end">-0.5</text>
<line x1="317.40" y1="470.26" x2="319.40" y2="470.26" class="tk"/>
<line x1="541.40" y1="470.26" x2="539.40" y2="470.26" class="tk"/>
<text x="315.80" y="472.66" class="tl" text-anchor="end">0</text>
<line x1="317.40" y1="458.74" x2="319.40" y2="458.74" class="tk"/>
<line x1="541.40" y1="458.74" x2="539.40" y2="458.74" class="tk"/>
<text transform="translate(315.80,461.14) scale(0.87,1)" class="tl" text-anchor="end">0.5</text>
<line x1="317.40" y1="447.22" x2="319.40" y2="447.22" class="tk"/>
<line x1="541.40" y1="447.22" x2="539.40" y2="447.22" class="tk"/>
<text x="315.80" y="449.62" class="tl" text-anchor="end">1</text>
<line x1="317.40" y1="435.70" x2="319.40" y2="435.70" class="tk"/>
<line x1="541.40" y1="435.70" x2="539.40" y2="435.70" class="tk"/>
<text transform="translate(315.80,438.10) scale(0.87,1)" class="tl" text-anchor="end">1.5</text>
<text transform="translate(302.70,464.50) rotate(-90)" class="yl" text-anchor="middle">--&gt; d<tspan dy="1.6" font-size="4.2">gac</tspan><tspan dy="-1.6">(t)</tspan></text>
<text x="429.40" y="507.10" class="yl" text-anchor="middle">--&gt; Time t</text>
<rect x="508.30" y="465.90" width="28.60" height="26.70" class="lg"/>
<line x1="510.10" y1="469.60" x2="525.00" y2="469.60" stroke="#000000" stroke-width="1.5"/>
<text transform="translate(526.80,471.35) scale(0.86,1)" class="lt">m=1</text>
<line x1="510.10" y1="475.65" x2="525.00" y2="475.65" stroke="#0000ff" stroke-width="1.5"/>
<text transform="translate(526.80,477.40) scale(0.86,1)" class="lt">m=3</text>
<line x1="510.10" y1="481.70" x2="525.00" y2="481.70" stroke="#00ff00" stroke-width="1.5"/>
<text transform="translate(526.80,483.45) scale(0.86,1)" class="lt">m=5</text>
<line x1="510.10" y1="487.75" x2="525.00" y2="487.75" stroke="#ff0000" stroke-width="1.5"/>
<text transform="translate(526.80,489.50) scale(0.86,1)" class="lt">m=7</text>
<line x1="61.73" y1="545.10" x2="61.73" y2="600.30" class="gr"/>
<line x1="99.07" y1="545.10" x2="99.07" y2="600.30" class="gr"/>
<line x1="136.40" y1="545.10" x2="136.40" y2="600.30" class="gr"/>
<line x1="173.73" y1="545.10" x2="173.73" y2="600.30" class="gr"/>
<line x1="211.07" y1="545.10" x2="211.07" y2="600.30" class="gr"/>
<line x1="24.40" y1="597.00" x2="248.40" y2="597.00" class="gr"/>
<line x1="24.40" y1="586.62" x2="248.40" y2="586.62" class="gr"/>
<line x1="24.40" y1="576.24" x2="248.40" y2="576.24" class="gr"/>
<line x1="24.40" y1="565.86" x2="248.40" y2="565.86" class="gr"/>
<line x1="24.40" y1="555.48" x2="248.40" y2="555.48" class="gr"/>
<g clip-path="url(#c_G3L1)">
<polyline points="24.4,597.0 26.0,597.2 27.6,597.3 29.2,597.4 30.9,597.5 32.5,597.5 34.1,597.5 35.7,597.5 37.3,597.3 38.9,596.8 40.6,596.0 42.2,595.0 43.8,594.1 45.4,593.2 47.0,592.2 48.6,591.1 50.3,589.8 51.9,588.5 53.5,587.1 55.1,585.5 56.7,583.8 58.3,582.1 59.9,580.4 61.6,578.8 63.2,577.3 64.8,575.9 66.4,574.6 68.0,573.5 69.6,572.5 71.3,571.6 72.9,570.9 74.5,570.3 76.1,569.8 77.7,569.3 79.3,568.9 81.0,568.6 82.6,568.3 84.2,567.9 85.8,567.7 87.4,567.3 89.0,567.0 90.6,566.6 92.3,566.2 93.9,565.8 95.5,565.3 97.1,564.9 98.7,564.4 100.3,563.9 102.0,563.5 103.6,563.1 105.2,562.7 106.8,562.4 108.4,562.0 110.0,561.7 111.7,561.3 113.3,561.0 114.9,560.7 116.5,560.4 118.1,560.1 119.7,559.8 121.3,559.5 123.0,559.2 124.6,558.9 126.2,558.6 127.8,558.4 129.4,558.1 131.0,557.9 132.7,557.7 134.3,557.5 135.9,557.3 137.5,557.1 139.1,556.9 140.7,556.7 142.4,556.5 144.0,556.3 145.6,556.1 147.2,555.9 148.8,555.7 150.4,555.6 152.1,555.4 153.7,555.2 155.3,555.1 156.9,554.9 158.5,554.8 160.1,554.6 161.7,554.4 163.4,554.3 165.0,554.1 166.6,554.0 168.2,553.9 169.8,553.7 171.4,553.6 173.1,553.4 174.7,553.3 176.3,553.2 177.9,553.0 179.5,552.9 181.1,552.8 182.8,552.7 184.4,552.5 186.0,552.4 187.6,552.3 189.2,552.2 190.8,552.0 192.4,551.9 194.1,551.8 195.7,551.7 197.3,551.6 198.9,551.5 200.5,551.3 202.1,551.2 203.8,551.1 205.4,551.0 207.0,550.9 208.6,550.8 210.2,550.7 211.8,550.6 213.5,550.5 215.1,550.4 216.7,550.3 218.3,550.1 219.9,550.0 221.5,549.9 223.1,549.9 224.8,549.8 226.4,549.7 228.0,549.6 229.6,549.5 231.2,549.4 232.8,549.3 234.5,549.2 236.1,549.1 237.7,549.0 239.3,549.0 240.9,548.9 242.5,548.8 244.2,548.7 245.8,548.6 247.4,548.6 249.0,548.5" fill="none" stroke="#000000" stroke-width="1.50" stroke-dasharray="0.9,0.9"/>
<polyline points="24.4,597.0 26.0,597.4 27.6,597.6 29.2,597.8 30.9,597.9 32.5,598.0 34.1,598.0 35.7,598.0 37.3,597.6 38.9,596.2 40.6,594.5 42.2,592.7 43.8,590.4 45.4,588.0 47.0,585.5 48.6,582.9 50.3,580.2 51.9,577.6 53.5,575.2 55.1,572.9 56.7,570.8 58.3,569.0 59.9,567.4 61.6,566.0 63.2,564.9 64.8,564.0 66.4,563.2 68.0,562.6 69.6,562.1 71.3,561.8 72.9,561.5 74.5,561.2 76.1,561.0 77.7,560.8 79.3,560.6 81.0,560.5 82.6,560.3 84.2,560.2 85.8,560.0 87.4,559.9 89.0,559.6 90.6,559.4 92.3,559.0 93.9,558.5 95.5,558.0 97.1,557.3 98.7,556.7 100.3,556.1 102.0,555.6 103.6,555.1 105.2,554.7 106.8,554.3 108.4,554.0 110.0,553.6 111.7,553.2 113.3,552.9 114.9,552.5 116.5,552.2 118.1,551.9 119.7,551.6 121.3,551.3 123.0,551.0 124.6,550.7 126.2,550.5 127.8,550.2 129.4,550.0 131.0,549.8 132.7,549.6 134.3,549.5 135.9,549.3 137.5,549.2 139.1,549.0 140.7,548.9 142.4,548.8 144.0,548.6 145.6,548.5 147.2,548.4 148.8,548.3 150.4,548.1 152.1,548.0 153.7,547.9 155.3,547.8 156.9,547.7 158.5,547.6 160.1,547.5 161.7,547.4 163.4,547.3 165.0,547.2 166.6,547.1 168.2,547.0 169.8,546.9 171.4,546.9 173.1,546.8 174.7,546.7 176.3,546.6 177.9,546.6 179.5,546.5 181.1,546.5 182.8,546.4 184.4,546.4 186.0,546.3 187.6,546.3 189.2,546.2 190.8,546.2 192.4,546.2 194.1,546.2 195.7,546.1 197.3,546.1 198.9,546.1 200.5,546.0 202.1,546.0 203.8,546.0 205.4,546.0 207.0,545.9 208.6,545.9 210.2,545.9 211.8,545.9 213.5,545.9 215.1,545.8 216.7,545.8 218.3,545.8 219.9,545.8 221.5,545.8 223.1,545.7 224.8,545.7 226.4,545.7 228.0,545.7 229.6,545.7 231.2,545.7 232.8,545.7 234.5,545.6 236.1,545.6 237.7,545.6 239.3,545.6 240.9,545.6 242.5,545.6 244.2,545.6 245.8,545.6 247.4,545.6 249.0,545.6" fill="none" stroke="#0000ff" stroke-width="1.50" stroke-dasharray="0.9,0.9"/>
<polyline points="24.4,597.0 26.0,597.4 27.6,597.6 29.2,597.8 30.9,597.8 32.5,597.8 34.1,597.5 35.7,596.2 37.3,593.5 38.9,590.4 40.6,587.1 42.2,584.4 43.8,582.1 45.4,579.9 47.0,577.6 48.6,575.5 50.3,573.9 51.9,572.7 53.5,571.5 55.1,570.5 56.7,569.5 58.3,568.5 59.9,567.6 61.6,566.8 63.2,566.1 64.8,565.5 66.4,564.9 68.0,564.6 69.6,564.5 71.3,564.4 72.9,564.4 74.5,564.4 76.1,564.6 77.7,564.9 79.3,565.2 81.0,565.6 82.6,566.0 84.2,566.3 85.8,566.4 87.4,566.4 89.0,566.5 90.6,566.4 92.3,565.8 93.9,565.0 95.5,564.5 97.1,563.9 98.7,563.3 100.3,562.7 102.0,562.1 103.6,561.6 105.2,561.2 106.8,560.7 108.4,560.3 110.0,559.9 111.7,559.5 113.3,559.2 114.9,558.8 116.5,558.5 118.1,558.1 119.7,557.8 121.3,557.5 123.0,557.2 124.6,556.9 126.2,556.6 127.8,556.4 129.4,556.2 131.0,555.9 132.7,555.7 134.3,555.6 135.9,555.4 137.5,555.3 139.1,555.1 140.7,555.0 142.4,554.8 144.0,554.7 145.6,554.5 147.2,554.4 148.8,554.3 150.4,554.1 152.1,554.0 153.7,553.9 155.3,553.8 156.9,553.7 158.5,553.5 160.1,553.4 161.7,553.3 163.4,553.2 165.0,553.1 166.6,553.0 168.2,552.9 169.8,552.8 171.4,552.7 173.1,552.6 174.7,552.5 176.3,552.4 177.9,552.3 179.5,552.2 181.1,552.1 182.8,552.0 184.4,551.9 186.0,551.8 187.6,551.7 189.2,551.6 190.8,551.5 192.4,551.4 194.1,551.3 195.7,551.2 197.3,551.1 198.9,551.0 200.5,550.9 202.1,550.8 203.8,550.7 205.4,550.7 207.0,550.6 208.6,550.5 210.2,550.4 211.8,550.3 213.5,550.2 215.1,550.1 216.7,550.0 218.3,549.9 219.9,549.8 221.5,549.7 223.1,549.6 224.8,549.5 226.4,549.5 228.0,549.4 229.6,549.3 231.2,549.2 232.8,549.1 234.5,549.0 236.1,548.9 237.7,548.9 239.3,548.8 240.9,548.7 242.5,548.6 244.2,548.5 245.8,548.5 247.4,548.4 249.0,548.3" fill="none" stroke="#000000" stroke-width="1.50" stroke-dasharray="3.2,1.6"/>
<polyline points="24.4,597.0 26.0,597.7 27.6,598.3 29.2,599.1 30.9,599.8 32.5,600.0 34.1,599.8 35.7,598.3 37.3,596.2 38.9,592.7 40.6,589.1 42.2,585.3 43.8,581.7 45.4,578.5 47.0,575.5 48.6,572.7 50.3,570.2 51.9,568.0 53.5,566.2 55.1,564.6 56.7,563.3 58.3,562.5 59.9,561.7 61.6,561.4 63.2,561.4 64.8,561.4 66.4,561.4 68.0,561.7 69.6,562.0 71.3,562.0 72.9,561.8 74.5,561.6 76.1,561.4 77.7,561.1 79.3,560.8 81.0,560.6 82.6,560.3 84.2,560.0 85.8,559.8 87.4,559.5 89.0,559.2 90.6,558.8 92.3,558.4 93.9,557.8 95.5,557.2 97.1,556.6 98.7,555.9 100.3,555.3 102.0,554.7 103.6,554.1 105.2,553.7 106.8,553.2 108.4,552.8 110.0,552.4 111.7,552.0 113.3,551.6 114.9,551.3 116.5,551.1 118.1,550.8 119.7,550.6 121.3,550.4 123.0,550.2 124.6,549.9 126.2,549.6 127.8,549.4 129.4,549.1 131.0,548.8 132.7,548.6 134.3,548.5 135.9,548.4 137.5,548.2 139.1,548.1 140.7,548.0 142.4,547.9 144.0,547.8 145.6,547.7 147.2,547.6 148.8,547.5 150.4,547.4 152.1,547.3 153.7,547.2 155.3,547.1 156.9,547.1 158.5,547.0 160.1,546.9 161.7,546.8 163.4,546.8 165.0,546.7 166.6,546.6 168.2,546.6 169.8,546.5 171.4,546.5 173.1,546.4 174.7,546.4 176.3,546.3 177.9,546.3 179.5,546.2 181.1,546.2 182.8,546.2 184.4,546.1 186.0,546.1 187.6,546.1 189.2,546.0 190.8,546.0 192.4,546.0 194.1,546.0 195.7,545.9 197.3,545.9 198.9,545.9 200.5,545.9 202.1,545.9 203.8,545.8 205.4,545.8 207.0,545.8 208.6,545.8 210.2,545.8 211.8,545.7 213.5,545.7 215.1,545.7 216.7,545.7 218.3,545.7 219.9,545.6 221.5,545.6 223.1,545.6 224.8,545.6 226.4,545.6 228.0,545.6 229.6,545.6 231.2,545.6 232.8,545.5 234.5,545.5 236.1,545.5 237.7,545.5 239.3,545.5 240.9,545.5 242.5,545.5 244.2,545.5 245.8,545.5 247.4,545.5 249.0,545.5" fill="none" stroke="#0000ff" stroke-width="1.50" stroke-dasharray="3.2,1.6"/>
<polyline points="24.4,597.0 26.0,597.1 27.6,597.2 29.2,597.3 30.9,597.4 32.5,597.5 34.1,597.5 35.7,597.5 37.3,597.5 38.9,597.5 40.6,597.4 42.2,597.3 43.8,597.0 45.4,596.6 47.0,596.1 48.6,595.5 50.3,594.8 51.9,594.1 53.5,593.2 55.1,592.2 56.7,591.2 58.3,590.1 59.9,589.0 61.6,587.8 63.2,586.6 64.8,585.3 66.4,584.0 68.0,582.7 69.6,581.5 71.3,580.3 72.9,579.2 74.5,578.3 76.1,577.5 77.7,576.7 79.3,576.0 81.0,575.3 82.6,574.6 84.2,574.0 85.8,573.5 87.4,573.0 89.0,572.6 90.6,572.1 92.3,571.7 93.9,571.2 95.5,570.8 97.1,570.3 98.7,569.9 100.3,569.5 102.0,569.0 103.6,568.6 105.2,568.2 106.8,567.8 108.4,567.4 110.0,567.0 111.7,566.6 113.3,566.2 114.9,565.8 116.5,565.4 118.1,565.0 119.7,564.6 121.3,564.2 123.0,563.8 124.6,563.4 126.2,562.9 127.8,562.5 129.4,562.1 131.0,561.7 132.7,561.3 134.3,560.9 135.9,560.6 137.5,560.3 139.1,560.1 140.7,559.8 142.4,559.5 144.0,559.2 145.6,558.9 147.2,558.7 148.8,558.4 150.4,558.1 152.1,557.9 153.7,557.6 155.3,557.4 156.9,557.1 158.5,556.9 160.1,556.7 161.7,556.5 163.4,556.2 165.0,556.0 166.6,555.8 168.2,555.6 169.8,555.4 171.4,555.2 173.1,555.0 174.7,554.8 176.3,554.6 177.9,554.4 179.5,554.3 181.1,554.1 182.8,553.9 184.4,553.8 186.0,553.6 187.6,553.5 189.2,553.3 190.8,553.2 192.4,553.0 194.1,552.9 195.7,552.7 197.3,552.6 198.9,552.5 200.5,552.3 202.1,552.2 203.8,552.1 205.4,551.9 207.0,551.8 208.6,551.7 210.2,551.5 211.8,551.4 213.5,551.3 215.1,551.2 216.7,551.1 218.3,551.0 219.9,550.8 221.5,550.7 223.1,550.6 224.8,550.5 226.4,550.4 228.0,550.3 229.6,550.2 231.2,550.1 232.8,550.1 234.5,550.0 236.1,549.9 237.7,549.8 239.3,549.7 240.9,549.7 242.5,549.6 244.2,549.6 245.8,549.5 247.4,549.4 249.0,549.4" fill="none" stroke="#000000" stroke-width="1.50" />
<polyline points="24.4,597.0 26.0,597.5 27.6,597.9 29.2,598.2 30.9,598.4 32.5,598.5 34.1,598.5 35.7,598.5 37.3,598.3 38.9,597.1 40.6,595.5 42.2,594.1 43.8,592.5 45.4,590.7 47.0,588.4 48.6,585.8 50.3,583.3 51.9,580.9 53.5,578.5 55.1,576.0 56.7,573.5 58.3,571.3 59.9,569.4 61.6,567.7 63.2,566.5 64.8,565.6 66.4,564.8 68.0,564.3 69.6,563.9 71.3,563.5 72.9,563.3 74.5,563.2 76.1,563.1 77.7,562.9 79.3,562.8 81.0,562.7 82.6,562.6 84.2,562.5 85.8,562.4 87.4,562.2 89.0,562.0 90.6,561.8 92.3,561.4 93.9,561.0 95.5,560.5 97.1,559.9 98.7,559.3 100.3,558.7 102.0,558.1 103.6,557.6 105.2,557.2 106.8,556.8 108.4,556.4 110.0,556.0 111.7,555.6 113.3,555.2 114.9,554.8 116.5,554.4 118.1,553.9 119.7,553.5 121.3,553.1 123.0,552.7 124.6,552.4 126.2,552.0 127.8,551.6 129.4,551.3 131.0,551.0 132.7,550.7 134.3,550.5 135.9,550.3 137.5,550.1 139.1,549.9 140.7,549.7 142.4,549.5 144.0,549.4 145.6,549.2 147.2,549.0 148.8,548.8 150.4,548.7 152.1,548.5 153.7,548.4 155.3,548.2 156.9,548.1 158.5,547.9 160.1,547.8 161.7,547.7 163.4,547.6 165.0,547.4 166.6,547.3 168.2,547.2 169.8,547.1 171.4,547.0 173.1,546.9 174.7,546.8 176.3,546.7 177.9,546.7 179.5,546.6 181.1,546.5 182.8,546.4 184.4,546.4 186.0,546.3 187.6,546.3 189.2,546.2 190.8,546.2 192.4,546.2 194.1,546.2 195.7,546.1 197.3,546.1 198.9,546.1 200.5,546.0 202.1,546.0 203.8,546.0 205.4,546.0 207.0,545.9 208.6,545.9 210.2,545.9 211.8,545.9 213.5,545.9 215.1,545.8 216.7,545.8 218.3,545.8 219.9,545.8 221.5,545.8 223.1,545.7 224.8,545.7 226.4,545.7 228.0,545.7 229.6,545.7 231.2,545.7 232.8,545.7 234.5,545.6 236.1,545.6 237.7,545.6 239.3,545.6 240.9,545.6 242.5,545.6 244.2,545.6 245.8,545.6 247.4,545.6 249.0,545.6" fill="none" stroke="#0000ff" stroke-width="1.50" />
<polyline points="24.4,597.0 26.0,597.5 27.6,597.9 29.2,598.2 30.9,598.4 32.5,598.5 34.1,598.5 35.7,598.5 37.3,598.3 38.9,597.3 40.6,596.0 42.2,594.7 43.8,593.4 45.4,591.8 47.0,590.1 48.6,587.9 50.3,585.5 51.9,583.1 53.5,580.8 55.1,578.5 56.7,576.3 58.3,574.2 59.9,572.2 61.6,570.3 63.2,568.4 64.8,566.5 66.4,564.5 68.0,562.7 69.6,560.9 71.3,559.2 72.9,557.6 74.5,556.3 76.1,555.1 77.7,554.0 79.3,553.1 81.0,552.3 82.6,551.7 84.2,551.1 85.8,550.6 87.4,550.1 89.0,549.6 90.6,549.2 92.3,548.9 93.9,548.6 95.5,548.3 97.1,548.0 98.7,547.7 100.3,547.3 102.0,547.0 103.6,546.7 105.2,546.4 106.8,546.2 108.4,546.0 110.0,545.8 111.7,545.6 113.3,545.5 114.9,545.4 116.5,545.2 118.1,545.1 119.7,545.0 121.3,544.9 123.0,544.8 124.6,544.7 126.2,544.6 127.8,544.5 129.4,544.4 131.0,544.3 132.7,544.3 134.3,544.3 135.9,544.3 137.5,544.3 139.1,544.3 140.7,544.3 142.4,544.3 144.0,544.3 145.6,544.3 147.2,544.3 148.8,544.3 150.4,544.3 152.1,544.3 153.7,544.3 155.3,544.3 156.9,544.3 158.5,544.3 160.1,544.3 161.7,544.3 163.4,544.3 165.0,544.3 166.6,544.3 168.2,544.3 169.8,544.3 171.4,544.3 173.1,544.3 174.7,544.3 176.3,544.3 177.9,544.3 179.5,544.3 181.1,544.3 182.8,544.3 184.4,544.3 186.0,544.3 187.6,544.3 189.2,544.3 190.8,544.3 192.4,544.3 194.1,544.3 195.7,544.3 197.3,544.3 198.9,544.3 200.5,544.3 202.1,544.3 203.8,544.3 205.4,544.3 207.0,544.3 208.6,544.4 210.2,544.4 211.8,544.4 213.5,544.4 215.1,544.4 216.7,544.4 218.3,544.4 219.9,544.5 221.5,544.5 223.1,544.5 224.8,544.5 226.4,544.5 228.0,544.5 229.6,544.6 231.2,544.6 232.8,544.6 234.5,544.6 236.1,544.6 237.7,544.7 239.3,544.7 240.9,544.7 242.5,544.7 244.2,544.7 245.8,544.8 247.4,544.8 249.0,544.8" fill="none" stroke="#ff00ff" stroke-width="1.50" />
</g>
<path d="M24.40 600.30V545.10H248.40" class="bx" stroke="#8c8c8c"/>
<path d="M248.40 545.10V600.30H24.40" class="bx" stroke="#b4b4b4"/>
<line x1="24.40" y1="600.30" x2="24.40" y2="598.30" class="tk"/>
<line x1="24.40" y1="545.10" x2="24.40" y2="547.10" class="tk"/>
<text x="24.40" y="606.90" class="tl" text-anchor="middle">0</text>
<line x1="61.73" y1="600.30" x2="61.73" y2="598.30" class="tk"/>
<line x1="61.73" y1="545.10" x2="61.73" y2="547.10" class="tk"/>
<text x="61.73" y="606.90" class="tl" text-anchor="middle">5</text>
<line x1="99.07" y1="600.30" x2="99.07" y2="598.30" class="tk"/>
<line x1="99.07" y1="545.10" x2="99.07" y2="547.10" class="tk"/>
<text x="99.07" y="606.90" class="tl" text-anchor="middle">10</text>
<line x1="136.40" y1="600.30" x2="136.40" y2="598.30" class="tk"/>
<line x1="136.40" y1="545.10" x2="136.40" y2="547.10" class="tk"/>
<text x="136.40" y="606.90" class="tl" text-anchor="middle">15</text>
<line x1="173.73" y1="600.30" x2="173.73" y2="598.30" class="tk"/>
<line x1="173.73" y1="545.10" x2="173.73" y2="547.10" class="tk"/>
<text x="173.73" y="606.90" class="tl" text-anchor="middle">20</text>
<line x1="211.07" y1="600.30" x2="211.07" y2="598.30" class="tk"/>
<line x1="211.07" y1="545.10" x2="211.07" y2="547.10" class="tk"/>
<text x="211.07" y="606.90" class="tl" text-anchor="middle">25</text>
<line x1="248.40" y1="600.30" x2="248.40" y2="598.30" class="tk"/>
<line x1="248.40" y1="545.10" x2="248.40" y2="547.10" class="tk"/>
<text x="248.40" y="606.90" class="tl" text-anchor="middle">30</text>
<line x1="24.40" y1="597.00" x2="26.40" y2="597.00" class="tk"/>
<line x1="248.40" y1="597.00" x2="246.40" y2="597.00" class="tk"/>
<text x="22.80" y="599.40" class="tl" text-anchor="end">0</text>
<line x1="24.40" y1="586.62" x2="26.40" y2="586.62" class="tk"/>
<line x1="248.40" y1="586.62" x2="246.40" y2="586.62" class="tk"/>
<text transform="translate(22.80,589.02) scale(0.87,1)" class="tl" text-anchor="end">0.2</text>
<line x1="24.40" y1="576.24" x2="26.40" y2="576.24" class="tk"/>
<line x1="248.40" y1="576.24" x2="246.40" y2="576.24" class="tk"/>
<text transform="translate(22.80,578.64) scale(0.87,1)" class="tl" text-anchor="end">0.4</text>
<line x1="24.40" y1="565.86" x2="26.40" y2="565.86" class="tk"/>
<line x1="248.40" y1="565.86" x2="246.40" y2="565.86" class="tk"/>
<text transform="translate(22.80,568.26) scale(0.87,1)" class="tl" text-anchor="end">0.6</text>
<line x1="24.40" y1="555.48" x2="26.40" y2="555.48" class="tk"/>
<line x1="248.40" y1="555.48" x2="246.40" y2="555.48" class="tk"/>
<text transform="translate(22.80,557.88) scale(0.87,1)" class="tl" text-anchor="end">0.8</text>
<line x1="24.40" y1="545.10" x2="26.40" y2="545.10" class="tk"/>
<line x1="248.40" y1="545.10" x2="246.40" y2="545.10" class="tk"/>
<text x="22.80" y="547.50" class="tl" text-anchor="end">1</text>
<text transform="translate(11.80,572.70) rotate(-90)" class="yl" text-anchor="middle">--&gt; y<tspan dy="1.6" font-size="4.2">p</tspan><tspan dy="-1.6">(t)</tspan></text>
<rect x="215.10" y="574.90" width="28.70" height="25.40" class="lg"/>
<line x1="216.90" y1="578.60" x2="231.80" y2="578.60" stroke="#9a9a9a" stroke-width="0.9" stroke-dasharray="0.7,0.5"/>
<text transform="translate(233.60,580.35) scale(0.86,1)" class="lt">w</text>
<line x1="216.90" y1="584.55" x2="231.80" y2="584.55" stroke="#000000" stroke-width="1.5"/>
<text transform="translate(233.60,586.30) scale(0.86,1)" class="lt">m=1</text>
<line x1="216.90" y1="590.50" x2="231.80" y2="590.50" stroke="#0000ff" stroke-width="1.5"/>
<text transform="translate(233.60,592.25) scale(0.86,1)" class="lt">m=3</text>
<line x1="216.90" y1="596.45" x2="231.80" y2="596.45" stroke="#ff00ff" stroke-width="1.5"/>
<text transform="translate(233.60,598.20) scale(0.86,1)" class="lt">AV</text>
<line x1="61.73" y1="624.10" x2="61.73" y2="680.80" class="gr"/>
<line x1="99.07" y1="624.10" x2="99.07" y2="680.80" class="gr"/>
<line x1="136.40" y1="624.10" x2="136.40" y2="680.80" class="gr"/>
<line x1="173.73" y1="624.10" x2="173.73" y2="680.80" class="gr"/>
<line x1="211.07" y1="624.10" x2="211.07" y2="680.80" class="gr"/>
<line x1="24.40" y1="666.62" x2="248.40" y2="666.62" class="gr"/>
<line x1="24.40" y1="652.45" x2="248.40" y2="652.45" class="gr"/>
<line x1="24.40" y1="638.27" x2="248.40" y2="638.27" class="gr"/>
<g clip-path="url(#c_G3L2)">
<polyline points="24.4,680.8 26.0,679.1 27.6,676.6 29.2,673.2 30.9,669.3 32.5,666.3 34.1,663.9 35.7,661.6 37.3,659.6 38.9,658.0 40.6,656.8 42.2,655.8 43.8,655.1 45.4,654.6 47.0,654.2 48.6,654.0 50.3,654.1 51.9,654.4 53.5,654.9 55.1,655.4 56.7,656.0 58.3,656.8 59.9,657.3 61.6,657.9 63.2,658.3 64.8,658.6 66.4,658.8 68.0,659.0 69.6,659.0 71.3,659.0 72.9,658.9 74.5,658.8 76.1,658.7 77.7,658.6 79.3,658.5 81.0,658.3 82.6,658.1 84.2,657.8 85.8,657.4 87.4,657.1 89.0,656.7 90.6,656.3 92.3,655.9 93.9,655.3 95.5,654.7 97.1,654.0 98.7,653.4 100.3,652.9 102.0,652.4 103.6,652.1 105.2,651.8 106.8,651.6 108.4,651.4 110.0,651.3 111.7,651.1 113.3,650.9 114.9,650.8 116.5,650.7 118.1,650.5 119.7,650.4 121.3,650.3 123.0,650.2 124.6,650.1 126.2,650.0 127.8,649.9 129.4,649.8 131.0,649.8 132.7,649.7 134.3,649.6 135.9,649.5 137.5,649.4 139.1,649.3 140.7,649.3 142.4,649.2 144.0,649.1 145.6,649.0 147.2,649.0 148.8,648.9 150.4,648.8 152.1,648.8 153.7,648.7 155.3,648.6 156.9,648.6 158.5,648.5 160.1,648.4 161.7,648.4 163.4,648.3 165.0,648.3 166.6,648.2 168.2,648.2 169.8,648.1 171.4,648.1 173.1,648.0 174.7,648.0 176.3,647.9 177.9,647.9 179.5,647.8 181.1,647.8 182.8,647.7 184.4,647.7 186.0,647.6 187.6,647.6 189.2,647.6 190.8,647.5 192.4,647.5 194.1,647.4 195.7,647.4 197.3,647.4 198.9,647.3 200.5,647.3 202.1,647.3 203.8,647.2 205.4,647.2 207.0,647.2 208.6,647.1 210.2,647.1 211.8,647.0 213.5,647.0 215.1,647.0 216.7,647.0 218.3,646.9 219.9,646.9 221.5,646.9 223.1,646.8 224.8,646.8 226.4,646.8 228.0,646.8 229.6,646.7 231.2,646.7 232.8,646.7 234.5,646.7 236.1,646.6 237.7,646.6 239.3,646.6 240.9,646.6 242.5,646.6 244.2,646.5 245.8,646.5 247.4,646.5 249.0,646.5" fill="none" stroke="#000000" stroke-width="1.50" stroke-dasharray="0.9,0.9"/>
<polyline points="24.4,680.8 26.0,677.0 27.6,669.9 29.2,661.9 30.9,654.5 32.5,648.3 34.1,643.0 35.7,639.8 37.3,637.9 38.9,637.3 40.6,637.0 42.2,637.6 43.8,639.3 45.4,641.0 47.0,643.0 48.6,645.7 50.3,648.4 51.9,650.6 53.5,652.5 55.1,654.0 56.7,655.3 58.3,656.1 59.9,656.7 61.6,657.0 63.2,656.9 64.8,656.7 66.4,656.4 68.0,655.5 69.6,654.3 71.3,653.0 72.9,651.7 74.5,650.8 76.1,650.0 77.7,649.4 79.3,648.9 81.0,648.3 82.6,647.8 84.2,647.4 85.8,647.0 87.4,646.8 89.0,646.5 90.6,646.2 92.3,646.1 93.9,646.0 95.5,646.0 97.1,646.0 98.7,645.9 100.3,645.9 102.0,645.9 103.6,645.9 105.2,645.9 106.8,645.9 108.4,645.9 110.0,645.9 111.7,645.9 113.3,645.8 114.9,645.8 116.5,645.8 118.1,645.8 119.7,645.8 121.3,645.8 123.0,645.8 124.6,645.8 126.2,645.8 127.8,645.8 129.4,645.8 131.0,645.8 132.7,645.8 134.3,645.8 135.9,645.8 137.5,645.8 139.1,645.8 140.7,645.8 142.4,645.8 144.0,645.8 145.6,645.8 147.2,645.8 148.8,645.8 150.4,645.8 152.1,645.8 153.7,645.8 155.3,645.8 156.9,645.8 158.5,645.8 160.1,645.8 161.7,645.8 163.4,645.8 165.0,645.8 166.6,645.8 168.2,645.8 169.8,645.8 171.4,645.8 173.1,645.8 174.7,645.8 176.3,645.8 177.9,645.8 179.5,645.8 181.1,645.8 182.8,645.8 184.4,645.8 186.0,645.8 187.6,645.8 189.2,645.8 190.8,645.8 192.4,645.8 194.1,645.8 195.7,645.8 197.3,645.8 198.9,645.8 200.5,645.8 202.1,645.8 203.8,645.8 205.4,645.8 207.0,645.9 208.6,645.9 210.2,645.9 211.8,645.9 213.5,645.9 215.1,645.9 216.7,645.9 218.3,645.9 219.9,645.9 221.5,645.9 223.1,645.9 224.8,645.9 226.4,645.9 228.0,645.9 229.6,645.9 231.2,645.9 232.8,645.9 234.5,645.9 236.1,645.9 237.7,645.9 239.3,646.0 240.9,646.0 242.5,646.0 244.2,646.0 245.8,646.0 247.4,646.0 249.0,646.0" fill="none" stroke="#0000ff" stroke-width="1.50" stroke-dasharray="0.9,0.9"/>
<polyline points="24.4,680.8 26.0,646.9 27.6,645.7 29.2,645.1 30.9,645.0 32.5,645.0 34.1,645.0 35.7,645.5 37.3,646.6 38.9,647.6 40.6,648.8 42.2,650.2 43.8,651.7 45.4,653.4 47.0,655.0 48.6,656.7 50.3,658.2 51.9,659.9 53.5,661.3 55.1,661.8 56.7,662.3 58.3,662.5 59.9,662.5 61.6,662.3 63.2,662.1 64.8,661.9 66.4,661.8 68.0,661.6 69.6,661.4 71.3,661.1 72.9,660.7 74.5,660.4 76.1,660.1 77.7,659.8 79.3,659.4 81.0,658.7 82.6,657.8 84.2,656.9 85.8,656.1 87.4,655.4 89.0,654.8 90.6,654.2 92.3,653.7 93.9,653.1 95.5,652.6 97.1,652.2 98.7,651.7 100.3,651.2 102.0,650.8 103.6,650.4 105.2,650.1 106.8,649.9 108.4,649.7 110.0,649.5 111.7,649.3 113.3,649.2 114.9,649.1 116.5,649.0 118.1,648.9 119.7,648.9 121.3,648.8 123.0,648.8 124.6,648.7 126.2,648.7 127.8,648.6 129.4,648.6 131.0,648.6 132.7,648.5 134.3,648.5 135.9,648.5 137.5,648.4 139.1,648.4 140.7,648.3 142.4,648.3 144.0,648.2 145.6,648.2 147.2,648.2 148.8,648.1 150.4,648.1 152.1,648.1 153.7,648.0 155.3,648.0 156.9,647.9 158.5,647.9 160.1,647.9 161.7,647.8 163.4,647.8 165.0,647.7 166.6,647.7 168.2,647.7 169.8,647.6 171.4,647.6 173.1,647.6 174.7,647.5 176.3,647.5 177.9,647.5 179.5,647.4 181.1,647.4 182.8,647.4 184.4,647.3 186.0,647.3 187.6,647.3 189.2,647.2 190.8,647.2 192.4,647.2 194.1,647.2 195.7,647.1 197.3,647.1 198.9,647.1 200.5,647.0 202.1,647.0 203.8,647.0 205.4,647.0 207.0,646.9 208.6,646.9 210.2,646.9 211.8,646.8 213.5,646.8 215.1,646.8 216.7,646.8 218.3,646.7 219.9,646.7 221.5,646.7 223.1,646.7 224.8,646.6 226.4,646.6 228.0,646.6 229.6,646.6 231.2,646.5 232.8,646.5 234.5,646.5 236.1,646.5 237.7,646.4 239.3,646.4 240.9,646.4 242.5,646.4 244.2,646.4 245.8,646.3 247.4,646.3 249.0,646.3" fill="none" stroke="#000000" stroke-width="1.50" stroke-dasharray="3.2,1.6"/>
<polyline points="24.4,680.8 26.0,661.8 27.6,648.5 29.2,637.6 30.9,631.3 32.5,628.5 34.1,628.7 35.7,629.4 37.3,631.1 38.9,633.4 40.6,636.2 42.2,639.3 43.8,642.6 45.4,645.9 47.0,649.0 48.6,651.8 50.3,654.4 51.9,657.4 53.5,659.5 55.1,661.0 56.7,661.8 58.3,662.3 59.9,662.5 61.6,662.4 63.2,662.2 64.8,661.7 66.4,660.6 68.0,659.0 69.6,656.3 71.3,653.1 72.9,650.9 74.5,649.3 76.1,647.9 77.7,646.7 79.3,645.9 81.0,645.4 82.6,645.1 84.2,645.0 85.8,645.0 87.4,645.0 89.0,645.0 90.6,645.0 92.3,645.0 93.9,645.1 95.5,645.3 97.1,645.6 98.7,645.8 100.3,646.0 102.0,646.3 103.6,646.6 105.2,646.8 106.8,647.0 108.4,647.0 110.0,647.0 111.7,647.0 113.3,647.0 114.9,647.0 116.5,647.0 118.1,646.9 119.7,646.6 121.3,646.3 123.0,646.1 124.6,646.0 126.2,645.8 127.8,645.7 129.4,645.6 131.0,645.6 132.7,645.5 134.3,645.5 135.9,645.5 137.5,645.5 139.1,645.5 140.7,645.5 142.4,645.5 144.0,645.5 145.6,645.5 147.2,645.5 148.8,645.5 150.4,645.5 152.1,645.5 153.7,645.5 155.3,645.5 156.9,645.5 158.5,645.5 160.1,645.5 161.7,645.5 163.4,645.5 165.0,645.5 166.6,645.5 168.2,645.5 169.8,645.5 171.4,645.5 173.1,645.5 174.7,645.5 176.3,645.5 177.9,645.5 179.5,645.5 181.1,645.5 182.8,645.5 184.4,645.5 186.0,645.5 187.6,645.6 189.2,645.6 190.8,645.6 192.4,645.6 194.1,645.6 195.7,645.6 197.3,645.6 198.9,645.6 200.5,645.6 202.1,645.6 203.8,645.6 205.4,645.6 207.0,645.6 208.6,645.6 210.2,645.6 211.8,645.7 213.5,645.7 215.1,645.7 216.7,645.7 218.3,645.7 219.9,645.7 221.5,645.7 223.1,645.7 224.8,645.7 226.4,645.8 228.0,645.8 229.6,645.8 231.2,645.8 232.8,645.8 234.5,645.8 236.1,645.8 237.7,645.9 239.3,645.9 240.9,645.9 242.5,645.9 244.2,645.9 245.8,646.0 247.4,646.0 249.0,646.0" fill="none" stroke="#0000ff" stroke-width="1.50" stroke-dasharray="3.2,1.6"/>
<polyline points="24.4,680.8 26.0,680.7 27.6,680.3 29.2,679.4 30.9,678.1 32.5,676.4 34.1,674.2 35.7,672.1 37.3,669.9 38.9,668.1 40.6,666.6 42.2,665.3 43.8,664.1 45.4,663.0 47.0,662.0 48.6,661.2 50.3,660.5 51.9,659.9 53.5,659.6 55.1,659.4 56.7,659.3 58.3,659.2 59.9,659.2 61.6,659.3 63.2,659.4 64.8,659.6 66.4,659.7 68.0,659.8 69.6,659.8 71.3,659.8 72.9,659.7 74.5,659.7 76.1,659.6 77.7,659.6 79.3,659.5 81.0,659.3 82.6,659.0 84.2,658.6 85.8,658.2 87.4,657.7 89.0,657.2 90.6,656.8 92.3,656.4 93.9,656.0 95.5,655.5 97.1,655.1 98.7,654.7 100.3,654.3 102.0,653.9 103.6,653.6 105.2,653.2 106.8,652.9 108.4,652.6 110.0,652.4 111.7,652.2 113.3,652.1 114.9,651.9 116.5,651.8 118.1,651.7 119.7,651.6 121.3,651.5 123.0,651.4 124.6,651.4 126.2,651.3 127.8,651.2 129.4,651.2 131.0,651.1 132.7,651.1 134.3,651.0 135.9,650.9 137.5,650.8 139.1,650.8 140.7,650.7 142.4,650.6 144.0,650.5 145.6,650.4 147.2,650.3 148.8,650.3 150.4,650.2 152.1,650.1 153.7,650.0 155.3,649.9 156.9,649.8 158.5,649.7 160.1,649.7 161.7,649.6 163.4,649.5 165.0,649.4 166.6,649.3 168.2,649.2 169.8,649.1 171.4,649.1 173.1,649.0 174.7,648.9 176.3,648.8 177.9,648.7 179.5,648.7 181.1,648.6 182.8,648.5 184.4,648.5 186.0,648.4 187.6,648.3 189.2,648.3 190.8,648.2 192.4,648.2 194.1,648.1 195.7,648.1 197.3,648.0 198.9,648.0 200.5,647.9 202.1,647.9 203.8,647.8 205.4,647.8 207.0,647.7 208.6,647.7 210.2,647.6 211.8,647.6 213.5,647.5 215.1,647.5 216.7,647.4 218.3,647.4 219.9,647.4 221.5,647.3 223.1,647.3 224.8,647.2 226.4,647.2 228.0,647.2 229.6,647.1 231.2,647.1 232.8,647.1 234.5,647.0 236.1,647.0 237.7,647.0 239.3,646.9 240.9,646.9 242.5,646.9 244.2,646.9 245.8,646.8 247.4,646.8 249.0,646.8" fill="none" stroke="#000000" stroke-width="1.50" />
<polyline points="24.4,680.8 26.0,680.0 27.6,678.1 29.2,674.1 30.9,669.3 32.5,663.6 34.1,658.9 35.7,654.7 37.3,651.1 38.9,648.1 40.6,645.7 42.2,643.8 43.8,642.5 45.4,642.0 47.0,642.0 48.6,642.1 50.3,643.3 51.9,645.0 53.5,647.3 55.1,649.5 56.7,651.7 58.3,653.4 59.9,654.8 61.6,655.8 63.2,656.6 64.8,657.0 66.4,656.8 68.0,656.3 69.6,655.8 71.3,654.9 72.9,654.0 74.5,653.3 76.1,652.9 77.7,652.4 79.3,651.9 81.0,651.1 82.6,650.2 84.2,649.4 85.8,648.7 87.4,647.9 89.0,647.3 90.6,646.8 92.3,646.5 93.9,646.3 95.5,646.1 97.1,645.9 98.7,645.8 100.3,645.7 102.0,645.6 103.6,645.6 105.2,645.6 106.8,645.8 108.4,645.9 110.0,646.1 111.7,646.3 113.3,646.4 114.9,646.4 116.5,646.4 118.1,646.4 119.7,646.4 121.3,646.3 123.0,646.3 124.6,646.3 126.2,646.3 127.8,646.3 129.4,646.2 131.0,646.2 132.7,646.2 134.3,646.2 135.9,646.2 137.5,646.2 139.1,646.2 140.7,646.2 142.4,646.2 144.0,646.2 145.6,646.2 147.2,646.2 148.8,646.2 150.4,646.2 152.1,646.2 153.7,646.2 155.3,646.2 156.9,646.2 158.5,646.2 160.1,646.2 161.7,646.2 163.4,646.2 165.0,646.1 166.6,646.1 168.2,646.1 169.8,646.1 171.4,646.1 173.1,646.1 174.7,646.1 176.3,646.1 177.9,646.1 179.5,646.1 181.1,646.1 182.8,646.1 184.4,646.1 186.0,646.1 187.6,646.1 189.2,646.1 190.8,646.1 192.4,646.1 194.1,646.1 195.7,646.1 197.3,646.1 198.9,646.1 200.5,646.1 202.1,646.1 203.8,646.1 205.4,646.1 207.0,646.1 208.6,646.1 210.2,646.1 211.8,646.1 213.5,646.1 215.1,646.1 216.7,646.1 218.3,646.1 219.9,646.1 221.5,646.1 223.1,646.1 224.8,646.1 226.4,646.1 228.0,646.1 229.6,646.1 231.2,646.1 232.8,646.1 234.5,646.1 236.1,646.1 237.7,646.1 239.3,646.1 240.9,646.1 242.5,646.1 244.2,646.1 245.8,646.1 247.4,646.1 249.0,646.1" fill="none" stroke="#0000ff" stroke-width="1.50" />
<polyline points="24.4,680.8 26.0,676.6 27.6,672.3 29.2,667.9 30.9,663.9 32.5,660.2 34.1,656.8 35.7,653.8 37.3,651.0 38.9,648.7 40.6,646.5 42.2,644.8 43.8,643.4 45.4,642.3 47.0,641.6 48.6,641.0 50.3,640.6 51.9,640.4 53.5,640.2 55.1,640.0 56.7,640.0 58.3,640.2 59.9,640.6 61.6,640.9 63.2,641.3 64.8,641.7 66.4,642.1 68.0,642.5 69.6,642.9 71.3,643.3 72.9,643.7 74.5,644.1 76.1,644.5 77.7,644.9 79.3,645.0 81.0,645.1 82.6,645.1 84.2,645.1 85.8,645.2 87.4,645.2 89.0,645.2 90.6,645.2 92.3,645.2 93.9,645.2 95.5,645.2 97.1,645.2 98.7,645.2 100.3,645.2 102.0,645.2 103.6,645.2 105.2,645.2 106.8,645.2 108.4,645.2 110.0,645.2 111.7,645.2 113.3,645.2 114.9,645.2 116.5,645.2 118.1,645.2 119.7,645.2 121.3,645.2 123.0,645.2 124.6,645.2 126.2,645.2 127.8,645.2 129.4,645.2 131.0,645.2 132.7,645.2 134.3,645.2 135.9,645.2 137.5,645.2 139.1,645.2 140.7,645.2 142.4,645.2 144.0,645.2 145.6,645.2 147.2,645.2 148.8,645.2 150.4,645.2 152.1,645.2 153.7,645.2 155.3,645.2 156.9,645.2 158.5,645.2 160.1,645.3 161.7,645.3 163.4,645.3 165.0,645.3 166.6,645.3 168.2,645.3 169.8,645.3 171.4,645.3 173.1,645.3 174.7,645.3 176.3,645.3 177.9,645.3 179.5,645.3 181.1,645.4 182.8,645.4 184.4,645.4 186.0,645.4 187.6,645.4 189.2,645.4 190.8,645.4 192.4,645.4 194.1,645.4 195.7,645.5 197.3,645.5 198.9,645.5 200.5,645.5 202.1,645.5 203.8,645.5 205.4,645.5 207.0,645.6 208.6,645.6 210.2,645.6 211.8,645.6 213.5,645.6 215.1,645.6 216.7,645.6 218.3,645.7 219.9,645.7 221.5,645.7 223.1,645.7 224.8,645.7 226.4,645.7 228.0,645.8 229.6,645.8 231.2,645.8 232.8,645.8 234.5,645.8 236.1,645.8 237.7,645.9 239.3,645.9 240.9,645.9 242.5,645.9 244.2,645.9 245.8,646.0 247.4,646.0 249.0,646.0" fill="none" stroke="#ff00ff" stroke-width="1.50" />
</g>
<path d="M24.40 680.80V624.10H248.40" class="bx" stroke="#8c8c8c"/>
<path d="M248.40 624.10V680.80H24.40" class="bx" stroke="#b4b4b4"/>
<line x1="24.40" y1="680.80" x2="24.40" y2="678.80" class="tk"/>
<line x1="24.40" y1="624.10" x2="24.40" y2="626.10" class="tk"/>
<text x="24.40" y="687.40" class="tl" text-anchor="middle">0</text>
<line x1="61.73" y1="680.80" x2="61.73" y2="678.80" class="tk"/>
<line x1="61.73" y1="624.10" x2="61.73" y2="626.10" class="tk"/>
<text x="61.73" y="687.40" class="tl" text-anchor="middle">5</text>
<line x1="99.07" y1="680.80" x2="99.07" y2="678.80" class="tk"/>
<line x1="99.07" y1="624.10" x2="99.07" y2="626.10" class="tk"/>
<text x="99.07" y="687.40" class="tl" text-anchor="middle">10</text>
<line x1="136.40" y1="680.80" x2="136.40" y2="678.80" class="tk"/>
<line x1="136.40" y1="624.10" x2="136.40" y2="626.10" class="tk"/>
<text x="136.40" y="687.40" class="tl" text-anchor="middle">15</text>
<line x1="173.73" y1="680.80" x2="173.73" y2="678.80" class="tk"/>
<line x1="173.73" y1="624.10" x2="173.73" y2="626.10" class="tk"/>
<text x="173.73" y="687.40" class="tl" text-anchor="middle">20</text>
<line x1="211.07" y1="680.80" x2="211.07" y2="678.80" class="tk"/>
<line x1="211.07" y1="624.10" x2="211.07" y2="626.10" class="tk"/>
<text x="211.07" y="687.40" class="tl" text-anchor="middle">25</text>
<line x1="248.40" y1="680.80" x2="248.40" y2="678.80" class="tk"/>
<line x1="248.40" y1="624.10" x2="248.40" y2="626.10" class="tk"/>
<text x="248.40" y="687.40" class="tl" text-anchor="middle">30</text>
<line x1="24.40" y1="680.80" x2="26.40" y2="680.80" class="tk"/>
<line x1="248.40" y1="680.80" x2="246.40" y2="680.80" class="tk"/>
<text x="22.80" y="683.20" class="tl" text-anchor="end">0</text>
<line x1="24.40" y1="666.62" x2="26.40" y2="666.62" class="tk"/>
<line x1="248.40" y1="666.62" x2="246.40" y2="666.62" class="tk"/>
<text transform="translate(22.80,669.02) scale(0.87,1)" class="tl" text-anchor="end">0.2</text>
<line x1="24.40" y1="652.45" x2="26.40" y2="652.45" class="tk"/>
<line x1="248.40" y1="652.45" x2="246.40" y2="652.45" class="tk"/>
<text transform="translate(22.80,654.85) scale(0.87,1)" class="tl" text-anchor="end">0.4</text>
<line x1="24.40" y1="638.27" x2="26.40" y2="638.27" class="tk"/>
<line x1="248.40" y1="638.27" x2="246.40" y2="638.27" class="tk"/>
<text transform="translate(22.80,640.67) scale(0.87,1)" class="tl" text-anchor="end">0.6</text>
<line x1="24.40" y1="624.10" x2="26.40" y2="624.10" class="tk"/>
<line x1="248.40" y1="624.10" x2="246.40" y2="624.10" class="tk"/>
<text transform="translate(22.80,626.50) scale(0.87,1)" class="tl" text-anchor="end">0.8</text>
<text transform="translate(11.80,652.45) rotate(-90)" class="yl" text-anchor="middle">--&gt; u<tspan dy="1.6" font-size="4.2">p</tspan><tspan dy="-1.6">(t)</tspan></text>
<rect x="215.10" y="657.60" width="28.70" height="21.40" class="lg"/>
<line x1="216.90" y1="661.40" x2="231.80" y2="661.40" stroke="#000000" stroke-width="1.5"/>
<text transform="translate(233.60,663.15) scale(0.86,1)" class="lt">m=1</text>
<line x1="216.90" y1="667.45" x2="231.80" y2="667.45" stroke="#0000ff" stroke-width="1.5"/>
<text transform="translate(233.60,669.20) scale(0.86,1)" class="lt">m=3</text>
<line x1="216.90" y1="673.50" x2="231.80" y2="673.50" stroke="#ff00ff" stroke-width="1.5"/>
<text transform="translate(233.60,675.25) scale(0.86,1)" class="lt">AV</text>
<line x1="61.73" y1="704.00" x2="61.73" y2="761.40" class="gr"/>
<line x1="99.07" y1="704.00" x2="99.07" y2="761.40" class="gr"/>
<line x1="136.40" y1="704.00" x2="136.40" y2="761.40" class="gr"/>
<line x1="173.73" y1="704.00" x2="173.73" y2="761.40" class="gr"/>
<line x1="211.07" y1="704.00" x2="211.07" y2="761.40" class="gr"/>
<line x1="24.40" y1="747.05" x2="248.40" y2="747.05" class="gr"/>
<line x1="24.40" y1="732.70" x2="248.40" y2="732.70" class="gr"/>
<line x1="24.40" y1="718.35" x2="248.40" y2="718.35" class="gr"/>
<g clip-path="url(#c_G3L3)">
<polyline points="24.4,704.0 26.0,704.2 27.6,704.8 29.2,706.1 30.9,708.8 32.5,712.1 34.1,715.2 35.7,717.9 37.3,720.6 38.9,722.9 40.6,724.9 42.2,726.6 43.8,727.9 45.4,728.8 47.0,729.6 48.6,730.0 50.3,729.9 51.9,729.6 53.5,729.1 55.1,728.6 56.7,727.9 58.3,727.2 59.9,726.7 61.6,726.3 63.2,725.9 64.8,725.7 66.4,725.6 68.0,725.5 69.6,725.5 71.3,725.5 72.9,725.6 74.5,725.7 76.1,725.8 77.7,725.9 79.3,726.0 81.0,726.2 82.6,726.5 84.2,726.8 85.8,727.1 87.4,727.5 89.0,727.9 90.6,728.3 92.3,728.6 93.9,729.0 95.5,729.3 97.1,729.6 98.7,730.0 100.3,730.4 102.0,730.7 103.6,731.1 105.2,731.4 106.8,731.8 108.4,732.1 110.0,732.4 111.7,732.7 113.3,732.9 114.9,733.1 116.5,733.3 118.1,733.5 119.7,733.7 121.3,733.9 123.0,734.1 124.6,734.2 126.2,734.4 127.8,734.5 129.4,734.7 131.0,734.8 132.7,734.9 134.3,735.0 135.9,735.1 137.5,735.2 139.1,735.3 140.7,735.4 142.4,735.5 144.0,735.5 145.6,735.6 147.2,735.7 148.8,735.8 150.4,735.9 152.1,735.9 153.7,736.0 155.3,736.1 156.9,736.1 158.5,736.2 160.1,736.3 161.7,736.3 163.4,736.4 165.0,736.4 166.6,736.5 168.2,736.5 169.8,736.6 171.4,736.7 173.1,736.7 174.7,736.8 176.3,736.8 177.9,736.8 179.5,736.9 181.1,736.9 182.8,737.0 184.4,737.0 186.0,737.1 187.6,737.1 189.2,737.1 190.8,737.2 192.4,737.2 194.1,737.3 195.7,737.3 197.3,737.3 198.9,737.4 200.5,737.4 202.1,737.4 203.8,737.5 205.4,737.5 207.0,737.6 208.6,737.6 210.2,737.6 211.8,737.7 213.5,737.7 215.1,737.7 216.7,737.8 218.3,737.8 219.9,737.8 221.5,737.8 223.1,737.9 224.8,737.9 226.4,737.9 228.0,738.0 229.6,738.0 231.2,738.0 232.8,738.0 234.5,738.0 236.1,738.1 237.7,738.1 239.3,738.1 240.9,738.1 242.5,738.1 244.2,738.2 245.8,738.2 247.4,738.2 249.0,738.2" fill="none" stroke="#000000" stroke-width="1.50" stroke-dasharray="0.9,0.9"/>
<polyline points="24.4,704.0 26.0,704.4 27.6,705.7 29.2,709.7 30.9,715.3 32.5,722.9 34.1,728.7 35.7,733.3 37.3,736.9 38.9,739.9 40.6,742.7 42.2,744.6 43.8,745.7 45.4,745.9 47.0,744.9 48.6,743.3 50.3,741.1 51.9,738.8 53.5,736.6 55.1,734.8 56.7,733.2 58.3,731.7 59.9,730.4 61.6,729.2 63.2,728.4 64.8,727.5 66.4,727.0 68.0,727.0 69.6,727.3 71.3,727.6 72.9,728.2 74.5,729.1 76.1,730.1 77.7,731.1 79.3,732.2 81.0,733.3 82.6,734.3 84.2,735.1 85.8,735.8 87.4,736.4 89.0,737.0 90.6,737.5 92.3,737.9 93.9,738.0 95.5,738.0 97.1,738.0 98.7,738.0 100.3,738.0 102.0,738.0 103.6,738.0 105.2,738.0 106.8,738.0 108.4,738.0 110.0,738.0 111.7,738.0 113.3,738.0 114.9,738.0 116.5,738.0 118.1,738.0 119.7,738.0 121.3,738.1 123.0,738.1 124.6,738.1 126.2,738.2 127.8,738.2 129.4,738.2 131.0,738.3 132.7,738.3 134.3,738.3 135.9,738.3 137.5,738.3 139.1,738.3 140.7,738.4 142.4,738.4 144.0,738.4 145.6,738.4 147.2,738.4 148.8,738.4 150.4,738.5 152.1,738.5 153.7,738.5 155.3,738.5 156.9,738.5 158.5,738.5 160.1,738.5 161.7,738.6 163.4,738.6 165.0,738.6 166.6,738.6 168.2,738.6 169.8,738.6 171.4,738.6 173.1,738.7 174.7,738.7 176.3,738.7 177.9,738.7 179.5,738.7 181.1,738.7 182.8,738.7 184.4,738.7 186.0,738.7 187.6,738.8 189.2,738.8 190.8,738.8 192.4,738.8 194.1,738.8 195.7,738.8 197.3,738.8 198.9,738.8 200.5,738.8 202.1,738.9 203.8,738.9 205.4,738.9 207.0,738.9 208.6,738.9 210.2,738.9 211.8,738.9 213.5,738.9 215.1,738.9 216.7,738.9 218.3,738.9 219.9,738.9 221.5,738.9 223.1,739.0 224.8,739.0 226.4,739.0 228.0,739.0 229.6,739.0 231.2,739.0 232.8,739.0 234.5,739.0 236.1,739.0 237.7,739.0 239.3,739.0 240.9,739.0 242.5,739.0 244.2,739.0 245.8,739.0 247.4,739.0 249.0,739.0" fill="none" stroke="#0000ff" stroke-width="1.50" stroke-dasharray="0.9,0.9"/>
<polyline points="24.4,704.0 26.0,709.1 27.6,714.6 29.2,719.7 30.9,724.9 32.5,730.3 34.1,734.2 35.7,736.5 37.3,737.6 38.9,737.9 40.6,738.0 42.2,737.6 43.8,737.1 45.4,736.2 47.0,734.9 48.6,733.4 50.3,731.7 51.9,730.1 53.5,728.8 55.1,727.6 56.7,726.7 58.3,725.8 59.9,725.1 61.6,724.4 63.2,724.0 64.8,723.5 66.4,723.1 68.0,722.8 69.6,722.8 71.3,723.0 72.9,723.3 74.5,723.6 76.1,724.0 77.7,724.5 79.3,725.1 81.0,725.8 82.6,726.5 84.2,727.1 85.8,727.6 87.4,728.1 89.0,728.6 90.6,729.0 92.3,729.5 93.9,730.0 95.5,730.5 97.1,731.0 98.7,731.6 100.3,732.1 102.0,732.6 103.6,732.9 105.2,733.2 106.8,733.4 108.4,733.5 110.0,733.7 111.7,733.8 113.3,733.9 114.9,734.1 116.5,734.2 118.1,734.3 119.7,734.4 121.3,734.5 123.0,734.6 124.6,734.7 126.2,734.7 127.8,734.8 129.4,734.9 131.0,735.0 132.7,735.0 134.3,735.1 135.9,735.2 137.5,735.3 139.1,735.3 140.7,735.4 142.4,735.5 144.0,735.5 145.6,735.6 147.2,735.7 148.8,735.8 150.4,735.8 152.1,735.9 153.7,736.0 155.3,736.0 156.9,736.1 158.5,736.2 160.1,736.2 161.7,736.3 163.4,736.4 165.0,736.4 166.6,736.5 168.2,736.5 169.8,736.6 171.4,736.6 173.1,736.7 174.7,736.8 176.3,736.8 177.9,736.9 179.5,736.9 181.1,736.9 182.8,737.0 184.4,737.0 186.0,737.1 187.6,737.1 189.2,737.2 190.8,737.2 192.4,737.2 194.1,737.3 195.7,737.3 197.3,737.3 198.9,737.3 200.5,737.4 202.1,737.4 203.8,737.4 205.4,737.5 207.0,737.5 208.6,737.5 210.2,737.6 211.8,737.6 213.5,737.6 215.1,737.6 216.7,737.7 218.3,737.7 219.9,737.7 221.5,737.7 223.1,737.8 224.8,737.8 226.4,737.8 228.0,737.8 229.6,737.9 231.2,737.9 232.8,737.9 234.5,737.9 236.1,737.9 237.7,737.9 239.3,737.9 240.9,738.0 242.5,738.0 244.2,738.0 245.8,738.0 247.4,738.0 249.0,738.0" fill="none" stroke="#000000" stroke-width="1.50" stroke-dasharray="3.2,1.6"/>
<polyline points="24.4,704.0 26.0,710.1 27.6,718.2 29.2,726.2 30.9,734.4 32.5,742.2 34.1,748.2 35.7,752.1 37.3,753.5 38.9,753.5 40.6,753.2 42.2,750.6 43.8,747.4 45.4,743.4 47.0,739.5 48.6,735.7 50.3,732.8 51.9,730.4 53.5,728.4 55.1,726.5 56.7,725.1 58.3,724.6 59.9,724.2 61.6,724.0 63.2,724.0 64.8,724.2 66.4,724.4 68.0,725.0 69.6,726.5 71.3,728.3 72.9,730.2 74.5,732.3 76.1,734.7 77.7,736.8 79.3,737.7 81.0,738.2 82.6,738.6 84.2,739.1 85.8,739.5 87.4,740.0 89.0,740.3 90.6,740.4 92.3,740.3 93.9,740.1 95.5,739.9 97.1,739.7 98.7,739.5 100.3,739.2 102.0,738.9 103.6,738.5 105.2,738.1 106.8,737.8 108.4,737.5 110.0,737.3 111.7,737.0 113.3,736.8 114.9,736.6 116.5,736.4 118.1,736.4 119.7,736.4 121.3,736.5 123.0,736.6 124.6,736.8 126.2,736.9 127.8,737.1 129.4,737.2 131.0,737.3 132.7,737.4 134.3,737.5 135.9,737.5 137.5,737.6 139.1,737.6 140.7,737.7 142.4,737.7 144.0,737.8 145.6,737.8 147.2,737.8 148.8,737.9 150.4,737.9 152.1,737.9 153.7,738.0 155.3,738.0 156.9,738.0 158.5,738.1 160.1,738.1 161.7,738.1 163.4,738.2 165.0,738.2 166.6,738.2 168.2,738.3 169.8,738.3 171.4,738.3 173.1,738.4 174.7,738.4 176.3,738.4 177.9,738.4 179.5,738.5 181.1,738.5 182.8,738.5 184.4,738.5 186.0,738.6 187.6,738.6 189.2,738.6 190.8,738.6 192.4,738.6 194.1,738.7 195.7,738.7 197.3,738.7 198.9,738.7 200.5,738.7 202.1,738.8 203.8,738.8 205.4,738.8 207.0,738.8 208.6,738.8 210.2,738.8 211.8,738.8 213.5,738.9 215.1,738.9 216.7,738.9 218.3,738.9 219.9,738.9 221.5,738.9 223.1,738.9 224.8,738.9 226.4,738.9 228.0,739.0 229.6,739.0 231.2,739.0 232.8,739.0 234.5,739.0 236.1,739.0 237.7,739.0 239.3,739.0 240.9,739.0 242.5,739.0 244.2,739.0 245.8,739.0 247.4,739.0 249.0,739.0" fill="none" stroke="#0000ff" stroke-width="1.50" stroke-dasharray="3.2,1.6"/>
<polyline points="24.4,704.0 26.0,704.0 27.6,704.0 29.2,704.5 30.9,705.3 32.5,706.3 34.1,707.8 35.7,709.6 37.3,711.3 38.9,713.0 40.6,714.6 42.2,716.2 43.8,717.5 45.4,718.8 47.0,720.0 48.6,721.1 50.3,722.1 51.9,722.9 53.5,723.7 55.1,724.4 56.7,724.9 58.3,725.3 59.9,725.7 61.6,725.9 63.2,726.2 64.8,726.4 66.4,726.5 68.0,726.5 69.6,726.5 71.3,726.5 72.9,726.5 74.5,726.4 76.1,726.2 77.7,726.0 79.3,726.0 81.0,726.0 82.6,726.0 84.2,726.0 85.8,726.1 87.4,726.2 89.0,726.3 90.6,726.5 92.3,726.8 93.9,727.0 95.5,727.2 97.1,727.5 98.7,727.9 100.3,728.2 102.0,728.6 103.6,728.9 105.2,729.2 106.8,729.6 108.4,730.0 110.0,730.3 111.7,730.6 113.3,730.9 114.9,731.1 116.5,731.3 118.1,731.4 119.7,731.6 121.3,731.7 123.0,731.9 124.6,732.1 126.2,732.3 127.8,732.6 129.4,732.9 131.0,733.1 132.7,733.4 134.3,733.5 135.9,733.6 137.5,733.8 139.1,733.9 140.7,734.0 142.4,734.1 144.0,734.2 145.6,734.3 147.2,734.4 148.8,734.4 150.4,734.5 152.1,734.6 153.7,734.7 155.3,734.7 156.9,734.8 158.5,734.9 160.1,734.9 161.7,735.0 163.4,735.1 165.0,735.1 166.6,735.2 168.2,735.2 169.8,735.3 171.4,735.3 173.1,735.4 174.7,735.4 176.3,735.5 177.9,735.5 179.5,735.6 181.1,735.6 182.8,735.7 184.4,735.7 186.0,735.8 187.6,735.9 189.2,735.9 190.8,736.0 192.4,736.0 194.1,736.1 195.7,736.2 197.3,736.2 198.9,736.3 200.5,736.3 202.1,736.4 203.8,736.5 205.4,736.5 207.0,736.6 208.6,736.6 210.2,736.7 211.8,736.8 213.5,736.8 215.1,736.9 216.7,736.9 218.3,737.0 219.9,737.0 221.5,737.1 223.1,737.2 224.8,737.2 226.4,737.3 228.0,737.3 229.6,737.4 231.2,737.4 232.8,737.5 234.5,737.5 236.1,737.6 237.7,737.6 239.3,737.7 240.9,737.7 242.5,737.8 244.2,737.9 245.8,737.9 247.4,738.0 249.0,738.0" fill="none" stroke="#000000" stroke-width="1.50" />
<polyline points="24.4,704.0 26.0,704.1 27.6,704.4 29.2,705.4 30.9,707.8 32.5,711.1 34.1,715.2 35.7,719.6 37.3,723.8 38.9,727.6 40.6,731.2 42.2,734.5 43.8,737.3 45.4,739.5 47.0,740.6 48.6,741.3 50.3,741.5 51.9,741.1 53.5,740.3 55.1,739.3 56.7,738.1 58.3,736.7 59.9,735.1 61.6,733.4 63.2,732.0 64.8,730.7 66.4,729.8 68.0,729.0 69.6,728.5 71.3,728.6 72.9,728.8 74.5,729.1 76.1,729.4 77.7,729.7 79.3,730.1 81.0,730.7 82.6,731.4 84.2,732.1 85.8,732.9 87.4,733.8 89.0,734.6 90.6,735.3 92.3,735.9 93.9,736.6 95.5,737.1 97.1,737.5 98.7,737.7 100.3,737.8 102.0,737.8 103.6,737.9 105.2,738.0 106.8,738.0 108.4,738.0 110.0,738.0 111.7,737.9 113.3,737.8 114.9,737.8 116.5,737.7 118.1,737.6 119.7,737.6 121.3,737.6 123.0,737.7 124.6,737.8 126.2,737.9 127.8,738.0 129.4,738.1 131.0,738.2 132.7,738.3 134.3,738.3 135.9,738.3 137.5,738.3 139.1,738.4 140.7,738.4 142.4,738.4 144.0,738.4 145.6,738.4 147.2,738.5 148.8,738.5 150.4,738.5 152.1,738.5 153.7,738.5 155.3,738.5 156.9,738.5 158.5,738.5 160.1,738.5 161.7,738.5 163.4,738.6 165.0,738.6 166.6,738.6 168.2,738.6 169.8,738.6 171.4,738.6 173.1,738.6 174.7,738.6 176.3,738.6 177.9,738.6 179.5,738.6 181.1,738.6 182.8,738.6 184.4,738.7 186.0,738.7 187.6,738.7 189.2,738.7 190.8,738.7 192.4,738.7 194.1,738.7 195.7,738.7 197.3,738.7 198.9,738.8 200.5,738.8 202.1,738.8 203.8,738.8 205.4,738.8 207.0,738.8 208.6,738.8 210.2,738.8 211.8,738.8 213.5,738.9 215.1,738.9 216.7,738.9 218.3,738.9 219.9,738.9 221.5,738.9 223.1,738.9 224.8,738.9 226.4,738.9 228.0,739.0 229.6,739.0 231.2,739.0 232.8,739.0 234.5,739.0 236.1,739.0 237.7,739.0 239.3,739.0 240.9,739.0 242.5,739.1 244.2,739.1 245.8,739.1 247.4,739.1 249.0,739.1" fill="none" stroke="#0000ff" stroke-width="1.50" />
</g>
<path d="M24.40 761.40V704.00H248.40" class="bx" stroke="#8c8c8c"/>
<path d="M248.40 704.00V761.40H24.40" class="bx" stroke="#b4b4b4"/>
<line x1="24.40" y1="761.40" x2="24.40" y2="759.40" class="tk"/>
<line x1="24.40" y1="704.00" x2="24.40" y2="706.00" class="tk"/>
<text x="24.40" y="768.00" class="tl" text-anchor="middle">0</text>
<line x1="61.73" y1="761.40" x2="61.73" y2="759.40" class="tk"/>
<line x1="61.73" y1="704.00" x2="61.73" y2="706.00" class="tk"/>
<text x="61.73" y="768.00" class="tl" text-anchor="middle">5</text>
<line x1="99.07" y1="761.40" x2="99.07" y2="759.40" class="tk"/>
<line x1="99.07" y1="704.00" x2="99.07" y2="706.00" class="tk"/>
<text x="99.07" y="768.00" class="tl" text-anchor="middle">10</text>
<line x1="136.40" y1="761.40" x2="136.40" y2="759.40" class="tk"/>
<line x1="136.40" y1="704.00" x2="136.40" y2="706.00" class="tk"/>
<text x="136.40" y="768.00" class="tl" text-anchor="middle">15</text>
<line x1="173.73" y1="761.40" x2="173.73" y2="759.40" class="tk"/>
<line x1="173.73" y1="704.00" x2="173.73" y2="706.00" class="tk"/>
<text x="173.73" y="768.00" class="tl" text-anchor="middle">20</text>
<line x1="211.07" y1="761.40" x2="211.07" y2="759.40" class="tk"/>
<line x1="211.07" y1="704.00" x2="211.07" y2="706.00" class="tk"/>
<text x="211.07" y="768.00" class="tl" text-anchor="middle">25</text>
<line x1="248.40" y1="761.40" x2="248.40" y2="759.40" class="tk"/>
<line x1="248.40" y1="704.00" x2="248.40" y2="706.00" class="tk"/>
<text x="248.40" y="768.00" class="tl" text-anchor="middle">30</text>
<line x1="24.40" y1="761.40" x2="26.40" y2="761.40" class="tk"/>
<line x1="248.40" y1="761.40" x2="246.40" y2="761.40" class="tk"/>
<text transform="translate(22.80,763.80) scale(0.87,1)" class="tl" text-anchor="end">-0.8</text>
<line x1="24.40" y1="747.05" x2="26.40" y2="747.05" class="tk"/>
<line x1="248.40" y1="747.05" x2="246.40" y2="747.05" class="tk"/>
<text transform="translate(22.80,749.45) scale(0.87,1)" class="tl" text-anchor="end">-0.6</text>
<line x1="24.40" y1="732.70" x2="26.40" y2="732.70" class="tk"/>
<line x1="248.40" y1="732.70" x2="246.40" y2="732.70" class="tk"/>
<text transform="translate(22.80,735.10) scale(0.87,1)" class="tl" text-anchor="end">-0.4</text>
<line x1="24.40" y1="718.35" x2="26.40" y2="718.35" class="tk"/>
<line x1="248.40" y1="718.35" x2="246.40" y2="718.35" class="tk"/>
<text transform="translate(22.80,720.75) scale(0.87,1)" class="tl" text-anchor="end">-0.2</text>
<line x1="24.40" y1="704.00" x2="26.40" y2="704.00" class="tk"/>
<line x1="248.40" y1="704.00" x2="246.40" y2="704.00" class="tk"/>
<text x="22.80" y="706.40" class="tl" text-anchor="end">0</text>
<text transform="translate(9.30,732.70) rotate(-90)" class="yl" text-anchor="middle">--&gt; d<tspan dy="1.6" font-size="4.2">pac</tspan><tspan dy="-1.6">(t)</tspan></text>
<text x="136.40" y="775.20" class="yl" text-anchor="middle">--&gt; Time t</text>
<rect x="215.10" y="706.30" width="28.70" height="13.60" class="lg"/>
<line x1="216.90" y1="710.00" x2="231.80" y2="710.00" stroke="#000000" stroke-width="1.5"/>
<text transform="translate(233.60,711.75) scale(0.86,1)" class="lt">m=1</text>
<line x1="216.90" y1="716.20" x2="231.80" y2="716.20" stroke="#0000ff" stroke-width="1.5"/>
<text transform="translate(233.60,717.95) scale(0.86,1)" class="lt">m=3</text>
<line x1="354.73" y1="545.10" x2="354.73" y2="602.20" class="gr"/>
<line x1="392.07" y1="545.10" x2="392.07" y2="602.20" class="gr"/>
<line x1="429.40" y1="545.10" x2="429.40" y2="602.20" class="gr"/>
<line x1="466.73" y1="545.10" x2="466.73" y2="602.20" class="gr"/>
<line x1="504.07" y1="545.10" x2="504.07" y2="602.20" class="gr"/>
<line x1="317.40" y1="583.17" x2="541.40" y2="583.17" class="gr"/>
<line x1="317.40" y1="564.13" x2="541.40" y2="564.13" class="gr"/>
<g clip-path="url(#c_G3R1)">
<polyline points="317.4,583.2 319.0,583.2 320.6,583.2 322.2,583.2 323.8,583.2 325.5,583.2 327.1,583.2 328.7,583.2 330.3,583.2 331.9,583.2 333.5,583.2 335.1,583.2 336.7,583.2 338.3,583.2 340.0,583.2 341.6,583.2 343.2,583.2 344.8,583.2 346.4,583.2 348.0,583.2 349.6,583.2 351.2,583.2 352.9,583.2 354.5,583.2 356.1,583.2 357.7,583.2 359.3,583.2 360.9,583.2 362.5,583.2 364.1,583.2 365.7,583.2 367.4,583.2 369.0,583.2 370.6,583.2 372.2,583.2 373.8,583.2 375.4,583.2 377.0,583.2 378.6,583.2 380.2,583.2 381.9,583.2 383.5,583.2 385.1,583.2 386.7,583.2 388.3,583.2 389.9,583.2 391.5,583.2 393.1,583.2 394.8,583.2 396.4,583.2 398.0,583.2 399.6,583.2 401.2,583.2 402.8,583.2 404.4,583.2 406.0,583.2 407.6,583.2 409.3,583.2 410.9,583.2 412.5,583.2 414.1,583.2 415.7,583.2 417.3,583.2 418.9,583.2 420.5,583.2 422.1,583.2 423.8,583.2 425.4,583.2 427.0,583.2 428.6,583.2 430.2,583.2 431.8,583.2 433.4,583.2 435.0,583.2 436.7,583.2 438.3,583.2 439.9,583.2 441.5,583.2 443.1,583.2 444.7,583.2 446.3,583.2 447.9,583.2 449.5,583.2 451.2,583.2 452.8,583.2 454.4,583.2 456.0,583.2 457.6,583.2 459.2,583.2 460.8,583.2 462.4,583.2 464.0,583.2 465.7,583.2 467.3,583.2 468.9,583.2 470.5,583.2 472.1,583.2 473.7,583.2 475.3,583.2 476.9,583.2 478.6,583.2 480.2,583.2 481.8,583.2 483.4,583.2 485.0,583.2 486.6,583.2 488.2,583.2 489.8,583.2 491.4,583.2 493.1,583.2 494.7,583.2 496.3,583.2 497.9,583.2 499.5,583.2 501.1,583.2 502.7,583.2 504.3,583.2 505.9,583.2 507.6,583.2 509.2,583.2 510.8,583.2 512.4,583.2 514.0,583.2 515.6,583.2 517.2,583.2 518.8,583.2 520.5,583.2 522.1,583.2 523.7,583.2 525.3,583.2 526.9,583.2 528.5,583.2 530.1,583.2 531.7,583.2 533.3,583.2 535.0,583.2 536.6,583.2 538.2,583.2 539.8,583.2 541.4,583.2" fill="none" stroke="#b0b0b0" stroke-width="0.80" />
<polyline points="317.4,583.2 319.0,583.2 320.6,583.2 322.2,583.2 323.8,583.2 325.5,583.2 327.1,583.2 328.7,583.2 330.3,583.2 331.9,583.2 333.5,583.2 335.1,583.2 336.7,585.1 338.3,587.4 340.0,588.8 341.6,588.2 343.2,586.7 344.8,583.9 346.4,580.2 348.0,576.0 349.6,572.0 351.2,568.5 352.9,565.6 354.5,562.9 356.1,560.4 357.7,557.9 359.3,555.4 360.9,553.1 362.5,551.0 364.1,549.3 365.7,547.6 367.4,546.3 369.0,545.5 370.6,545.2 372.2,545.0 373.8,545.1 375.4,545.8 377.0,546.9 378.6,548.2 380.2,549.7 381.9,551.7 383.5,553.9 385.1,556.1 386.7,558.3 388.3,560.5 389.9,562.7 391.5,564.6 393.1,566.4 394.8,568.1 396.4,569.5 398.0,570.6 399.6,571.6 401.2,572.4 402.8,573.0 404.4,573.3 406.0,573.7 407.6,573.9 409.3,574.0 410.9,573.9 412.5,573.7 414.1,573.4 415.7,573.2 417.3,573.0 418.9,572.8 420.5,572.7 422.1,572.5 423.8,572.4 425.4,572.2 427.0,572.0 428.6,571.7 430.2,571.3 431.8,570.8 433.4,570.5 435.0,570.3 436.7,570.3 438.3,570.5 439.9,570.7 441.5,570.9 443.1,571.2 444.7,571.5 446.3,571.9 447.9,572.4 449.5,573.0 451.2,573.5 452.8,574.1 454.4,574.5 456.0,575.0 457.6,575.5 459.2,575.9 460.8,576.3 462.4,576.7 464.0,576.9 465.7,577.1 467.3,577.3 468.9,577.4 470.5,577.5 472.1,577.6 473.7,577.7 475.3,577.8 476.9,577.9 478.6,578.0 480.2,578.0 481.8,578.1 483.4,578.1 485.0,578.2 486.6,578.2 488.2,578.3 489.8,578.3 491.4,578.4 493.1,578.4 494.7,578.4 496.3,578.5 497.9,578.5 499.5,578.6 501.1,578.6 502.7,578.7 504.3,578.8 505.9,578.9 507.6,579.0 509.2,579.0 510.8,579.1 512.4,579.2 514.0,579.3 515.6,579.4 517.2,579.5 518.8,579.6 520.5,579.7 522.1,579.8 523.7,579.8 525.3,579.9 526.9,580.0 528.5,580.1 530.1,580.2 531.7,580.2 533.3,580.3 535.0,580.4 536.6,580.5 538.2,580.5 539.8,580.6 541.4,580.7" fill="none" stroke="#000000" stroke-width="1.50" />
<polyline points="317.4,583.2 319.0,583.2 320.6,583.2 322.2,583.2 323.8,583.2 325.5,583.2 327.1,583.2 328.7,583.2 330.3,583.2 331.9,583.2 333.5,583.2 335.1,583.2 336.7,585.5 338.3,588.5 340.0,590.8 341.6,590.5 343.2,588.8 344.8,585.8 346.4,582.0 348.0,577.7 349.6,573.3 351.2,568.9 352.9,564.9 354.5,561.1 356.1,557.9 357.7,555.4 359.3,553.6 360.9,552.5 362.5,552.2 364.1,552.5 365.7,553.8 367.4,555.7 369.0,558.4 370.6,561.4 372.2,564.3 373.8,567.0 375.4,569.7 377.0,572.6 378.6,574.8 380.2,576.5 381.9,577.9 383.5,579.0 385.1,579.8 386.7,580.0 388.3,580.1 389.9,580.2 391.5,580.2 393.1,580.0 394.8,579.6 396.4,579.2 398.0,578.7 399.6,578.1 401.2,577.5 402.8,577.0 404.4,576.7 406.0,576.5 407.6,576.2 409.3,576.1 410.9,576.0 412.5,576.0 414.1,576.2 415.7,576.4 417.3,576.7 418.9,577.0 420.5,577.4 422.1,578.0 423.8,578.6 425.4,579.3 427.0,579.7 428.6,580.0 430.2,580.3 431.8,580.6 433.4,580.8 435.0,581.0 436.7,581.1 438.3,581.1 439.9,581.1 441.5,581.1 443.1,581.1 444.7,581.1 446.3,581.1 447.9,581.1 449.5,581.1 451.2,581.0 452.8,580.9 454.4,580.8 456.0,580.8 457.6,580.7 459.2,580.7 460.8,580.8 462.4,580.9 464.0,581.0 465.7,581.2 467.3,581.3 468.9,581.4 470.5,581.5 472.1,581.6 473.7,581.7 475.3,581.8 476.9,581.9 478.6,582.0 480.2,582.1 481.8,582.1 483.4,582.2 485.0,582.3 486.6,582.3 488.2,582.4 489.8,582.4 491.4,582.4 493.1,582.4 494.7,582.5 496.3,582.5 497.9,582.5 499.5,582.5 501.1,582.6 502.7,582.6 504.3,582.6 505.9,582.6 507.6,582.6 509.2,582.6 510.8,582.7 512.4,582.7 514.0,582.7 515.6,582.7 517.2,582.7 518.8,582.7 520.5,582.7 522.1,582.7 523.7,582.8 525.3,582.8 526.9,582.8 528.5,582.8 530.1,582.8 531.7,582.8 533.3,582.8 535.0,582.8 536.6,582.8 538.2,582.8 539.8,582.8 541.4,582.8" fill="none" stroke="#0000ff" stroke-width="1.50" />
<polyline points="317.4,583.2 319.0,583.2 320.6,583.2 322.2,583.2 323.8,583.2 325.5,583.2 327.1,583.2 328.7,583.2 330.3,583.2 331.9,583.2 333.5,583.2 335.1,583.2 336.7,585.1 338.3,587.5 340.0,589.0 341.6,588.3 343.2,586.7 344.8,583.9 346.4,580.4 348.0,576.5 349.6,572.8 351.2,569.6 352.9,566.9 354.5,564.6 356.1,562.3 357.7,559.9 359.3,557.3 360.9,554.8 362.5,552.6 364.1,550.7 365.7,549.0 367.4,547.6 369.0,546.8 370.6,546.5 372.2,546.3 373.8,546.4 375.4,547.0 377.0,547.9 378.6,549.1 380.2,550.7 381.9,553.0 383.5,555.7 385.1,558.1 386.7,560.4 388.3,562.6 389.9,564.7 391.5,566.6 393.1,568.4 394.8,570.1 396.4,571.5 398.0,572.6 399.6,573.6 401.2,574.5 402.8,575.3 404.4,575.8 406.0,576.2 407.6,576.6 409.3,576.8 410.9,577.0 412.5,577.3 414.1,577.6 415.7,577.9 417.3,578.3 418.9,578.6 420.5,579.0 422.1,579.4 423.8,579.7 425.4,580.0 427.0,580.3 428.6,580.6 430.2,580.8 431.8,581.1 433.4,581.3 435.0,581.5 436.7,581.7 438.3,581.9 439.9,582.1 441.5,582.2 443.1,582.4 444.7,582.5 446.3,582.7 447.9,582.8 449.5,582.9 451.2,583.0 452.8,583.1 454.4,583.3 456.0,583.4 457.6,583.5 459.2,583.6 460.8,583.7 462.4,583.7 464.0,583.8 465.7,583.9 467.3,583.9 468.9,583.9 470.5,583.9 472.1,583.9 473.7,583.8 475.3,583.8 476.9,583.8 478.6,583.7 480.2,583.7 481.8,583.6 483.4,583.6 485.0,583.5 486.6,583.5 488.2,583.4 489.8,583.4 491.4,583.4 493.1,583.3 494.7,583.3 496.3,583.3 497.9,583.3 499.5,583.2 501.1,583.2 502.7,583.2 504.3,583.2 505.9,583.1 507.6,583.1 509.2,583.1 510.8,583.1 512.4,583.1 514.0,583.0 515.6,583.0 517.2,583.0 518.8,583.0 520.5,583.0 522.1,582.9 523.7,582.9 525.3,582.9 526.9,582.9 528.5,582.9 530.1,582.9 531.7,582.8 533.3,582.8 535.0,582.8 536.6,582.8 538.2,582.8 539.8,582.8 541.4,582.8" fill="none" stroke="#ff00ff" stroke-width="1.50" />
</g>
<path d="M317.40 602.20V545.10H541.40" class="bx" stroke="#8c8c8c"/>
<path d="M541.40 545.10V602.20H317.40" class="bx" stroke="#b4b4b4"/>
<line x1="317.40" y1="602.20" x2="317.40" y2="600.20" class="tk"/>
<line x1="317.40" y1="545.10" x2="317.40" y2="547.10" class="tk"/>
<text x="317.40" y="608.80" class="tl" text-anchor="middle">0</text>
<line x1="354.73" y1="602.20" x2="354.73" y2="600.20" class="tk"/>
<line x1="354.73" y1="545.10" x2="354.73" y2="547.10" class="tk"/>
<text x="354.73" y="608.80" class="tl" text-anchor="middle">5</text>
<line x1="392.07" y1="602.20" x2="392.07" y2="600.20" class="tk"/>
<line x1="392.07" y1="545.10" x2="392.07" y2="547.10" class="tk"/>
<text x="392.07" y="608.80" class="tl" text-anchor="middle">10</text>
<line x1="429.40" y1="602.20" x2="429.40" y2="600.20" class="tk"/>
<line x1="429.40" y1="545.10" x2="429.40" y2="547.10" class="tk"/>
<text x="429.40" y="608.80" class="tl" text-anchor="middle">15</text>
<line x1="466.73" y1="602.20" x2="466.73" y2="600.20" class="tk"/>
<line x1="466.73" y1="545.10" x2="466.73" y2="547.10" class="tk"/>
<text x="466.73" y="608.80" class="tl" text-anchor="middle">20</text>
<line x1="504.07" y1="602.20" x2="504.07" y2="600.20" class="tk"/>
<line x1="504.07" y1="545.10" x2="504.07" y2="547.10" class="tk"/>
<text x="504.07" y="608.80" class="tl" text-anchor="middle">25</text>
<line x1="541.40" y1="602.20" x2="541.40" y2="600.20" class="tk"/>
<line x1="541.40" y1="545.10" x2="541.40" y2="547.10" class="tk"/>
<text x="541.40" y="608.80" class="tl" text-anchor="middle">30</text>
<line x1="317.40" y1="602.20" x2="319.40" y2="602.20" class="tk"/>
<line x1="541.40" y1="602.20" x2="539.40" y2="602.20" class="tk"/>
<text transform="translate(315.80,604.60) scale(0.87,1)" class="tl" text-anchor="end">-0.5</text>
<line x1="317.40" y1="583.17" x2="319.40" y2="583.17" class="tk"/>
<line x1="541.40" y1="583.17" x2="539.40" y2="583.17" class="tk"/>
<text x="315.80" y="585.57" class="tl" text-anchor="end">0</text>
<line x1="317.40" y1="564.13" x2="319.40" y2="564.13" class="tk"/>
<line x1="541.40" y1="564.13" x2="539.40" y2="564.13" class="tk"/>
<text transform="translate(315.80,566.53) scale(0.87,1)" class="tl" text-anchor="end">0.5</text>
<line x1="317.40" y1="545.10" x2="319.40" y2="545.10" class="tk"/>
<line x1="541.40" y1="545.10" x2="539.40" y2="545.10" class="tk"/>
<text x="315.80" y="547.50" class="tl" text-anchor="end">1</text>
<text transform="translate(302.70,573.65) rotate(-90)" class="yl" text-anchor="middle">--&gt; y<tspan dy="1.6" font-size="4.2">g</tspan><tspan dy="-1.6">(t)</tspan></text>
<rect x="508.30" y="545.20" width="28.60" height="25.10" class="lg"/>
<line x1="510.10" y1="549.40" x2="525.00" y2="549.40" stroke="#9a9a9a" stroke-width="0.9" stroke-dasharray="0.7,0.5"/>
<text transform="translate(526.80,551.15) scale(0.86,1)" class="lt">w</text>
<line x1="510.10" y1="555.35" x2="525.00" y2="555.35" stroke="#000000" stroke-width="1.5"/>
<text transform="translate(526.80,557.10) scale(0.86,1)" class="lt">m=1</text>
<line x1="510.10" y1="561.30" x2="525.00" y2="561.30" stroke="#0000ff" stroke-width="1.5"/>
<text transform="translate(526.80,563.05) scale(0.86,1)" class="lt">m=3</text>
<line x1="510.10" y1="567.25" x2="525.00" y2="567.25" stroke="#ff00ff" stroke-width="1.5"/>
<text transform="translate(526.80,569.00) scale(0.86,1)" class="lt">AV</text>
<line x1="354.73" y1="624.10" x2="354.73" y2="681.50" class="gr"/>
<line x1="392.07" y1="624.10" x2="392.07" y2="681.50" class="gr"/>
<line x1="429.40" y1="624.10" x2="429.40" y2="681.50" class="gr"/>
<line x1="466.73" y1="624.10" x2="466.73" y2="681.50" class="gr"/>
<line x1="504.07" y1="624.10" x2="504.07" y2="681.50" class="gr"/>
<line x1="317.40" y1="667.15" x2="541.40" y2="667.15" class="gr"/>
<line x1="317.40" y1="652.80" x2="541.40" y2="652.80" class="gr"/>
<line x1="317.40" y1="638.45" x2="541.40" y2="638.45" class="gr"/>
<g clip-path="url(#c_G3R2)">
<polyline points="317.4,638.6 319.0,638.6 320.6,638.6 322.2,638.6 323.8,638.6 325.5,638.6 327.1,638.6 328.7,638.6 330.3,638.6 331.9,638.6 333.5,638.6 335.1,638.6 336.7,635.9 338.3,634.3 340.0,633.8 341.6,633.6 343.2,634.4 344.8,636.7 346.4,639.2 348.0,642.2 349.6,645.1 351.2,647.8 352.9,650.5 354.5,653.1 356.1,655.7 357.7,658.3 359.3,660.7 360.9,662.9 362.5,664.8 364.1,666.6 365.7,668.1 367.4,669.2 369.0,670.2 370.6,671.0 372.2,671.5 373.8,671.6 375.4,671.5 377.0,671.3 378.6,671.1 380.2,670.7 381.9,670.2 383.5,669.6 385.1,668.8 386.7,668.1 388.3,667.4 389.9,666.7 391.5,666.0 393.1,665.2 394.8,664.5 396.4,663.7 398.0,662.9 399.6,662.1 401.2,661.4 402.8,661.0 404.4,660.9 406.0,660.8 407.6,660.7 409.3,660.6 410.9,660.6 412.5,660.7 414.1,660.9 415.7,661.2 417.3,661.6 418.9,662.0 420.5,662.3 422.1,662.8 423.8,663.2 425.4,663.6 427.0,664.0 428.6,664.4 430.2,664.8 431.8,665.2 433.4,665.5 435.0,665.8 436.7,666.0 438.3,666.0 439.9,666.0 441.5,666.0 443.1,666.0 444.7,666.0 446.3,666.0 447.9,666.0 449.5,666.0 451.2,665.9 452.8,665.9 454.4,665.8 456.0,665.7 457.6,665.6 459.2,665.4 460.8,665.3 462.4,665.2 464.0,665.1 465.7,665.1 467.3,665.0 468.9,665.0 470.5,665.0 472.1,665.0 473.7,665.0 475.3,665.0 476.9,665.0 478.6,665.0 480.2,665.0 481.8,665.1 483.4,665.2 485.0,665.3 486.6,665.4 488.2,665.5 489.8,665.6 491.4,665.7 493.1,665.8 494.7,665.8 496.3,665.9 497.9,666.0 499.5,666.1 501.1,666.2 502.7,666.2 504.3,666.3 505.9,666.3 507.6,666.4 509.2,666.4 510.8,666.4 512.4,666.4 514.0,666.4 515.6,666.4 517.2,666.4 518.8,666.4 520.5,666.4 522.1,666.4 523.7,666.4 525.3,666.4 526.9,666.4 528.5,666.4 530.1,666.4 531.7,666.4 533.3,666.4 535.0,666.4 536.6,666.4 538.2,666.4 539.8,666.4 541.4,666.4" fill="none" stroke="#000000" stroke-width="1.50" />
<polyline points="317.4,638.6 319.0,638.6 320.6,638.6 322.2,638.6 323.8,638.6 325.5,638.6 327.1,638.6 328.7,638.6 330.3,638.6 331.9,638.6 333.5,638.6 335.1,638.6 336.7,635.9 338.3,634.3 340.0,633.6 341.6,633.9 343.2,634.6 344.8,636.4 346.4,639.0 348.0,641.7 349.6,644.6 351.2,647.8 352.9,650.7 354.5,653.6 356.1,656.4 357.7,659.1 359.3,661.4 360.9,663.6 362.5,665.6 364.1,667.3 365.7,668.5 367.4,669.6 369.0,670.5 370.6,671.0 372.2,671.0 373.8,671.0 375.4,671.0 377.0,671.0 378.6,670.8 380.2,670.5 381.9,670.0 383.5,669.4 385.1,669.0 386.7,668.6 388.3,668.1 389.9,667.7 391.5,667.3 393.1,667.0 394.8,666.7 396.4,666.4 398.0,666.2 399.6,666.0 401.2,666.0 402.8,666.0 404.4,666.0 406.0,666.0 407.6,666.0 409.3,666.0 410.9,666.0 412.5,666.0 414.1,666.1 415.7,666.3 417.3,666.5 418.9,666.7 420.5,666.9 422.1,667.1 423.8,667.3 425.4,667.4 427.0,667.5 428.6,667.5 430.2,667.5 431.8,667.6 433.4,667.6 435.0,667.6 436.7,667.6 438.3,667.6 439.9,667.6 441.5,667.6 443.1,667.5 444.7,667.5 446.3,667.4 447.9,667.3 449.5,667.3 451.2,667.2 452.8,667.1 454.4,667.1 456.0,667.0 457.6,667.0 459.2,667.0 460.8,667.0 462.4,666.9 464.0,666.9 465.7,666.9 467.3,666.9 468.9,666.9 470.5,666.8 472.1,666.8 473.7,666.8 475.3,666.8 476.9,666.8 478.6,666.8 480.2,666.7 481.8,666.7 483.4,666.7 485.0,666.7 486.6,666.7 488.2,666.7 489.8,666.6 491.4,666.6 493.1,666.6 494.7,666.6 496.3,666.6 497.9,666.6 499.5,666.6 501.1,666.6 502.7,666.5 504.3,666.5 505.9,666.5 507.6,666.5 509.2,666.5 510.8,666.5 512.4,666.5 514.0,666.5 515.6,666.5 517.2,666.5 518.8,666.5 520.5,666.4 522.1,666.4 523.7,666.4 525.3,666.4 526.9,666.4 528.5,666.4 530.1,666.4 531.7,666.4 533.3,666.4 535.0,666.4 536.6,666.4 538.2,666.4 539.8,666.4 541.4,666.4" fill="none" stroke="#ff00ff" stroke-width="1.50" />
<polyline points="317.4,638.6 319.0,638.6 320.6,638.6 322.2,638.6 323.8,638.6 325.5,638.6 327.1,638.6 328.7,638.6 330.3,638.6 331.9,638.6 333.5,638.6 335.1,638.4 336.7,628.7 338.3,625.1 340.0,625.5 341.6,628.2 343.2,633.1 344.8,639.0 346.4,645.7 348.0,651.8 349.6,657.5 351.2,662.7 352.9,667.6 354.5,671.9 356.1,675.1 357.7,677.8 359.3,679.1 360.9,679.7 362.5,680.0 364.1,679.6 365.7,678.3 367.4,676.6 369.0,674.3 370.6,671.6 372.2,669.2 373.8,666.8 375.4,664.6 377.0,663.0 378.6,661.8 380.2,660.8 381.9,660.2 383.5,660.0 385.1,660.2 386.7,660.5 388.3,660.8 389.9,661.3 391.5,662.0 393.1,662.9 394.8,663.8 396.4,664.7 398.0,665.4 399.6,666.2 401.2,666.9 402.8,667.5 404.4,667.9 406.0,668.1 407.6,668.2 409.3,668.3 410.9,668.4 412.5,668.4 414.1,668.4 415.7,668.3 417.3,668.1 418.9,667.9 420.5,667.7 422.1,667.3 423.8,666.8 425.4,666.2 427.0,666.0 428.6,666.0 430.2,666.1 431.8,666.1 433.4,666.2 435.0,666.3 436.7,666.4 438.3,666.4 439.9,666.5 441.5,666.5 443.1,666.6 444.7,666.6 446.3,666.6 447.9,666.7 449.5,666.7 451.2,666.7 452.8,666.8 454.4,666.8 456.0,666.8 457.6,666.8 459.2,666.8 460.8,666.8 462.4,666.8 464.0,666.8 465.7,666.8 467.3,666.8 468.9,666.8 470.5,666.8 472.1,666.8 473.7,666.8 475.3,666.8 476.9,666.8 478.6,666.8 480.2,666.8 481.8,666.8 483.4,666.8 485.0,666.8 486.6,666.8 488.2,666.8 489.8,666.8 491.4,666.8 493.1,666.8 494.7,666.8 496.3,666.8 497.9,666.8 499.5,666.8 501.1,666.7 502.7,666.7 504.3,666.7 505.9,666.7 507.6,666.7 509.2,666.7 510.8,666.7 512.4,666.7 514.0,666.7 515.6,666.7 517.2,666.7 518.8,666.6 520.5,666.6 522.1,666.6 523.7,666.6 525.3,666.6 526.9,666.6 528.5,666.6 530.1,666.5 531.7,666.5 533.3,666.5 535.0,666.5 536.6,666.5 538.2,666.4 539.8,666.4 541.4,666.4" fill="none" stroke="#0000ff" stroke-width="1.50" />
</g>
<path d="M317.40 681.50V624.10H541.40" class="bx" stroke="#8c8c8c"/>
<path d="M541.40 624.10V681.50H317.40" class="bx" stroke="#b4b4b4"/>
<line x1="317.40" y1="681.50" x2="317.40" y2="679.50" class="tk"/>
<line x1="317.40" y1="624.10" x2="317.40" y2="626.10" class="tk"/>
<text x="317.40" y="688.10" class="tl" text-anchor="middle">0</text>
<line x1="354.73" y1="681.50" x2="354.73" y2="679.50" class="tk"/>
<line x1="354.73" y1="624.10" x2="354.73" y2="626.10" class="tk"/>
<text x="354.73" y="688.10" class="tl" text-anchor="middle">5</text>
<line x1="392.07" y1="681.50" x2="392.07" y2="679.50" class="tk"/>
<line x1="392.07" y1="624.10" x2="392.07" y2="626.10" class="tk"/>
<text x="392.07" y="688.10" class="tl" text-anchor="middle">10</text>
<line x1="429.40" y1="681.50" x2="429.40" y2="679.50" class="tk"/>
<line x1="429.40" y1="624.10" x2="429.40" y2="626.10" class="tk"/>
<text x="429.40" y="688.10" class="tl" text-anchor="middle">15</text>
<line x1="466.73" y1="681.50" x2="466.73" y2="679.50" class="tk"/>
<line x1="466.73" y1="624.10" x2="466.73" y2="626.10" class="tk"/>
<text x="466.73" y="688.10" class="tl" text-anchor="middle">20</text>
<line x1="504.07" y1="681.50" x2="504.07" y2="679.50" class="tk"/>
<line x1="504.07" y1="624.10" x2="504.07" y2="626.10" class="tk"/>
<text x="504.07" y="688.10" class="tl" text-anchor="middle">25</text>
<line x1="541.40" y1="681.50" x2="541.40" y2="679.50" class="tk"/>
<line x1="541.40" y1="624.10" x2="541.40" y2="626.10" class="tk"/>
<text x="541.40" y="688.10" class="tl" text-anchor="middle">30</text>
<line x1="317.40" y1="681.50" x2="319.40" y2="681.50" class="tk"/>
<line x1="541.40" y1="681.50" x2="539.40" y2="681.50" class="tk"/>
<text transform="translate(315.80,683.90) scale(0.87,1)" class="tl" text-anchor="end">-1.5</text>
<line x1="317.40" y1="667.15" x2="319.40" y2="667.15" class="tk"/>
<line x1="541.40" y1="667.15" x2="539.40" y2="667.15" class="tk"/>
<text x="315.80" y="669.55" class="tl" text-anchor="end">-1</text>
<line x1="317.40" y1="652.80" x2="319.40" y2="652.80" class="tk"/>
<line x1="541.40" y1="652.80" x2="539.40" y2="652.80" class="tk"/>
<text transform="translate(315.80,655.20) scale(0.87,1)" class="tl" text-anchor="end">-0.5</text>
<line x1="317.40" y1="638.45" x2="319.40" y2="638.45" class="tk"/>
<line x1="541.40" y1="638.45" x2="539.40" y2="638.45" class="tk"/>
<text x="315.80" y="640.85" class="tl" text-anchor="end">0</text>
<line x1="317.40" y1="624.10" x2="319.40" y2="624.10" class="tk"/>
<line x1="541.40" y1="624.10" x2="539.40" y2="624.10" class="tk"/>
<text transform="translate(315.80,626.50) scale(0.87,1)" class="tl" text-anchor="end">0.5</text>
<text transform="translate(302.70,652.80) rotate(-90)" class="yl" text-anchor="middle">--&gt; u<tspan dy="1.6" font-size="4.2">g</tspan><tspan dy="-1.6">(t)</tspan></text>
<rect x="508.30" y="628.40" width="28.60" height="19.80" class="lg"/>
<line x1="510.10" y1="632.10" x2="525.00" y2="632.10" stroke="#000000" stroke-width="1.5"/>
<text transform="translate(526.80,633.85) scale(0.86,1)" class="lt">m=1</text>
<line x1="510.10" y1="638.30" x2="525.00" y2="638.30" stroke="#0000ff" stroke-width="1.5"/>
<text transform="translate(526.80,640.05) scale(0.86,1)" class="lt">m=3</text>
<line x1="510.10" y1="644.50" x2="525.00" y2="644.50" stroke="#ff00ff" stroke-width="1.5"/>
<text transform="translate(526.80,646.25) scale(0.86,1)" class="lt">AV</text>
<line x1="354.73" y1="704.00" x2="354.73" y2="761.00" class="gr"/>
<line x1="392.07" y1="704.00" x2="392.07" y2="761.00" class="gr"/>
<line x1="429.40" y1="704.00" x2="429.40" y2="761.00" class="gr"/>
<line x1="466.73" y1="704.00" x2="466.73" y2="761.00" class="gr"/>
<line x1="504.07" y1="704.00" x2="504.07" y2="761.00" class="gr"/>
<line x1="317.40" y1="746.75" x2="541.40" y2="746.75" class="gr"/>
<line x1="317.40" y1="732.50" x2="541.40" y2="732.50" class="gr"/>
<line x1="317.40" y1="718.25" x2="541.40" y2="718.25" class="gr"/>
<g clip-path="url(#c_G3R3)">
<polyline points="317.4,746.6 319.0,746.6 320.6,746.6 322.2,746.6 323.8,746.6 325.5,746.6 327.1,746.6 328.7,746.6 330.3,746.6 331.9,746.6 333.5,746.6 335.1,746.6 336.7,746.8 338.3,747.6 340.0,748.1 341.6,748.6 343.2,749.2 344.8,749.6 346.4,749.1 348.0,747.9 349.6,746.4 351.2,744.7 352.9,742.7 354.5,740.7 356.1,738.6 357.7,736.5 359.3,734.3 360.9,732.1 362.5,729.9 364.1,727.7 365.7,725.5 367.4,723.6 369.0,721.8 370.6,720.0 372.2,718.6 373.8,717.5 375.4,716.4 377.0,715.5 378.6,715.0 380.2,715.0 381.9,715.2 383.5,715.4 385.1,715.6 386.7,716.1 388.3,716.7 389.9,717.5 391.5,718.2 393.1,719.1 394.8,719.9 396.4,720.7 398.0,721.4 399.6,722.0 401.2,722.6 402.8,723.1 404.4,723.5 406.0,723.8 407.6,724.0 409.3,724.2 410.9,724.3 412.5,724.4 414.1,724.4 415.7,724.3 417.3,724.1 418.9,723.9 420.5,723.7 422.1,723.4 423.8,722.9 425.4,722.4 427.0,722.0 428.6,721.6 430.2,721.3 431.8,720.9 433.4,720.6 435.0,720.3 436.7,720.0 438.3,719.8 439.9,719.5 441.5,719.2 443.1,719.0 444.7,718.8 446.3,718.7 447.9,718.6 449.5,718.6 451.2,718.6 452.8,718.6 454.4,718.7 456.0,718.7 457.6,718.8 459.2,718.8 460.8,719.0 462.4,719.2 464.0,719.5 465.7,719.7 467.3,719.8 468.9,719.9 470.5,719.9 472.1,719.9 473.7,719.9 475.3,719.9 476.9,719.8 478.6,719.8 480.2,719.8 481.8,719.7 483.4,719.6 485.0,719.5 486.6,719.4 488.2,719.3 489.8,719.2 491.4,719.1 493.1,719.0 494.7,719.0 496.3,718.9 497.9,718.8 499.5,718.7 501.1,718.6 502.7,718.6 504.3,718.5 505.9,718.5 507.6,718.4 509.2,718.4 510.8,718.4 512.4,718.4 514.0,718.4 515.6,718.4 517.2,718.4 518.8,718.4 520.5,718.4 522.1,718.4 523.7,718.4 525.3,718.4 526.9,718.4 528.5,718.4 530.1,718.4 531.7,718.4 533.3,718.4 535.0,718.4 536.6,718.4 538.2,718.4 539.8,718.4 541.4,718.4" fill="none" stroke="#000000" stroke-width="1.50" />
<polyline points="317.4,746.6 319.0,746.6 320.6,746.6 322.2,746.6 323.8,746.6 325.5,746.6 327.1,746.6 328.7,746.6 330.3,746.6 331.9,746.6 333.5,746.6 335.1,746.6 336.7,747.9 338.3,752.6 340.0,755.3 341.6,755.8 343.2,753.6 344.8,750.0 346.4,744.1 348.0,738.4 349.6,732.6 351.2,727.3 352.9,722.4 354.5,718.2 356.1,714.7 357.7,711.8 359.3,709.7 360.9,708.1 362.5,706.8 364.1,706.4 365.7,706.8 367.4,707.8 369.0,709.0 370.6,710.5 372.2,712.6 373.8,714.8 375.4,716.8 377.0,718.9 378.6,720.7 380.2,722.0 381.9,723.1 383.5,723.9 385.1,724.4 386.7,724.7 388.3,724.9 389.9,725.0 391.5,725.0 393.1,724.6 394.8,724.0 396.4,723.3 398.0,722.6 399.6,721.8 401.2,720.9 402.8,720.1 404.4,719.3 406.0,718.5 407.6,717.9 409.3,717.6 410.9,717.4 412.5,717.2 414.1,717.1 415.7,717.0 417.3,717.0 418.9,717.1 420.5,717.4 422.1,717.8 423.8,718.1 425.4,718.5 427.0,718.8 428.6,719.1 430.2,719.3 431.8,719.5 433.4,719.6 435.0,719.6 436.7,719.5 438.3,719.3 439.9,719.1 441.5,719.0 443.1,718.8 444.7,718.7 446.3,718.6 447.9,718.5 449.5,718.3 451.2,718.2 452.8,718.1 454.4,718.0 456.0,717.9 457.6,717.9 459.2,717.9 460.8,717.9 462.4,717.9 464.0,718.0 465.7,718.0 467.3,718.1 468.9,718.2 470.5,718.2 472.1,718.3 473.7,718.3 475.3,718.4 476.9,718.4 478.6,718.4 480.2,718.4 481.8,718.4 483.4,718.4 485.0,718.4 486.6,718.4 488.2,718.4 489.8,718.4 491.4,718.4 493.1,718.4 494.7,718.4 496.3,718.4 497.9,718.4 499.5,718.4 501.1,718.4 502.7,718.4 504.3,718.4 505.9,718.4 507.6,718.4 509.2,718.4 510.8,718.4 512.4,718.4 514.0,718.4 515.6,718.4 517.2,718.4 518.8,718.4 520.5,718.4 522.1,718.4 523.7,718.4 525.3,718.4 526.9,718.4 528.5,718.4 530.1,718.4 531.7,718.4 533.3,718.4 535.0,718.4 536.6,718.4 538.2,718.4 539.8,718.4 541.4,718.4" fill="none" stroke="#0000ff" stroke-width="1.50" />
</g>
<path d="M317.40 761.00V704.00H541.40" class="bx" stroke="#8c8c8c"/>
<path d="M541.40 704.00V761.00H317.40" class="bx" stroke="#b4b4b4"/>
<line x1="317.40" y1="761.00" x2="317.40" y2="759.00" class="tk"/>
<line x1="317.40" y1="704.00" x2="317.40" y2="706.00" class="tk"/>
<text x="317.40" y="767.60" class="tl" text-anchor="middle">0</text>
<line x1="354.73" y1="761.00" x2="354.73" y2="759.00" class="tk"/>
<line x1="354.73" y1="704.00" x2="354.73" y2="706.00" class="tk"/>
<text x="354.73" y="767.60" class="tl" text-anchor="middle">5</text>
<line x1="392.07" y1="761.00" x2="392.07" y2="759.00" class="tk"/>
<line x1="392.07" y1="704.00" x2="392.07" y2="706.00" class="tk"/>
<text x="392.07" y="767.60" class="tl" text-anchor="middle">10</text>
<line x1="429.40" y1="761.00" x2="429.40" y2="759.00" class="tk"/>
<line x1="429.40" y1="704.00" x2="429.40" y2="706.00" class="tk"/>
<text x="429.40" y="767.60" class="tl" text-anchor="middle">15</text>
<line x1="466.73" y1="761.00" x2="466.73" y2="759.00" class="tk"/>
<line x1="466.73" y1="704.00" x2="466.73" y2="706.00" class="tk"/>
<text x="466.73" y="767.60" class="tl" text-anchor="middle">20</text>
<line x1="504.07" y1="761.00" x2="504.07" y2="759.00" class="tk"/>
<line x1="504.07" y1="704.00" x2="504.07" y2="706.00" class="tk"/>
<text x="504.07" y="767.60" class="tl" text-anchor="middle">25</text>
<line x1="541.40" y1="761.00" x2="541.40" y2="759.00" class="tk"/>
<line x1="541.40" y1="704.00" x2="541.40" y2="706.00" class="tk"/>
<text x="541.40" y="767.60" class="tl" text-anchor="middle">30</text>
<line x1="317.40" y1="761.00" x2="319.40" y2="761.00" class="tk"/>
<line x1="541.40" y1="761.00" x2="539.40" y2="761.00" class="tk"/>
<text transform="translate(315.80,763.40) scale(0.87,1)" class="tl" text-anchor="end">-0.5</text>
<line x1="317.40" y1="746.75" x2="319.40" y2="746.75" class="tk"/>
<line x1="541.40" y1="746.75" x2="539.40" y2="746.75" class="tk"/>
<text x="315.80" y="749.15" class="tl" text-anchor="end">0</text>
<line x1="317.40" y1="732.50" x2="319.40" y2="732.50" class="tk"/>
<line x1="541.40" y1="732.50" x2="539.40" y2="732.50" class="tk"/>
<text transform="translate(315.80,734.90) scale(0.87,1)" class="tl" text-anchor="end">0.5</text>
<line x1="317.40" y1="718.25" x2="319.40" y2="718.25" class="tk"/>
<line x1="541.40" y1="718.25" x2="539.40" y2="718.25" class="tk"/>
<text x="315.80" y="720.65" class="tl" text-anchor="end">1</text>
<line x1="317.40" y1="704.00" x2="319.40" y2="704.00" class="tk"/>
<line x1="541.40" y1="704.00" x2="539.40" y2="704.00" class="tk"/>
<text transform="translate(315.80,706.40) scale(0.87,1)" class="tl" text-anchor="end">1.5</text>
<text transform="translate(302.70,732.50) rotate(-90)" class="yl" text-anchor="middle">--&gt; d<tspan dy="1.6" font-size="4.2">gac</tspan><tspan dy="-1.6">(t)</tspan></text>
<text x="429.40" y="774.80" class="yl" text-anchor="middle">--&gt; Time t</text>
<rect x="508.30" y="745.00" width="28.60" height="14.60" class="lg"/>
<line x1="510.10" y1="748.70" x2="525.00" y2="748.70" stroke="#000000" stroke-width="1.5"/>
<text transform="translate(526.80,750.45) scale(0.86,1)" class="lt">m=1</text>
<line x1="510.10" y1="754.80" x2="525.00" y2="754.80" stroke="#0000ff" stroke-width="1.5"/>
<text transform="translate(526.80,756.55) scale(0.86,1)" class="lt">m=3</text>
</svg>
</body></html>
